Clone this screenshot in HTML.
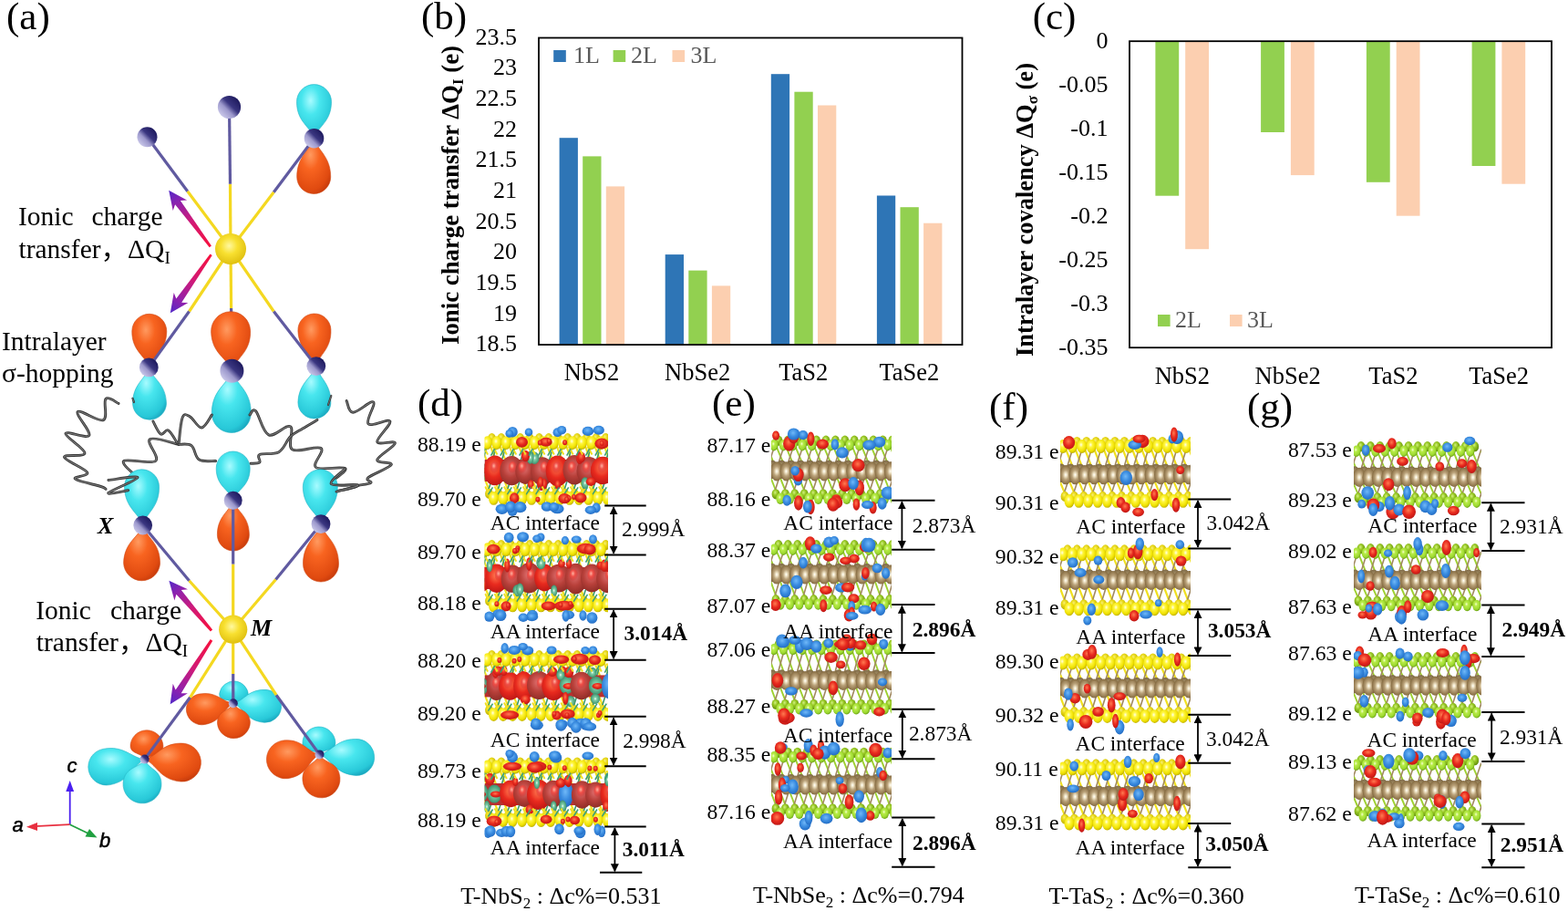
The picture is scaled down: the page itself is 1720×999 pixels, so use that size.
<!DOCTYPE html>
<html><head><meta charset="utf-8"><title>Figure</title>
<style>html,body{margin:0;padding:0;background:#fff;width:1720px;height:999px;overflow:hidden}svg{display:block}</style>
</head><body><svg width="1720" height="999" viewBox="0 0 1720 999">
<defs>
<radialGradient id="gY" cx="0.42" cy="0.38" r="0.62"><stop offset="0" stop-color="#ffffe8"/><stop offset="0.3" stop-color="#fff640"/><stop offset="0.75" stop-color="#f0e200"/><stop offset="1" stop-color="#c4b400"/></radialGradient>
<radialGradient id="gG" cx="0.42" cy="0.38" r="0.62"><stop offset="0" stop-color="#f4ffd0"/><stop offset="0.3" stop-color="#b8ec48"/><stop offset="0.75" stop-color="#9cd830"/><stop offset="1" stop-color="#6ea418"/></radialGradient>
<radialGradient id="gY2" cx="0.42" cy="0.35" r="0.65"><stop offset="0" stop-color="#f8f070"/><stop offset="0.4" stop-color="#e8d818"/><stop offset="1" stop-color="#bcae00"/></radialGradient>
<radialGradient id="gG2" cx="0.42" cy="0.35" r="0.65"><stop offset="0" stop-color="#d0f080"/><stop offset="0.4" stop-color="#98c824"/><stop offset="1" stop-color="#628c0c"/></radialGradient>
<radialGradient id="gT2" cx="0.5" cy="0.5" r="0.6"><stop offset="0" stop-color="#e8dcc0"/><stop offset="0.3" stop-color="#b09a70"/><stop offset="1" stop-color="#6e5a38"/></radialGradient>
<radialGradient id="gT" cx="0.5" cy="0.5" r="0.55"><stop offset="0" stop-color="#ffffff"/><stop offset="0.15" stop-color="#f2e8cc"/><stop offset="0.45" stop-color="#baa27a"/><stop offset="0.85" stop-color="#8c7248"/><stop offset="1" stop-color="#6a5430"/></radialGradient>
<radialGradient id="gR" cx="0.45" cy="0.4" r="0.65"><stop offset="0" stop-color="#ff7a50"/><stop offset="0.5" stop-color="#e82a1e"/><stop offset="1" stop-color="#b81414"/></radialGradient>
<radialGradient id="gR2" cx="0.4" cy="0.35" r="0.6"><stop offset="0" stop-color="#ffb0a0"/><stop offset="0.4" stop-color="#f05048"/><stop offset="1" stop-color="#d02020" stop-opacity="0"/></radialGradient>
<radialGradient id="gDR" cx="0.45" cy="0.4" r="0.65"><stop offset="0" stop-color="#e07070"/><stop offset="0.5" stop-color="#b8403a"/><stop offset="1" stop-color="#8a2a24"/></radialGradient>
<radialGradient id="gB" cx="0.45" cy="0.4" r="0.65"><stop offset="0" stop-color="#70b8f8"/><stop offset="0.5" stop-color="#3a8ce0"/><stop offset="1" stop-color="#2068c0"/></radialGradient>
<radialGradient id="gTeal" cx="0.5" cy="0.5" r="0.6"><stop offset="0" stop-color="#ffffff"/><stop offset="0.25" stop-color="#80d0a8"/><stop offset="1" stop-color="#2a8060"/></radialGradient>
<radialGradient id="gOr" cx="0.4" cy="0.3" r="0.75"><stop offset="0" stop-color="#ff9a60"/><stop offset="0.35" stop-color="#f86420"/><stop offset="0.85" stop-color="#e04a10"/><stop offset="1" stop-color="#c83c0c"/></radialGradient>
<radialGradient id="gCy" cx="0.4" cy="0.3" r="0.75"><stop offset="0" stop-color="#a8fbff"/><stop offset="0.35" stop-color="#48e6ee"/><stop offset="0.85" stop-color="#28c8d8"/><stop offset="1" stop-color="#1aa8c0"/></radialGradient>
<linearGradient id="gX" x1="0.15" y1="0.85" x2="0.85" y2="0.15"><stop offset="0" stop-color="#c8c6e8"/><stop offset="0.35" stop-color="#9c98cc"/><stop offset="0.6" stop-color="#3a3680"/><stop offset="1" stop-color="#1e1a5e"/></linearGradient>
<radialGradient id="gM" cx="0.45" cy="0.4" r="0.6"><stop offset="0" stop-color="#fff8a0"/><stop offset="0.45" stop-color="#f8e030"/><stop offset="1" stop-color="#e0c010"/></radialGradient>
<linearGradient id="gArrU" x1="0" y1="1" x2="0" y2="0"><stop offset="0" stop-color="#f01040"/><stop offset="1" stop-color="#5020d0"/></linearGradient>
<marker id="ah" viewBox="0 0 10 10" refX="9" refY="5" markerWidth="9" markerHeight="9" markerUnits="userSpaceOnUse" orient="auto-start-reverse"><path d="M0,0 L10,5 L0,10 z" fill="#000"/></marker>
</defs>

<text x="7" y="32" font-family="Liberation Serif, serif" font-size="43" font-weight="normal" text-anchor="start" >(a)</text>
<text x="462" y="32" font-family="Liberation Serif, serif" font-size="43" font-weight="normal" text-anchor="start" >(b)</text>
<text x="1132.7" y="32" font-family="Liberation Serif, serif" font-size="43" font-weight="normal" text-anchor="start" >(c)</text>
<text x="458" y="456" font-family="Liberation Serif, serif" font-size="43" font-weight="normal" text-anchor="start" >(d)</text>
<text x="781" y="456" font-family="Liberation Serif, serif" font-size="43" font-weight="normal" text-anchor="start" >(e)</text>
<text x="1085" y="460" font-family="Liberation Serif, serif" font-size="43" font-weight="normal" text-anchor="start" >(f)</text>
<text x="1368" y="460" font-family="Liberation Serif, serif" font-size="43" font-weight="normal" text-anchor="start" >(g)</text>
<rect x="613.6" y="151.2" width="20.3" height="226.8" fill="#2e75b6"/>
<rect x="639.2" y="171.4" width="20.3" height="206.6" fill="#92d050"/>
<rect x="664.8" y="204.4" width="20.3" height="173.6" fill="#fccfb0"/>
<rect x="729.7" y="279.1" width="20.3" height="98.9" fill="#2e75b6"/>
<rect x="755.3" y="296.6" width="20.3" height="81.4" fill="#92d050"/>
<rect x="780.9" y="313.4" width="20.3" height="64.6" fill="#fccfb0"/>
<rect x="845.8" y="81.2" width="20.3" height="296.8" fill="#2e75b6"/>
<rect x="871.4" y="100.7" width="20.3" height="277.3" fill="#92d050"/>
<rect x="897.0" y="115.5" width="20.3" height="262.5" fill="#fccfb0"/>
<rect x="961.9" y="214.5" width="20.3" height="163.5" fill="#2e75b6"/>
<rect x="987.5" y="227.2" width="20.3" height="150.8" fill="#92d050"/>
<rect x="1013.1" y="244.7" width="20.3" height="133.3" fill="#fccfb0"/>
<rect x="591" y="41.5" width="464.5" height="336.5" fill="none" stroke="#000" stroke-width="1.8"/>
<text x="567" y="385.2" font-family="Liberation Serif, serif" font-size="26" font-weight="normal" text-anchor="end" >18.5</text>
<text x="567" y="351.55" font-family="Liberation Serif, serif" font-size="26" font-weight="normal" text-anchor="end" >19</text>
<text x="567" y="317.9" font-family="Liberation Serif, serif" font-size="26" font-weight="normal" text-anchor="end" >19.5</text>
<text x="567" y="284.25" font-family="Liberation Serif, serif" font-size="26" font-weight="normal" text-anchor="end" >20</text>
<text x="567" y="250.6" font-family="Liberation Serif, serif" font-size="26" font-weight="normal" text-anchor="end" >20.5</text>
<text x="567" y="216.95" font-family="Liberation Serif, serif" font-size="26" font-weight="normal" text-anchor="end" >21</text>
<text x="567" y="183.29999999999998" font-family="Liberation Serif, serif" font-size="26" font-weight="normal" text-anchor="end" >21.5</text>
<text x="567" y="149.64999999999998" font-family="Liberation Serif, serif" font-size="26" font-weight="normal" text-anchor="end" >22</text>
<text x="567" y="116.00000000000001" font-family="Liberation Serif, serif" font-size="26" font-weight="normal" text-anchor="end" >22.5</text>
<text x="567" y="82.34999999999998" font-family="Liberation Serif, serif" font-size="26" font-weight="normal" text-anchor="end" >23</text>
<text x="567" y="48.7" font-family="Liberation Serif, serif" font-size="26" font-weight="normal" text-anchor="end" >23.5</text>
<text x="649.0625" y="417" font-family="Liberation Serif, serif" font-size="26.5" font-weight="normal" text-anchor="middle" >NbS2</text>
<text x="765.1875" y="417" font-family="Liberation Serif, serif" font-size="26.5" font-weight="normal" text-anchor="middle" >NbSe2</text>
<text x="881.3125" y="417" font-family="Liberation Serif, serif" font-size="26.5" font-weight="normal" text-anchor="middle" >TaS2</text>
<text x="997.4375" y="417" font-family="Liberation Serif, serif" font-size="26.5" font-weight="normal" text-anchor="middle" >TaSe2</text>
<rect x="607.2" y="55" width="13.6" height="13" fill="#2e75b6"/>
<text x="629" y="69" font-family="Liberation Serif, serif" font-size="26" font-weight="normal" text-anchor="start" fill="#595959">1L</text>
<rect x="672.6" y="55" width="13.6" height="13" fill="#92d050"/>
<text x="692" y="69" font-family="Liberation Serif, serif" font-size="26" font-weight="normal" text-anchor="start" fill="#595959">2L</text>
<rect x="737.5" y="55" width="13.6" height="13" fill="#fccfb0"/>
<text x="757.5" y="69" font-family="Liberation Serif, serif" font-size="26" font-weight="normal" text-anchor="start" fill="#595959">3L</text>
<text transform="translate(503,378) rotate(-90)" font-family="Liberation Serif, serif" font-size="26.8" font-weight="bold">Ionic charge transfer ΔQ<tspan font-size="17" dy="5">I</tspan><tspan dy="-5"> (e)</tspan></text>
<rect x="1267.4" y="45.2" width="25.8" height="169.5" fill="#92d050"/>
<rect x="1300.2" y="45.2" width="25.8" height="228.0" fill="#fccfb0"/>
<rect x="1383.1" y="45.2" width="25.8" height="99.8" fill="#92d050"/>
<rect x="1415.9" y="45.2" width="25.8" height="146.9" fill="#fccfb0"/>
<rect x="1498.9" y="45.2" width="25.8" height="154.6" fill="#92d050"/>
<rect x="1531.7" y="45.2" width="25.8" height="191.5" fill="#fccfb0"/>
<rect x="1614.6" y="45.2" width="25.8" height="136.8" fill="#92d050"/>
<rect x="1647.4" y="45.2" width="25.8" height="156.5" fill="#fccfb0"/>
<rect x="1239" y="45.2" width="463" height="336.0" fill="none" stroke="#000" stroke-width="1.8"/>
<text x="1215.5" y="53.2" font-family="Liberation Serif, serif" font-size="26" font-weight="normal" text-anchor="end" >0</text>
<text x="1215.5" y="101.20000000000002" font-family="Liberation Serif, serif" font-size="26" font-weight="normal" text-anchor="end" >-0.05</text>
<text x="1215.5" y="149.20000000000002" font-family="Liberation Serif, serif" font-size="26" font-weight="normal" text-anchor="end" >-0.1</text>
<text x="1215.5" y="197.20000000000005" font-family="Liberation Serif, serif" font-size="26" font-weight="normal" text-anchor="end" >-0.15</text>
<text x="1215.5" y="245.20000000000005" font-family="Liberation Serif, serif" font-size="26" font-weight="normal" text-anchor="end" >-0.2</text>
<text x="1215.5" y="293.20000000000005" font-family="Liberation Serif, serif" font-size="26" font-weight="normal" text-anchor="end" >-0.25</text>
<text x="1215.5" y="341.20000000000005" font-family="Liberation Serif, serif" font-size="26" font-weight="normal" text-anchor="end" >-0.3</text>
<text x="1215.5" y="389.20000000000005" font-family="Liberation Serif, serif" font-size="26" font-weight="normal" text-anchor="end" >-0.35</text>
<text x="1296.875" y="421" font-family="Liberation Serif, serif" font-size="26.5" font-weight="normal" text-anchor="middle" >NbS2</text>
<text x="1412.625" y="421" font-family="Liberation Serif, serif" font-size="26.5" font-weight="normal" text-anchor="middle" >NbSe2</text>
<text x="1528.375" y="421" font-family="Liberation Serif, serif" font-size="26.5" font-weight="normal" text-anchor="middle" >TaS2</text>
<text x="1644.125" y="421" font-family="Liberation Serif, serif" font-size="26.5" font-weight="normal" text-anchor="middle" >TaSe2</text>
<rect x="1270" y="345" width="13.6" height="13" fill="#92d050"/>
<text x="1289" y="359" font-family="Liberation Serif, serif" font-size="26" font-weight="normal" text-anchor="start" fill="#595959">2L</text>
<rect x="1349" y="345" width="13.6" height="13" fill="#fccfb0"/>
<text x="1368" y="359" font-family="Liberation Serif, serif" font-size="26" font-weight="normal" text-anchor="start" fill="#595959">3L</text>
<text transform="translate(1133,391) rotate(-90)" font-family="Liberation Serif, serif" font-size="26.5" font-weight="bold">Intralayer covalency ΔQ<tspan font-size="17" dy="5">σ</tspan><tspan dy="-5"> (e)</tspan></text>
<clipPath id="clipS1"><rect x="531.5" y="463.6" width="135.5" height="104.79999999999995"/></clipPath><g clip-path="url(#clipS1)">
<line x1="526.1" y1="485.6" x2="538.1" y2="516.0" stroke="#f0e020" stroke-width="2.2"/>
<line x1="528.1" y1="516.0" x2="540.1" y2="546.4" stroke="#f0e020" stroke-width="2.2"/>
<line x1="536.1" y1="483.6" x2="526.1" y2="516.0" stroke="#3a9a70" stroke-width="1.6"/>
<line x1="532.1" y1="516.0" x2="523.1" y2="544.4" stroke="#3a9a70" stroke-width="1.6"/>
<line x1="536.5" y1="485.6" x2="548.5" y2="516.0" stroke="#f0e020" stroke-width="2.2"/>
<line x1="538.5" y1="516.0" x2="550.5" y2="546.4" stroke="#f0e020" stroke-width="2.2"/>
<line x1="546.5" y1="483.6" x2="536.5" y2="516.0" stroke="#3a9a70" stroke-width="1.6"/>
<line x1="542.5" y1="516.0" x2="533.5" y2="544.4" stroke="#3a9a70" stroke-width="1.6"/>
<line x1="546.9" y1="485.6" x2="558.9" y2="516.0" stroke="#f0e020" stroke-width="2.2"/>
<line x1="548.9" y1="516.0" x2="560.9" y2="546.4" stroke="#f0e020" stroke-width="2.2"/>
<line x1="556.9" y1="483.6" x2="546.9" y2="516.0" stroke="#3a9a70" stroke-width="1.6"/>
<line x1="552.9" y1="516.0" x2="543.9" y2="544.4" stroke="#3a9a70" stroke-width="1.6"/>
<line x1="557.3" y1="485.6" x2="569.3" y2="516.0" stroke="#f0e020" stroke-width="2.2"/>
<line x1="559.3" y1="516.0" x2="571.3" y2="546.4" stroke="#f0e020" stroke-width="2.2"/>
<line x1="567.3" y1="483.6" x2="557.3" y2="516.0" stroke="#3a9a70" stroke-width="1.6"/>
<line x1="563.3" y1="516.0" x2="554.3" y2="544.4" stroke="#3a9a70" stroke-width="1.6"/>
<line x1="567.7" y1="485.6" x2="579.7" y2="516.0" stroke="#f0e020" stroke-width="2.2"/>
<line x1="569.7" y1="516.0" x2="581.7" y2="546.4" stroke="#f0e020" stroke-width="2.2"/>
<line x1="577.7" y1="483.6" x2="567.7" y2="516.0" stroke="#3a9a70" stroke-width="1.6"/>
<line x1="573.7" y1="516.0" x2="564.7" y2="544.4" stroke="#3a9a70" stroke-width="1.6"/>
<line x1="578.1" y1="485.6" x2="590.1" y2="516.0" stroke="#f0e020" stroke-width="2.2"/>
<line x1="580.1" y1="516.0" x2="592.1" y2="546.4" stroke="#f0e020" stroke-width="2.2"/>
<line x1="588.1" y1="483.6" x2="578.1" y2="516.0" stroke="#3a9a70" stroke-width="1.6"/>
<line x1="584.1" y1="516.0" x2="575.1" y2="544.4" stroke="#3a9a70" stroke-width="1.6"/>
<line x1="588.5" y1="485.6" x2="600.5" y2="516.0" stroke="#f0e020" stroke-width="2.2"/>
<line x1="590.5" y1="516.0" x2="602.5" y2="546.4" stroke="#f0e020" stroke-width="2.2"/>
<line x1="598.5" y1="483.6" x2="588.5" y2="516.0" stroke="#3a9a70" stroke-width="1.6"/>
<line x1="594.5" y1="516.0" x2="585.5" y2="544.4" stroke="#3a9a70" stroke-width="1.6"/>
<line x1="598.9" y1="485.6" x2="610.9" y2="516.0" stroke="#f0e020" stroke-width="2.2"/>
<line x1="600.9" y1="516.0" x2="612.9" y2="546.4" stroke="#f0e020" stroke-width="2.2"/>
<line x1="608.9" y1="483.6" x2="598.9" y2="516.0" stroke="#3a9a70" stroke-width="1.6"/>
<line x1="604.9" y1="516.0" x2="595.9" y2="544.4" stroke="#3a9a70" stroke-width="1.6"/>
<line x1="609.3" y1="485.6" x2="621.3" y2="516.0" stroke="#f0e020" stroke-width="2.2"/>
<line x1="611.3" y1="516.0" x2="623.3" y2="546.4" stroke="#f0e020" stroke-width="2.2"/>
<line x1="619.3" y1="483.6" x2="609.3" y2="516.0" stroke="#3a9a70" stroke-width="1.6"/>
<line x1="615.3" y1="516.0" x2="606.3" y2="544.4" stroke="#3a9a70" stroke-width="1.6"/>
<line x1="619.7" y1="485.6" x2="631.7" y2="516.0" stroke="#f0e020" stroke-width="2.2"/>
<line x1="621.7" y1="516.0" x2="633.7" y2="546.4" stroke="#f0e020" stroke-width="2.2"/>
<line x1="629.7" y1="483.6" x2="619.7" y2="516.0" stroke="#3a9a70" stroke-width="1.6"/>
<line x1="625.7" y1="516.0" x2="616.7" y2="544.4" stroke="#3a9a70" stroke-width="1.6"/>
<line x1="630.1" y1="485.6" x2="642.1" y2="516.0" stroke="#f0e020" stroke-width="2.2"/>
<line x1="632.1" y1="516.0" x2="644.1" y2="546.4" stroke="#f0e020" stroke-width="2.2"/>
<line x1="640.1" y1="483.6" x2="630.1" y2="516.0" stroke="#3a9a70" stroke-width="1.6"/>
<line x1="636.1" y1="516.0" x2="627.1" y2="544.4" stroke="#3a9a70" stroke-width="1.6"/>
<line x1="640.5" y1="485.6" x2="652.5" y2="516.0" stroke="#f0e020" stroke-width="2.2"/>
<line x1="642.5" y1="516.0" x2="654.5" y2="546.4" stroke="#f0e020" stroke-width="2.2"/>
<line x1="650.5" y1="483.6" x2="640.5" y2="516.0" stroke="#3a9a70" stroke-width="1.6"/>
<line x1="646.5" y1="516.0" x2="637.5" y2="544.4" stroke="#3a9a70" stroke-width="1.6"/>
<line x1="650.9" y1="485.6" x2="662.9" y2="516.0" stroke="#f0e020" stroke-width="2.2"/>
<line x1="652.9" y1="516.0" x2="664.9" y2="546.4" stroke="#f0e020" stroke-width="2.2"/>
<line x1="660.9" y1="483.6" x2="650.9" y2="516.0" stroke="#3a9a70" stroke-width="1.6"/>
<line x1="656.9" y1="516.0" x2="647.9" y2="544.4" stroke="#3a9a70" stroke-width="1.6"/>
<line x1="661.3" y1="485.6" x2="673.3" y2="516.0" stroke="#f0e020" stroke-width="2.2"/>
<line x1="663.3" y1="516.0" x2="675.3" y2="546.4" stroke="#f0e020" stroke-width="2.2"/>
<line x1="671.3" y1="483.6" x2="661.3" y2="516.0" stroke="#3a9a70" stroke-width="1.6"/>
<line x1="667.3" y1="516.0" x2="658.3" y2="544.4" stroke="#3a9a70" stroke-width="1.6"/>
<line x1="671.7" y1="485.6" x2="683.7" y2="516.0" stroke="#f0e020" stroke-width="2.2"/>
<line x1="673.7" y1="516.0" x2="685.7" y2="546.4" stroke="#f0e020" stroke-width="2.2"/>
<line x1="681.7" y1="483.6" x2="671.7" y2="516.0" stroke="#3a9a70" stroke-width="1.6"/>
<line x1="677.7" y1="516.0" x2="668.7" y2="544.4" stroke="#3a9a70" stroke-width="1.6"/>
<ellipse cx="539.5" cy="480.6" rx="4.4" ry="5.6" fill="url(#gY2)"/>
<ellipse cx="536.5" cy="541.4" rx="4.4" ry="5.6" fill="url(#gY2)"/>
<ellipse cx="549.9" cy="480.6" rx="4.4" ry="5.6" fill="url(#gY2)"/>
<ellipse cx="546.9" cy="541.4" rx="4.4" ry="5.6" fill="url(#gY2)"/>
<ellipse cx="560.3" cy="480.6" rx="4.4" ry="5.6" fill="url(#gY2)"/>
<ellipse cx="557.3" cy="541.4" rx="4.4" ry="5.6" fill="url(#gY2)"/>
<ellipse cx="570.7" cy="480.6" rx="4.4" ry="5.6" fill="url(#gY2)"/>
<ellipse cx="567.7" cy="541.4" rx="4.4" ry="5.6" fill="url(#gY2)"/>
<ellipse cx="581.1" cy="480.6" rx="4.4" ry="5.6" fill="url(#gY2)"/>
<ellipse cx="578.1" cy="541.4" rx="4.4" ry="5.6" fill="url(#gY2)"/>
<ellipse cx="591.5" cy="480.6" rx="4.4" ry="5.6" fill="url(#gY2)"/>
<ellipse cx="588.5" cy="541.4" rx="4.4" ry="5.6" fill="url(#gY2)"/>
<ellipse cx="601.9" cy="480.6" rx="4.4" ry="5.6" fill="url(#gY2)"/>
<ellipse cx="598.9" cy="541.4" rx="4.4" ry="5.6" fill="url(#gY2)"/>
<ellipse cx="612.3" cy="480.6" rx="4.4" ry="5.6" fill="url(#gY2)"/>
<ellipse cx="609.3" cy="541.4" rx="4.4" ry="5.6" fill="url(#gY2)"/>
<ellipse cx="622.7" cy="480.6" rx="4.4" ry="5.6" fill="url(#gY2)"/>
<ellipse cx="619.7" cy="541.4" rx="4.4" ry="5.6" fill="url(#gY2)"/>
<ellipse cx="633.1" cy="480.6" rx="4.4" ry="5.6" fill="url(#gY2)"/>
<ellipse cx="630.1" cy="541.4" rx="4.4" ry="5.6" fill="url(#gY2)"/>
<ellipse cx="643.5" cy="480.6" rx="4.4" ry="5.6" fill="url(#gY2)"/>
<ellipse cx="640.5" cy="541.4" rx="4.4" ry="5.6" fill="url(#gY2)"/>
<ellipse cx="653.9" cy="480.6" rx="4.4" ry="5.6" fill="url(#gY2)"/>
<ellipse cx="650.9" cy="541.4" rx="4.4" ry="5.6" fill="url(#gY2)"/>
<ellipse cx="664.3" cy="480.6" rx="4.4" ry="5.6" fill="url(#gY2)"/>
<ellipse cx="661.3" cy="541.4" rx="4.4" ry="5.6" fill="url(#gY2)"/>
<rect x="531.5" y="504" width="135.5" height="24" fill="#b83030"/>
<ellipse cx="527.5" cy="517.4" rx="8.0" ry="10.0" fill="url(#gTeal)"/>
<ellipse cx="528.6" cy="516.0" rx="6.0" ry="3.5" fill="url(#gR)"/>
<ellipse cx="542.8" cy="515.9" rx="12.6" ry="16.4" fill="url(#gR)"/>
<ellipse cx="542.7" cy="513.0" rx="5.0" ry="7.0" fill="url(#gR2)"/>
<ellipse cx="561.2" cy="516.2" rx="12.9" ry="16.1" fill="url(#gDR)"/>
<ellipse cx="562.6" cy="513.0" rx="5.0" ry="7.0" fill="url(#gR2)"/>
<ellipse cx="576.4" cy="516.8" rx="11.1" ry="14.1" fill="url(#gDR)"/>
<ellipse cx="573.4" cy="513.0" rx="5.0" ry="7.0" fill="url(#gR2)"/>
<ellipse cx="594.8" cy="516.9" rx="12.8" ry="15.6" fill="url(#gDR)"/>
<ellipse cx="597.4" cy="513.0" rx="5.0" ry="7.0" fill="url(#gR2)"/>
<ellipse cx="611.6" cy="516.4" rx="12.9" ry="16.9" fill="url(#gR)"/>
<ellipse cx="611.1" cy="513.0" rx="5.0" ry="7.0" fill="url(#gR2)"/>
<ellipse cx="630.1" cy="515.2" rx="12.6" ry="16.2" fill="url(#gDR)"/>
<ellipse cx="627.9" cy="513.0" rx="5.0" ry="7.0" fill="url(#gR2)"/>
<ellipse cx="645.8" cy="516.4" rx="13.3" ry="15.3" fill="url(#gDR)"/>
<ellipse cx="643.9" cy="513.0" rx="5.0" ry="7.0" fill="url(#gR2)"/>
<ellipse cx="661.2" cy="516.0" rx="13.4" ry="15.2" fill="url(#gR)"/>
<ellipse cx="661.1" cy="513.0" rx="5.0" ry="7.0" fill="url(#gR2)"/>
<ellipse cx="586.3" cy="502.2" rx="5.2" ry="6.8" fill="url(#gTeal)"/>
<ellipse cx="582.3" cy="531.3" rx="3.3" ry="5.0" fill="url(#gR)"/>
<ellipse cx="581.7" cy="501.7" rx="3.8" ry="7.0" fill="url(#gTeal)"/>
<ellipse cx="611.9" cy="531.2" rx="3.4" ry="5.2" fill="url(#gR)"/>
<ellipse cx="635.9" cy="502.0" rx="3.9" ry="7.0" fill="url(#gR)"/>
<ellipse cx="593.7" cy="531.3" rx="4.5" ry="6.7" fill="url(#gR)"/>
<ellipse cx="637.7" cy="501.4" rx="4.4" ry="5.8" fill="url(#gR)"/>
<ellipse cx="596.7" cy="530.8" rx="3.5" ry="6.0" fill="url(#gR)"/>
<ellipse cx="641.7" cy="529.7" rx="4.3" ry="6.4" fill="url(#gTeal)"/>
<ellipse cx="576.4" cy="500.0" rx="4.6" ry="6.2" fill="url(#gR)"/>
<ellipse cx="648.2" cy="528.2" rx="5.4" ry="4.7" fill="url(#gR)"/>
<ellipse cx="592.9" cy="529.2" rx="3.3" ry="6.4" fill="url(#gR)"/>
<line x1="530.1" y1="489.6" x2="535.1" y2="498.6" stroke="#f0e020" stroke-width="2"/>
<line x1="532.1" y1="533.4" x2="537.1" y2="542.4" stroke="#f0e020" stroke-width="2"/>
<line x1="533.1" y1="490.6" x2="528.1" y2="499.6" stroke="#3aa078" stroke-width="1.6"/>
<line x1="530.1" y1="534.4" x2="525.1" y2="542.4" stroke="#3aa078" stroke-width="1.6"/>
<line x1="540.5" y1="489.6" x2="545.5" y2="498.6" stroke="#f0e020" stroke-width="2"/>
<line x1="542.5" y1="533.4" x2="547.5" y2="542.4" stroke="#f0e020" stroke-width="2"/>
<line x1="543.5" y1="490.6" x2="538.5" y2="499.6" stroke="#3aa078" stroke-width="1.6"/>
<line x1="540.5" y1="534.4" x2="535.5" y2="542.4" stroke="#3aa078" stroke-width="1.6"/>
<line x1="550.9" y1="489.6" x2="555.9" y2="498.6" stroke="#f0e020" stroke-width="2"/>
<line x1="552.9" y1="533.4" x2="557.9" y2="542.4" stroke="#f0e020" stroke-width="2"/>
<line x1="553.9" y1="490.6" x2="548.9" y2="499.6" stroke="#3aa078" stroke-width="1.6"/>
<line x1="550.9" y1="534.4" x2="545.9" y2="542.4" stroke="#3aa078" stroke-width="1.6"/>
<line x1="561.3" y1="489.6" x2="566.3" y2="498.6" stroke="#f0e020" stroke-width="2"/>
<line x1="563.3" y1="533.4" x2="568.3" y2="542.4" stroke="#f0e020" stroke-width="2"/>
<line x1="564.3" y1="490.6" x2="559.3" y2="499.6" stroke="#3aa078" stroke-width="1.6"/>
<line x1="561.3" y1="534.4" x2="556.3" y2="542.4" stroke="#3aa078" stroke-width="1.6"/>
<line x1="571.7" y1="489.6" x2="576.7" y2="498.6" stroke="#f0e020" stroke-width="2"/>
<line x1="573.7" y1="533.4" x2="578.7" y2="542.4" stroke="#f0e020" stroke-width="2"/>
<line x1="574.7" y1="490.6" x2="569.7" y2="499.6" stroke="#3aa078" stroke-width="1.6"/>
<line x1="571.7" y1="534.4" x2="566.7" y2="542.4" stroke="#3aa078" stroke-width="1.6"/>
<line x1="582.1" y1="489.6" x2="587.1" y2="498.6" stroke="#f0e020" stroke-width="2"/>
<line x1="584.1" y1="533.4" x2="589.1" y2="542.4" stroke="#f0e020" stroke-width="2"/>
<line x1="585.1" y1="490.6" x2="580.1" y2="499.6" stroke="#3aa078" stroke-width="1.6"/>
<line x1="582.1" y1="534.4" x2="577.1" y2="542.4" stroke="#3aa078" stroke-width="1.6"/>
<line x1="592.5" y1="489.6" x2="597.5" y2="498.6" stroke="#f0e020" stroke-width="2"/>
<line x1="594.5" y1="533.4" x2="599.5" y2="542.4" stroke="#f0e020" stroke-width="2"/>
<line x1="595.5" y1="490.6" x2="590.5" y2="499.6" stroke="#3aa078" stroke-width="1.6"/>
<line x1="592.5" y1="534.4" x2="587.5" y2="542.4" stroke="#3aa078" stroke-width="1.6"/>
<line x1="602.9" y1="489.6" x2="607.9" y2="498.6" stroke="#f0e020" stroke-width="2"/>
<line x1="604.9" y1="533.4" x2="609.9" y2="542.4" stroke="#f0e020" stroke-width="2"/>
<line x1="605.9" y1="490.6" x2="600.9" y2="499.6" stroke="#3aa078" stroke-width="1.6"/>
<line x1="602.9" y1="534.4" x2="597.9" y2="542.4" stroke="#3aa078" stroke-width="1.6"/>
<line x1="613.3" y1="489.6" x2="618.3" y2="498.6" stroke="#f0e020" stroke-width="2"/>
<line x1="615.3" y1="533.4" x2="620.3" y2="542.4" stroke="#f0e020" stroke-width="2"/>
<line x1="616.3" y1="490.6" x2="611.3" y2="499.6" stroke="#3aa078" stroke-width="1.6"/>
<line x1="613.3" y1="534.4" x2="608.3" y2="542.4" stroke="#3aa078" stroke-width="1.6"/>
<line x1="623.7" y1="489.6" x2="628.7" y2="498.6" stroke="#f0e020" stroke-width="2"/>
<line x1="625.7" y1="533.4" x2="630.7" y2="542.4" stroke="#f0e020" stroke-width="2"/>
<line x1="626.7" y1="490.6" x2="621.7" y2="499.6" stroke="#3aa078" stroke-width="1.6"/>
<line x1="623.7" y1="534.4" x2="618.7" y2="542.4" stroke="#3aa078" stroke-width="1.6"/>
<line x1="634.1" y1="489.6" x2="639.1" y2="498.6" stroke="#f0e020" stroke-width="2"/>
<line x1="636.1" y1="533.4" x2="641.1" y2="542.4" stroke="#f0e020" stroke-width="2"/>
<line x1="637.1" y1="490.6" x2="632.1" y2="499.6" stroke="#3aa078" stroke-width="1.6"/>
<line x1="634.1" y1="534.4" x2="629.1" y2="542.4" stroke="#3aa078" stroke-width="1.6"/>
<line x1="644.5" y1="489.6" x2="649.5" y2="498.6" stroke="#f0e020" stroke-width="2"/>
<line x1="646.5" y1="533.4" x2="651.5" y2="542.4" stroke="#f0e020" stroke-width="2"/>
<line x1="647.5" y1="490.6" x2="642.5" y2="499.6" stroke="#3aa078" stroke-width="1.6"/>
<line x1="644.5" y1="534.4" x2="639.5" y2="542.4" stroke="#3aa078" stroke-width="1.6"/>
<line x1="654.9" y1="489.6" x2="659.9" y2="498.6" stroke="#f0e020" stroke-width="2"/>
<line x1="656.9" y1="533.4" x2="661.9" y2="542.4" stroke="#f0e020" stroke-width="2"/>
<line x1="657.9" y1="490.6" x2="652.9" y2="499.6" stroke="#3aa078" stroke-width="1.6"/>
<line x1="654.9" y1="534.4" x2="649.9" y2="542.4" stroke="#3aa078" stroke-width="1.6"/>
<line x1="665.3" y1="489.6" x2="670.3" y2="498.6" stroke="#f0e020" stroke-width="2"/>
<line x1="667.3" y1="533.4" x2="672.3" y2="542.4" stroke="#f0e020" stroke-width="2"/>
<line x1="668.3" y1="490.6" x2="663.3" y2="499.6" stroke="#3aa078" stroke-width="1.6"/>
<line x1="665.3" y1="534.4" x2="660.3" y2="542.4" stroke="#3aa078" stroke-width="1.6"/>
<line x1="675.7" y1="489.6" x2="680.7" y2="498.6" stroke="#f0e020" stroke-width="2"/>
<line x1="677.7" y1="533.4" x2="682.7" y2="542.4" stroke="#f0e020" stroke-width="2"/>
<line x1="678.7" y1="490.6" x2="673.7" y2="499.6" stroke="#3aa078" stroke-width="1.6"/>
<line x1="675.7" y1="534.4" x2="670.7" y2="542.4" stroke="#3aa078" stroke-width="1.6"/>
<ellipse cx="534.5" cy="485.6" rx="5.5" ry="7.4" fill="url(#gY)"/>
<ellipse cx="544.9" cy="485.6" rx="5.5" ry="7.4" fill="url(#gY)"/>
<ellipse cx="555.3" cy="485.6" rx="5.5" ry="7.4" fill="url(#gY)"/>
<ellipse cx="565.7" cy="485.6" rx="5.5" ry="7.4" fill="url(#gY)"/>
<ellipse cx="576.1" cy="485.6" rx="5.5" ry="7.4" fill="url(#gY)"/>
<ellipse cx="586.5" cy="485.6" rx="5.5" ry="7.4" fill="url(#gY)"/>
<ellipse cx="596.9" cy="485.6" rx="5.5" ry="7.4" fill="url(#gY)"/>
<ellipse cx="607.3" cy="485.6" rx="5.5" ry="7.4" fill="url(#gY)"/>
<ellipse cx="617.7" cy="485.6" rx="5.5" ry="7.4" fill="url(#gY)"/>
<ellipse cx="628.1" cy="485.6" rx="5.5" ry="7.4" fill="url(#gY)"/>
<ellipse cx="638.5" cy="485.6" rx="5.5" ry="7.4" fill="url(#gY)"/>
<ellipse cx="648.9" cy="485.6" rx="5.5" ry="7.4" fill="url(#gY)"/>
<ellipse cx="659.3" cy="485.6" rx="5.5" ry="7.4" fill="url(#gY)"/>
<ellipse cx="541.5" cy="546.4" rx="5.5" ry="7.4" fill="url(#gY)"/>
<ellipse cx="551.9" cy="546.4" rx="5.5" ry="7.4" fill="url(#gY)"/>
<ellipse cx="562.3" cy="546.4" rx="5.5" ry="7.4" fill="url(#gY)"/>
<ellipse cx="572.7" cy="546.4" rx="5.5" ry="7.4" fill="url(#gY)"/>
<ellipse cx="583.1" cy="546.4" rx="5.5" ry="7.4" fill="url(#gY)"/>
<ellipse cx="593.5" cy="546.4" rx="5.5" ry="7.4" fill="url(#gY)"/>
<ellipse cx="603.9" cy="546.4" rx="5.5" ry="7.4" fill="url(#gY)"/>
<ellipse cx="614.3" cy="546.4" rx="5.5" ry="7.4" fill="url(#gY)"/>
<ellipse cx="624.7" cy="546.4" rx="5.5" ry="7.4" fill="url(#gY)"/>
<ellipse cx="635.1" cy="546.4" rx="5.5" ry="7.4" fill="url(#gY)"/>
<ellipse cx="645.5" cy="546.4" rx="5.5" ry="7.4" fill="url(#gY)"/>
<ellipse cx="655.9" cy="546.4" rx="5.5" ry="7.4" fill="url(#gY)"/>
<ellipse cx="666.3" cy="546.4" rx="5.5" ry="7.4" fill="url(#gY)"/>
<ellipse cx="572.5" cy="484.9" rx="6.5" ry="5.9" fill="url(#gR)"/>
<ellipse cx="619.2" cy="546.7" rx="6.8" ry="5.6" fill="url(#gR)"/>
<ellipse cx="598.8" cy="484.8" rx="6.9" ry="5.0" fill="url(#gR)"/>
<ellipse cx="637.0" cy="545.9" rx="6.5" ry="5.6" fill="url(#gR)"/>
<ellipse cx="660.0" cy="486.5" rx="7.6" ry="6.0" fill="url(#gR)"/>
<ellipse cx="564.2" cy="546.2" rx="5.2" ry="5.9" fill="url(#gR)"/>
<ellipse cx="592.3" cy="485.6" rx="2.5" ry="3.0" fill="url(#gR)"/>
<ellipse cx="589.9" cy="547.7" rx="2.5" ry="3.0" fill="url(#gR)"/>
<ellipse cx="660.1" cy="486.1" rx="2.5" ry="3.0" fill="url(#gR)"/>
<ellipse cx="624.1" cy="546.2" rx="2.5" ry="3.0" fill="url(#gR)"/>
<ellipse cx="602.3" cy="483.7" rx="2.5" ry="3.0" fill="url(#gR)"/>
<ellipse cx="621.6" cy="547.6" rx="2.5" ry="3.0" fill="url(#gR)"/>
<ellipse cx="619.6" cy="485.3" rx="2.5" ry="3.0" fill="url(#gR)"/>
<ellipse cx="629.5" cy="544.9" rx="2.5" ry="3.0" fill="url(#gR)"/>
<ellipse cx="561.4" cy="555.6" rx="4.2" ry="4.7" fill="url(#gB)"/>
<ellipse cx="654.1" cy="556.9" rx="4.6" ry="5.6" fill="url(#gB)"/>
<ellipse cx="550.6" cy="558.2" rx="7.0" ry="5.7" fill="url(#gB)"/>
<ellipse cx="562.1" cy="559.9" rx="5.6" ry="6.2" fill="url(#gB)"/>
<ellipse cx="647.9" cy="559.3" rx="6.2" ry="4.6" fill="url(#gB)"/>
<ellipse cx="559.9" cy="555.9" rx="6.0" ry="6.3" fill="url(#gB)"/>
<ellipse cx="611.3" cy="557.9" rx="7.3" ry="5.3" fill="url(#gB)"/>
<ellipse cx="599.8" cy="555.5" rx="6.1" ry="5.3" fill="url(#gB)"/>
<ellipse cx="570.5" cy="556.2" rx="7.0" ry="6.1" fill="url(#gB)"/>
<ellipse cx="607.6" cy="556.1" rx="5.5" ry="5.0" fill="url(#gB)"/>
<ellipse cx="562.2" cy="473.7" rx="5.6" ry="5.8" fill="url(#gB)"/>
<ellipse cx="644.9" cy="472.9" rx="6.3" ry="5.1" fill="url(#gB)"/>
<ellipse cx="558.8" cy="475.4" rx="4.4" ry="4.3" fill="url(#gB)"/>
<ellipse cx="611.5" cy="474.3" rx="5.0" ry="5.0" fill="url(#gB)"/>
<ellipse cx="580.0" cy="473.9" rx="4.3" ry="4.5" fill="url(#gB)"/>
<ellipse cx="656.8" cy="471.7" rx="6.1" ry="5.0" fill="url(#gB)"/>
<ellipse cx="616.2" cy="471.7" rx="5.0" ry="4.8" fill="url(#gB)"/>
</g>
<clipPath id="clipS2"><rect x="531.5" y="580.7" width="135.5" height="105.19999999999993"/></clipPath><g clip-path="url(#clipS2)">
<line x1="526.1" y1="602.7" x2="538.1" y2="634.0" stroke="#f0e020" stroke-width="2.2"/>
<line x1="528.1" y1="634.0" x2="540.1" y2="663.9" stroke="#f0e020" stroke-width="2.2"/>
<line x1="536.1" y1="600.7" x2="526.1" y2="634.0" stroke="#3a9a70" stroke-width="1.6"/>
<line x1="532.1" y1="634.0" x2="523.1" y2="661.9" stroke="#3a9a70" stroke-width="1.6"/>
<line x1="536.5" y1="602.7" x2="548.5" y2="634.0" stroke="#f0e020" stroke-width="2.2"/>
<line x1="538.5" y1="634.0" x2="550.5" y2="663.9" stroke="#f0e020" stroke-width="2.2"/>
<line x1="546.5" y1="600.7" x2="536.5" y2="634.0" stroke="#3a9a70" stroke-width="1.6"/>
<line x1="542.5" y1="634.0" x2="533.5" y2="661.9" stroke="#3a9a70" stroke-width="1.6"/>
<line x1="546.9" y1="602.7" x2="558.9" y2="634.0" stroke="#f0e020" stroke-width="2.2"/>
<line x1="548.9" y1="634.0" x2="560.9" y2="663.9" stroke="#f0e020" stroke-width="2.2"/>
<line x1="556.9" y1="600.7" x2="546.9" y2="634.0" stroke="#3a9a70" stroke-width="1.6"/>
<line x1="552.9" y1="634.0" x2="543.9" y2="661.9" stroke="#3a9a70" stroke-width="1.6"/>
<line x1="557.3" y1="602.7" x2="569.3" y2="634.0" stroke="#f0e020" stroke-width="2.2"/>
<line x1="559.3" y1="634.0" x2="571.3" y2="663.9" stroke="#f0e020" stroke-width="2.2"/>
<line x1="567.3" y1="600.7" x2="557.3" y2="634.0" stroke="#3a9a70" stroke-width="1.6"/>
<line x1="563.3" y1="634.0" x2="554.3" y2="661.9" stroke="#3a9a70" stroke-width="1.6"/>
<line x1="567.7" y1="602.7" x2="579.7" y2="634.0" stroke="#f0e020" stroke-width="2.2"/>
<line x1="569.7" y1="634.0" x2="581.7" y2="663.9" stroke="#f0e020" stroke-width="2.2"/>
<line x1="577.7" y1="600.7" x2="567.7" y2="634.0" stroke="#3a9a70" stroke-width="1.6"/>
<line x1="573.7" y1="634.0" x2="564.7" y2="661.9" stroke="#3a9a70" stroke-width="1.6"/>
<line x1="578.1" y1="602.7" x2="590.1" y2="634.0" stroke="#f0e020" stroke-width="2.2"/>
<line x1="580.1" y1="634.0" x2="592.1" y2="663.9" stroke="#f0e020" stroke-width="2.2"/>
<line x1="588.1" y1="600.7" x2="578.1" y2="634.0" stroke="#3a9a70" stroke-width="1.6"/>
<line x1="584.1" y1="634.0" x2="575.1" y2="661.9" stroke="#3a9a70" stroke-width="1.6"/>
<line x1="588.5" y1="602.7" x2="600.5" y2="634.0" stroke="#f0e020" stroke-width="2.2"/>
<line x1="590.5" y1="634.0" x2="602.5" y2="663.9" stroke="#f0e020" stroke-width="2.2"/>
<line x1="598.5" y1="600.7" x2="588.5" y2="634.0" stroke="#3a9a70" stroke-width="1.6"/>
<line x1="594.5" y1="634.0" x2="585.5" y2="661.9" stroke="#3a9a70" stroke-width="1.6"/>
<line x1="598.9" y1="602.7" x2="610.9" y2="634.0" stroke="#f0e020" stroke-width="2.2"/>
<line x1="600.9" y1="634.0" x2="612.9" y2="663.9" stroke="#f0e020" stroke-width="2.2"/>
<line x1="608.9" y1="600.7" x2="598.9" y2="634.0" stroke="#3a9a70" stroke-width="1.6"/>
<line x1="604.9" y1="634.0" x2="595.9" y2="661.9" stroke="#3a9a70" stroke-width="1.6"/>
<line x1="609.3" y1="602.7" x2="621.3" y2="634.0" stroke="#f0e020" stroke-width="2.2"/>
<line x1="611.3" y1="634.0" x2="623.3" y2="663.9" stroke="#f0e020" stroke-width="2.2"/>
<line x1="619.3" y1="600.7" x2="609.3" y2="634.0" stroke="#3a9a70" stroke-width="1.6"/>
<line x1="615.3" y1="634.0" x2="606.3" y2="661.9" stroke="#3a9a70" stroke-width="1.6"/>
<line x1="619.7" y1="602.7" x2="631.7" y2="634.0" stroke="#f0e020" stroke-width="2.2"/>
<line x1="621.7" y1="634.0" x2="633.7" y2="663.9" stroke="#f0e020" stroke-width="2.2"/>
<line x1="629.7" y1="600.7" x2="619.7" y2="634.0" stroke="#3a9a70" stroke-width="1.6"/>
<line x1="625.7" y1="634.0" x2="616.7" y2="661.9" stroke="#3a9a70" stroke-width="1.6"/>
<line x1="630.1" y1="602.7" x2="642.1" y2="634.0" stroke="#f0e020" stroke-width="2.2"/>
<line x1="632.1" y1="634.0" x2="644.1" y2="663.9" stroke="#f0e020" stroke-width="2.2"/>
<line x1="640.1" y1="600.7" x2="630.1" y2="634.0" stroke="#3a9a70" stroke-width="1.6"/>
<line x1="636.1" y1="634.0" x2="627.1" y2="661.9" stroke="#3a9a70" stroke-width="1.6"/>
<line x1="640.5" y1="602.7" x2="652.5" y2="634.0" stroke="#f0e020" stroke-width="2.2"/>
<line x1="642.5" y1="634.0" x2="654.5" y2="663.9" stroke="#f0e020" stroke-width="2.2"/>
<line x1="650.5" y1="600.7" x2="640.5" y2="634.0" stroke="#3a9a70" stroke-width="1.6"/>
<line x1="646.5" y1="634.0" x2="637.5" y2="661.9" stroke="#3a9a70" stroke-width="1.6"/>
<line x1="650.9" y1="602.7" x2="662.9" y2="634.0" stroke="#f0e020" stroke-width="2.2"/>
<line x1="652.9" y1="634.0" x2="664.9" y2="663.9" stroke="#f0e020" stroke-width="2.2"/>
<line x1="660.9" y1="600.7" x2="650.9" y2="634.0" stroke="#3a9a70" stroke-width="1.6"/>
<line x1="656.9" y1="634.0" x2="647.9" y2="661.9" stroke="#3a9a70" stroke-width="1.6"/>
<line x1="661.3" y1="602.7" x2="673.3" y2="634.0" stroke="#f0e020" stroke-width="2.2"/>
<line x1="663.3" y1="634.0" x2="675.3" y2="663.9" stroke="#f0e020" stroke-width="2.2"/>
<line x1="671.3" y1="600.7" x2="661.3" y2="634.0" stroke="#3a9a70" stroke-width="1.6"/>
<line x1="667.3" y1="634.0" x2="658.3" y2="661.9" stroke="#3a9a70" stroke-width="1.6"/>
<line x1="671.7" y1="602.7" x2="683.7" y2="634.0" stroke="#f0e020" stroke-width="2.2"/>
<line x1="673.7" y1="634.0" x2="685.7" y2="663.9" stroke="#f0e020" stroke-width="2.2"/>
<line x1="681.7" y1="600.7" x2="671.7" y2="634.0" stroke="#3a9a70" stroke-width="1.6"/>
<line x1="677.7" y1="634.0" x2="668.7" y2="661.9" stroke="#3a9a70" stroke-width="1.6"/>
<ellipse cx="539.5" cy="597.7" rx="4.4" ry="5.6" fill="url(#gY2)"/>
<ellipse cx="536.5" cy="658.9" rx="4.4" ry="5.6" fill="url(#gY2)"/>
<ellipse cx="549.9" cy="597.7" rx="4.4" ry="5.6" fill="url(#gY2)"/>
<ellipse cx="546.9" cy="658.9" rx="4.4" ry="5.6" fill="url(#gY2)"/>
<ellipse cx="560.3" cy="597.7" rx="4.4" ry="5.6" fill="url(#gY2)"/>
<ellipse cx="557.3" cy="658.9" rx="4.4" ry="5.6" fill="url(#gY2)"/>
<ellipse cx="570.7" cy="597.7" rx="4.4" ry="5.6" fill="url(#gY2)"/>
<ellipse cx="567.7" cy="658.9" rx="4.4" ry="5.6" fill="url(#gY2)"/>
<ellipse cx="581.1" cy="597.7" rx="4.4" ry="5.6" fill="url(#gY2)"/>
<ellipse cx="578.1" cy="658.9" rx="4.4" ry="5.6" fill="url(#gY2)"/>
<ellipse cx="591.5" cy="597.7" rx="4.4" ry="5.6" fill="url(#gY2)"/>
<ellipse cx="588.5" cy="658.9" rx="4.4" ry="5.6" fill="url(#gY2)"/>
<ellipse cx="601.9" cy="597.7" rx="4.4" ry="5.6" fill="url(#gY2)"/>
<ellipse cx="598.9" cy="658.9" rx="4.4" ry="5.6" fill="url(#gY2)"/>
<ellipse cx="612.3" cy="597.7" rx="4.4" ry="5.6" fill="url(#gY2)"/>
<ellipse cx="609.3" cy="658.9" rx="4.4" ry="5.6" fill="url(#gY2)"/>
<ellipse cx="622.7" cy="597.7" rx="4.4" ry="5.6" fill="url(#gY2)"/>
<ellipse cx="619.7" cy="658.9" rx="4.4" ry="5.6" fill="url(#gY2)"/>
<ellipse cx="633.1" cy="597.7" rx="4.4" ry="5.6" fill="url(#gY2)"/>
<ellipse cx="630.1" cy="658.9" rx="4.4" ry="5.6" fill="url(#gY2)"/>
<ellipse cx="643.5" cy="597.7" rx="4.4" ry="5.6" fill="url(#gY2)"/>
<ellipse cx="640.5" cy="658.9" rx="4.4" ry="5.6" fill="url(#gY2)"/>
<ellipse cx="653.9" cy="597.7" rx="4.4" ry="5.6" fill="url(#gY2)"/>
<ellipse cx="650.9" cy="658.9" rx="4.4" ry="5.6" fill="url(#gY2)"/>
<ellipse cx="664.3" cy="597.7" rx="4.4" ry="5.6" fill="url(#gY2)"/>
<ellipse cx="661.3" cy="658.9" rx="4.4" ry="5.6" fill="url(#gY2)"/>
<rect x="531.5" y="622" width="135.5" height="24" fill="#b83030"/>
<ellipse cx="527.5" cy="634.9" rx="11.1" ry="14.3" fill="url(#gR)"/>
<ellipse cx="528.9" cy="631.0" rx="5.0" ry="7.0" fill="url(#gR2)"/>
<ellipse cx="544.8" cy="634.2" rx="12.5" ry="15.7" fill="url(#gR)"/>
<ellipse cx="547.8" cy="631.0" rx="5.0" ry="7.0" fill="url(#gR2)"/>
<ellipse cx="562.0" cy="634.7" rx="12.3" ry="15.1" fill="url(#gDR)"/>
<ellipse cx="562.1" cy="631.0" rx="5.0" ry="7.0" fill="url(#gR2)"/>
<ellipse cx="580.5" cy="633.7" rx="13.3" ry="16.7" fill="url(#gDR)"/>
<ellipse cx="582.9" cy="631.0" rx="5.0" ry="7.0" fill="url(#gR2)"/>
<ellipse cx="597.2" cy="633.5" rx="11.1" ry="15.0" fill="url(#gR)"/>
<ellipse cx="597.2" cy="631.0" rx="5.0" ry="7.0" fill="url(#gR2)"/>
<ellipse cx="613.0" cy="634.1" rx="13.5" ry="15.3" fill="url(#gDR)"/>
<ellipse cx="614.4" cy="631.0" rx="5.0" ry="7.0" fill="url(#gR2)"/>
<ellipse cx="631.5" cy="634.6" rx="11.9" ry="16.9" fill="url(#gDR)"/>
<ellipse cx="629.5" cy="631.0" rx="5.0" ry="7.0" fill="url(#gR2)"/>
<ellipse cx="649.3" cy="633.9" rx="12.3" ry="15.5" fill="url(#gDR)"/>
<ellipse cx="649.3" cy="631.0" rx="5.0" ry="7.0" fill="url(#gR2)"/>
<ellipse cx="667.4" cy="634.8" rx="13.2" ry="15.4" fill="url(#gDR)"/>
<ellipse cx="668.8" cy="631.0" rx="5.0" ry="7.0" fill="url(#gR2)"/>
<ellipse cx="593.4" cy="617.3" rx="5.0" ry="7.0" fill="url(#gTeal)"/>
<ellipse cx="567.8" cy="647.5" rx="5.4" ry="6.6" fill="url(#gTeal)"/>
<ellipse cx="607.7" cy="647.6" rx="3.5" ry="6.0" fill="url(#gTeal)"/>
<ellipse cx="616.0" cy="618.1" rx="3.9" ry="4.5" fill="url(#gR)"/>
<ellipse cx="666.6" cy="621.7" rx="4.6" ry="5.3" fill="url(#gR)"/>
<ellipse cx="624.0" cy="618.2" rx="3.3" ry="5.3" fill="url(#gR)"/>
<ellipse cx="659.4" cy="619.9" rx="4.8" ry="4.6" fill="url(#gR)"/>
<ellipse cx="580.3" cy="618.6" rx="3.2" ry="7.4" fill="url(#gR)"/>
<ellipse cx="537.0" cy="620.1" rx="3.3" ry="7.3" fill="url(#gTeal)"/>
<ellipse cx="556.4" cy="620.1" rx="3.1" ry="7.5" fill="url(#gR)"/>
<ellipse cx="663.0" cy="620.3" rx="4.5" ry="6.7" fill="url(#gR)"/>
<ellipse cx="570.3" cy="646.2" rx="4.1" ry="6.8" fill="url(#gTeal)"/>
<line x1="530.1" y1="606.7" x2="535.1" y2="615.7" stroke="#f0e020" stroke-width="2"/>
<line x1="532.1" y1="650.9" x2="537.1" y2="659.9" stroke="#f0e020" stroke-width="2"/>
<line x1="533.1" y1="607.7" x2="528.1" y2="616.7" stroke="#3aa078" stroke-width="1.6"/>
<line x1="530.1" y1="651.9" x2="525.1" y2="659.9" stroke="#3aa078" stroke-width="1.6"/>
<line x1="540.5" y1="606.7" x2="545.5" y2="615.7" stroke="#f0e020" stroke-width="2"/>
<line x1="542.5" y1="650.9" x2="547.5" y2="659.9" stroke="#f0e020" stroke-width="2"/>
<line x1="543.5" y1="607.7" x2="538.5" y2="616.7" stroke="#3aa078" stroke-width="1.6"/>
<line x1="540.5" y1="651.9" x2="535.5" y2="659.9" stroke="#3aa078" stroke-width="1.6"/>
<line x1="550.9" y1="606.7" x2="555.9" y2="615.7" stroke="#f0e020" stroke-width="2"/>
<line x1="552.9" y1="650.9" x2="557.9" y2="659.9" stroke="#f0e020" stroke-width="2"/>
<line x1="553.9" y1="607.7" x2="548.9" y2="616.7" stroke="#3aa078" stroke-width="1.6"/>
<line x1="550.9" y1="651.9" x2="545.9" y2="659.9" stroke="#3aa078" stroke-width="1.6"/>
<line x1="561.3" y1="606.7" x2="566.3" y2="615.7" stroke="#f0e020" stroke-width="2"/>
<line x1="563.3" y1="650.9" x2="568.3" y2="659.9" stroke="#f0e020" stroke-width="2"/>
<line x1="564.3" y1="607.7" x2="559.3" y2="616.7" stroke="#3aa078" stroke-width="1.6"/>
<line x1="561.3" y1="651.9" x2="556.3" y2="659.9" stroke="#3aa078" stroke-width="1.6"/>
<line x1="571.7" y1="606.7" x2="576.7" y2="615.7" stroke="#f0e020" stroke-width="2"/>
<line x1="573.7" y1="650.9" x2="578.7" y2="659.9" stroke="#f0e020" stroke-width="2"/>
<line x1="574.7" y1="607.7" x2="569.7" y2="616.7" stroke="#3aa078" stroke-width="1.6"/>
<line x1="571.7" y1="651.9" x2="566.7" y2="659.9" stroke="#3aa078" stroke-width="1.6"/>
<line x1="582.1" y1="606.7" x2="587.1" y2="615.7" stroke="#f0e020" stroke-width="2"/>
<line x1="584.1" y1="650.9" x2="589.1" y2="659.9" stroke="#f0e020" stroke-width="2"/>
<line x1="585.1" y1="607.7" x2="580.1" y2="616.7" stroke="#3aa078" stroke-width="1.6"/>
<line x1="582.1" y1="651.9" x2="577.1" y2="659.9" stroke="#3aa078" stroke-width="1.6"/>
<line x1="592.5" y1="606.7" x2="597.5" y2="615.7" stroke="#f0e020" stroke-width="2"/>
<line x1="594.5" y1="650.9" x2="599.5" y2="659.9" stroke="#f0e020" stroke-width="2"/>
<line x1="595.5" y1="607.7" x2="590.5" y2="616.7" stroke="#3aa078" stroke-width="1.6"/>
<line x1="592.5" y1="651.9" x2="587.5" y2="659.9" stroke="#3aa078" stroke-width="1.6"/>
<line x1="602.9" y1="606.7" x2="607.9" y2="615.7" stroke="#f0e020" stroke-width="2"/>
<line x1="604.9" y1="650.9" x2="609.9" y2="659.9" stroke="#f0e020" stroke-width="2"/>
<line x1="605.9" y1="607.7" x2="600.9" y2="616.7" stroke="#3aa078" stroke-width="1.6"/>
<line x1="602.9" y1="651.9" x2="597.9" y2="659.9" stroke="#3aa078" stroke-width="1.6"/>
<line x1="613.3" y1="606.7" x2="618.3" y2="615.7" stroke="#f0e020" stroke-width="2"/>
<line x1="615.3" y1="650.9" x2="620.3" y2="659.9" stroke="#f0e020" stroke-width="2"/>
<line x1="616.3" y1="607.7" x2="611.3" y2="616.7" stroke="#3aa078" stroke-width="1.6"/>
<line x1="613.3" y1="651.9" x2="608.3" y2="659.9" stroke="#3aa078" stroke-width="1.6"/>
<line x1="623.7" y1="606.7" x2="628.7" y2="615.7" stroke="#f0e020" stroke-width="2"/>
<line x1="625.7" y1="650.9" x2="630.7" y2="659.9" stroke="#f0e020" stroke-width="2"/>
<line x1="626.7" y1="607.7" x2="621.7" y2="616.7" stroke="#3aa078" stroke-width="1.6"/>
<line x1="623.7" y1="651.9" x2="618.7" y2="659.9" stroke="#3aa078" stroke-width="1.6"/>
<line x1="634.1" y1="606.7" x2="639.1" y2="615.7" stroke="#f0e020" stroke-width="2"/>
<line x1="636.1" y1="650.9" x2="641.1" y2="659.9" stroke="#f0e020" stroke-width="2"/>
<line x1="637.1" y1="607.7" x2="632.1" y2="616.7" stroke="#3aa078" stroke-width="1.6"/>
<line x1="634.1" y1="651.9" x2="629.1" y2="659.9" stroke="#3aa078" stroke-width="1.6"/>
<line x1="644.5" y1="606.7" x2="649.5" y2="615.7" stroke="#f0e020" stroke-width="2"/>
<line x1="646.5" y1="650.9" x2="651.5" y2="659.9" stroke="#f0e020" stroke-width="2"/>
<line x1="647.5" y1="607.7" x2="642.5" y2="616.7" stroke="#3aa078" stroke-width="1.6"/>
<line x1="644.5" y1="651.9" x2="639.5" y2="659.9" stroke="#3aa078" stroke-width="1.6"/>
<line x1="654.9" y1="606.7" x2="659.9" y2="615.7" stroke="#f0e020" stroke-width="2"/>
<line x1="656.9" y1="650.9" x2="661.9" y2="659.9" stroke="#f0e020" stroke-width="2"/>
<line x1="657.9" y1="607.7" x2="652.9" y2="616.7" stroke="#3aa078" stroke-width="1.6"/>
<line x1="654.9" y1="651.9" x2="649.9" y2="659.9" stroke="#3aa078" stroke-width="1.6"/>
<line x1="665.3" y1="606.7" x2="670.3" y2="615.7" stroke="#f0e020" stroke-width="2"/>
<line x1="667.3" y1="650.9" x2="672.3" y2="659.9" stroke="#f0e020" stroke-width="2"/>
<line x1="668.3" y1="607.7" x2="663.3" y2="616.7" stroke="#3aa078" stroke-width="1.6"/>
<line x1="665.3" y1="651.9" x2="660.3" y2="659.9" stroke="#3aa078" stroke-width="1.6"/>
<line x1="675.7" y1="606.7" x2="680.7" y2="615.7" stroke="#f0e020" stroke-width="2"/>
<line x1="677.7" y1="650.9" x2="682.7" y2="659.9" stroke="#f0e020" stroke-width="2"/>
<line x1="678.7" y1="607.7" x2="673.7" y2="616.7" stroke="#3aa078" stroke-width="1.6"/>
<line x1="675.7" y1="651.9" x2="670.7" y2="659.9" stroke="#3aa078" stroke-width="1.6"/>
<ellipse cx="534.5" cy="602.7" rx="5.5" ry="7.4" fill="url(#gY)"/>
<ellipse cx="544.9" cy="602.7" rx="5.5" ry="7.4" fill="url(#gY)"/>
<ellipse cx="555.3" cy="602.7" rx="5.5" ry="7.4" fill="url(#gY)"/>
<ellipse cx="565.7" cy="602.7" rx="5.5" ry="7.4" fill="url(#gY)"/>
<ellipse cx="576.1" cy="602.7" rx="5.5" ry="7.4" fill="url(#gY)"/>
<ellipse cx="586.5" cy="602.7" rx="5.5" ry="7.4" fill="url(#gY)"/>
<ellipse cx="596.9" cy="602.7" rx="5.5" ry="7.4" fill="url(#gY)"/>
<ellipse cx="607.3" cy="602.7" rx="5.5" ry="7.4" fill="url(#gY)"/>
<ellipse cx="617.7" cy="602.7" rx="5.5" ry="7.4" fill="url(#gY)"/>
<ellipse cx="628.1" cy="602.7" rx="5.5" ry="7.4" fill="url(#gY)"/>
<ellipse cx="638.5" cy="602.7" rx="5.5" ry="7.4" fill="url(#gY)"/>
<ellipse cx="648.9" cy="602.7" rx="5.5" ry="7.4" fill="url(#gY)"/>
<ellipse cx="659.3" cy="602.7" rx="5.5" ry="7.4" fill="url(#gY)"/>
<ellipse cx="541.5" cy="663.9" rx="5.5" ry="7.4" fill="url(#gY)"/>
<ellipse cx="551.9" cy="663.9" rx="5.5" ry="7.4" fill="url(#gY)"/>
<ellipse cx="562.3" cy="663.9" rx="5.5" ry="7.4" fill="url(#gY)"/>
<ellipse cx="572.7" cy="663.9" rx="5.5" ry="7.4" fill="url(#gY)"/>
<ellipse cx="583.1" cy="663.9" rx="5.5" ry="7.4" fill="url(#gY)"/>
<ellipse cx="593.5" cy="663.9" rx="5.5" ry="7.4" fill="url(#gY)"/>
<ellipse cx="603.9" cy="663.9" rx="5.5" ry="7.4" fill="url(#gY)"/>
<ellipse cx="614.3" cy="663.9" rx="5.5" ry="7.4" fill="url(#gY)"/>
<ellipse cx="624.7" cy="663.9" rx="5.5" ry="7.4" fill="url(#gY)"/>
<ellipse cx="635.1" cy="663.9" rx="5.5" ry="7.4" fill="url(#gY)"/>
<ellipse cx="645.5" cy="663.9" rx="5.5" ry="7.4" fill="url(#gY)"/>
<ellipse cx="655.9" cy="663.9" rx="5.5" ry="7.4" fill="url(#gY)"/>
<ellipse cx="666.3" cy="663.9" rx="5.5" ry="7.4" fill="url(#gY)"/>
<ellipse cx="541.3" cy="602.2" rx="7.4" ry="5.4" fill="url(#gR)"/>
<ellipse cx="555.1" cy="664.8" rx="5.6" ry="5.5" fill="url(#gR)"/>
<ellipse cx="642.4" cy="601.7" rx="9.7" ry="5.9" fill="url(#gR)"/>
<ellipse cx="601.6" cy="664.5" rx="7.9" ry="5.0" fill="url(#gR)"/>
<ellipse cx="647.0" cy="602.4" rx="6.6" ry="6.0" fill="url(#gR)"/>
<ellipse cx="618.8" cy="664.3" rx="10.8" ry="5.5" fill="url(#gR)"/>
<ellipse cx="567.8" cy="601.2" rx="2.5" ry="3.0" fill="url(#gR)"/>
<ellipse cx="557.3" cy="663.7" rx="2.5" ry="3.0" fill="url(#gR)"/>
<ellipse cx="565.0" cy="604.4" rx="2.5" ry="3.0" fill="url(#gR)"/>
<ellipse cx="625.8" cy="662.0" rx="2.5" ry="3.0" fill="url(#gR)"/>
<ellipse cx="567.0" cy="603.6" rx="2.5" ry="3.0" fill="url(#gR)"/>
<ellipse cx="544.9" cy="662.2" rx="2.5" ry="3.0" fill="url(#gR)"/>
<ellipse cx="564.6" cy="603.9" rx="2.5" ry="3.0" fill="url(#gR)"/>
<ellipse cx="615.0" cy="663.3" rx="2.5" ry="3.0" fill="url(#gR)"/>
<ellipse cx="623.5" cy="674.3" rx="6.6" ry="4.8" fill="url(#gB)"/>
<ellipse cx="584.1" cy="673.7" rx="5.8" ry="4.7" fill="url(#gB)"/>
<ellipse cx="546.9" cy="673.0" rx="6.6" ry="4.7" fill="url(#gB)"/>
<ellipse cx="536.7" cy="676.2" rx="5.6" ry="5.6" fill="url(#gB)"/>
<ellipse cx="583.5" cy="676.3" rx="6.7" ry="4.9" fill="url(#gB)"/>
<ellipse cx="639.5" cy="675.0" rx="4.1" ry="5.7" fill="url(#gB)"/>
<ellipse cx="649.4" cy="677.5" rx="6.0" ry="6.3" fill="url(#gB)"/>
<ellipse cx="620.7" cy="675.3" rx="4.1" ry="6.4" fill="url(#gB)"/>
<ellipse cx="549.1" cy="674.7" rx="6.4" ry="6.4" fill="url(#gB)"/>
<ellipse cx="574.0" cy="677.3" rx="5.4" ry="4.7" fill="url(#gB)"/>
<ellipse cx="573.6" cy="588.8" rx="6.5" ry="5.6" fill="url(#gB)"/>
<ellipse cx="558.2" cy="589.5" rx="5.4" ry="5.8" fill="url(#gB)"/>
<ellipse cx="619.9" cy="592.7" rx="4.1" ry="4.6" fill="url(#gB)"/>
<ellipse cx="632.2" cy="591.6" rx="5.5" ry="4.2" fill="url(#gB)"/>
<ellipse cx="593.1" cy="589.1" rx="4.4" ry="4.7" fill="url(#gB)"/>
<ellipse cx="650.5" cy="591.4" rx="4.4" ry="5.2" fill="url(#gB)"/>
<ellipse cx="588.8" cy="590.7" rx="4.6" ry="4.2" fill="url(#gB)"/>
</g>
<clipPath id="clipS3"><rect x="531.5" y="701.6" width="135.5" height="104.0"/></clipPath><g clip-path="url(#clipS3)">
<line x1="526.1" y1="723.6" x2="538.1" y2="752.4" stroke="#f0e020" stroke-width="2.2"/>
<line x1="528.1" y1="752.4" x2="540.1" y2="783.6" stroke="#f0e020" stroke-width="2.2"/>
<line x1="536.1" y1="721.6" x2="526.1" y2="752.4" stroke="#3a9a70" stroke-width="1.6"/>
<line x1="532.1" y1="752.4" x2="523.1" y2="781.6" stroke="#3a9a70" stroke-width="1.6"/>
<line x1="536.5" y1="723.6" x2="548.5" y2="752.4" stroke="#f0e020" stroke-width="2.2"/>
<line x1="538.5" y1="752.4" x2="550.5" y2="783.6" stroke="#f0e020" stroke-width="2.2"/>
<line x1="546.5" y1="721.6" x2="536.5" y2="752.4" stroke="#3a9a70" stroke-width="1.6"/>
<line x1="542.5" y1="752.4" x2="533.5" y2="781.6" stroke="#3a9a70" stroke-width="1.6"/>
<line x1="546.9" y1="723.6" x2="558.9" y2="752.4" stroke="#f0e020" stroke-width="2.2"/>
<line x1="548.9" y1="752.4" x2="560.9" y2="783.6" stroke="#f0e020" stroke-width="2.2"/>
<line x1="556.9" y1="721.6" x2="546.9" y2="752.4" stroke="#3a9a70" stroke-width="1.6"/>
<line x1="552.9" y1="752.4" x2="543.9" y2="781.6" stroke="#3a9a70" stroke-width="1.6"/>
<line x1="557.3" y1="723.6" x2="569.3" y2="752.4" stroke="#f0e020" stroke-width="2.2"/>
<line x1="559.3" y1="752.4" x2="571.3" y2="783.6" stroke="#f0e020" stroke-width="2.2"/>
<line x1="567.3" y1="721.6" x2="557.3" y2="752.4" stroke="#3a9a70" stroke-width="1.6"/>
<line x1="563.3" y1="752.4" x2="554.3" y2="781.6" stroke="#3a9a70" stroke-width="1.6"/>
<line x1="567.7" y1="723.6" x2="579.7" y2="752.4" stroke="#f0e020" stroke-width="2.2"/>
<line x1="569.7" y1="752.4" x2="581.7" y2="783.6" stroke="#f0e020" stroke-width="2.2"/>
<line x1="577.7" y1="721.6" x2="567.7" y2="752.4" stroke="#3a9a70" stroke-width="1.6"/>
<line x1="573.7" y1="752.4" x2="564.7" y2="781.6" stroke="#3a9a70" stroke-width="1.6"/>
<line x1="578.1" y1="723.6" x2="590.1" y2="752.4" stroke="#f0e020" stroke-width="2.2"/>
<line x1="580.1" y1="752.4" x2="592.1" y2="783.6" stroke="#f0e020" stroke-width="2.2"/>
<line x1="588.1" y1="721.6" x2="578.1" y2="752.4" stroke="#3a9a70" stroke-width="1.6"/>
<line x1="584.1" y1="752.4" x2="575.1" y2="781.6" stroke="#3a9a70" stroke-width="1.6"/>
<line x1="588.5" y1="723.6" x2="600.5" y2="752.4" stroke="#f0e020" stroke-width="2.2"/>
<line x1="590.5" y1="752.4" x2="602.5" y2="783.6" stroke="#f0e020" stroke-width="2.2"/>
<line x1="598.5" y1="721.6" x2="588.5" y2="752.4" stroke="#3a9a70" stroke-width="1.6"/>
<line x1="594.5" y1="752.4" x2="585.5" y2="781.6" stroke="#3a9a70" stroke-width="1.6"/>
<line x1="598.9" y1="723.6" x2="610.9" y2="752.4" stroke="#f0e020" stroke-width="2.2"/>
<line x1="600.9" y1="752.4" x2="612.9" y2="783.6" stroke="#f0e020" stroke-width="2.2"/>
<line x1="608.9" y1="721.6" x2="598.9" y2="752.4" stroke="#3a9a70" stroke-width="1.6"/>
<line x1="604.9" y1="752.4" x2="595.9" y2="781.6" stroke="#3a9a70" stroke-width="1.6"/>
<line x1="609.3" y1="723.6" x2="621.3" y2="752.4" stroke="#f0e020" stroke-width="2.2"/>
<line x1="611.3" y1="752.4" x2="623.3" y2="783.6" stroke="#f0e020" stroke-width="2.2"/>
<line x1="619.3" y1="721.6" x2="609.3" y2="752.4" stroke="#3a9a70" stroke-width="1.6"/>
<line x1="615.3" y1="752.4" x2="606.3" y2="781.6" stroke="#3a9a70" stroke-width="1.6"/>
<line x1="619.7" y1="723.6" x2="631.7" y2="752.4" stroke="#f0e020" stroke-width="2.2"/>
<line x1="621.7" y1="752.4" x2="633.7" y2="783.6" stroke="#f0e020" stroke-width="2.2"/>
<line x1="629.7" y1="721.6" x2="619.7" y2="752.4" stroke="#3a9a70" stroke-width="1.6"/>
<line x1="625.7" y1="752.4" x2="616.7" y2="781.6" stroke="#3a9a70" stroke-width="1.6"/>
<line x1="630.1" y1="723.6" x2="642.1" y2="752.4" stroke="#f0e020" stroke-width="2.2"/>
<line x1="632.1" y1="752.4" x2="644.1" y2="783.6" stroke="#f0e020" stroke-width="2.2"/>
<line x1="640.1" y1="721.6" x2="630.1" y2="752.4" stroke="#3a9a70" stroke-width="1.6"/>
<line x1="636.1" y1="752.4" x2="627.1" y2="781.6" stroke="#3a9a70" stroke-width="1.6"/>
<line x1="640.5" y1="723.6" x2="652.5" y2="752.4" stroke="#f0e020" stroke-width="2.2"/>
<line x1="642.5" y1="752.4" x2="654.5" y2="783.6" stroke="#f0e020" stroke-width="2.2"/>
<line x1="650.5" y1="721.6" x2="640.5" y2="752.4" stroke="#3a9a70" stroke-width="1.6"/>
<line x1="646.5" y1="752.4" x2="637.5" y2="781.6" stroke="#3a9a70" stroke-width="1.6"/>
<line x1="650.9" y1="723.6" x2="662.9" y2="752.4" stroke="#f0e020" stroke-width="2.2"/>
<line x1="652.9" y1="752.4" x2="664.9" y2="783.6" stroke="#f0e020" stroke-width="2.2"/>
<line x1="660.9" y1="721.6" x2="650.9" y2="752.4" stroke="#3a9a70" stroke-width="1.6"/>
<line x1="656.9" y1="752.4" x2="647.9" y2="781.6" stroke="#3a9a70" stroke-width="1.6"/>
<line x1="661.3" y1="723.6" x2="673.3" y2="752.4" stroke="#f0e020" stroke-width="2.2"/>
<line x1="663.3" y1="752.4" x2="675.3" y2="783.6" stroke="#f0e020" stroke-width="2.2"/>
<line x1="671.3" y1="721.6" x2="661.3" y2="752.4" stroke="#3a9a70" stroke-width="1.6"/>
<line x1="667.3" y1="752.4" x2="658.3" y2="781.6" stroke="#3a9a70" stroke-width="1.6"/>
<line x1="671.7" y1="723.6" x2="683.7" y2="752.4" stroke="#f0e020" stroke-width="2.2"/>
<line x1="673.7" y1="752.4" x2="685.7" y2="783.6" stroke="#f0e020" stroke-width="2.2"/>
<line x1="681.7" y1="721.6" x2="671.7" y2="752.4" stroke="#3a9a70" stroke-width="1.6"/>
<line x1="677.7" y1="752.4" x2="668.7" y2="781.6" stroke="#3a9a70" stroke-width="1.6"/>
<ellipse cx="539.5" cy="718.6" rx="4.4" ry="5.6" fill="url(#gY2)"/>
<ellipse cx="536.5" cy="778.6" rx="4.4" ry="5.6" fill="url(#gY2)"/>
<ellipse cx="549.9" cy="718.6" rx="4.4" ry="5.6" fill="url(#gY2)"/>
<ellipse cx="546.9" cy="778.6" rx="4.4" ry="5.6" fill="url(#gY2)"/>
<ellipse cx="560.3" cy="718.6" rx="4.4" ry="5.6" fill="url(#gY2)"/>
<ellipse cx="557.3" cy="778.6" rx="4.4" ry="5.6" fill="url(#gY2)"/>
<ellipse cx="570.7" cy="718.6" rx="4.4" ry="5.6" fill="url(#gY2)"/>
<ellipse cx="567.7" cy="778.6" rx="4.4" ry="5.6" fill="url(#gY2)"/>
<ellipse cx="581.1" cy="718.6" rx="4.4" ry="5.6" fill="url(#gY2)"/>
<ellipse cx="578.1" cy="778.6" rx="4.4" ry="5.6" fill="url(#gY2)"/>
<ellipse cx="591.5" cy="718.6" rx="4.4" ry="5.6" fill="url(#gY2)"/>
<ellipse cx="588.5" cy="778.6" rx="4.4" ry="5.6" fill="url(#gY2)"/>
<ellipse cx="601.9" cy="718.6" rx="4.4" ry="5.6" fill="url(#gY2)"/>
<ellipse cx="598.9" cy="778.6" rx="4.4" ry="5.6" fill="url(#gY2)"/>
<ellipse cx="612.3" cy="718.6" rx="4.4" ry="5.6" fill="url(#gY2)"/>
<ellipse cx="609.3" cy="778.6" rx="4.4" ry="5.6" fill="url(#gY2)"/>
<ellipse cx="622.7" cy="718.6" rx="4.4" ry="5.6" fill="url(#gY2)"/>
<ellipse cx="619.7" cy="778.6" rx="4.4" ry="5.6" fill="url(#gY2)"/>
<ellipse cx="633.1" cy="718.6" rx="4.4" ry="5.6" fill="url(#gY2)"/>
<ellipse cx="630.1" cy="778.6" rx="4.4" ry="5.6" fill="url(#gY2)"/>
<ellipse cx="643.5" cy="718.6" rx="4.4" ry="5.6" fill="url(#gY2)"/>
<ellipse cx="640.5" cy="778.6" rx="4.4" ry="5.6" fill="url(#gY2)"/>
<ellipse cx="653.9" cy="718.6" rx="4.4" ry="5.6" fill="url(#gY2)"/>
<ellipse cx="650.9" cy="778.6" rx="4.4" ry="5.6" fill="url(#gY2)"/>
<ellipse cx="664.3" cy="718.6" rx="4.4" ry="5.6" fill="url(#gY2)"/>
<ellipse cx="661.3" cy="778.6" rx="4.4" ry="5.6" fill="url(#gY2)"/>
<rect x="531.5" y="740.4" width="135.5" height="24" fill="#b83030"/>
<ellipse cx="527.5" cy="752.6" rx="8.0" ry="10.0" fill="url(#gTeal)"/>
<ellipse cx="527.0" cy="752.4" rx="6.0" ry="3.5" fill="url(#gR)"/>
<ellipse cx="544.5" cy="751.5" rx="11.0" ry="16.5" fill="url(#gDR)"/>
<ellipse cx="544.8" cy="749.4" rx="5.0" ry="7.0" fill="url(#gR2)"/>
<ellipse cx="559.5" cy="752.5" rx="12.4" ry="15.2" fill="url(#gR)"/>
<ellipse cx="557.9" cy="749.4" rx="5.0" ry="7.0" fill="url(#gR2)"/>
<ellipse cx="574.2" cy="752.2" rx="11.0" ry="16.3" fill="url(#gR)"/>
<ellipse cx="575.8" cy="749.4" rx="5.0" ry="7.0" fill="url(#gR2)"/>
<ellipse cx="591.2" cy="751.5" rx="13.2" ry="15.4" fill="url(#gDR)"/>
<ellipse cx="593.7" cy="749.4" rx="5.0" ry="7.0" fill="url(#gR2)"/>
<ellipse cx="607.1" cy="752.3" rx="12.8" ry="15.7" fill="url(#gR)"/>
<ellipse cx="609.4" cy="749.4" rx="5.0" ry="7.0" fill="url(#gR2)"/>
<ellipse cx="621.6" cy="751.3" rx="8.0" ry="10.0" fill="url(#gTeal)"/>
<ellipse cx="623.5" cy="752.4" rx="6.0" ry="3.5" fill="url(#gR)"/>
<ellipse cx="637.8" cy="752.0" rx="12.3" ry="15.2" fill="url(#gDR)"/>
<ellipse cx="638.0" cy="749.4" rx="5.0" ry="7.0" fill="url(#gR2)"/>
<ellipse cx="653.8" cy="751.7" rx="8.0" ry="10.0" fill="url(#gTeal)"/>
<ellipse cx="655.5" cy="752.4" rx="6.0" ry="3.5" fill="url(#gR)"/>
<ellipse cx="668.0" cy="752.4" rx="8.0" ry="14.0" fill="url(#gB)"/>
<ellipse cx="625.7" cy="769.2" rx="5.3" ry="6.2" fill="url(#gTeal)"/>
<ellipse cx="620.3" cy="765.8" rx="3.2" ry="7.1" fill="url(#gR)"/>
<ellipse cx="543.5" cy="738.3" rx="3.4" ry="5.4" fill="url(#gR)"/>
<ellipse cx="649.8" cy="737.4" rx="4.9" ry="5.6" fill="url(#gTeal)"/>
<ellipse cx="576.3" cy="766.9" rx="5.5" ry="5.4" fill="url(#gR)"/>
<ellipse cx="546.2" cy="735.7" rx="5.4" ry="5.4" fill="url(#gR)"/>
<ellipse cx="552.7" cy="735.5" rx="3.8" ry="5.6" fill="url(#gR)"/>
<ellipse cx="653.0" cy="766.3" rx="5.2" ry="5.7" fill="url(#gTeal)"/>
<ellipse cx="623.8" cy="737.3" rx="5.4" ry="6.0" fill="url(#gR)"/>
<ellipse cx="617.4" cy="735.7" rx="4.1" ry="5.3" fill="url(#gR)"/>
<ellipse cx="605.8" cy="736.5" rx="5.5" ry="5.4" fill="url(#gR)"/>
<ellipse cx="614.9" cy="740.1" rx="4.6" ry="5.9" fill="url(#gTeal)"/>
<line x1="530.1" y1="727.6" x2="535.1" y2="736.6" stroke="#f0e020" stroke-width="2"/>
<line x1="532.1" y1="770.6" x2="537.1" y2="779.6" stroke="#f0e020" stroke-width="2"/>
<line x1="533.1" y1="728.6" x2="528.1" y2="737.6" stroke="#3aa078" stroke-width="1.6"/>
<line x1="530.1" y1="771.6" x2="525.1" y2="779.6" stroke="#3aa078" stroke-width="1.6"/>
<line x1="540.5" y1="727.6" x2="545.5" y2="736.6" stroke="#f0e020" stroke-width="2"/>
<line x1="542.5" y1="770.6" x2="547.5" y2="779.6" stroke="#f0e020" stroke-width="2"/>
<line x1="543.5" y1="728.6" x2="538.5" y2="737.6" stroke="#3aa078" stroke-width="1.6"/>
<line x1="540.5" y1="771.6" x2="535.5" y2="779.6" stroke="#3aa078" stroke-width="1.6"/>
<line x1="550.9" y1="727.6" x2="555.9" y2="736.6" stroke="#f0e020" stroke-width="2"/>
<line x1="552.9" y1="770.6" x2="557.9" y2="779.6" stroke="#f0e020" stroke-width="2"/>
<line x1="553.9" y1="728.6" x2="548.9" y2="737.6" stroke="#3aa078" stroke-width="1.6"/>
<line x1="550.9" y1="771.6" x2="545.9" y2="779.6" stroke="#3aa078" stroke-width="1.6"/>
<line x1="561.3" y1="727.6" x2="566.3" y2="736.6" stroke="#f0e020" stroke-width="2"/>
<line x1="563.3" y1="770.6" x2="568.3" y2="779.6" stroke="#f0e020" stroke-width="2"/>
<line x1="564.3" y1="728.6" x2="559.3" y2="737.6" stroke="#3aa078" stroke-width="1.6"/>
<line x1="561.3" y1="771.6" x2="556.3" y2="779.6" stroke="#3aa078" stroke-width="1.6"/>
<line x1="571.7" y1="727.6" x2="576.7" y2="736.6" stroke="#f0e020" stroke-width="2"/>
<line x1="573.7" y1="770.6" x2="578.7" y2="779.6" stroke="#f0e020" stroke-width="2"/>
<line x1="574.7" y1="728.6" x2="569.7" y2="737.6" stroke="#3aa078" stroke-width="1.6"/>
<line x1="571.7" y1="771.6" x2="566.7" y2="779.6" stroke="#3aa078" stroke-width="1.6"/>
<line x1="582.1" y1="727.6" x2="587.1" y2="736.6" stroke="#f0e020" stroke-width="2"/>
<line x1="584.1" y1="770.6" x2="589.1" y2="779.6" stroke="#f0e020" stroke-width="2"/>
<line x1="585.1" y1="728.6" x2="580.1" y2="737.6" stroke="#3aa078" stroke-width="1.6"/>
<line x1="582.1" y1="771.6" x2="577.1" y2="779.6" stroke="#3aa078" stroke-width="1.6"/>
<line x1="592.5" y1="727.6" x2="597.5" y2="736.6" stroke="#f0e020" stroke-width="2"/>
<line x1="594.5" y1="770.6" x2="599.5" y2="779.6" stroke="#f0e020" stroke-width="2"/>
<line x1="595.5" y1="728.6" x2="590.5" y2="737.6" stroke="#3aa078" stroke-width="1.6"/>
<line x1="592.5" y1="771.6" x2="587.5" y2="779.6" stroke="#3aa078" stroke-width="1.6"/>
<line x1="602.9" y1="727.6" x2="607.9" y2="736.6" stroke="#f0e020" stroke-width="2"/>
<line x1="604.9" y1="770.6" x2="609.9" y2="779.6" stroke="#f0e020" stroke-width="2"/>
<line x1="605.9" y1="728.6" x2="600.9" y2="737.6" stroke="#3aa078" stroke-width="1.6"/>
<line x1="602.9" y1="771.6" x2="597.9" y2="779.6" stroke="#3aa078" stroke-width="1.6"/>
<line x1="613.3" y1="727.6" x2="618.3" y2="736.6" stroke="#f0e020" stroke-width="2"/>
<line x1="615.3" y1="770.6" x2="620.3" y2="779.6" stroke="#f0e020" stroke-width="2"/>
<line x1="616.3" y1="728.6" x2="611.3" y2="737.6" stroke="#3aa078" stroke-width="1.6"/>
<line x1="613.3" y1="771.6" x2="608.3" y2="779.6" stroke="#3aa078" stroke-width="1.6"/>
<line x1="623.7" y1="727.6" x2="628.7" y2="736.6" stroke="#f0e020" stroke-width="2"/>
<line x1="625.7" y1="770.6" x2="630.7" y2="779.6" stroke="#f0e020" stroke-width="2"/>
<line x1="626.7" y1="728.6" x2="621.7" y2="737.6" stroke="#3aa078" stroke-width="1.6"/>
<line x1="623.7" y1="771.6" x2="618.7" y2="779.6" stroke="#3aa078" stroke-width="1.6"/>
<line x1="634.1" y1="727.6" x2="639.1" y2="736.6" stroke="#f0e020" stroke-width="2"/>
<line x1="636.1" y1="770.6" x2="641.1" y2="779.6" stroke="#f0e020" stroke-width="2"/>
<line x1="637.1" y1="728.6" x2="632.1" y2="737.6" stroke="#3aa078" stroke-width="1.6"/>
<line x1="634.1" y1="771.6" x2="629.1" y2="779.6" stroke="#3aa078" stroke-width="1.6"/>
<line x1="644.5" y1="727.6" x2="649.5" y2="736.6" stroke="#f0e020" stroke-width="2"/>
<line x1="646.5" y1="770.6" x2="651.5" y2="779.6" stroke="#f0e020" stroke-width="2"/>
<line x1="647.5" y1="728.6" x2="642.5" y2="737.6" stroke="#3aa078" stroke-width="1.6"/>
<line x1="644.5" y1="771.6" x2="639.5" y2="779.6" stroke="#3aa078" stroke-width="1.6"/>
<line x1="654.9" y1="727.6" x2="659.9" y2="736.6" stroke="#f0e020" stroke-width="2"/>
<line x1="656.9" y1="770.6" x2="661.9" y2="779.6" stroke="#f0e020" stroke-width="2"/>
<line x1="657.9" y1="728.6" x2="652.9" y2="737.6" stroke="#3aa078" stroke-width="1.6"/>
<line x1="654.9" y1="771.6" x2="649.9" y2="779.6" stroke="#3aa078" stroke-width="1.6"/>
<line x1="665.3" y1="727.6" x2="670.3" y2="736.6" stroke="#f0e020" stroke-width="2"/>
<line x1="667.3" y1="770.6" x2="672.3" y2="779.6" stroke="#f0e020" stroke-width="2"/>
<line x1="668.3" y1="728.6" x2="663.3" y2="737.6" stroke="#3aa078" stroke-width="1.6"/>
<line x1="665.3" y1="771.6" x2="660.3" y2="779.6" stroke="#3aa078" stroke-width="1.6"/>
<line x1="675.7" y1="727.6" x2="680.7" y2="736.6" stroke="#f0e020" stroke-width="2"/>
<line x1="677.7" y1="770.6" x2="682.7" y2="779.6" stroke="#f0e020" stroke-width="2"/>
<line x1="678.7" y1="728.6" x2="673.7" y2="737.6" stroke="#3aa078" stroke-width="1.6"/>
<line x1="675.7" y1="771.6" x2="670.7" y2="779.6" stroke="#3aa078" stroke-width="1.6"/>
<ellipse cx="534.5" cy="723.6" rx="5.5" ry="7.4" fill="url(#gY)"/>
<ellipse cx="544.9" cy="723.6" rx="5.5" ry="7.4" fill="url(#gY)"/>
<ellipse cx="555.3" cy="723.6" rx="5.5" ry="7.4" fill="url(#gY)"/>
<ellipse cx="565.7" cy="723.6" rx="5.5" ry="7.4" fill="url(#gY)"/>
<ellipse cx="576.1" cy="723.6" rx="5.5" ry="7.4" fill="url(#gY)"/>
<ellipse cx="586.5" cy="723.6" rx="5.5" ry="7.4" fill="url(#gY)"/>
<ellipse cx="596.9" cy="723.6" rx="5.5" ry="7.4" fill="url(#gY)"/>
<ellipse cx="607.3" cy="723.6" rx="5.5" ry="7.4" fill="url(#gY)"/>
<ellipse cx="617.7" cy="723.6" rx="5.5" ry="7.4" fill="url(#gY)"/>
<ellipse cx="628.1" cy="723.6" rx="5.5" ry="7.4" fill="url(#gY)"/>
<ellipse cx="638.5" cy="723.6" rx="5.5" ry="7.4" fill="url(#gY)"/>
<ellipse cx="648.9" cy="723.6" rx="5.5" ry="7.4" fill="url(#gY)"/>
<ellipse cx="659.3" cy="723.6" rx="5.5" ry="7.4" fill="url(#gY)"/>
<ellipse cx="541.5" cy="783.6" rx="5.5" ry="7.4" fill="url(#gY)"/>
<ellipse cx="551.9" cy="783.6" rx="5.5" ry="7.4" fill="url(#gY)"/>
<ellipse cx="562.3" cy="783.6" rx="5.5" ry="7.4" fill="url(#gY)"/>
<ellipse cx="572.7" cy="783.6" rx="5.5" ry="7.4" fill="url(#gY)"/>
<ellipse cx="583.1" cy="783.6" rx="5.5" ry="7.4" fill="url(#gY)"/>
<ellipse cx="593.5" cy="783.6" rx="5.5" ry="7.4" fill="url(#gY)"/>
<ellipse cx="603.9" cy="783.6" rx="5.5" ry="7.4" fill="url(#gY)"/>
<ellipse cx="614.3" cy="783.6" rx="5.5" ry="7.4" fill="url(#gY)"/>
<ellipse cx="624.7" cy="783.6" rx="5.5" ry="7.4" fill="url(#gY)"/>
<ellipse cx="635.1" cy="783.6" rx="5.5" ry="7.4" fill="url(#gY)"/>
<ellipse cx="645.5" cy="783.6" rx="5.5" ry="7.4" fill="url(#gY)"/>
<ellipse cx="655.9" cy="783.6" rx="5.5" ry="7.4" fill="url(#gY)"/>
<ellipse cx="666.3" cy="783.6" rx="5.5" ry="7.4" fill="url(#gY)"/>
<ellipse cx="652.5" cy="723.8" rx="6.7" ry="5.2" fill="url(#gR)"/>
<ellipse cx="610.6" cy="784.5" rx="5.1" ry="5.1" fill="url(#gR)"/>
<ellipse cx="615.6" cy="723.2" rx="8.6" ry="4.8" fill="url(#gR)"/>
<ellipse cx="559.1" cy="784.1" rx="10.1" ry="4.9" fill="url(#gR)"/>
<ellipse cx="635.9" cy="722.8" rx="9.9" ry="6.0" fill="url(#gR)"/>
<ellipse cx="622.7" cy="782.9" rx="8.0" ry="5.5" fill="url(#gR)"/>
<ellipse cx="569.8" cy="722.9" rx="2.5" ry="3.0" fill="url(#gR)"/>
<ellipse cx="622.0" cy="784.2" rx="2.5" ry="3.0" fill="url(#gR)"/>
<ellipse cx="547.9" cy="724.0" rx="2.5" ry="3.0" fill="url(#gR)"/>
<ellipse cx="656.5" cy="784.3" rx="2.5" ry="3.0" fill="url(#gR)"/>
<ellipse cx="564.1" cy="724.8" rx="2.5" ry="3.0" fill="url(#gR)"/>
<ellipse cx="658.0" cy="781.9" rx="2.5" ry="3.0" fill="url(#gR)"/>
<ellipse cx="630.1" cy="722.5" rx="2.5" ry="3.0" fill="url(#gR)"/>
<ellipse cx="608.0" cy="782.7" rx="2.5" ry="3.0" fill="url(#gR)"/>
<ellipse cx="637.0" cy="792.8" rx="7.4" ry="5.1" fill="url(#gB)"/>
<ellipse cx="643.5" cy="795.5" rx="7.0" ry="5.2" fill="url(#gB)"/>
<ellipse cx="642.4" cy="793.0" rx="6.2" ry="5.7" fill="url(#gB)"/>
<ellipse cx="588.9" cy="795.2" rx="7.0" ry="5.4" fill="url(#gB)"/>
<ellipse cx="616.9" cy="794.1" rx="6.0" ry="4.6" fill="url(#gB)"/>
<ellipse cx="587.8" cy="793.6" rx="5.7" ry="6.2" fill="url(#gB)"/>
<ellipse cx="615.4" cy="795.2" rx="6.0" ry="6.5" fill="url(#gB)"/>
<ellipse cx="627.8" cy="792.8" rx="5.6" ry="6.0" fill="url(#gB)"/>
<ellipse cx="631.9" cy="797.4" rx="5.9" ry="6.3" fill="url(#gB)"/>
<ellipse cx="646.8" cy="796.9" rx="7.4" ry="4.7" fill="url(#gB)"/>
<ellipse cx="578.8" cy="713.4" rx="6.4" ry="5.0" fill="url(#gB)"/>
<ellipse cx="573.6" cy="709.2" rx="5.3" ry="4.1" fill="url(#gB)"/>
<ellipse cx="605.1" cy="713.0" rx="5.5" ry="4.5" fill="url(#gB)"/>
<ellipse cx="553.7" cy="710.9" rx="4.2" ry="5.8" fill="url(#gB)"/>
<ellipse cx="564.2" cy="713.0" rx="6.9" ry="5.1" fill="url(#gB)"/>
<ellipse cx="642.0" cy="713.3" rx="4.7" ry="4.2" fill="url(#gB)"/>
<ellipse cx="650.5" cy="713.0" rx="4.7" ry="4.5" fill="url(#gB)"/>
</g>
<clipPath id="clipS4"><rect x="531.5" y="819" width="135.5" height="102.5"/></clipPath><g clip-path="url(#clipS4)">
<line x1="526.1" y1="841.0" x2="538.1" y2="871.0" stroke="#f0e020" stroke-width="2.2"/>
<line x1="528.1" y1="871.0" x2="540.1" y2="899.5" stroke="#f0e020" stroke-width="2.2"/>
<line x1="536.1" y1="839.0" x2="526.1" y2="871.0" stroke="#3a9a70" stroke-width="1.6"/>
<line x1="532.1" y1="871.0" x2="523.1" y2="897.5" stroke="#3a9a70" stroke-width="1.6"/>
<line x1="536.5" y1="841.0" x2="548.5" y2="871.0" stroke="#f0e020" stroke-width="2.2"/>
<line x1="538.5" y1="871.0" x2="550.5" y2="899.5" stroke="#f0e020" stroke-width="2.2"/>
<line x1="546.5" y1="839.0" x2="536.5" y2="871.0" stroke="#3a9a70" stroke-width="1.6"/>
<line x1="542.5" y1="871.0" x2="533.5" y2="897.5" stroke="#3a9a70" stroke-width="1.6"/>
<line x1="546.9" y1="841.0" x2="558.9" y2="871.0" stroke="#f0e020" stroke-width="2.2"/>
<line x1="548.9" y1="871.0" x2="560.9" y2="899.5" stroke="#f0e020" stroke-width="2.2"/>
<line x1="556.9" y1="839.0" x2="546.9" y2="871.0" stroke="#3a9a70" stroke-width="1.6"/>
<line x1="552.9" y1="871.0" x2="543.9" y2="897.5" stroke="#3a9a70" stroke-width="1.6"/>
<line x1="557.3" y1="841.0" x2="569.3" y2="871.0" stroke="#f0e020" stroke-width="2.2"/>
<line x1="559.3" y1="871.0" x2="571.3" y2="899.5" stroke="#f0e020" stroke-width="2.2"/>
<line x1="567.3" y1="839.0" x2="557.3" y2="871.0" stroke="#3a9a70" stroke-width="1.6"/>
<line x1="563.3" y1="871.0" x2="554.3" y2="897.5" stroke="#3a9a70" stroke-width="1.6"/>
<line x1="567.7" y1="841.0" x2="579.7" y2="871.0" stroke="#f0e020" stroke-width="2.2"/>
<line x1="569.7" y1="871.0" x2="581.7" y2="899.5" stroke="#f0e020" stroke-width="2.2"/>
<line x1="577.7" y1="839.0" x2="567.7" y2="871.0" stroke="#3a9a70" stroke-width="1.6"/>
<line x1="573.7" y1="871.0" x2="564.7" y2="897.5" stroke="#3a9a70" stroke-width="1.6"/>
<line x1="578.1" y1="841.0" x2="590.1" y2="871.0" stroke="#f0e020" stroke-width="2.2"/>
<line x1="580.1" y1="871.0" x2="592.1" y2="899.5" stroke="#f0e020" stroke-width="2.2"/>
<line x1="588.1" y1="839.0" x2="578.1" y2="871.0" stroke="#3a9a70" stroke-width="1.6"/>
<line x1="584.1" y1="871.0" x2="575.1" y2="897.5" stroke="#3a9a70" stroke-width="1.6"/>
<line x1="588.5" y1="841.0" x2="600.5" y2="871.0" stroke="#f0e020" stroke-width="2.2"/>
<line x1="590.5" y1="871.0" x2="602.5" y2="899.5" stroke="#f0e020" stroke-width="2.2"/>
<line x1="598.5" y1="839.0" x2="588.5" y2="871.0" stroke="#3a9a70" stroke-width="1.6"/>
<line x1="594.5" y1="871.0" x2="585.5" y2="897.5" stroke="#3a9a70" stroke-width="1.6"/>
<line x1="598.9" y1="841.0" x2="610.9" y2="871.0" stroke="#f0e020" stroke-width="2.2"/>
<line x1="600.9" y1="871.0" x2="612.9" y2="899.5" stroke="#f0e020" stroke-width="2.2"/>
<line x1="608.9" y1="839.0" x2="598.9" y2="871.0" stroke="#3a9a70" stroke-width="1.6"/>
<line x1="604.9" y1="871.0" x2="595.9" y2="897.5" stroke="#3a9a70" stroke-width="1.6"/>
<line x1="609.3" y1="841.0" x2="621.3" y2="871.0" stroke="#f0e020" stroke-width="2.2"/>
<line x1="611.3" y1="871.0" x2="623.3" y2="899.5" stroke="#f0e020" stroke-width="2.2"/>
<line x1="619.3" y1="839.0" x2="609.3" y2="871.0" stroke="#3a9a70" stroke-width="1.6"/>
<line x1="615.3" y1="871.0" x2="606.3" y2="897.5" stroke="#3a9a70" stroke-width="1.6"/>
<line x1="619.7" y1="841.0" x2="631.7" y2="871.0" stroke="#f0e020" stroke-width="2.2"/>
<line x1="621.7" y1="871.0" x2="633.7" y2="899.5" stroke="#f0e020" stroke-width="2.2"/>
<line x1="629.7" y1="839.0" x2="619.7" y2="871.0" stroke="#3a9a70" stroke-width="1.6"/>
<line x1="625.7" y1="871.0" x2="616.7" y2="897.5" stroke="#3a9a70" stroke-width="1.6"/>
<line x1="630.1" y1="841.0" x2="642.1" y2="871.0" stroke="#f0e020" stroke-width="2.2"/>
<line x1="632.1" y1="871.0" x2="644.1" y2="899.5" stroke="#f0e020" stroke-width="2.2"/>
<line x1="640.1" y1="839.0" x2="630.1" y2="871.0" stroke="#3a9a70" stroke-width="1.6"/>
<line x1="636.1" y1="871.0" x2="627.1" y2="897.5" stroke="#3a9a70" stroke-width="1.6"/>
<line x1="640.5" y1="841.0" x2="652.5" y2="871.0" stroke="#f0e020" stroke-width="2.2"/>
<line x1="642.5" y1="871.0" x2="654.5" y2="899.5" stroke="#f0e020" stroke-width="2.2"/>
<line x1="650.5" y1="839.0" x2="640.5" y2="871.0" stroke="#3a9a70" stroke-width="1.6"/>
<line x1="646.5" y1="871.0" x2="637.5" y2="897.5" stroke="#3a9a70" stroke-width="1.6"/>
<line x1="650.9" y1="841.0" x2="662.9" y2="871.0" stroke="#f0e020" stroke-width="2.2"/>
<line x1="652.9" y1="871.0" x2="664.9" y2="899.5" stroke="#f0e020" stroke-width="2.2"/>
<line x1="660.9" y1="839.0" x2="650.9" y2="871.0" stroke="#3a9a70" stroke-width="1.6"/>
<line x1="656.9" y1="871.0" x2="647.9" y2="897.5" stroke="#3a9a70" stroke-width="1.6"/>
<line x1="661.3" y1="841.0" x2="673.3" y2="871.0" stroke="#f0e020" stroke-width="2.2"/>
<line x1="663.3" y1="871.0" x2="675.3" y2="899.5" stroke="#f0e020" stroke-width="2.2"/>
<line x1="671.3" y1="839.0" x2="661.3" y2="871.0" stroke="#3a9a70" stroke-width="1.6"/>
<line x1="667.3" y1="871.0" x2="658.3" y2="897.5" stroke="#3a9a70" stroke-width="1.6"/>
<line x1="671.7" y1="841.0" x2="683.7" y2="871.0" stroke="#f0e020" stroke-width="2.2"/>
<line x1="673.7" y1="871.0" x2="685.7" y2="899.5" stroke="#f0e020" stroke-width="2.2"/>
<line x1="681.7" y1="839.0" x2="671.7" y2="871.0" stroke="#3a9a70" stroke-width="1.6"/>
<line x1="677.7" y1="871.0" x2="668.7" y2="897.5" stroke="#3a9a70" stroke-width="1.6"/>
<ellipse cx="539.5" cy="836.0" rx="4.4" ry="5.6" fill="url(#gY2)"/>
<ellipse cx="536.5" cy="894.5" rx="4.4" ry="5.6" fill="url(#gY2)"/>
<ellipse cx="549.9" cy="836.0" rx="4.4" ry="5.6" fill="url(#gY2)"/>
<ellipse cx="546.9" cy="894.5" rx="4.4" ry="5.6" fill="url(#gY2)"/>
<ellipse cx="560.3" cy="836.0" rx="4.4" ry="5.6" fill="url(#gY2)"/>
<ellipse cx="557.3" cy="894.5" rx="4.4" ry="5.6" fill="url(#gY2)"/>
<ellipse cx="570.7" cy="836.0" rx="4.4" ry="5.6" fill="url(#gY2)"/>
<ellipse cx="567.7" cy="894.5" rx="4.4" ry="5.6" fill="url(#gY2)"/>
<ellipse cx="581.1" cy="836.0" rx="4.4" ry="5.6" fill="url(#gY2)"/>
<ellipse cx="578.1" cy="894.5" rx="4.4" ry="5.6" fill="url(#gY2)"/>
<ellipse cx="591.5" cy="836.0" rx="4.4" ry="5.6" fill="url(#gY2)"/>
<ellipse cx="588.5" cy="894.5" rx="4.4" ry="5.6" fill="url(#gY2)"/>
<ellipse cx="601.9" cy="836.0" rx="4.4" ry="5.6" fill="url(#gY2)"/>
<ellipse cx="598.9" cy="894.5" rx="4.4" ry="5.6" fill="url(#gY2)"/>
<ellipse cx="612.3" cy="836.0" rx="4.4" ry="5.6" fill="url(#gY2)"/>
<ellipse cx="609.3" cy="894.5" rx="4.4" ry="5.6" fill="url(#gY2)"/>
<ellipse cx="622.7" cy="836.0" rx="4.4" ry="5.6" fill="url(#gY2)"/>
<ellipse cx="619.7" cy="894.5" rx="4.4" ry="5.6" fill="url(#gY2)"/>
<ellipse cx="633.1" cy="836.0" rx="4.4" ry="5.6" fill="url(#gY2)"/>
<ellipse cx="630.1" cy="894.5" rx="4.4" ry="5.6" fill="url(#gY2)"/>
<ellipse cx="643.5" cy="836.0" rx="4.4" ry="5.6" fill="url(#gY2)"/>
<ellipse cx="640.5" cy="894.5" rx="4.4" ry="5.6" fill="url(#gY2)"/>
<ellipse cx="653.9" cy="836.0" rx="4.4" ry="5.6" fill="url(#gY2)"/>
<ellipse cx="650.9" cy="894.5" rx="4.4" ry="5.6" fill="url(#gY2)"/>
<ellipse cx="664.3" cy="836.0" rx="4.4" ry="5.6" fill="url(#gY2)"/>
<ellipse cx="661.3" cy="894.5" rx="4.4" ry="5.6" fill="url(#gY2)"/>
<rect x="531.5" y="859" width="135.5" height="24" fill="#b83030"/>
<ellipse cx="527.5" cy="869.4" rx="8.0" ry="10.0" fill="url(#gTeal)"/>
<ellipse cx="527.1" cy="871.0" rx="6.0" ry="3.5" fill="url(#gR)"/>
<ellipse cx="542.3" cy="870.6" rx="8.0" ry="10.0" fill="url(#gTeal)"/>
<ellipse cx="543.9" cy="871.0" rx="6.0" ry="3.5" fill="url(#gR)"/>
<ellipse cx="560.3" cy="870.4" rx="12.3" ry="14.8" fill="url(#gR)"/>
<ellipse cx="562.2" cy="868.0" rx="5.0" ry="7.0" fill="url(#gR2)"/>
<ellipse cx="575.6" cy="870.1" rx="12.6" ry="14.8" fill="url(#gDR)"/>
<ellipse cx="573.7" cy="868.0" rx="5.0" ry="7.0" fill="url(#gR2)"/>
<ellipse cx="591.1" cy="871.5" rx="13.1" ry="16.6" fill="url(#gR)"/>
<ellipse cx="593.2" cy="868.0" rx="5.0" ry="7.0" fill="url(#gR2)"/>
<ellipse cx="606.8" cy="870.5" rx="11.6" ry="14.8" fill="url(#gDR)"/>
<ellipse cx="608.9" cy="868.0" rx="5.0" ry="7.0" fill="url(#gR2)"/>
<ellipse cx="620.9" cy="871.0" rx="8.0" ry="14.0" fill="url(#gB)"/>
<ellipse cx="638.4" cy="871.5" rx="11.5" ry="15.3" fill="url(#gDR)"/>
<ellipse cx="638.0" cy="868.0" rx="5.0" ry="7.0" fill="url(#gR2)"/>
<ellipse cx="653.2" cy="871.6" rx="11.1" ry="14.1" fill="url(#gDR)"/>
<ellipse cx="656.2" cy="868.0" rx="5.0" ry="7.0" fill="url(#gR2)"/>
<ellipse cx="669.8" cy="871.4" rx="11.4" ry="16.0" fill="url(#gR)"/>
<ellipse cx="669.3" cy="868.0" rx="5.0" ry="7.0" fill="url(#gR2)"/>
<ellipse cx="617.2" cy="883.9" rx="4.1" ry="6.3" fill="url(#gTeal)"/>
<ellipse cx="607.2" cy="883.5" rx="3.2" ry="5.2" fill="url(#gTeal)"/>
<ellipse cx="614.9" cy="858.4" rx="5.3" ry="5.4" fill="url(#gR)"/>
<ellipse cx="537.3" cy="854.5" rx="5.4" ry="6.7" fill="url(#gR)"/>
<ellipse cx="534.0" cy="884.6" rx="3.4" ry="6.5" fill="url(#gTeal)"/>
<ellipse cx="623.6" cy="857.5" rx="3.5" ry="5.8" fill="url(#gR)"/>
<ellipse cx="565.4" cy="857.3" rx="3.0" ry="4.6" fill="url(#gR)"/>
<ellipse cx="581.0" cy="888.0" rx="4.4" ry="5.8" fill="url(#gR)"/>
<ellipse cx="588.9" cy="858.4" rx="3.2" ry="6.7" fill="url(#gTeal)"/>
<ellipse cx="623.2" cy="856.0" rx="4.4" ry="6.2" fill="url(#gR)"/>
<ellipse cx="666.7" cy="854.8" rx="3.7" ry="7.5" fill="url(#gTeal)"/>
<ellipse cx="665.3" cy="884.0" rx="4.1" ry="6.0" fill="url(#gR)"/>
<line x1="530.1" y1="845.0" x2="535.1" y2="854.0" stroke="#f0e020" stroke-width="2"/>
<line x1="532.1" y1="886.5" x2="537.1" y2="895.5" stroke="#f0e020" stroke-width="2"/>
<line x1="533.1" y1="846.0" x2="528.1" y2="855.0" stroke="#3aa078" stroke-width="1.6"/>
<line x1="530.1" y1="887.5" x2="525.1" y2="895.5" stroke="#3aa078" stroke-width="1.6"/>
<line x1="540.5" y1="845.0" x2="545.5" y2="854.0" stroke="#f0e020" stroke-width="2"/>
<line x1="542.5" y1="886.5" x2="547.5" y2="895.5" stroke="#f0e020" stroke-width="2"/>
<line x1="543.5" y1="846.0" x2="538.5" y2="855.0" stroke="#3aa078" stroke-width="1.6"/>
<line x1="540.5" y1="887.5" x2="535.5" y2="895.5" stroke="#3aa078" stroke-width="1.6"/>
<line x1="550.9" y1="845.0" x2="555.9" y2="854.0" stroke="#f0e020" stroke-width="2"/>
<line x1="552.9" y1="886.5" x2="557.9" y2="895.5" stroke="#f0e020" stroke-width="2"/>
<line x1="553.9" y1="846.0" x2="548.9" y2="855.0" stroke="#3aa078" stroke-width="1.6"/>
<line x1="550.9" y1="887.5" x2="545.9" y2="895.5" stroke="#3aa078" stroke-width="1.6"/>
<line x1="561.3" y1="845.0" x2="566.3" y2="854.0" stroke="#f0e020" stroke-width="2"/>
<line x1="563.3" y1="886.5" x2="568.3" y2="895.5" stroke="#f0e020" stroke-width="2"/>
<line x1="564.3" y1="846.0" x2="559.3" y2="855.0" stroke="#3aa078" stroke-width="1.6"/>
<line x1="561.3" y1="887.5" x2="556.3" y2="895.5" stroke="#3aa078" stroke-width="1.6"/>
<line x1="571.7" y1="845.0" x2="576.7" y2="854.0" stroke="#f0e020" stroke-width="2"/>
<line x1="573.7" y1="886.5" x2="578.7" y2="895.5" stroke="#f0e020" stroke-width="2"/>
<line x1="574.7" y1="846.0" x2="569.7" y2="855.0" stroke="#3aa078" stroke-width="1.6"/>
<line x1="571.7" y1="887.5" x2="566.7" y2="895.5" stroke="#3aa078" stroke-width="1.6"/>
<line x1="582.1" y1="845.0" x2="587.1" y2="854.0" stroke="#f0e020" stroke-width="2"/>
<line x1="584.1" y1="886.5" x2="589.1" y2="895.5" stroke="#f0e020" stroke-width="2"/>
<line x1="585.1" y1="846.0" x2="580.1" y2="855.0" stroke="#3aa078" stroke-width="1.6"/>
<line x1="582.1" y1="887.5" x2="577.1" y2="895.5" stroke="#3aa078" stroke-width="1.6"/>
<line x1="592.5" y1="845.0" x2="597.5" y2="854.0" stroke="#f0e020" stroke-width="2"/>
<line x1="594.5" y1="886.5" x2="599.5" y2="895.5" stroke="#f0e020" stroke-width="2"/>
<line x1="595.5" y1="846.0" x2="590.5" y2="855.0" stroke="#3aa078" stroke-width="1.6"/>
<line x1="592.5" y1="887.5" x2="587.5" y2="895.5" stroke="#3aa078" stroke-width="1.6"/>
<line x1="602.9" y1="845.0" x2="607.9" y2="854.0" stroke="#f0e020" stroke-width="2"/>
<line x1="604.9" y1="886.5" x2="609.9" y2="895.5" stroke="#f0e020" stroke-width="2"/>
<line x1="605.9" y1="846.0" x2="600.9" y2="855.0" stroke="#3aa078" stroke-width="1.6"/>
<line x1="602.9" y1="887.5" x2="597.9" y2="895.5" stroke="#3aa078" stroke-width="1.6"/>
<line x1="613.3" y1="845.0" x2="618.3" y2="854.0" stroke="#f0e020" stroke-width="2"/>
<line x1="615.3" y1="886.5" x2="620.3" y2="895.5" stroke="#f0e020" stroke-width="2"/>
<line x1="616.3" y1="846.0" x2="611.3" y2="855.0" stroke="#3aa078" stroke-width="1.6"/>
<line x1="613.3" y1="887.5" x2="608.3" y2="895.5" stroke="#3aa078" stroke-width="1.6"/>
<line x1="623.7" y1="845.0" x2="628.7" y2="854.0" stroke="#f0e020" stroke-width="2"/>
<line x1="625.7" y1="886.5" x2="630.7" y2="895.5" stroke="#f0e020" stroke-width="2"/>
<line x1="626.7" y1="846.0" x2="621.7" y2="855.0" stroke="#3aa078" stroke-width="1.6"/>
<line x1="623.7" y1="887.5" x2="618.7" y2="895.5" stroke="#3aa078" stroke-width="1.6"/>
<line x1="634.1" y1="845.0" x2="639.1" y2="854.0" stroke="#f0e020" stroke-width="2"/>
<line x1="636.1" y1="886.5" x2="641.1" y2="895.5" stroke="#f0e020" stroke-width="2"/>
<line x1="637.1" y1="846.0" x2="632.1" y2="855.0" stroke="#3aa078" stroke-width="1.6"/>
<line x1="634.1" y1="887.5" x2="629.1" y2="895.5" stroke="#3aa078" stroke-width="1.6"/>
<line x1="644.5" y1="845.0" x2="649.5" y2="854.0" stroke="#f0e020" stroke-width="2"/>
<line x1="646.5" y1="886.5" x2="651.5" y2="895.5" stroke="#f0e020" stroke-width="2"/>
<line x1="647.5" y1="846.0" x2="642.5" y2="855.0" stroke="#3aa078" stroke-width="1.6"/>
<line x1="644.5" y1="887.5" x2="639.5" y2="895.5" stroke="#3aa078" stroke-width="1.6"/>
<line x1="654.9" y1="845.0" x2="659.9" y2="854.0" stroke="#f0e020" stroke-width="2"/>
<line x1="656.9" y1="886.5" x2="661.9" y2="895.5" stroke="#f0e020" stroke-width="2"/>
<line x1="657.9" y1="846.0" x2="652.9" y2="855.0" stroke="#3aa078" stroke-width="1.6"/>
<line x1="654.9" y1="887.5" x2="649.9" y2="895.5" stroke="#3aa078" stroke-width="1.6"/>
<line x1="665.3" y1="845.0" x2="670.3" y2="854.0" stroke="#f0e020" stroke-width="2"/>
<line x1="667.3" y1="886.5" x2="672.3" y2="895.5" stroke="#f0e020" stroke-width="2"/>
<line x1="668.3" y1="846.0" x2="663.3" y2="855.0" stroke="#3aa078" stroke-width="1.6"/>
<line x1="665.3" y1="887.5" x2="660.3" y2="895.5" stroke="#3aa078" stroke-width="1.6"/>
<line x1="675.7" y1="845.0" x2="680.7" y2="854.0" stroke="#f0e020" stroke-width="2"/>
<line x1="677.7" y1="886.5" x2="682.7" y2="895.5" stroke="#f0e020" stroke-width="2"/>
<line x1="678.7" y1="846.0" x2="673.7" y2="855.0" stroke="#3aa078" stroke-width="1.6"/>
<line x1="675.7" y1="887.5" x2="670.7" y2="895.5" stroke="#3aa078" stroke-width="1.6"/>
<ellipse cx="534.5" cy="841.0" rx="5.5" ry="7.4" fill="url(#gY)"/>
<ellipse cx="544.9" cy="841.0" rx="5.5" ry="7.4" fill="url(#gY)"/>
<ellipse cx="555.3" cy="841.0" rx="5.5" ry="7.4" fill="url(#gY)"/>
<ellipse cx="565.7" cy="841.0" rx="5.5" ry="7.4" fill="url(#gY)"/>
<ellipse cx="576.1" cy="841.0" rx="5.5" ry="7.4" fill="url(#gY)"/>
<ellipse cx="586.5" cy="841.0" rx="5.5" ry="7.4" fill="url(#gY)"/>
<ellipse cx="596.9" cy="841.0" rx="5.5" ry="7.4" fill="url(#gY)"/>
<ellipse cx="607.3" cy="841.0" rx="5.5" ry="7.4" fill="url(#gY)"/>
<ellipse cx="617.7" cy="841.0" rx="5.5" ry="7.4" fill="url(#gY)"/>
<ellipse cx="628.1" cy="841.0" rx="5.5" ry="7.4" fill="url(#gY)"/>
<ellipse cx="638.5" cy="841.0" rx="5.5" ry="7.4" fill="url(#gY)"/>
<ellipse cx="648.9" cy="841.0" rx="5.5" ry="7.4" fill="url(#gY)"/>
<ellipse cx="659.3" cy="841.0" rx="5.5" ry="7.4" fill="url(#gY)"/>
<ellipse cx="541.5" cy="899.5" rx="5.5" ry="7.4" fill="url(#gY)"/>
<ellipse cx="551.9" cy="899.5" rx="5.5" ry="7.4" fill="url(#gY)"/>
<ellipse cx="562.3" cy="899.5" rx="5.5" ry="7.4" fill="url(#gY)"/>
<ellipse cx="572.7" cy="899.5" rx="5.5" ry="7.4" fill="url(#gY)"/>
<ellipse cx="583.1" cy="899.5" rx="5.5" ry="7.4" fill="url(#gY)"/>
<ellipse cx="593.5" cy="899.5" rx="5.5" ry="7.4" fill="url(#gY)"/>
<ellipse cx="603.9" cy="899.5" rx="5.5" ry="7.4" fill="url(#gY)"/>
<ellipse cx="614.3" cy="899.5" rx="5.5" ry="7.4" fill="url(#gY)"/>
<ellipse cx="624.7" cy="899.5" rx="5.5" ry="7.4" fill="url(#gY)"/>
<ellipse cx="635.1" cy="899.5" rx="5.5" ry="7.4" fill="url(#gY)"/>
<ellipse cx="645.5" cy="899.5" rx="5.5" ry="7.4" fill="url(#gY)"/>
<ellipse cx="655.9" cy="899.5" rx="5.5" ry="7.4" fill="url(#gY)"/>
<ellipse cx="666.3" cy="899.5" rx="5.5" ry="7.4" fill="url(#gY)"/>
<ellipse cx="589.2" cy="840.5" rx="10.3" ry="5.7" fill="url(#gR)"/>
<ellipse cx="599.1" cy="898.6" rx="6.5" ry="4.9" fill="url(#gR)"/>
<ellipse cx="562.0" cy="840.5" rx="10.2" ry="4.7" fill="url(#gR)"/>
<ellipse cx="542.0" cy="900.4" rx="8.4" ry="6.0" fill="url(#gR)"/>
<ellipse cx="586.9" cy="841.8" rx="8.9" ry="5.7" fill="url(#gR)"/>
<ellipse cx="630.5" cy="899.5" rx="5.6" ry="4.8" fill="url(#gR)"/>
<ellipse cx="646.9" cy="842.6" rx="2.5" ry="3.0" fill="url(#gR)"/>
<ellipse cx="653.4" cy="898.8" rx="2.5" ry="3.0" fill="url(#gR)"/>
<ellipse cx="619.3" cy="842.2" rx="2.5" ry="3.0" fill="url(#gR)"/>
<ellipse cx="617.4" cy="900.8" rx="2.5" ry="3.0" fill="url(#gR)"/>
<ellipse cx="602.8" cy="841.6" rx="2.5" ry="3.0" fill="url(#gR)"/>
<ellipse cx="623.0" cy="898.6" rx="2.5" ry="3.0" fill="url(#gR)"/>
<ellipse cx="653.2" cy="842.8" rx="2.5" ry="3.0" fill="url(#gR)"/>
<ellipse cx="545.0" cy="901.4" rx="2.5" ry="3.0" fill="url(#gR)"/>
<ellipse cx="660.0" cy="911.8" rx="4.2" ry="6.3" fill="url(#gB)"/>
<ellipse cx="550.3" cy="913.3" rx="6.3" ry="4.6" fill="url(#gB)"/>
<ellipse cx="555.5" cy="911.7" rx="6.0" ry="6.0" fill="url(#gB)"/>
<ellipse cx="655.5" cy="909.6" rx="4.0" ry="6.3" fill="url(#gB)"/>
<ellipse cx="535.2" cy="912.9" rx="4.4" ry="6.1" fill="url(#gB)"/>
<ellipse cx="636.5" cy="912.9" rx="5.9" ry="6.3" fill="url(#gB)"/>
<ellipse cx="560.0" cy="911.9" rx="5.2" ry="6.3" fill="url(#gB)"/>
<ellipse cx="635.2" cy="910.9" rx="5.8" ry="4.6" fill="url(#gB)"/>
<ellipse cx="538.0" cy="911.5" rx="5.7" ry="6.2" fill="url(#gB)"/>
<ellipse cx="613.5" cy="909.2" rx="5.3" ry="6.0" fill="url(#gB)"/>
<ellipse cx="609.8" cy="830.9" rx="6.5" ry="5.7" fill="url(#gB)"/>
<ellipse cx="561.0" cy="828.3" rx="5.1" ry="5.6" fill="url(#gB)"/>
<ellipse cx="586.2" cy="829.8" rx="5.5" ry="5.9" fill="url(#gB)"/>
<ellipse cx="562.1" cy="830.4" rx="5.9" ry="5.8" fill="url(#gB)"/>
<ellipse cx="608.6" cy="828.8" rx="6.6" ry="5.6" fill="url(#gB)"/>
<ellipse cx="559.0" cy="826.6" rx="4.6" ry="4.6" fill="url(#gB)"/>
<ellipse cx="644.8" cy="828.9" rx="6.4" ry="4.3" fill="url(#gB)"/>
</g>
<text x="458" y="495.2" font-family="Liberation Serif, serif" font-size="23.7" font-weight="normal" text-anchor="start" >88.19 e</text>
<text x="458" y="554.6" font-family="Liberation Serif, serif" font-size="23.7" font-weight="normal" text-anchor="start" >89.70 e</text>
<text x="458" y="613.1" font-family="Liberation Serif, serif" font-size="23.7" font-weight="normal" text-anchor="start" >89.70 e</text>
<text x="458" y="669.1" font-family="Liberation Serif, serif" font-size="23.7" font-weight="normal" text-anchor="start" >88.18 e</text>
<text x="458" y="731.7" font-family="Liberation Serif, serif" font-size="23.7" font-weight="normal" text-anchor="start" >88.20 e</text>
<text x="458" y="790.3" font-family="Liberation Serif, serif" font-size="23.7" font-weight="normal" text-anchor="start" >89.20 e</text>
<text x="458" y="852.7" font-family="Liberation Serif, serif" font-size="23.7" font-weight="normal" text-anchor="start" >89.73 e</text>
<text x="458" y="907.4" font-family="Liberation Serif, serif" font-size="23.7" font-weight="normal" text-anchor="start" >88.19 e</text>
<line x1="663.2" y1="554.6" x2="708.7" y2="554.6" stroke="#000" stroke-width="2"/>
<line x1="663.2" y1="608.4" x2="708.7" y2="608.4" stroke="#000" stroke-width="2"/>
<line x1="663.2" y1="667.8" x2="708.7" y2="667.8" stroke="#000" stroke-width="2"/>
<line x1="663.2" y1="723.7" x2="708.7" y2="723.7" stroke="#000" stroke-width="2"/>
<line x1="663.2" y1="785.8" x2="708.7" y2="785.8" stroke="#000" stroke-width="2"/>
<line x1="663.2" y1="840.2" x2="708.7" y2="840.2" stroke="#000" stroke-width="2"/>
<line x1="663.2" y1="906.6" x2="708.7" y2="906.6" stroke="#000" stroke-width="2"/>
<line x1="658" y1="956.8" x2="704.3" y2="956.8" stroke="#000" stroke-width="2"/>
<line x1="673.1" y1="556.1" x2="673.1" y2="606.9" stroke="#000" stroke-width="1.8" marker-start="url(#ah)" marker-end="url(#ah)"/>
<text x="681.9000000000001" y="588.4" font-family="Liberation Serif, serif" font-size="23.4" font-weight="normal" text-anchor="start" >2.999Å</text>
<text x="537.8" y="581.1" font-family="Liberation Serif, serif" font-size="23.4" font-weight="normal" text-anchor="start" >AC interface</text>
<line x1="673.1" y1="669.3" x2="673.1" y2="722.2" stroke="#000" stroke-width="1.8" marker-start="url(#ah)" marker-end="url(#ah)"/>
<text x="684.5" y="701.6" font-family="Liberation Serif, serif" font-size="23.4" font-weight="bold" text-anchor="start" >3.014Å</text>
<text x="537.8" y="700.3" font-family="Liberation Serif, serif" font-size="23.4" font-weight="normal" text-anchor="start" >AA interface</text>
<line x1="673.1" y1="787.3" x2="673.1" y2="838.7" stroke="#000" stroke-width="1.8" marker-start="url(#ah)" marker-end="url(#ah)"/>
<text x="683.2" y="820.2" font-family="Liberation Serif, serif" font-size="23.4" font-weight="normal" text-anchor="start" >2.998Å</text>
<text x="537.8" y="818.9" font-family="Liberation Serif, serif" font-size="23.4" font-weight="normal" text-anchor="start" >AC interface</text>
<line x1="674.4" y1="908.1" x2="674.4" y2="955.3" stroke="#000" stroke-width="1.8" marker-start="url(#ah)" marker-end="url(#ah)"/>
<text x="682.7" y="938.6" font-family="Liberation Serif, serif" font-size="23.4" font-weight="bold" text-anchor="start" >3.011Å</text>
<text x="537.8" y="936.5" font-family="Liberation Serif, serif" font-size="23.4" font-weight="normal" text-anchor="start" >AA interface</text>
<text x="505.3" y="990.5" font-family="Liberation Serif, serif" font-size="26">T-NbS<tspan font-size="17" dy="5">2</tspan><tspan dy="-5"> : Δc%=0.531</tspan></text>
<clipPath id="clipS5"><rect x="846" y="466.2" width="132" height="102.59999999999997"/></clipPath><g clip-path="url(#clipS5)">
<line x1="840.6" y1="488.2" x2="852.6" y2="516.8" stroke="#9ed030" stroke-width="1.9"/>
<line x1="842.6" y1="516.8" x2="854.6" y2="546.8" stroke="#9ed030" stroke-width="1.9"/>
<line x1="850.6" y1="486.2" x2="840.6" y2="516.8" stroke="#a08860" stroke-width="1.6"/>
<line x1="846.6" y1="516.8" x2="837.6" y2="544.8" stroke="#a08860" stroke-width="1.6"/>
<line x1="851.0" y1="488.2" x2="863.0" y2="516.8" stroke="#9ed030" stroke-width="1.9"/>
<line x1="853.0" y1="516.8" x2="865.0" y2="546.8" stroke="#9ed030" stroke-width="1.9"/>
<line x1="861.0" y1="486.2" x2="851.0" y2="516.8" stroke="#a08860" stroke-width="1.6"/>
<line x1="857.0" y1="516.8" x2="848.0" y2="544.8" stroke="#a08860" stroke-width="1.6"/>
<line x1="861.4" y1="488.2" x2="873.4" y2="516.8" stroke="#9ed030" stroke-width="1.9"/>
<line x1="863.4" y1="516.8" x2="875.4" y2="546.8" stroke="#9ed030" stroke-width="1.9"/>
<line x1="871.4" y1="486.2" x2="861.4" y2="516.8" stroke="#a08860" stroke-width="1.6"/>
<line x1="867.4" y1="516.8" x2="858.4" y2="544.8" stroke="#a08860" stroke-width="1.6"/>
<line x1="871.8" y1="488.2" x2="883.8" y2="516.8" stroke="#9ed030" stroke-width="1.9"/>
<line x1="873.8" y1="516.8" x2="885.8" y2="546.8" stroke="#9ed030" stroke-width="1.9"/>
<line x1="881.8" y1="486.2" x2="871.8" y2="516.8" stroke="#a08860" stroke-width="1.6"/>
<line x1="877.8" y1="516.8" x2="868.8" y2="544.8" stroke="#a08860" stroke-width="1.6"/>
<line x1="882.2" y1="488.2" x2="894.2" y2="516.8" stroke="#9ed030" stroke-width="1.9"/>
<line x1="884.2" y1="516.8" x2="896.2" y2="546.8" stroke="#9ed030" stroke-width="1.9"/>
<line x1="892.2" y1="486.2" x2="882.2" y2="516.8" stroke="#a08860" stroke-width="1.6"/>
<line x1="888.2" y1="516.8" x2="879.2" y2="544.8" stroke="#a08860" stroke-width="1.6"/>
<line x1="892.6" y1="488.2" x2="904.6" y2="516.8" stroke="#9ed030" stroke-width="1.9"/>
<line x1="894.6" y1="516.8" x2="906.6" y2="546.8" stroke="#9ed030" stroke-width="1.9"/>
<line x1="902.6" y1="486.2" x2="892.6" y2="516.8" stroke="#a08860" stroke-width="1.6"/>
<line x1="898.6" y1="516.8" x2="889.6" y2="544.8" stroke="#a08860" stroke-width="1.6"/>
<line x1="903.0" y1="488.2" x2="915.0" y2="516.8" stroke="#9ed030" stroke-width="1.9"/>
<line x1="905.0" y1="516.8" x2="917.0" y2="546.8" stroke="#9ed030" stroke-width="1.9"/>
<line x1="913.0" y1="486.2" x2="903.0" y2="516.8" stroke="#a08860" stroke-width="1.6"/>
<line x1="909.0" y1="516.8" x2="900.0" y2="544.8" stroke="#a08860" stroke-width="1.6"/>
<line x1="913.4" y1="488.2" x2="925.4" y2="516.8" stroke="#9ed030" stroke-width="1.9"/>
<line x1="915.4" y1="516.8" x2="927.4" y2="546.8" stroke="#9ed030" stroke-width="1.9"/>
<line x1="923.4" y1="486.2" x2="913.4" y2="516.8" stroke="#a08860" stroke-width="1.6"/>
<line x1="919.4" y1="516.8" x2="910.4" y2="544.8" stroke="#a08860" stroke-width="1.6"/>
<line x1="923.8" y1="488.2" x2="935.8" y2="516.8" stroke="#9ed030" stroke-width="1.9"/>
<line x1="925.8" y1="516.8" x2="937.8" y2="546.8" stroke="#9ed030" stroke-width="1.9"/>
<line x1="933.8" y1="486.2" x2="923.8" y2="516.8" stroke="#a08860" stroke-width="1.6"/>
<line x1="929.8" y1="516.8" x2="920.8" y2="544.8" stroke="#a08860" stroke-width="1.6"/>
<line x1="934.2" y1="488.2" x2="946.2" y2="516.8" stroke="#9ed030" stroke-width="1.9"/>
<line x1="936.2" y1="516.8" x2="948.2" y2="546.8" stroke="#9ed030" stroke-width="1.9"/>
<line x1="944.2" y1="486.2" x2="934.2" y2="516.8" stroke="#a08860" stroke-width="1.6"/>
<line x1="940.2" y1="516.8" x2="931.2" y2="544.8" stroke="#a08860" stroke-width="1.6"/>
<line x1="944.6" y1="488.2" x2="956.6" y2="516.8" stroke="#9ed030" stroke-width="1.9"/>
<line x1="946.6" y1="516.8" x2="958.6" y2="546.8" stroke="#9ed030" stroke-width="1.9"/>
<line x1="954.6" y1="486.2" x2="944.6" y2="516.8" stroke="#a08860" stroke-width="1.6"/>
<line x1="950.6" y1="516.8" x2="941.6" y2="544.8" stroke="#a08860" stroke-width="1.6"/>
<line x1="955.0" y1="488.2" x2="967.0" y2="516.8" stroke="#9ed030" stroke-width="1.9"/>
<line x1="957.0" y1="516.8" x2="969.0" y2="546.8" stroke="#9ed030" stroke-width="1.9"/>
<line x1="965.0" y1="486.2" x2="955.0" y2="516.8" stroke="#a08860" stroke-width="1.6"/>
<line x1="961.0" y1="516.8" x2="952.0" y2="544.8" stroke="#a08860" stroke-width="1.6"/>
<line x1="965.4" y1="488.2" x2="977.4" y2="516.8" stroke="#9ed030" stroke-width="1.9"/>
<line x1="967.4" y1="516.8" x2="979.4" y2="546.8" stroke="#9ed030" stroke-width="1.9"/>
<line x1="975.4" y1="486.2" x2="965.4" y2="516.8" stroke="#a08860" stroke-width="1.6"/>
<line x1="971.4" y1="516.8" x2="962.4" y2="544.8" stroke="#a08860" stroke-width="1.6"/>
<line x1="975.8" y1="488.2" x2="987.8" y2="516.8" stroke="#9ed030" stroke-width="1.9"/>
<line x1="977.8" y1="516.8" x2="989.8" y2="546.8" stroke="#9ed030" stroke-width="1.9"/>
<line x1="985.8" y1="486.2" x2="975.8" y2="516.8" stroke="#a08860" stroke-width="1.6"/>
<line x1="981.8" y1="516.8" x2="972.8" y2="544.8" stroke="#a08860" stroke-width="1.6"/>
<line x1="986.2" y1="488.2" x2="998.2" y2="516.8" stroke="#9ed030" stroke-width="1.9"/>
<line x1="988.2" y1="516.8" x2="1000.2" y2="546.8" stroke="#9ed030" stroke-width="1.9"/>
<line x1="996.2" y1="486.2" x2="986.2" y2="516.8" stroke="#a08860" stroke-width="1.6"/>
<line x1="992.2" y1="516.8" x2="983.2" y2="544.8" stroke="#a08860" stroke-width="1.6"/>
<ellipse cx="854.0" cy="483.2" rx="4.4" ry="5.6" fill="url(#gG2)"/>
<ellipse cx="851.0" cy="541.8" rx="4.4" ry="5.6" fill="url(#gG2)"/>
<ellipse cx="864.4" cy="483.2" rx="4.4" ry="5.6" fill="url(#gG2)"/>
<ellipse cx="861.4" cy="541.8" rx="4.4" ry="5.6" fill="url(#gG2)"/>
<ellipse cx="874.8" cy="483.2" rx="4.4" ry="5.6" fill="url(#gG2)"/>
<ellipse cx="871.8" cy="541.8" rx="4.4" ry="5.6" fill="url(#gG2)"/>
<ellipse cx="885.2" cy="483.2" rx="4.4" ry="5.6" fill="url(#gG2)"/>
<ellipse cx="882.2" cy="541.8" rx="4.4" ry="5.6" fill="url(#gG2)"/>
<ellipse cx="895.6" cy="483.2" rx="4.4" ry="5.6" fill="url(#gG2)"/>
<ellipse cx="892.6" cy="541.8" rx="4.4" ry="5.6" fill="url(#gG2)"/>
<ellipse cx="906.0" cy="483.2" rx="4.4" ry="5.6" fill="url(#gG2)"/>
<ellipse cx="903.0" cy="541.8" rx="4.4" ry="5.6" fill="url(#gG2)"/>
<ellipse cx="916.4" cy="483.2" rx="4.4" ry="5.6" fill="url(#gG2)"/>
<ellipse cx="913.4" cy="541.8" rx="4.4" ry="5.6" fill="url(#gG2)"/>
<ellipse cx="926.8" cy="483.2" rx="4.4" ry="5.6" fill="url(#gG2)"/>
<ellipse cx="923.8" cy="541.8" rx="4.4" ry="5.6" fill="url(#gG2)"/>
<ellipse cx="937.2" cy="483.2" rx="4.4" ry="5.6" fill="url(#gG2)"/>
<ellipse cx="934.2" cy="541.8" rx="4.4" ry="5.6" fill="url(#gG2)"/>
<ellipse cx="947.6" cy="483.2" rx="4.4" ry="5.6" fill="url(#gG2)"/>
<ellipse cx="944.6" cy="541.8" rx="4.4" ry="5.6" fill="url(#gG2)"/>
<ellipse cx="958.0" cy="483.2" rx="4.4" ry="5.6" fill="url(#gG2)"/>
<ellipse cx="955.0" cy="541.8" rx="4.4" ry="5.6" fill="url(#gG2)"/>
<ellipse cx="968.4" cy="483.2" rx="4.4" ry="5.6" fill="url(#gG2)"/>
<ellipse cx="965.4" cy="541.8" rx="4.4" ry="5.6" fill="url(#gG2)"/>
<ellipse cx="978.8" cy="483.2" rx="4.4" ry="5.6" fill="url(#gG2)"/>
<ellipse cx="975.8" cy="541.8" rx="4.4" ry="5.6" fill="url(#gG2)"/>
<ellipse cx="847.0" cy="514.8" rx="6.6" ry="10.2" fill="url(#gT2)"/>
<ellipse cx="857.4" cy="514.8" rx="6.6" ry="10.2" fill="url(#gT2)"/>
<ellipse cx="867.8" cy="514.8" rx="6.6" ry="10.2" fill="url(#gT2)"/>
<ellipse cx="878.2" cy="514.8" rx="6.6" ry="10.2" fill="url(#gT2)"/>
<ellipse cx="888.6" cy="514.8" rx="6.6" ry="10.2" fill="url(#gT2)"/>
<ellipse cx="899.0" cy="514.8" rx="6.6" ry="10.2" fill="url(#gT2)"/>
<ellipse cx="909.4" cy="514.8" rx="6.6" ry="10.2" fill="url(#gT2)"/>
<ellipse cx="919.8" cy="514.8" rx="6.6" ry="10.2" fill="url(#gT2)"/>
<ellipse cx="930.2" cy="514.8" rx="6.6" ry="10.2" fill="url(#gT2)"/>
<ellipse cx="940.6" cy="514.8" rx="6.6" ry="10.2" fill="url(#gT2)"/>
<ellipse cx="951.0" cy="514.8" rx="6.6" ry="10.2" fill="url(#gT2)"/>
<ellipse cx="961.4" cy="514.8" rx="6.6" ry="10.2" fill="url(#gT2)"/>
<ellipse cx="971.8" cy="514.8" rx="6.6" ry="10.2" fill="url(#gT2)"/>
<ellipse cx="982.2" cy="514.8" rx="6.6" ry="10.2" fill="url(#gT2)"/>
<ellipse cx="852.0" cy="516.8" rx="6.9" ry="10.6" fill="url(#gT)"/>
<ellipse cx="862.4" cy="516.8" rx="6.9" ry="10.6" fill="url(#gT)"/>
<ellipse cx="872.8" cy="516.8" rx="6.9" ry="10.6" fill="url(#gT)"/>
<ellipse cx="883.2" cy="516.8" rx="6.9" ry="10.6" fill="url(#gT)"/>
<ellipse cx="893.6" cy="516.8" rx="6.9" ry="10.6" fill="url(#gT)"/>
<ellipse cx="904.0" cy="516.8" rx="6.9" ry="10.6" fill="url(#gT)"/>
<ellipse cx="914.4" cy="516.8" rx="6.9" ry="10.6" fill="url(#gT)"/>
<ellipse cx="924.8" cy="516.8" rx="6.9" ry="10.6" fill="url(#gT)"/>
<ellipse cx="935.2" cy="516.8" rx="6.9" ry="10.6" fill="url(#gT)"/>
<ellipse cx="945.6" cy="516.8" rx="6.9" ry="10.6" fill="url(#gT)"/>
<ellipse cx="956.0" cy="516.8" rx="6.9" ry="10.6" fill="url(#gT)"/>
<ellipse cx="966.4" cy="516.8" rx="6.9" ry="10.6" fill="url(#gT)"/>
<ellipse cx="976.8" cy="516.8" rx="6.9" ry="10.6" fill="url(#gT)"/>
<ellipse cx="987.2" cy="516.8" rx="6.9" ry="10.6" fill="url(#gT)"/>
<ellipse cx="849.0" cy="488.2" rx="4.6" ry="6.2" fill="url(#gG)"/>
<ellipse cx="859.4" cy="488.2" rx="4.6" ry="6.2" fill="url(#gG)"/>
<ellipse cx="869.8" cy="488.2" rx="4.6" ry="6.2" fill="url(#gG)"/>
<ellipse cx="880.2" cy="488.2" rx="4.6" ry="6.2" fill="url(#gG)"/>
<ellipse cx="890.6" cy="488.2" rx="4.6" ry="6.2" fill="url(#gG)"/>
<ellipse cx="901.0" cy="488.2" rx="4.6" ry="6.2" fill="url(#gG)"/>
<ellipse cx="911.4" cy="488.2" rx="4.6" ry="6.2" fill="url(#gG)"/>
<ellipse cx="921.8" cy="488.2" rx="4.6" ry="6.2" fill="url(#gG)"/>
<ellipse cx="932.2" cy="488.2" rx="4.6" ry="6.2" fill="url(#gG)"/>
<ellipse cx="942.6" cy="488.2" rx="4.6" ry="6.2" fill="url(#gG)"/>
<ellipse cx="953.0" cy="488.2" rx="4.6" ry="6.2" fill="url(#gG)"/>
<ellipse cx="963.4" cy="488.2" rx="4.6" ry="6.2" fill="url(#gG)"/>
<ellipse cx="973.8" cy="488.2" rx="4.6" ry="6.2" fill="url(#gG)"/>
<ellipse cx="856.0" cy="546.8" rx="4.6" ry="6.2" fill="url(#gG)"/>
<ellipse cx="866.4" cy="546.8" rx="4.6" ry="6.2" fill="url(#gG)"/>
<ellipse cx="876.8" cy="546.8" rx="4.6" ry="6.2" fill="url(#gG)"/>
<ellipse cx="887.2" cy="546.8" rx="4.6" ry="6.2" fill="url(#gG)"/>
<ellipse cx="897.6" cy="546.8" rx="4.6" ry="6.2" fill="url(#gG)"/>
<ellipse cx="908.0" cy="546.8" rx="4.6" ry="6.2" fill="url(#gG)"/>
<ellipse cx="918.4" cy="546.8" rx="4.6" ry="6.2" fill="url(#gG)"/>
<ellipse cx="928.8" cy="546.8" rx="4.6" ry="6.2" fill="url(#gG)"/>
<ellipse cx="939.2" cy="546.8" rx="4.6" ry="6.2" fill="url(#gG)"/>
<ellipse cx="949.6" cy="546.8" rx="4.6" ry="6.2" fill="url(#gG)"/>
<ellipse cx="960.0" cy="546.8" rx="4.6" ry="6.2" fill="url(#gG)"/>
<ellipse cx="970.4" cy="546.8" rx="4.6" ry="6.2" fill="url(#gG)"/>
<ellipse cx="980.8" cy="546.8" rx="4.6" ry="6.2" fill="url(#gG)"/>
<ellipse cx="927.2" cy="531.8" rx="6.9" ry="7.5" fill="url(#gR)"/>
<ellipse cx="880.9" cy="477.2" rx="5.4" ry="5.1" fill="url(#gB)"/>
<ellipse cx="917.4" cy="547.0" rx="5.1" ry="4.8" fill="url(#gR)"/>
<ellipse cx="957.6" cy="556.7" rx="4.1" ry="6.8" fill="url(#gR)"/>
<ellipse cx="865.7" cy="486.5" rx="6.6" ry="8.3" fill="url(#gR)"/>
<ellipse cx="870.6" cy="479.3" rx="5.7" ry="7.1" fill="url(#gR)"/>
<ellipse cx="875.4" cy="526.8" rx="4.7" ry="5.6" fill="url(#gB)"/>
<ellipse cx="870.6" cy="476.0" rx="6.8" ry="6.6" fill="url(#gB)"/>
<ellipse cx="923.9" cy="496.4" rx="6.8" ry="6.2" fill="url(#gB)"/>
<ellipse cx="889.2" cy="556.0" rx="4.5" ry="8.2" fill="url(#gR)"/>
<ellipse cx="967.7" cy="552.1" rx="5.0" ry="6.6" fill="url(#gB)"/>
<ellipse cx="851.1" cy="477.6" rx="4.0" ry="5.1" fill="url(#gR)"/>
<ellipse cx="951.6" cy="553.5" rx="6.6" ry="4.5" fill="url(#gB)"/>
<ellipse cx="942.8" cy="535.0" rx="5.2" ry="8.4" fill="url(#gR)"/>
<ellipse cx="875.9" cy="551.5" rx="4.9" ry="8.2" fill="url(#gR)"/>
<ellipse cx="917.6" cy="550.9" rx="6.7" ry="6.8" fill="url(#gR)"/>
<ellipse cx="939.4" cy="553.1" rx="3.8" ry="6.7" fill="url(#gR)"/>
<ellipse cx="964.5" cy="484.8" rx="6.8" ry="6.1" fill="url(#gB)"/>
<ellipse cx="902.3" cy="487.1" rx="6.7" ry="5.5" fill="url(#gR)"/>
<ellipse cx="875.7" cy="520.6" rx="6.0" ry="7.5" fill="url(#gR)"/>
<ellipse cx="863.2" cy="548.7" rx="4.7" ry="6.0" fill="url(#gB)"/>
<ellipse cx="973.9" cy="540.6" rx="7.3" ry="7.1" fill="url(#gB)"/>
<ellipse cx="889.4" cy="481.3" rx="4.0" ry="7.7" fill="url(#gR)"/>
<ellipse cx="915.9" cy="487.4" rx="4.2" ry="6.2" fill="url(#gB)"/>
<ellipse cx="913.9" cy="553.3" rx="6.6" ry="7.5" fill="url(#gR)"/>
<ellipse cx="936.1" cy="530.1" rx="5.7" ry="7.0" fill="url(#gB)"/>
<ellipse cx="953.6" cy="488.0" rx="7.3" ry="5.5" fill="url(#gB)"/>
<ellipse cx="872.2" cy="516.3" rx="4.8" ry="5.2" fill="url(#gB)"/>
<ellipse cx="885.8" cy="555.6" rx="4.9" ry="6.9" fill="url(#gB)"/>
<ellipse cx="941.5" cy="510.2" rx="7.0" ry="7.1" fill="url(#gR)"/>
</g>
<clipPath id="clipS6"><rect x="846" y="580.7" width="132" height="103.89999999999998"/></clipPath><g clip-path="url(#clipS6)">
<line x1="840.6" y1="602.7" x2="852.6" y2="630.0" stroke="#9ed030" stroke-width="1.9"/>
<line x1="842.6" y1="630.0" x2="854.6" y2="662.6" stroke="#9ed030" stroke-width="1.9"/>
<line x1="850.6" y1="600.7" x2="840.6" y2="630.0" stroke="#a08860" stroke-width="1.6"/>
<line x1="846.6" y1="630.0" x2="837.6" y2="660.6" stroke="#a08860" stroke-width="1.6"/>
<line x1="851.0" y1="602.7" x2="863.0" y2="630.0" stroke="#9ed030" stroke-width="1.9"/>
<line x1="853.0" y1="630.0" x2="865.0" y2="662.6" stroke="#9ed030" stroke-width="1.9"/>
<line x1="861.0" y1="600.7" x2="851.0" y2="630.0" stroke="#a08860" stroke-width="1.6"/>
<line x1="857.0" y1="630.0" x2="848.0" y2="660.6" stroke="#a08860" stroke-width="1.6"/>
<line x1="861.4" y1="602.7" x2="873.4" y2="630.0" stroke="#9ed030" stroke-width="1.9"/>
<line x1="863.4" y1="630.0" x2="875.4" y2="662.6" stroke="#9ed030" stroke-width="1.9"/>
<line x1="871.4" y1="600.7" x2="861.4" y2="630.0" stroke="#a08860" stroke-width="1.6"/>
<line x1="867.4" y1="630.0" x2="858.4" y2="660.6" stroke="#a08860" stroke-width="1.6"/>
<line x1="871.8" y1="602.7" x2="883.8" y2="630.0" stroke="#9ed030" stroke-width="1.9"/>
<line x1="873.8" y1="630.0" x2="885.8" y2="662.6" stroke="#9ed030" stroke-width="1.9"/>
<line x1="881.8" y1="600.7" x2="871.8" y2="630.0" stroke="#a08860" stroke-width="1.6"/>
<line x1="877.8" y1="630.0" x2="868.8" y2="660.6" stroke="#a08860" stroke-width="1.6"/>
<line x1="882.2" y1="602.7" x2="894.2" y2="630.0" stroke="#9ed030" stroke-width="1.9"/>
<line x1="884.2" y1="630.0" x2="896.2" y2="662.6" stroke="#9ed030" stroke-width="1.9"/>
<line x1="892.2" y1="600.7" x2="882.2" y2="630.0" stroke="#a08860" stroke-width="1.6"/>
<line x1="888.2" y1="630.0" x2="879.2" y2="660.6" stroke="#a08860" stroke-width="1.6"/>
<line x1="892.6" y1="602.7" x2="904.6" y2="630.0" stroke="#9ed030" stroke-width="1.9"/>
<line x1="894.6" y1="630.0" x2="906.6" y2="662.6" stroke="#9ed030" stroke-width="1.9"/>
<line x1="902.6" y1="600.7" x2="892.6" y2="630.0" stroke="#a08860" stroke-width="1.6"/>
<line x1="898.6" y1="630.0" x2="889.6" y2="660.6" stroke="#a08860" stroke-width="1.6"/>
<line x1="903.0" y1="602.7" x2="915.0" y2="630.0" stroke="#9ed030" stroke-width="1.9"/>
<line x1="905.0" y1="630.0" x2="917.0" y2="662.6" stroke="#9ed030" stroke-width="1.9"/>
<line x1="913.0" y1="600.7" x2="903.0" y2="630.0" stroke="#a08860" stroke-width="1.6"/>
<line x1="909.0" y1="630.0" x2="900.0" y2="660.6" stroke="#a08860" stroke-width="1.6"/>
<line x1="913.4" y1="602.7" x2="925.4" y2="630.0" stroke="#9ed030" stroke-width="1.9"/>
<line x1="915.4" y1="630.0" x2="927.4" y2="662.6" stroke="#9ed030" stroke-width="1.9"/>
<line x1="923.4" y1="600.7" x2="913.4" y2="630.0" stroke="#a08860" stroke-width="1.6"/>
<line x1="919.4" y1="630.0" x2="910.4" y2="660.6" stroke="#a08860" stroke-width="1.6"/>
<line x1="923.8" y1="602.7" x2="935.8" y2="630.0" stroke="#9ed030" stroke-width="1.9"/>
<line x1="925.8" y1="630.0" x2="937.8" y2="662.6" stroke="#9ed030" stroke-width="1.9"/>
<line x1="933.8" y1="600.7" x2="923.8" y2="630.0" stroke="#a08860" stroke-width="1.6"/>
<line x1="929.8" y1="630.0" x2="920.8" y2="660.6" stroke="#a08860" stroke-width="1.6"/>
<line x1="934.2" y1="602.7" x2="946.2" y2="630.0" stroke="#9ed030" stroke-width="1.9"/>
<line x1="936.2" y1="630.0" x2="948.2" y2="662.6" stroke="#9ed030" stroke-width="1.9"/>
<line x1="944.2" y1="600.7" x2="934.2" y2="630.0" stroke="#a08860" stroke-width="1.6"/>
<line x1="940.2" y1="630.0" x2="931.2" y2="660.6" stroke="#a08860" stroke-width="1.6"/>
<line x1="944.6" y1="602.7" x2="956.6" y2="630.0" stroke="#9ed030" stroke-width="1.9"/>
<line x1="946.6" y1="630.0" x2="958.6" y2="662.6" stroke="#9ed030" stroke-width="1.9"/>
<line x1="954.6" y1="600.7" x2="944.6" y2="630.0" stroke="#a08860" stroke-width="1.6"/>
<line x1="950.6" y1="630.0" x2="941.6" y2="660.6" stroke="#a08860" stroke-width="1.6"/>
<line x1="955.0" y1="602.7" x2="967.0" y2="630.0" stroke="#9ed030" stroke-width="1.9"/>
<line x1="957.0" y1="630.0" x2="969.0" y2="662.6" stroke="#9ed030" stroke-width="1.9"/>
<line x1="965.0" y1="600.7" x2="955.0" y2="630.0" stroke="#a08860" stroke-width="1.6"/>
<line x1="961.0" y1="630.0" x2="952.0" y2="660.6" stroke="#a08860" stroke-width="1.6"/>
<line x1="965.4" y1="602.7" x2="977.4" y2="630.0" stroke="#9ed030" stroke-width="1.9"/>
<line x1="967.4" y1="630.0" x2="979.4" y2="662.6" stroke="#9ed030" stroke-width="1.9"/>
<line x1="975.4" y1="600.7" x2="965.4" y2="630.0" stroke="#a08860" stroke-width="1.6"/>
<line x1="971.4" y1="630.0" x2="962.4" y2="660.6" stroke="#a08860" stroke-width="1.6"/>
<line x1="975.8" y1="602.7" x2="987.8" y2="630.0" stroke="#9ed030" stroke-width="1.9"/>
<line x1="977.8" y1="630.0" x2="989.8" y2="662.6" stroke="#9ed030" stroke-width="1.9"/>
<line x1="985.8" y1="600.7" x2="975.8" y2="630.0" stroke="#a08860" stroke-width="1.6"/>
<line x1="981.8" y1="630.0" x2="972.8" y2="660.6" stroke="#a08860" stroke-width="1.6"/>
<line x1="986.2" y1="602.7" x2="998.2" y2="630.0" stroke="#9ed030" stroke-width="1.9"/>
<line x1="988.2" y1="630.0" x2="1000.2" y2="662.6" stroke="#9ed030" stroke-width="1.9"/>
<line x1="996.2" y1="600.7" x2="986.2" y2="630.0" stroke="#a08860" stroke-width="1.6"/>
<line x1="992.2" y1="630.0" x2="983.2" y2="660.6" stroke="#a08860" stroke-width="1.6"/>
<ellipse cx="854.0" cy="597.7" rx="4.4" ry="5.6" fill="url(#gG2)"/>
<ellipse cx="851.0" cy="657.6" rx="4.4" ry="5.6" fill="url(#gG2)"/>
<ellipse cx="864.4" cy="597.7" rx="4.4" ry="5.6" fill="url(#gG2)"/>
<ellipse cx="861.4" cy="657.6" rx="4.4" ry="5.6" fill="url(#gG2)"/>
<ellipse cx="874.8" cy="597.7" rx="4.4" ry="5.6" fill="url(#gG2)"/>
<ellipse cx="871.8" cy="657.6" rx="4.4" ry="5.6" fill="url(#gG2)"/>
<ellipse cx="885.2" cy="597.7" rx="4.4" ry="5.6" fill="url(#gG2)"/>
<ellipse cx="882.2" cy="657.6" rx="4.4" ry="5.6" fill="url(#gG2)"/>
<ellipse cx="895.6" cy="597.7" rx="4.4" ry="5.6" fill="url(#gG2)"/>
<ellipse cx="892.6" cy="657.6" rx="4.4" ry="5.6" fill="url(#gG2)"/>
<ellipse cx="906.0" cy="597.7" rx="4.4" ry="5.6" fill="url(#gG2)"/>
<ellipse cx="903.0" cy="657.6" rx="4.4" ry="5.6" fill="url(#gG2)"/>
<ellipse cx="916.4" cy="597.7" rx="4.4" ry="5.6" fill="url(#gG2)"/>
<ellipse cx="913.4" cy="657.6" rx="4.4" ry="5.6" fill="url(#gG2)"/>
<ellipse cx="926.8" cy="597.7" rx="4.4" ry="5.6" fill="url(#gG2)"/>
<ellipse cx="923.8" cy="657.6" rx="4.4" ry="5.6" fill="url(#gG2)"/>
<ellipse cx="937.2" cy="597.7" rx="4.4" ry="5.6" fill="url(#gG2)"/>
<ellipse cx="934.2" cy="657.6" rx="4.4" ry="5.6" fill="url(#gG2)"/>
<ellipse cx="947.6" cy="597.7" rx="4.4" ry="5.6" fill="url(#gG2)"/>
<ellipse cx="944.6" cy="657.6" rx="4.4" ry="5.6" fill="url(#gG2)"/>
<ellipse cx="958.0" cy="597.7" rx="4.4" ry="5.6" fill="url(#gG2)"/>
<ellipse cx="955.0" cy="657.6" rx="4.4" ry="5.6" fill="url(#gG2)"/>
<ellipse cx="968.4" cy="597.7" rx="4.4" ry="5.6" fill="url(#gG2)"/>
<ellipse cx="965.4" cy="657.6" rx="4.4" ry="5.6" fill="url(#gG2)"/>
<ellipse cx="978.8" cy="597.7" rx="4.4" ry="5.6" fill="url(#gG2)"/>
<ellipse cx="975.8" cy="657.6" rx="4.4" ry="5.6" fill="url(#gG2)"/>
<ellipse cx="847.0" cy="628.0" rx="6.6" ry="10.2" fill="url(#gT2)"/>
<ellipse cx="857.4" cy="628.0" rx="6.6" ry="10.2" fill="url(#gT2)"/>
<ellipse cx="867.8" cy="628.0" rx="6.6" ry="10.2" fill="url(#gT2)"/>
<ellipse cx="878.2" cy="628.0" rx="6.6" ry="10.2" fill="url(#gT2)"/>
<ellipse cx="888.6" cy="628.0" rx="6.6" ry="10.2" fill="url(#gT2)"/>
<ellipse cx="899.0" cy="628.0" rx="6.6" ry="10.2" fill="url(#gT2)"/>
<ellipse cx="909.4" cy="628.0" rx="6.6" ry="10.2" fill="url(#gT2)"/>
<ellipse cx="919.8" cy="628.0" rx="6.6" ry="10.2" fill="url(#gT2)"/>
<ellipse cx="930.2" cy="628.0" rx="6.6" ry="10.2" fill="url(#gT2)"/>
<ellipse cx="940.6" cy="628.0" rx="6.6" ry="10.2" fill="url(#gT2)"/>
<ellipse cx="951.0" cy="628.0" rx="6.6" ry="10.2" fill="url(#gT2)"/>
<ellipse cx="961.4" cy="628.0" rx="6.6" ry="10.2" fill="url(#gT2)"/>
<ellipse cx="971.8" cy="628.0" rx="6.6" ry="10.2" fill="url(#gT2)"/>
<ellipse cx="982.2" cy="628.0" rx="6.6" ry="10.2" fill="url(#gT2)"/>
<ellipse cx="852.0" cy="630.0" rx="6.9" ry="10.6" fill="url(#gT)"/>
<ellipse cx="862.4" cy="630.0" rx="6.9" ry="10.6" fill="url(#gT)"/>
<ellipse cx="872.8" cy="630.0" rx="6.9" ry="10.6" fill="url(#gT)"/>
<ellipse cx="883.2" cy="630.0" rx="6.9" ry="10.6" fill="url(#gT)"/>
<ellipse cx="893.6" cy="630.0" rx="6.9" ry="10.6" fill="url(#gT)"/>
<ellipse cx="904.0" cy="630.0" rx="6.9" ry="10.6" fill="url(#gT)"/>
<ellipse cx="914.4" cy="630.0" rx="6.9" ry="10.6" fill="url(#gT)"/>
<ellipse cx="924.8" cy="630.0" rx="6.9" ry="10.6" fill="url(#gT)"/>
<ellipse cx="935.2" cy="630.0" rx="6.9" ry="10.6" fill="url(#gT)"/>
<ellipse cx="945.6" cy="630.0" rx="6.9" ry="10.6" fill="url(#gT)"/>
<ellipse cx="956.0" cy="630.0" rx="6.9" ry="10.6" fill="url(#gT)"/>
<ellipse cx="966.4" cy="630.0" rx="6.9" ry="10.6" fill="url(#gT)"/>
<ellipse cx="976.8" cy="630.0" rx="6.9" ry="10.6" fill="url(#gT)"/>
<ellipse cx="987.2" cy="630.0" rx="6.9" ry="10.6" fill="url(#gT)"/>
<ellipse cx="849.0" cy="602.7" rx="4.6" ry="6.2" fill="url(#gG)"/>
<ellipse cx="859.4" cy="602.7" rx="4.6" ry="6.2" fill="url(#gG)"/>
<ellipse cx="869.8" cy="602.7" rx="4.6" ry="6.2" fill="url(#gG)"/>
<ellipse cx="880.2" cy="602.7" rx="4.6" ry="6.2" fill="url(#gG)"/>
<ellipse cx="890.6" cy="602.7" rx="4.6" ry="6.2" fill="url(#gG)"/>
<ellipse cx="901.0" cy="602.7" rx="4.6" ry="6.2" fill="url(#gG)"/>
<ellipse cx="911.4" cy="602.7" rx="4.6" ry="6.2" fill="url(#gG)"/>
<ellipse cx="921.8" cy="602.7" rx="4.6" ry="6.2" fill="url(#gG)"/>
<ellipse cx="932.2" cy="602.7" rx="4.6" ry="6.2" fill="url(#gG)"/>
<ellipse cx="942.6" cy="602.7" rx="4.6" ry="6.2" fill="url(#gG)"/>
<ellipse cx="953.0" cy="602.7" rx="4.6" ry="6.2" fill="url(#gG)"/>
<ellipse cx="963.4" cy="602.7" rx="4.6" ry="6.2" fill="url(#gG)"/>
<ellipse cx="973.8" cy="602.7" rx="4.6" ry="6.2" fill="url(#gG)"/>
<ellipse cx="856.0" cy="662.6" rx="4.6" ry="6.2" fill="url(#gG)"/>
<ellipse cx="866.4" cy="662.6" rx="4.6" ry="6.2" fill="url(#gG)"/>
<ellipse cx="876.8" cy="662.6" rx="4.6" ry="6.2" fill="url(#gG)"/>
<ellipse cx="887.2" cy="662.6" rx="4.6" ry="6.2" fill="url(#gG)"/>
<ellipse cx="897.6" cy="662.6" rx="4.6" ry="6.2" fill="url(#gG)"/>
<ellipse cx="908.0" cy="662.6" rx="4.6" ry="6.2" fill="url(#gG)"/>
<ellipse cx="918.4" cy="662.6" rx="4.6" ry="6.2" fill="url(#gG)"/>
<ellipse cx="928.8" cy="662.6" rx="4.6" ry="6.2" fill="url(#gG)"/>
<ellipse cx="939.2" cy="662.6" rx="4.6" ry="6.2" fill="url(#gG)"/>
<ellipse cx="949.6" cy="662.6" rx="4.6" ry="6.2" fill="url(#gG)"/>
<ellipse cx="960.0" cy="662.6" rx="4.6" ry="6.2" fill="url(#gG)"/>
<ellipse cx="970.4" cy="662.6" rx="4.6" ry="6.2" fill="url(#gG)"/>
<ellipse cx="980.8" cy="662.6" rx="4.6" ry="6.2" fill="url(#gG)"/>
<ellipse cx="948.4" cy="631.9" rx="3.6" ry="4.7" fill="url(#gB)"/>
<ellipse cx="922.7" cy="644.4" rx="6.6" ry="5.2" fill="url(#gB)"/>
<ellipse cx="949.4" cy="628.4" rx="4.3" ry="6.5" fill="url(#gR)"/>
<ellipse cx="949.8" cy="600.1" rx="6.9" ry="5.5" fill="url(#gR)"/>
<ellipse cx="861.5" cy="647.9" rx="6.3" ry="7.4" fill="url(#gB)"/>
<ellipse cx="936.9" cy="612.6" rx="5.9" ry="4.9" fill="url(#gR)"/>
<ellipse cx="931.3" cy="674.7" rx="5.6" ry="6.9" fill="url(#gR)"/>
<ellipse cx="936.5" cy="656.4" rx="6.0" ry="5.1" fill="url(#gR)"/>
<ellipse cx="903.3" cy="664.2" rx="4.0" ry="7.0" fill="url(#gR)"/>
<ellipse cx="888.7" cy="596.0" rx="5.9" ry="7.8" fill="url(#gR)"/>
<ellipse cx="958.6" cy="665.1" rx="3.6" ry="5.5" fill="url(#gR)"/>
<ellipse cx="962.2" cy="623.0" rx="5.6" ry="5.3" fill="url(#gB)"/>
<ellipse cx="934.2" cy="665.0" rx="3.9" ry="6.0" fill="url(#gB)"/>
<ellipse cx="949.9" cy="597.5" rx="5.3" ry="7.7" fill="url(#gB)"/>
<ellipse cx="948.7" cy="668.7" rx="7.3" ry="4.9" fill="url(#gB)"/>
<ellipse cx="934.3" cy="672.0" rx="3.6" ry="6.4" fill="url(#gR)"/>
<ellipse cx="881.1" cy="617.1" rx="4.8" ry="6.3" fill="url(#gB)"/>
<ellipse cx="971.7" cy="628.7" rx="4.6" ry="6.1" fill="url(#gB)"/>
<ellipse cx="909.3" cy="594.6" rx="6.0" ry="6.1" fill="url(#gB)"/>
<ellipse cx="895.4" cy="601.6" rx="6.3" ry="5.2" fill="url(#gB)"/>
<ellipse cx="930.1" cy="644.1" rx="7.2" ry="5.3" fill="url(#gR)"/>
<ellipse cx="850.8" cy="663.3" rx="5.9" ry="6.6" fill="url(#gR)"/>
<ellipse cx="934.6" cy="675.4" rx="6.9" ry="4.3" fill="url(#gB)"/>
<ellipse cx="873.9" cy="638.3" rx="6.7" ry="7.6" fill="url(#gB)"/>
<ellipse cx="915.1" cy="592.7" rx="4.9" ry="4.7" fill="url(#gB)"/>
<ellipse cx="927.6" cy="614.9" rx="6.4" ry="4.2" fill="url(#gR)"/>
<ellipse cx="909.3" cy="611.1" rx="6.3" ry="4.6" fill="url(#gR)"/>
<ellipse cx="953.3" cy="597.7" rx="7.1" ry="8.0" fill="url(#gB)"/>
<ellipse cx="906.0" cy="647.2" rx="6.8" ry="4.8" fill="url(#gR)"/>
<ellipse cx="965.8" cy="668.3" rx="5.4" ry="6.6" fill="url(#gB)"/>
</g>
<clipPath id="clipS7"><rect x="846" y="690" width="132" height="109.29999999999995"/></clipPath><g clip-path="url(#clipS7)">
<line x1="840.6" y1="712.0" x2="852.6" y2="746.5" stroke="#9ed030" stroke-width="1.9"/>
<line x1="842.6" y1="746.5" x2="854.6" y2="777.3" stroke="#9ed030" stroke-width="1.9"/>
<line x1="850.6" y1="710.0" x2="840.6" y2="746.5" stroke="#a08860" stroke-width="1.6"/>
<line x1="846.6" y1="746.5" x2="837.6" y2="775.3" stroke="#a08860" stroke-width="1.6"/>
<line x1="851.0" y1="712.0" x2="863.0" y2="746.5" stroke="#9ed030" stroke-width="1.9"/>
<line x1="853.0" y1="746.5" x2="865.0" y2="777.3" stroke="#9ed030" stroke-width="1.9"/>
<line x1="861.0" y1="710.0" x2="851.0" y2="746.5" stroke="#a08860" stroke-width="1.6"/>
<line x1="857.0" y1="746.5" x2="848.0" y2="775.3" stroke="#a08860" stroke-width="1.6"/>
<line x1="861.4" y1="712.0" x2="873.4" y2="746.5" stroke="#9ed030" stroke-width="1.9"/>
<line x1="863.4" y1="746.5" x2="875.4" y2="777.3" stroke="#9ed030" stroke-width="1.9"/>
<line x1="871.4" y1="710.0" x2="861.4" y2="746.5" stroke="#a08860" stroke-width="1.6"/>
<line x1="867.4" y1="746.5" x2="858.4" y2="775.3" stroke="#a08860" stroke-width="1.6"/>
<line x1="871.8" y1="712.0" x2="883.8" y2="746.5" stroke="#9ed030" stroke-width="1.9"/>
<line x1="873.8" y1="746.5" x2="885.8" y2="777.3" stroke="#9ed030" stroke-width="1.9"/>
<line x1="881.8" y1="710.0" x2="871.8" y2="746.5" stroke="#a08860" stroke-width="1.6"/>
<line x1="877.8" y1="746.5" x2="868.8" y2="775.3" stroke="#a08860" stroke-width="1.6"/>
<line x1="882.2" y1="712.0" x2="894.2" y2="746.5" stroke="#9ed030" stroke-width="1.9"/>
<line x1="884.2" y1="746.5" x2="896.2" y2="777.3" stroke="#9ed030" stroke-width="1.9"/>
<line x1="892.2" y1="710.0" x2="882.2" y2="746.5" stroke="#a08860" stroke-width="1.6"/>
<line x1="888.2" y1="746.5" x2="879.2" y2="775.3" stroke="#a08860" stroke-width="1.6"/>
<line x1="892.6" y1="712.0" x2="904.6" y2="746.5" stroke="#9ed030" stroke-width="1.9"/>
<line x1="894.6" y1="746.5" x2="906.6" y2="777.3" stroke="#9ed030" stroke-width="1.9"/>
<line x1="902.6" y1="710.0" x2="892.6" y2="746.5" stroke="#a08860" stroke-width="1.6"/>
<line x1="898.6" y1="746.5" x2="889.6" y2="775.3" stroke="#a08860" stroke-width="1.6"/>
<line x1="903.0" y1="712.0" x2="915.0" y2="746.5" stroke="#9ed030" stroke-width="1.9"/>
<line x1="905.0" y1="746.5" x2="917.0" y2="777.3" stroke="#9ed030" stroke-width="1.9"/>
<line x1="913.0" y1="710.0" x2="903.0" y2="746.5" stroke="#a08860" stroke-width="1.6"/>
<line x1="909.0" y1="746.5" x2="900.0" y2="775.3" stroke="#a08860" stroke-width="1.6"/>
<line x1="913.4" y1="712.0" x2="925.4" y2="746.5" stroke="#9ed030" stroke-width="1.9"/>
<line x1="915.4" y1="746.5" x2="927.4" y2="777.3" stroke="#9ed030" stroke-width="1.9"/>
<line x1="923.4" y1="710.0" x2="913.4" y2="746.5" stroke="#a08860" stroke-width="1.6"/>
<line x1="919.4" y1="746.5" x2="910.4" y2="775.3" stroke="#a08860" stroke-width="1.6"/>
<line x1="923.8" y1="712.0" x2="935.8" y2="746.5" stroke="#9ed030" stroke-width="1.9"/>
<line x1="925.8" y1="746.5" x2="937.8" y2="777.3" stroke="#9ed030" stroke-width="1.9"/>
<line x1="933.8" y1="710.0" x2="923.8" y2="746.5" stroke="#a08860" stroke-width="1.6"/>
<line x1="929.8" y1="746.5" x2="920.8" y2="775.3" stroke="#a08860" stroke-width="1.6"/>
<line x1="934.2" y1="712.0" x2="946.2" y2="746.5" stroke="#9ed030" stroke-width="1.9"/>
<line x1="936.2" y1="746.5" x2="948.2" y2="777.3" stroke="#9ed030" stroke-width="1.9"/>
<line x1="944.2" y1="710.0" x2="934.2" y2="746.5" stroke="#a08860" stroke-width="1.6"/>
<line x1="940.2" y1="746.5" x2="931.2" y2="775.3" stroke="#a08860" stroke-width="1.6"/>
<line x1="944.6" y1="712.0" x2="956.6" y2="746.5" stroke="#9ed030" stroke-width="1.9"/>
<line x1="946.6" y1="746.5" x2="958.6" y2="777.3" stroke="#9ed030" stroke-width="1.9"/>
<line x1="954.6" y1="710.0" x2="944.6" y2="746.5" stroke="#a08860" stroke-width="1.6"/>
<line x1="950.6" y1="746.5" x2="941.6" y2="775.3" stroke="#a08860" stroke-width="1.6"/>
<line x1="955.0" y1="712.0" x2="967.0" y2="746.5" stroke="#9ed030" stroke-width="1.9"/>
<line x1="957.0" y1="746.5" x2="969.0" y2="777.3" stroke="#9ed030" stroke-width="1.9"/>
<line x1="965.0" y1="710.0" x2="955.0" y2="746.5" stroke="#a08860" stroke-width="1.6"/>
<line x1="961.0" y1="746.5" x2="952.0" y2="775.3" stroke="#a08860" stroke-width="1.6"/>
<line x1="965.4" y1="712.0" x2="977.4" y2="746.5" stroke="#9ed030" stroke-width="1.9"/>
<line x1="967.4" y1="746.5" x2="979.4" y2="777.3" stroke="#9ed030" stroke-width="1.9"/>
<line x1="975.4" y1="710.0" x2="965.4" y2="746.5" stroke="#a08860" stroke-width="1.6"/>
<line x1="971.4" y1="746.5" x2="962.4" y2="775.3" stroke="#a08860" stroke-width="1.6"/>
<line x1="975.8" y1="712.0" x2="987.8" y2="746.5" stroke="#9ed030" stroke-width="1.9"/>
<line x1="977.8" y1="746.5" x2="989.8" y2="777.3" stroke="#9ed030" stroke-width="1.9"/>
<line x1="985.8" y1="710.0" x2="975.8" y2="746.5" stroke="#a08860" stroke-width="1.6"/>
<line x1="981.8" y1="746.5" x2="972.8" y2="775.3" stroke="#a08860" stroke-width="1.6"/>
<line x1="986.2" y1="712.0" x2="998.2" y2="746.5" stroke="#9ed030" stroke-width="1.9"/>
<line x1="988.2" y1="746.5" x2="1000.2" y2="777.3" stroke="#9ed030" stroke-width="1.9"/>
<line x1="996.2" y1="710.0" x2="986.2" y2="746.5" stroke="#a08860" stroke-width="1.6"/>
<line x1="992.2" y1="746.5" x2="983.2" y2="775.3" stroke="#a08860" stroke-width="1.6"/>
<ellipse cx="854.0" cy="707.0" rx="4.4" ry="5.6" fill="url(#gG2)"/>
<ellipse cx="851.0" cy="772.3" rx="4.4" ry="5.6" fill="url(#gG2)"/>
<ellipse cx="864.4" cy="707.0" rx="4.4" ry="5.6" fill="url(#gG2)"/>
<ellipse cx="861.4" cy="772.3" rx="4.4" ry="5.6" fill="url(#gG2)"/>
<ellipse cx="874.8" cy="707.0" rx="4.4" ry="5.6" fill="url(#gG2)"/>
<ellipse cx="871.8" cy="772.3" rx="4.4" ry="5.6" fill="url(#gG2)"/>
<ellipse cx="885.2" cy="707.0" rx="4.4" ry="5.6" fill="url(#gG2)"/>
<ellipse cx="882.2" cy="772.3" rx="4.4" ry="5.6" fill="url(#gG2)"/>
<ellipse cx="895.6" cy="707.0" rx="4.4" ry="5.6" fill="url(#gG2)"/>
<ellipse cx="892.6" cy="772.3" rx="4.4" ry="5.6" fill="url(#gG2)"/>
<ellipse cx="906.0" cy="707.0" rx="4.4" ry="5.6" fill="url(#gG2)"/>
<ellipse cx="903.0" cy="772.3" rx="4.4" ry="5.6" fill="url(#gG2)"/>
<ellipse cx="916.4" cy="707.0" rx="4.4" ry="5.6" fill="url(#gG2)"/>
<ellipse cx="913.4" cy="772.3" rx="4.4" ry="5.6" fill="url(#gG2)"/>
<ellipse cx="926.8" cy="707.0" rx="4.4" ry="5.6" fill="url(#gG2)"/>
<ellipse cx="923.8" cy="772.3" rx="4.4" ry="5.6" fill="url(#gG2)"/>
<ellipse cx="937.2" cy="707.0" rx="4.4" ry="5.6" fill="url(#gG2)"/>
<ellipse cx="934.2" cy="772.3" rx="4.4" ry="5.6" fill="url(#gG2)"/>
<ellipse cx="947.6" cy="707.0" rx="4.4" ry="5.6" fill="url(#gG2)"/>
<ellipse cx="944.6" cy="772.3" rx="4.4" ry="5.6" fill="url(#gG2)"/>
<ellipse cx="958.0" cy="707.0" rx="4.4" ry="5.6" fill="url(#gG2)"/>
<ellipse cx="955.0" cy="772.3" rx="4.4" ry="5.6" fill="url(#gG2)"/>
<ellipse cx="968.4" cy="707.0" rx="4.4" ry="5.6" fill="url(#gG2)"/>
<ellipse cx="965.4" cy="772.3" rx="4.4" ry="5.6" fill="url(#gG2)"/>
<ellipse cx="978.8" cy="707.0" rx="4.4" ry="5.6" fill="url(#gG2)"/>
<ellipse cx="975.8" cy="772.3" rx="4.4" ry="5.6" fill="url(#gG2)"/>
<ellipse cx="847.0" cy="744.5" rx="6.6" ry="10.2" fill="url(#gT2)"/>
<ellipse cx="857.4" cy="744.5" rx="6.6" ry="10.2" fill="url(#gT2)"/>
<ellipse cx="867.8" cy="744.5" rx="6.6" ry="10.2" fill="url(#gT2)"/>
<ellipse cx="878.2" cy="744.5" rx="6.6" ry="10.2" fill="url(#gT2)"/>
<ellipse cx="888.6" cy="744.5" rx="6.6" ry="10.2" fill="url(#gT2)"/>
<ellipse cx="899.0" cy="744.5" rx="6.6" ry="10.2" fill="url(#gT2)"/>
<ellipse cx="909.4" cy="744.5" rx="6.6" ry="10.2" fill="url(#gT2)"/>
<ellipse cx="919.8" cy="744.5" rx="6.6" ry="10.2" fill="url(#gT2)"/>
<ellipse cx="930.2" cy="744.5" rx="6.6" ry="10.2" fill="url(#gT2)"/>
<ellipse cx="940.6" cy="744.5" rx="6.6" ry="10.2" fill="url(#gT2)"/>
<ellipse cx="951.0" cy="744.5" rx="6.6" ry="10.2" fill="url(#gT2)"/>
<ellipse cx="961.4" cy="744.5" rx="6.6" ry="10.2" fill="url(#gT2)"/>
<ellipse cx="971.8" cy="744.5" rx="6.6" ry="10.2" fill="url(#gT2)"/>
<ellipse cx="982.2" cy="744.5" rx="6.6" ry="10.2" fill="url(#gT2)"/>
<ellipse cx="852.0" cy="746.5" rx="6.9" ry="10.6" fill="url(#gT)"/>
<ellipse cx="862.4" cy="746.5" rx="6.9" ry="10.6" fill="url(#gT)"/>
<ellipse cx="872.8" cy="746.5" rx="6.9" ry="10.6" fill="url(#gT)"/>
<ellipse cx="883.2" cy="746.5" rx="6.9" ry="10.6" fill="url(#gT)"/>
<ellipse cx="893.6" cy="746.5" rx="6.9" ry="10.6" fill="url(#gT)"/>
<ellipse cx="904.0" cy="746.5" rx="6.9" ry="10.6" fill="url(#gT)"/>
<ellipse cx="914.4" cy="746.5" rx="6.9" ry="10.6" fill="url(#gT)"/>
<ellipse cx="924.8" cy="746.5" rx="6.9" ry="10.6" fill="url(#gT)"/>
<ellipse cx="935.2" cy="746.5" rx="6.9" ry="10.6" fill="url(#gT)"/>
<ellipse cx="945.6" cy="746.5" rx="6.9" ry="10.6" fill="url(#gT)"/>
<ellipse cx="956.0" cy="746.5" rx="6.9" ry="10.6" fill="url(#gT)"/>
<ellipse cx="966.4" cy="746.5" rx="6.9" ry="10.6" fill="url(#gT)"/>
<ellipse cx="976.8" cy="746.5" rx="6.9" ry="10.6" fill="url(#gT)"/>
<ellipse cx="987.2" cy="746.5" rx="6.9" ry="10.6" fill="url(#gT)"/>
<ellipse cx="849.0" cy="712.0" rx="4.6" ry="6.2" fill="url(#gG)"/>
<ellipse cx="859.4" cy="712.0" rx="4.6" ry="6.2" fill="url(#gG)"/>
<ellipse cx="869.8" cy="712.0" rx="4.6" ry="6.2" fill="url(#gG)"/>
<ellipse cx="880.2" cy="712.0" rx="4.6" ry="6.2" fill="url(#gG)"/>
<ellipse cx="890.6" cy="712.0" rx="4.6" ry="6.2" fill="url(#gG)"/>
<ellipse cx="901.0" cy="712.0" rx="4.6" ry="6.2" fill="url(#gG)"/>
<ellipse cx="911.4" cy="712.0" rx="4.6" ry="6.2" fill="url(#gG)"/>
<ellipse cx="921.8" cy="712.0" rx="4.6" ry="6.2" fill="url(#gG)"/>
<ellipse cx="932.2" cy="712.0" rx="4.6" ry="6.2" fill="url(#gG)"/>
<ellipse cx="942.6" cy="712.0" rx="4.6" ry="6.2" fill="url(#gG)"/>
<ellipse cx="953.0" cy="712.0" rx="4.6" ry="6.2" fill="url(#gG)"/>
<ellipse cx="963.4" cy="712.0" rx="4.6" ry="6.2" fill="url(#gG)"/>
<ellipse cx="973.8" cy="712.0" rx="4.6" ry="6.2" fill="url(#gG)"/>
<ellipse cx="856.0" cy="777.3" rx="4.6" ry="6.2" fill="url(#gG)"/>
<ellipse cx="866.4" cy="777.3" rx="4.6" ry="6.2" fill="url(#gG)"/>
<ellipse cx="876.8" cy="777.3" rx="4.6" ry="6.2" fill="url(#gG)"/>
<ellipse cx="887.2" cy="777.3" rx="4.6" ry="6.2" fill="url(#gG)"/>
<ellipse cx="897.6" cy="777.3" rx="4.6" ry="6.2" fill="url(#gG)"/>
<ellipse cx="908.0" cy="777.3" rx="4.6" ry="6.2" fill="url(#gG)"/>
<ellipse cx="918.4" cy="777.3" rx="4.6" ry="6.2" fill="url(#gG)"/>
<ellipse cx="928.8" cy="777.3" rx="4.6" ry="6.2" fill="url(#gG)"/>
<ellipse cx="939.2" cy="777.3" rx="4.6" ry="6.2" fill="url(#gG)"/>
<ellipse cx="949.6" cy="777.3" rx="4.6" ry="6.2" fill="url(#gG)"/>
<ellipse cx="960.0" cy="777.3" rx="4.6" ry="6.2" fill="url(#gG)"/>
<ellipse cx="970.4" cy="777.3" rx="4.6" ry="6.2" fill="url(#gG)"/>
<ellipse cx="980.8" cy="777.3" rx="4.6" ry="6.2" fill="url(#gG)"/>
<ellipse cx="890.2" cy="707.5" rx="6.8" ry="4.4" fill="url(#gR)"/>
<ellipse cx="922.3" cy="728.9" rx="5.2" ry="4.3" fill="url(#gR)"/>
<ellipse cx="861.2" cy="788.0" rx="7.3" ry="6.8" fill="url(#gR)"/>
<ellipse cx="922.3" cy="706.6" rx="7.4" ry="4.2" fill="url(#gR)"/>
<ellipse cx="956.5" cy="700.9" rx="5.8" ry="6.5" fill="url(#gR)"/>
<ellipse cx="934.6" cy="706.4" rx="5.0" ry="6.5" fill="url(#gR)"/>
<ellipse cx="857.8" cy="701.7" rx="6.6" ry="6.1" fill="url(#gB)"/>
<ellipse cx="964.5" cy="780.5" rx="6.3" ry="5.1" fill="url(#gR)"/>
<ellipse cx="921.2" cy="788.7" rx="4.7" ry="8.4" fill="url(#gB)"/>
<ellipse cx="864.6" cy="787.1" rx="7.2" ry="5.9" fill="url(#gR)"/>
<ellipse cx="969.3" cy="706.3" rx="4.9" ry="5.6" fill="url(#gB)"/>
<ellipse cx="911.6" cy="720.8" rx="7.3" ry="6.1" fill="url(#gR)"/>
<ellipse cx="932.4" cy="708.1" rx="4.6" ry="5.7" fill="url(#gB)"/>
<ellipse cx="932.9" cy="705.0" rx="5.9" ry="6.2" fill="url(#gR)"/>
<ellipse cx="877.1" cy="708.6" rx="5.1" ry="7.9" fill="url(#gB)"/>
<ellipse cx="860.0" cy="784.4" rx="6.8" ry="7.9" fill="url(#gR)"/>
<ellipse cx="884.5" cy="782.0" rx="7.3" ry="4.7" fill="url(#gB)"/>
<ellipse cx="871.9" cy="702.0" rx="6.8" ry="4.8" fill="url(#gB)"/>
<ellipse cx="885.0" cy="705.9" rx="7.3" ry="7.1" fill="url(#gB)"/>
<ellipse cx="913.9" cy="754.4" rx="5.3" ry="7.9" fill="url(#gR)"/>
<ellipse cx="968.0" cy="747.9" rx="5.1" ry="4.5" fill="url(#gB)"/>
<ellipse cx="928.7" cy="699.9" rx="5.3" ry="4.5" fill="url(#gR)"/>
<ellipse cx="924.5" cy="706.4" rx="7.3" ry="6.8" fill="url(#gR)"/>
<ellipse cx="858.7" cy="703.9" rx="7.3" ry="6.7" fill="url(#gB)"/>
<ellipse cx="908.8" cy="705.3" rx="5.4" ry="5.4" fill="url(#gB)"/>
<ellipse cx="867.9" cy="757.9" rx="6.8" ry="4.7" fill="url(#gB)"/>
<ellipse cx="852.9" cy="746.2" rx="6.3" ry="8.1" fill="url(#gR)"/>
<ellipse cx="944.0" cy="707.4" rx="6.3" ry="5.2" fill="url(#gR)"/>
<ellipse cx="895.5" cy="709.0" rx="6.0" ry="6.8" fill="url(#gB)"/>
<ellipse cx="947.8" cy="727.8" rx="6.8" ry="7.3" fill="url(#gR)"/>
</g>
<clipPath id="clipS8"><rect x="846" y="808.3" width="132" height="105.5"/></clipPath><g clip-path="url(#clipS8)">
<line x1="840.6" y1="830.3" x2="852.6" y2="861.0" stroke="#9ed030" stroke-width="1.9"/>
<line x1="842.6" y1="861.0" x2="854.6" y2="891.8" stroke="#9ed030" stroke-width="1.9"/>
<line x1="850.6" y1="828.3" x2="840.6" y2="861.0" stroke="#a08860" stroke-width="1.6"/>
<line x1="846.6" y1="861.0" x2="837.6" y2="889.8" stroke="#a08860" stroke-width="1.6"/>
<line x1="851.0" y1="830.3" x2="863.0" y2="861.0" stroke="#9ed030" stroke-width="1.9"/>
<line x1="853.0" y1="861.0" x2="865.0" y2="891.8" stroke="#9ed030" stroke-width="1.9"/>
<line x1="861.0" y1="828.3" x2="851.0" y2="861.0" stroke="#a08860" stroke-width="1.6"/>
<line x1="857.0" y1="861.0" x2="848.0" y2="889.8" stroke="#a08860" stroke-width="1.6"/>
<line x1="861.4" y1="830.3" x2="873.4" y2="861.0" stroke="#9ed030" stroke-width="1.9"/>
<line x1="863.4" y1="861.0" x2="875.4" y2="891.8" stroke="#9ed030" stroke-width="1.9"/>
<line x1="871.4" y1="828.3" x2="861.4" y2="861.0" stroke="#a08860" stroke-width="1.6"/>
<line x1="867.4" y1="861.0" x2="858.4" y2="889.8" stroke="#a08860" stroke-width="1.6"/>
<line x1="871.8" y1="830.3" x2="883.8" y2="861.0" stroke="#9ed030" stroke-width="1.9"/>
<line x1="873.8" y1="861.0" x2="885.8" y2="891.8" stroke="#9ed030" stroke-width="1.9"/>
<line x1="881.8" y1="828.3" x2="871.8" y2="861.0" stroke="#a08860" stroke-width="1.6"/>
<line x1="877.8" y1="861.0" x2="868.8" y2="889.8" stroke="#a08860" stroke-width="1.6"/>
<line x1="882.2" y1="830.3" x2="894.2" y2="861.0" stroke="#9ed030" stroke-width="1.9"/>
<line x1="884.2" y1="861.0" x2="896.2" y2="891.8" stroke="#9ed030" stroke-width="1.9"/>
<line x1="892.2" y1="828.3" x2="882.2" y2="861.0" stroke="#a08860" stroke-width="1.6"/>
<line x1="888.2" y1="861.0" x2="879.2" y2="889.8" stroke="#a08860" stroke-width="1.6"/>
<line x1="892.6" y1="830.3" x2="904.6" y2="861.0" stroke="#9ed030" stroke-width="1.9"/>
<line x1="894.6" y1="861.0" x2="906.6" y2="891.8" stroke="#9ed030" stroke-width="1.9"/>
<line x1="902.6" y1="828.3" x2="892.6" y2="861.0" stroke="#a08860" stroke-width="1.6"/>
<line x1="898.6" y1="861.0" x2="889.6" y2="889.8" stroke="#a08860" stroke-width="1.6"/>
<line x1="903.0" y1="830.3" x2="915.0" y2="861.0" stroke="#9ed030" stroke-width="1.9"/>
<line x1="905.0" y1="861.0" x2="917.0" y2="891.8" stroke="#9ed030" stroke-width="1.9"/>
<line x1="913.0" y1="828.3" x2="903.0" y2="861.0" stroke="#a08860" stroke-width="1.6"/>
<line x1="909.0" y1="861.0" x2="900.0" y2="889.8" stroke="#a08860" stroke-width="1.6"/>
<line x1="913.4" y1="830.3" x2="925.4" y2="861.0" stroke="#9ed030" stroke-width="1.9"/>
<line x1="915.4" y1="861.0" x2="927.4" y2="891.8" stroke="#9ed030" stroke-width="1.9"/>
<line x1="923.4" y1="828.3" x2="913.4" y2="861.0" stroke="#a08860" stroke-width="1.6"/>
<line x1="919.4" y1="861.0" x2="910.4" y2="889.8" stroke="#a08860" stroke-width="1.6"/>
<line x1="923.8" y1="830.3" x2="935.8" y2="861.0" stroke="#9ed030" stroke-width="1.9"/>
<line x1="925.8" y1="861.0" x2="937.8" y2="891.8" stroke="#9ed030" stroke-width="1.9"/>
<line x1="933.8" y1="828.3" x2="923.8" y2="861.0" stroke="#a08860" stroke-width="1.6"/>
<line x1="929.8" y1="861.0" x2="920.8" y2="889.8" stroke="#a08860" stroke-width="1.6"/>
<line x1="934.2" y1="830.3" x2="946.2" y2="861.0" stroke="#9ed030" stroke-width="1.9"/>
<line x1="936.2" y1="861.0" x2="948.2" y2="891.8" stroke="#9ed030" stroke-width="1.9"/>
<line x1="944.2" y1="828.3" x2="934.2" y2="861.0" stroke="#a08860" stroke-width="1.6"/>
<line x1="940.2" y1="861.0" x2="931.2" y2="889.8" stroke="#a08860" stroke-width="1.6"/>
<line x1="944.6" y1="830.3" x2="956.6" y2="861.0" stroke="#9ed030" stroke-width="1.9"/>
<line x1="946.6" y1="861.0" x2="958.6" y2="891.8" stroke="#9ed030" stroke-width="1.9"/>
<line x1="954.6" y1="828.3" x2="944.6" y2="861.0" stroke="#a08860" stroke-width="1.6"/>
<line x1="950.6" y1="861.0" x2="941.6" y2="889.8" stroke="#a08860" stroke-width="1.6"/>
<line x1="955.0" y1="830.3" x2="967.0" y2="861.0" stroke="#9ed030" stroke-width="1.9"/>
<line x1="957.0" y1="861.0" x2="969.0" y2="891.8" stroke="#9ed030" stroke-width="1.9"/>
<line x1="965.0" y1="828.3" x2="955.0" y2="861.0" stroke="#a08860" stroke-width="1.6"/>
<line x1="961.0" y1="861.0" x2="952.0" y2="889.8" stroke="#a08860" stroke-width="1.6"/>
<line x1="965.4" y1="830.3" x2="977.4" y2="861.0" stroke="#9ed030" stroke-width="1.9"/>
<line x1="967.4" y1="861.0" x2="979.4" y2="891.8" stroke="#9ed030" stroke-width="1.9"/>
<line x1="975.4" y1="828.3" x2="965.4" y2="861.0" stroke="#a08860" stroke-width="1.6"/>
<line x1="971.4" y1="861.0" x2="962.4" y2="889.8" stroke="#a08860" stroke-width="1.6"/>
<line x1="975.8" y1="830.3" x2="987.8" y2="861.0" stroke="#9ed030" stroke-width="1.9"/>
<line x1="977.8" y1="861.0" x2="989.8" y2="891.8" stroke="#9ed030" stroke-width="1.9"/>
<line x1="985.8" y1="828.3" x2="975.8" y2="861.0" stroke="#a08860" stroke-width="1.6"/>
<line x1="981.8" y1="861.0" x2="972.8" y2="889.8" stroke="#a08860" stroke-width="1.6"/>
<line x1="986.2" y1="830.3" x2="998.2" y2="861.0" stroke="#9ed030" stroke-width="1.9"/>
<line x1="988.2" y1="861.0" x2="1000.2" y2="891.8" stroke="#9ed030" stroke-width="1.9"/>
<line x1="996.2" y1="828.3" x2="986.2" y2="861.0" stroke="#a08860" stroke-width="1.6"/>
<line x1="992.2" y1="861.0" x2="983.2" y2="889.8" stroke="#a08860" stroke-width="1.6"/>
<ellipse cx="854.0" cy="825.3" rx="4.4" ry="5.6" fill="url(#gG2)"/>
<ellipse cx="851.0" cy="886.8" rx="4.4" ry="5.6" fill="url(#gG2)"/>
<ellipse cx="864.4" cy="825.3" rx="4.4" ry="5.6" fill="url(#gG2)"/>
<ellipse cx="861.4" cy="886.8" rx="4.4" ry="5.6" fill="url(#gG2)"/>
<ellipse cx="874.8" cy="825.3" rx="4.4" ry="5.6" fill="url(#gG2)"/>
<ellipse cx="871.8" cy="886.8" rx="4.4" ry="5.6" fill="url(#gG2)"/>
<ellipse cx="885.2" cy="825.3" rx="4.4" ry="5.6" fill="url(#gG2)"/>
<ellipse cx="882.2" cy="886.8" rx="4.4" ry="5.6" fill="url(#gG2)"/>
<ellipse cx="895.6" cy="825.3" rx="4.4" ry="5.6" fill="url(#gG2)"/>
<ellipse cx="892.6" cy="886.8" rx="4.4" ry="5.6" fill="url(#gG2)"/>
<ellipse cx="906.0" cy="825.3" rx="4.4" ry="5.6" fill="url(#gG2)"/>
<ellipse cx="903.0" cy="886.8" rx="4.4" ry="5.6" fill="url(#gG2)"/>
<ellipse cx="916.4" cy="825.3" rx="4.4" ry="5.6" fill="url(#gG2)"/>
<ellipse cx="913.4" cy="886.8" rx="4.4" ry="5.6" fill="url(#gG2)"/>
<ellipse cx="926.8" cy="825.3" rx="4.4" ry="5.6" fill="url(#gG2)"/>
<ellipse cx="923.8" cy="886.8" rx="4.4" ry="5.6" fill="url(#gG2)"/>
<ellipse cx="937.2" cy="825.3" rx="4.4" ry="5.6" fill="url(#gG2)"/>
<ellipse cx="934.2" cy="886.8" rx="4.4" ry="5.6" fill="url(#gG2)"/>
<ellipse cx="947.6" cy="825.3" rx="4.4" ry="5.6" fill="url(#gG2)"/>
<ellipse cx="944.6" cy="886.8" rx="4.4" ry="5.6" fill="url(#gG2)"/>
<ellipse cx="958.0" cy="825.3" rx="4.4" ry="5.6" fill="url(#gG2)"/>
<ellipse cx="955.0" cy="886.8" rx="4.4" ry="5.6" fill="url(#gG2)"/>
<ellipse cx="968.4" cy="825.3" rx="4.4" ry="5.6" fill="url(#gG2)"/>
<ellipse cx="965.4" cy="886.8" rx="4.4" ry="5.6" fill="url(#gG2)"/>
<ellipse cx="978.8" cy="825.3" rx="4.4" ry="5.6" fill="url(#gG2)"/>
<ellipse cx="975.8" cy="886.8" rx="4.4" ry="5.6" fill="url(#gG2)"/>
<ellipse cx="847.0" cy="859.0" rx="6.6" ry="10.2" fill="url(#gT2)"/>
<ellipse cx="857.4" cy="859.0" rx="6.6" ry="10.2" fill="url(#gT2)"/>
<ellipse cx="867.8" cy="859.0" rx="6.6" ry="10.2" fill="url(#gT2)"/>
<ellipse cx="878.2" cy="859.0" rx="6.6" ry="10.2" fill="url(#gT2)"/>
<ellipse cx="888.6" cy="859.0" rx="6.6" ry="10.2" fill="url(#gT2)"/>
<ellipse cx="899.0" cy="859.0" rx="6.6" ry="10.2" fill="url(#gT2)"/>
<ellipse cx="909.4" cy="859.0" rx="6.6" ry="10.2" fill="url(#gT2)"/>
<ellipse cx="919.8" cy="859.0" rx="6.6" ry="10.2" fill="url(#gT2)"/>
<ellipse cx="930.2" cy="859.0" rx="6.6" ry="10.2" fill="url(#gT2)"/>
<ellipse cx="940.6" cy="859.0" rx="6.6" ry="10.2" fill="url(#gT2)"/>
<ellipse cx="951.0" cy="859.0" rx="6.6" ry="10.2" fill="url(#gT2)"/>
<ellipse cx="961.4" cy="859.0" rx="6.6" ry="10.2" fill="url(#gT2)"/>
<ellipse cx="971.8" cy="859.0" rx="6.6" ry="10.2" fill="url(#gT2)"/>
<ellipse cx="982.2" cy="859.0" rx="6.6" ry="10.2" fill="url(#gT2)"/>
<ellipse cx="852.0" cy="861.0" rx="6.9" ry="10.6" fill="url(#gT)"/>
<ellipse cx="862.4" cy="861.0" rx="6.9" ry="10.6" fill="url(#gT)"/>
<ellipse cx="872.8" cy="861.0" rx="6.9" ry="10.6" fill="url(#gT)"/>
<ellipse cx="883.2" cy="861.0" rx="6.9" ry="10.6" fill="url(#gT)"/>
<ellipse cx="893.6" cy="861.0" rx="6.9" ry="10.6" fill="url(#gT)"/>
<ellipse cx="904.0" cy="861.0" rx="6.9" ry="10.6" fill="url(#gT)"/>
<ellipse cx="914.4" cy="861.0" rx="6.9" ry="10.6" fill="url(#gT)"/>
<ellipse cx="924.8" cy="861.0" rx="6.9" ry="10.6" fill="url(#gT)"/>
<ellipse cx="935.2" cy="861.0" rx="6.9" ry="10.6" fill="url(#gT)"/>
<ellipse cx="945.6" cy="861.0" rx="6.9" ry="10.6" fill="url(#gT)"/>
<ellipse cx="956.0" cy="861.0" rx="6.9" ry="10.6" fill="url(#gT)"/>
<ellipse cx="966.4" cy="861.0" rx="6.9" ry="10.6" fill="url(#gT)"/>
<ellipse cx="976.8" cy="861.0" rx="6.9" ry="10.6" fill="url(#gT)"/>
<ellipse cx="987.2" cy="861.0" rx="6.9" ry="10.6" fill="url(#gT)"/>
<ellipse cx="849.0" cy="830.3" rx="4.6" ry="6.2" fill="url(#gG)"/>
<ellipse cx="859.4" cy="830.3" rx="4.6" ry="6.2" fill="url(#gG)"/>
<ellipse cx="869.8" cy="830.3" rx="4.6" ry="6.2" fill="url(#gG)"/>
<ellipse cx="880.2" cy="830.3" rx="4.6" ry="6.2" fill="url(#gG)"/>
<ellipse cx="890.6" cy="830.3" rx="4.6" ry="6.2" fill="url(#gG)"/>
<ellipse cx="901.0" cy="830.3" rx="4.6" ry="6.2" fill="url(#gG)"/>
<ellipse cx="911.4" cy="830.3" rx="4.6" ry="6.2" fill="url(#gG)"/>
<ellipse cx="921.8" cy="830.3" rx="4.6" ry="6.2" fill="url(#gG)"/>
<ellipse cx="932.2" cy="830.3" rx="4.6" ry="6.2" fill="url(#gG)"/>
<ellipse cx="942.6" cy="830.3" rx="4.6" ry="6.2" fill="url(#gG)"/>
<ellipse cx="953.0" cy="830.3" rx="4.6" ry="6.2" fill="url(#gG)"/>
<ellipse cx="963.4" cy="830.3" rx="4.6" ry="6.2" fill="url(#gG)"/>
<ellipse cx="973.8" cy="830.3" rx="4.6" ry="6.2" fill="url(#gG)"/>
<ellipse cx="856.0" cy="891.8" rx="4.6" ry="6.2" fill="url(#gG)"/>
<ellipse cx="866.4" cy="891.8" rx="4.6" ry="6.2" fill="url(#gG)"/>
<ellipse cx="876.8" cy="891.8" rx="4.6" ry="6.2" fill="url(#gG)"/>
<ellipse cx="887.2" cy="891.8" rx="4.6" ry="6.2" fill="url(#gG)"/>
<ellipse cx="897.6" cy="891.8" rx="4.6" ry="6.2" fill="url(#gG)"/>
<ellipse cx="908.0" cy="891.8" rx="4.6" ry="6.2" fill="url(#gG)"/>
<ellipse cx="918.4" cy="891.8" rx="4.6" ry="6.2" fill="url(#gG)"/>
<ellipse cx="928.8" cy="891.8" rx="4.6" ry="6.2" fill="url(#gG)"/>
<ellipse cx="939.2" cy="891.8" rx="4.6" ry="6.2" fill="url(#gG)"/>
<ellipse cx="949.6" cy="891.8" rx="4.6" ry="6.2" fill="url(#gG)"/>
<ellipse cx="960.0" cy="891.8" rx="4.6" ry="6.2" fill="url(#gG)"/>
<ellipse cx="970.4" cy="891.8" rx="4.6" ry="6.2" fill="url(#gG)"/>
<ellipse cx="980.8" cy="891.8" rx="4.6" ry="6.2" fill="url(#gG)"/>
<ellipse cx="878.1" cy="841.8" rx="3.8" ry="5.1" fill="url(#gR)"/>
<ellipse cx="973.9" cy="825.6" rx="5.4" ry="5.8" fill="url(#gB)"/>
<ellipse cx="921.1" cy="856.0" rx="4.4" ry="4.1" fill="url(#gB)"/>
<ellipse cx="883.1" cy="903.5" rx="6.4" ry="7.0" fill="url(#gB)"/>
<ellipse cx="862.0" cy="855.2" rx="3.9" ry="4.3" fill="url(#gB)"/>
<ellipse cx="879.1" cy="829.0" rx="5.8" ry="4.6" fill="url(#gR)"/>
<ellipse cx="858.0" cy="860.5" rx="4.1" ry="7.9" fill="url(#gR)"/>
<ellipse cx="906.6" cy="897.6" rx="6.9" ry="5.9" fill="url(#gB)"/>
<ellipse cx="869.6" cy="862.7" rx="6.3" ry="8.3" fill="url(#gB)"/>
<ellipse cx="954.6" cy="894.4" rx="4.9" ry="5.3" fill="url(#gR)"/>
<ellipse cx="931.5" cy="879.4" rx="4.9" ry="8.1" fill="url(#gR)"/>
<ellipse cx="886.7" cy="817.7" rx="5.0" ry="7.8" fill="url(#gB)"/>
<ellipse cx="960.5" cy="822.5" rx="7.2" ry="7.8" fill="url(#gR)"/>
<ellipse cx="853.2" cy="843.6" rx="3.6" ry="7.4" fill="url(#gR)"/>
<ellipse cx="892.4" cy="823.0" rx="4.1" ry="6.5" fill="url(#gR)"/>
<ellipse cx="900.5" cy="818.2" rx="3.6" ry="7.0" fill="url(#gR)"/>
<ellipse cx="944.8" cy="893.8" rx="6.3" ry="8.4" fill="url(#gB)"/>
<ellipse cx="857.8" cy="819.1" rx="6.1" ry="4.5" fill="url(#gB)"/>
<ellipse cx="887.1" cy="896.6" rx="4.3" ry="7.9" fill="url(#gB)"/>
<ellipse cx="854.1" cy="874.4" rx="4.2" ry="8.4" fill="url(#gR)"/>
<ellipse cx="904.7" cy="825.2" rx="6.7" ry="7.6" fill="url(#gB)"/>
<ellipse cx="897.3" cy="826.7" rx="6.4" ry="6.3" fill="url(#gR)"/>
<ellipse cx="861.2" cy="864.3" rx="5.3" ry="4.2" fill="url(#gB)"/>
<ellipse cx="856.1" cy="820.0" rx="6.3" ry="6.8" fill="url(#gR)"/>
<ellipse cx="852.8" cy="897.4" rx="7.4" ry="7.4" fill="url(#gR)"/>
<ellipse cx="924.4" cy="864.6" rx="4.8" ry="5.7" fill="url(#gR)"/>
<ellipse cx="914.5" cy="821.1" rx="7.1" ry="7.3" fill="url(#gB)"/>
<ellipse cx="965.0" cy="846.8" rx="3.8" ry="5.9" fill="url(#gB)"/>
<ellipse cx="942.3" cy="873.4" rx="5.6" ry="6.8" fill="url(#gB)"/>
<ellipse cx="968.7" cy="850.5" rx="4.3" ry="5.7" fill="url(#gR)"/>
</g>
<text x="775.5" y="496" font-family="Liberation Serif, serif" font-size="23.7" font-weight="normal" text-anchor="start" >87.17 e</text>
<text x="775.5" y="554.6" font-family="Liberation Serif, serif" font-size="23.7" font-weight="normal" text-anchor="start" >88.16 e</text>
<text x="775.5" y="610.5" font-family="Liberation Serif, serif" font-size="23.7" font-weight="normal" text-anchor="start" >88.37 e</text>
<text x="775.5" y="671.7" font-family="Liberation Serif, serif" font-size="23.7" font-weight="normal" text-anchor="start" >87.07 e</text>
<text x="775.5" y="720.3" font-family="Liberation Serif, serif" font-size="23.7" font-weight="normal" text-anchor="start" >87.06 e</text>
<text x="775.5" y="782" font-family="Liberation Serif, serif" font-size="23.7" font-weight="normal" text-anchor="start" >88.27 e</text>
<text x="775.5" y="835.1" font-family="Liberation Serif, serif" font-size="23.7" font-weight="normal" text-anchor="start" >88.35 e</text>
<text x="775.5" y="897.9" font-family="Liberation Serif, serif" font-size="23.7" font-weight="normal" text-anchor="start" >87.16 e</text>
<line x1="978.2" y1="548.8" x2="1025.5" y2="548.8" stroke="#000" stroke-width="2"/>
<line x1="978.2" y1="602.7" x2="1025.5" y2="602.7" stroke="#000" stroke-width="2"/>
<line x1="978.2" y1="663.1" x2="1025.5" y2="663.1" stroke="#000" stroke-width="2"/>
<line x1="978.2" y1="715.9" x2="1025.5" y2="715.9" stroke="#000" stroke-width="2"/>
<line x1="978.2" y1="777.8" x2="1025.5" y2="777.8" stroke="#000" stroke-width="2"/>
<line x1="978.2" y1="832.3" x2="1025.5" y2="832.3" stroke="#000" stroke-width="2"/>
<line x1="978.2" y1="896.5" x2="1025.5" y2="896.5" stroke="#000" stroke-width="2"/>
<line x1="978.2" y1="950.7" x2="1025.5" y2="950.7" stroke="#000" stroke-width="2"/>
<line x1="989.4" y1="550.3" x2="989.4" y2="601.2" stroke="#000" stroke-width="1.8" marker-start="url(#ah)" marker-end="url(#ah)"/>
<text x="1000.8000000000001" y="583.7" font-family="Liberation Serif, serif" font-size="23.4" font-weight="normal" text-anchor="start" >2.873Å</text>
<text x="859.3" y="580.6" font-family="Liberation Serif, serif" font-size="23.4" font-weight="normal" text-anchor="start" >AC interface</text>
<line x1="989.4" y1="664.6" x2="989.4" y2="714.4" stroke="#000" stroke-width="1.8" marker-start="url(#ah)" marker-end="url(#ah)"/>
<text x="1000.8000000000001" y="697.7" font-family="Liberation Serif, serif" font-size="23.4" font-weight="bold" text-anchor="start" >2.896Å</text>
<text x="859.3" y="699.5" font-family="Liberation Serif, serif" font-size="23.4" font-weight="normal" text-anchor="start" >AA interface</text>
<line x1="989.8" y1="779.3" x2="989.8" y2="830.8" stroke="#000" stroke-width="1.8" marker-start="url(#ah)" marker-end="url(#ah)"/>
<text x="996.9000000000001" y="812.2" font-family="Liberation Serif, serif" font-size="23.4" font-weight="normal" text-anchor="start" >2.873Å</text>
<text x="858.9" y="813.6" font-family="Liberation Serif, serif" font-size="23.4" font-weight="normal" text-anchor="start" >AC interface</text>
<line x1="989.8" y1="898.0" x2="989.8" y2="949.2" stroke="#000" stroke-width="1.8" marker-start="url(#ah)" marker-end="url(#ah)"/>
<text x="1001.0" y="931.5" font-family="Liberation Serif, serif" font-size="23.4" font-weight="bold" text-anchor="start" >2.896Å</text>
<text x="858.9" y="930" font-family="Liberation Serif, serif" font-size="23.4" font-weight="normal" text-anchor="start" >AA interface</text>
<text x="825.9" y="990.4" font-family="Liberation Serif, serif" font-size="26">T-NbSe<tspan font-size="17" dy="5">2</tspan><tspan dy="-5"> : Δc%=0.794</tspan></text>
<clipPath id="clipS9"><rect x="1163" y="467.5" width="143" height="103.89999999999998"/></clipPath><g clip-path="url(#clipS9)">
<line x1="1157.6" y1="489.5" x2="1169.6" y2="520.7" stroke="#f0e020" stroke-width="2.2"/>
<line x1="1159.6" y1="520.7" x2="1171.6" y2="549.4" stroke="#f0e020" stroke-width="2.2"/>
<line x1="1167.6" y1="487.5" x2="1157.6" y2="520.7" stroke="#a08860" stroke-width="1.6"/>
<line x1="1163.6" y1="520.7" x2="1154.6" y2="547.4" stroke="#a08860" stroke-width="1.6"/>
<line x1="1168.0" y1="489.5" x2="1180.0" y2="520.7" stroke="#f0e020" stroke-width="2.2"/>
<line x1="1170.0" y1="520.7" x2="1182.0" y2="549.4" stroke="#f0e020" stroke-width="2.2"/>
<line x1="1178.0" y1="487.5" x2="1168.0" y2="520.7" stroke="#a08860" stroke-width="1.6"/>
<line x1="1174.0" y1="520.7" x2="1165.0" y2="547.4" stroke="#a08860" stroke-width="1.6"/>
<line x1="1178.4" y1="489.5" x2="1190.4" y2="520.7" stroke="#f0e020" stroke-width="2.2"/>
<line x1="1180.4" y1="520.7" x2="1192.4" y2="549.4" stroke="#f0e020" stroke-width="2.2"/>
<line x1="1188.4" y1="487.5" x2="1178.4" y2="520.7" stroke="#a08860" stroke-width="1.6"/>
<line x1="1184.4" y1="520.7" x2="1175.4" y2="547.4" stroke="#a08860" stroke-width="1.6"/>
<line x1="1188.8" y1="489.5" x2="1200.8" y2="520.7" stroke="#f0e020" stroke-width="2.2"/>
<line x1="1190.8" y1="520.7" x2="1202.8" y2="549.4" stroke="#f0e020" stroke-width="2.2"/>
<line x1="1198.8" y1="487.5" x2="1188.8" y2="520.7" stroke="#a08860" stroke-width="1.6"/>
<line x1="1194.8" y1="520.7" x2="1185.8" y2="547.4" stroke="#a08860" stroke-width="1.6"/>
<line x1="1199.2" y1="489.5" x2="1211.2" y2="520.7" stroke="#f0e020" stroke-width="2.2"/>
<line x1="1201.2" y1="520.7" x2="1213.2" y2="549.4" stroke="#f0e020" stroke-width="2.2"/>
<line x1="1209.2" y1="487.5" x2="1199.2" y2="520.7" stroke="#a08860" stroke-width="1.6"/>
<line x1="1205.2" y1="520.7" x2="1196.2" y2="547.4" stroke="#a08860" stroke-width="1.6"/>
<line x1="1209.6" y1="489.5" x2="1221.6" y2="520.7" stroke="#f0e020" stroke-width="2.2"/>
<line x1="1211.6" y1="520.7" x2="1223.6" y2="549.4" stroke="#f0e020" stroke-width="2.2"/>
<line x1="1219.6" y1="487.5" x2="1209.6" y2="520.7" stroke="#a08860" stroke-width="1.6"/>
<line x1="1215.6" y1="520.7" x2="1206.6" y2="547.4" stroke="#a08860" stroke-width="1.6"/>
<line x1="1220.0" y1="489.5" x2="1232.0" y2="520.7" stroke="#f0e020" stroke-width="2.2"/>
<line x1="1222.0" y1="520.7" x2="1234.0" y2="549.4" stroke="#f0e020" stroke-width="2.2"/>
<line x1="1230.0" y1="487.5" x2="1220.0" y2="520.7" stroke="#a08860" stroke-width="1.6"/>
<line x1="1226.0" y1="520.7" x2="1217.0" y2="547.4" stroke="#a08860" stroke-width="1.6"/>
<line x1="1230.4" y1="489.5" x2="1242.4" y2="520.7" stroke="#f0e020" stroke-width="2.2"/>
<line x1="1232.4" y1="520.7" x2="1244.4" y2="549.4" stroke="#f0e020" stroke-width="2.2"/>
<line x1="1240.4" y1="487.5" x2="1230.4" y2="520.7" stroke="#a08860" stroke-width="1.6"/>
<line x1="1236.4" y1="520.7" x2="1227.4" y2="547.4" stroke="#a08860" stroke-width="1.6"/>
<line x1="1240.8" y1="489.5" x2="1252.8" y2="520.7" stroke="#f0e020" stroke-width="2.2"/>
<line x1="1242.8" y1="520.7" x2="1254.8" y2="549.4" stroke="#f0e020" stroke-width="2.2"/>
<line x1="1250.8" y1="487.5" x2="1240.8" y2="520.7" stroke="#a08860" stroke-width="1.6"/>
<line x1="1246.8" y1="520.7" x2="1237.8" y2="547.4" stroke="#a08860" stroke-width="1.6"/>
<line x1="1251.2" y1="489.5" x2="1263.2" y2="520.7" stroke="#f0e020" stroke-width="2.2"/>
<line x1="1253.2" y1="520.7" x2="1265.2" y2="549.4" stroke="#f0e020" stroke-width="2.2"/>
<line x1="1261.2" y1="487.5" x2="1251.2" y2="520.7" stroke="#a08860" stroke-width="1.6"/>
<line x1="1257.2" y1="520.7" x2="1248.2" y2="547.4" stroke="#a08860" stroke-width="1.6"/>
<line x1="1261.6" y1="489.5" x2="1273.6" y2="520.7" stroke="#f0e020" stroke-width="2.2"/>
<line x1="1263.6" y1="520.7" x2="1275.6" y2="549.4" stroke="#f0e020" stroke-width="2.2"/>
<line x1="1271.6" y1="487.5" x2="1261.6" y2="520.7" stroke="#a08860" stroke-width="1.6"/>
<line x1="1267.6" y1="520.7" x2="1258.6" y2="547.4" stroke="#a08860" stroke-width="1.6"/>
<line x1="1272.0" y1="489.5" x2="1284.0" y2="520.7" stroke="#f0e020" stroke-width="2.2"/>
<line x1="1274.0" y1="520.7" x2="1286.0" y2="549.4" stroke="#f0e020" stroke-width="2.2"/>
<line x1="1282.0" y1="487.5" x2="1272.0" y2="520.7" stroke="#a08860" stroke-width="1.6"/>
<line x1="1278.0" y1="520.7" x2="1269.0" y2="547.4" stroke="#a08860" stroke-width="1.6"/>
<line x1="1282.4" y1="489.5" x2="1294.4" y2="520.7" stroke="#f0e020" stroke-width="2.2"/>
<line x1="1284.4" y1="520.7" x2="1296.4" y2="549.4" stroke="#f0e020" stroke-width="2.2"/>
<line x1="1292.4" y1="487.5" x2="1282.4" y2="520.7" stroke="#a08860" stroke-width="1.6"/>
<line x1="1288.4" y1="520.7" x2="1279.4" y2="547.4" stroke="#a08860" stroke-width="1.6"/>
<line x1="1292.8" y1="489.5" x2="1304.8" y2="520.7" stroke="#f0e020" stroke-width="2.2"/>
<line x1="1294.8" y1="520.7" x2="1306.8" y2="549.4" stroke="#f0e020" stroke-width="2.2"/>
<line x1="1302.8" y1="487.5" x2="1292.8" y2="520.7" stroke="#a08860" stroke-width="1.6"/>
<line x1="1298.8" y1="520.7" x2="1289.8" y2="547.4" stroke="#a08860" stroke-width="1.6"/>
<line x1="1303.2" y1="489.5" x2="1315.2" y2="520.7" stroke="#f0e020" stroke-width="2.2"/>
<line x1="1305.2" y1="520.7" x2="1317.2" y2="549.4" stroke="#f0e020" stroke-width="2.2"/>
<line x1="1313.2" y1="487.5" x2="1303.2" y2="520.7" stroke="#a08860" stroke-width="1.6"/>
<line x1="1309.2" y1="520.7" x2="1300.2" y2="547.4" stroke="#a08860" stroke-width="1.6"/>
<line x1="1313.6" y1="489.5" x2="1325.6" y2="520.7" stroke="#f0e020" stroke-width="2.2"/>
<line x1="1315.6" y1="520.7" x2="1327.6" y2="549.4" stroke="#f0e020" stroke-width="2.2"/>
<line x1="1323.6" y1="487.5" x2="1313.6" y2="520.7" stroke="#a08860" stroke-width="1.6"/>
<line x1="1319.6" y1="520.7" x2="1310.6" y2="547.4" stroke="#a08860" stroke-width="1.6"/>
<ellipse cx="1171.0" cy="484.5" rx="4.4" ry="5.6" fill="url(#gY2)"/>
<ellipse cx="1168.0" cy="544.4" rx="4.4" ry="5.6" fill="url(#gY2)"/>
<ellipse cx="1181.4" cy="484.5" rx="4.4" ry="5.6" fill="url(#gY2)"/>
<ellipse cx="1178.4" cy="544.4" rx="4.4" ry="5.6" fill="url(#gY2)"/>
<ellipse cx="1191.8" cy="484.5" rx="4.4" ry="5.6" fill="url(#gY2)"/>
<ellipse cx="1188.8" cy="544.4" rx="4.4" ry="5.6" fill="url(#gY2)"/>
<ellipse cx="1202.2" cy="484.5" rx="4.4" ry="5.6" fill="url(#gY2)"/>
<ellipse cx="1199.2" cy="544.4" rx="4.4" ry="5.6" fill="url(#gY2)"/>
<ellipse cx="1212.6" cy="484.5" rx="4.4" ry="5.6" fill="url(#gY2)"/>
<ellipse cx="1209.6" cy="544.4" rx="4.4" ry="5.6" fill="url(#gY2)"/>
<ellipse cx="1223.0" cy="484.5" rx="4.4" ry="5.6" fill="url(#gY2)"/>
<ellipse cx="1220.0" cy="544.4" rx="4.4" ry="5.6" fill="url(#gY2)"/>
<ellipse cx="1233.4" cy="484.5" rx="4.4" ry="5.6" fill="url(#gY2)"/>
<ellipse cx="1230.4" cy="544.4" rx="4.4" ry="5.6" fill="url(#gY2)"/>
<ellipse cx="1243.8" cy="484.5" rx="4.4" ry="5.6" fill="url(#gY2)"/>
<ellipse cx="1240.8" cy="544.4" rx="4.4" ry="5.6" fill="url(#gY2)"/>
<ellipse cx="1254.2" cy="484.5" rx="4.4" ry="5.6" fill="url(#gY2)"/>
<ellipse cx="1251.2" cy="544.4" rx="4.4" ry="5.6" fill="url(#gY2)"/>
<ellipse cx="1264.6" cy="484.5" rx="4.4" ry="5.6" fill="url(#gY2)"/>
<ellipse cx="1261.6" cy="544.4" rx="4.4" ry="5.6" fill="url(#gY2)"/>
<ellipse cx="1275.0" cy="484.5" rx="4.4" ry="5.6" fill="url(#gY2)"/>
<ellipse cx="1272.0" cy="544.4" rx="4.4" ry="5.6" fill="url(#gY2)"/>
<ellipse cx="1285.4" cy="484.5" rx="4.4" ry="5.6" fill="url(#gY2)"/>
<ellipse cx="1282.4" cy="544.4" rx="4.4" ry="5.6" fill="url(#gY2)"/>
<ellipse cx="1295.8" cy="484.5" rx="4.4" ry="5.6" fill="url(#gY2)"/>
<ellipse cx="1292.8" cy="544.4" rx="4.4" ry="5.6" fill="url(#gY2)"/>
<ellipse cx="1306.2" cy="484.5" rx="4.4" ry="5.6" fill="url(#gY2)"/>
<ellipse cx="1303.2" cy="544.4" rx="4.4" ry="5.6" fill="url(#gY2)"/>
<ellipse cx="1164.0" cy="518.7" rx="6.6" ry="10.2" fill="url(#gT2)"/>
<ellipse cx="1174.4" cy="518.7" rx="6.6" ry="10.2" fill="url(#gT2)"/>
<ellipse cx="1184.8" cy="518.7" rx="6.6" ry="10.2" fill="url(#gT2)"/>
<ellipse cx="1195.2" cy="518.7" rx="6.6" ry="10.2" fill="url(#gT2)"/>
<ellipse cx="1205.6" cy="518.7" rx="6.6" ry="10.2" fill="url(#gT2)"/>
<ellipse cx="1216.0" cy="518.7" rx="6.6" ry="10.2" fill="url(#gT2)"/>
<ellipse cx="1226.4" cy="518.7" rx="6.6" ry="10.2" fill="url(#gT2)"/>
<ellipse cx="1236.8" cy="518.7" rx="6.6" ry="10.2" fill="url(#gT2)"/>
<ellipse cx="1247.2" cy="518.7" rx="6.6" ry="10.2" fill="url(#gT2)"/>
<ellipse cx="1257.6" cy="518.7" rx="6.6" ry="10.2" fill="url(#gT2)"/>
<ellipse cx="1268.0" cy="518.7" rx="6.6" ry="10.2" fill="url(#gT2)"/>
<ellipse cx="1278.4" cy="518.7" rx="6.6" ry="10.2" fill="url(#gT2)"/>
<ellipse cx="1288.8" cy="518.7" rx="6.6" ry="10.2" fill="url(#gT2)"/>
<ellipse cx="1299.2" cy="518.7" rx="6.6" ry="10.2" fill="url(#gT2)"/>
<ellipse cx="1309.6" cy="518.7" rx="6.6" ry="10.2" fill="url(#gT2)"/>
<ellipse cx="1169.0" cy="520.7" rx="6.9" ry="10.6" fill="url(#gT)"/>
<ellipse cx="1179.4" cy="520.7" rx="6.9" ry="10.6" fill="url(#gT)"/>
<ellipse cx="1189.8" cy="520.7" rx="6.9" ry="10.6" fill="url(#gT)"/>
<ellipse cx="1200.2" cy="520.7" rx="6.9" ry="10.6" fill="url(#gT)"/>
<ellipse cx="1210.6" cy="520.7" rx="6.9" ry="10.6" fill="url(#gT)"/>
<ellipse cx="1221.0" cy="520.7" rx="6.9" ry="10.6" fill="url(#gT)"/>
<ellipse cx="1231.4" cy="520.7" rx="6.9" ry="10.6" fill="url(#gT)"/>
<ellipse cx="1241.8" cy="520.7" rx="6.9" ry="10.6" fill="url(#gT)"/>
<ellipse cx="1252.2" cy="520.7" rx="6.9" ry="10.6" fill="url(#gT)"/>
<ellipse cx="1262.6" cy="520.7" rx="6.9" ry="10.6" fill="url(#gT)"/>
<ellipse cx="1273.0" cy="520.7" rx="6.9" ry="10.6" fill="url(#gT)"/>
<ellipse cx="1283.4" cy="520.7" rx="6.9" ry="10.6" fill="url(#gT)"/>
<ellipse cx="1293.8" cy="520.7" rx="6.9" ry="10.6" fill="url(#gT)"/>
<ellipse cx="1304.2" cy="520.7" rx="6.9" ry="10.6" fill="url(#gT)"/>
<ellipse cx="1314.6" cy="520.7" rx="6.9" ry="10.6" fill="url(#gT)"/>
<ellipse cx="1166.0" cy="489.5" rx="5.5" ry="7.4" fill="url(#gY)"/>
<ellipse cx="1176.4" cy="489.5" rx="5.5" ry="7.4" fill="url(#gY)"/>
<ellipse cx="1186.8" cy="489.5" rx="5.5" ry="7.4" fill="url(#gY)"/>
<ellipse cx="1197.2" cy="489.5" rx="5.5" ry="7.4" fill="url(#gY)"/>
<ellipse cx="1207.6" cy="489.5" rx="5.5" ry="7.4" fill="url(#gY)"/>
<ellipse cx="1218.0" cy="489.5" rx="5.5" ry="7.4" fill="url(#gY)"/>
<ellipse cx="1228.4" cy="489.5" rx="5.5" ry="7.4" fill="url(#gY)"/>
<ellipse cx="1238.8" cy="489.5" rx="5.5" ry="7.4" fill="url(#gY)"/>
<ellipse cx="1249.2" cy="489.5" rx="5.5" ry="7.4" fill="url(#gY)"/>
<ellipse cx="1259.6" cy="489.5" rx="5.5" ry="7.4" fill="url(#gY)"/>
<ellipse cx="1270.0" cy="489.5" rx="5.5" ry="7.4" fill="url(#gY)"/>
<ellipse cx="1280.4" cy="489.5" rx="5.5" ry="7.4" fill="url(#gY)"/>
<ellipse cx="1290.8" cy="489.5" rx="5.5" ry="7.4" fill="url(#gY)"/>
<ellipse cx="1301.2" cy="489.5" rx="5.5" ry="7.4" fill="url(#gY)"/>
<ellipse cx="1173.0" cy="549.4" rx="5.5" ry="7.4" fill="url(#gY)"/>
<ellipse cx="1183.4" cy="549.4" rx="5.5" ry="7.4" fill="url(#gY)"/>
<ellipse cx="1193.8" cy="549.4" rx="5.5" ry="7.4" fill="url(#gY)"/>
<ellipse cx="1204.2" cy="549.4" rx="5.5" ry="7.4" fill="url(#gY)"/>
<ellipse cx="1214.6" cy="549.4" rx="5.5" ry="7.4" fill="url(#gY)"/>
<ellipse cx="1225.0" cy="549.4" rx="5.5" ry="7.4" fill="url(#gY)"/>
<ellipse cx="1235.4" cy="549.4" rx="5.5" ry="7.4" fill="url(#gY)"/>
<ellipse cx="1245.8" cy="549.4" rx="5.5" ry="7.4" fill="url(#gY)"/>
<ellipse cx="1256.2" cy="549.4" rx="5.5" ry="7.4" fill="url(#gY)"/>
<ellipse cx="1266.6" cy="549.4" rx="5.5" ry="7.4" fill="url(#gY)"/>
<ellipse cx="1277.0" cy="549.4" rx="5.5" ry="7.4" fill="url(#gY)"/>
<ellipse cx="1287.4" cy="549.4" rx="5.5" ry="7.4" fill="url(#gY)"/>
<ellipse cx="1297.8" cy="549.4" rx="5.5" ry="7.4" fill="url(#gY)"/>
<ellipse cx="1308.2" cy="549.4" rx="5.5" ry="7.4" fill="url(#gY)"/>
<ellipse cx="1229.5" cy="551.2" rx="4.9" ry="6.1" fill="url(#gR)"/>
<ellipse cx="1248.6" cy="561.6" rx="6.4" ry="4.8" fill="url(#gR)"/>
<ellipse cx="1294.7" cy="515.6" rx="4.5" ry="4.5" fill="url(#gR)"/>
<ellipse cx="1235.3" cy="524.0" rx="6.7" ry="8.0" fill="url(#gB)"/>
<ellipse cx="1291.1" cy="479.4" rx="7.1" ry="7.5" fill="url(#gB)"/>
<ellipse cx="1290.0" cy="553.8" rx="4.3" ry="8.0" fill="url(#gR)"/>
<ellipse cx="1285.7" cy="481.4" rx="4.1" ry="5.1" fill="url(#gB)"/>
<ellipse cx="1266.4" cy="542.6" rx="4.0" ry="6.6" fill="url(#gR)"/>
<ellipse cx="1287.9" cy="476.6" rx="4.0" ry="8.1" fill="url(#gR)"/>
<ellipse cx="1234.6" cy="556.4" rx="5.2" ry="5.8" fill="url(#gR)"/>
<ellipse cx="1253.2" cy="484.0" rx="7.3" ry="7.2" fill="url(#gR)"/>
<ellipse cx="1172.6" cy="485.4" rx="6.5" ry="7.3" fill="url(#gR)"/>
<ellipse cx="1244.7" cy="487.8" rx="7.3" ry="5.1" fill="url(#gB)"/>
<ellipse cx="1249.5" cy="481.3" rx="7.0" ry="4.5" fill="url(#gR)"/>
</g>
<clipPath id="clipS10"><rect x="1163" y="585.9" width="143" height="103.89999999999998"/></clipPath><g clip-path="url(#clipS10)">
<line x1="1157.6" y1="607.9" x2="1169.6" y2="636.5" stroke="#f0e020" stroke-width="2.2"/>
<line x1="1159.6" y1="636.5" x2="1171.6" y2="667.8" stroke="#f0e020" stroke-width="2.2"/>
<line x1="1167.6" y1="605.9" x2="1157.6" y2="636.5" stroke="#a08860" stroke-width="1.6"/>
<line x1="1163.6" y1="636.5" x2="1154.6" y2="665.8" stroke="#a08860" stroke-width="1.6"/>
<line x1="1168.0" y1="607.9" x2="1180.0" y2="636.5" stroke="#f0e020" stroke-width="2.2"/>
<line x1="1170.0" y1="636.5" x2="1182.0" y2="667.8" stroke="#f0e020" stroke-width="2.2"/>
<line x1="1178.0" y1="605.9" x2="1168.0" y2="636.5" stroke="#a08860" stroke-width="1.6"/>
<line x1="1174.0" y1="636.5" x2="1165.0" y2="665.8" stroke="#a08860" stroke-width="1.6"/>
<line x1="1178.4" y1="607.9" x2="1190.4" y2="636.5" stroke="#f0e020" stroke-width="2.2"/>
<line x1="1180.4" y1="636.5" x2="1192.4" y2="667.8" stroke="#f0e020" stroke-width="2.2"/>
<line x1="1188.4" y1="605.9" x2="1178.4" y2="636.5" stroke="#a08860" stroke-width="1.6"/>
<line x1="1184.4" y1="636.5" x2="1175.4" y2="665.8" stroke="#a08860" stroke-width="1.6"/>
<line x1="1188.8" y1="607.9" x2="1200.8" y2="636.5" stroke="#f0e020" stroke-width="2.2"/>
<line x1="1190.8" y1="636.5" x2="1202.8" y2="667.8" stroke="#f0e020" stroke-width="2.2"/>
<line x1="1198.8" y1="605.9" x2="1188.8" y2="636.5" stroke="#a08860" stroke-width="1.6"/>
<line x1="1194.8" y1="636.5" x2="1185.8" y2="665.8" stroke="#a08860" stroke-width="1.6"/>
<line x1="1199.2" y1="607.9" x2="1211.2" y2="636.5" stroke="#f0e020" stroke-width="2.2"/>
<line x1="1201.2" y1="636.5" x2="1213.2" y2="667.8" stroke="#f0e020" stroke-width="2.2"/>
<line x1="1209.2" y1="605.9" x2="1199.2" y2="636.5" stroke="#a08860" stroke-width="1.6"/>
<line x1="1205.2" y1="636.5" x2="1196.2" y2="665.8" stroke="#a08860" stroke-width="1.6"/>
<line x1="1209.6" y1="607.9" x2="1221.6" y2="636.5" stroke="#f0e020" stroke-width="2.2"/>
<line x1="1211.6" y1="636.5" x2="1223.6" y2="667.8" stroke="#f0e020" stroke-width="2.2"/>
<line x1="1219.6" y1="605.9" x2="1209.6" y2="636.5" stroke="#a08860" stroke-width="1.6"/>
<line x1="1215.6" y1="636.5" x2="1206.6" y2="665.8" stroke="#a08860" stroke-width="1.6"/>
<line x1="1220.0" y1="607.9" x2="1232.0" y2="636.5" stroke="#f0e020" stroke-width="2.2"/>
<line x1="1222.0" y1="636.5" x2="1234.0" y2="667.8" stroke="#f0e020" stroke-width="2.2"/>
<line x1="1230.0" y1="605.9" x2="1220.0" y2="636.5" stroke="#a08860" stroke-width="1.6"/>
<line x1="1226.0" y1="636.5" x2="1217.0" y2="665.8" stroke="#a08860" stroke-width="1.6"/>
<line x1="1230.4" y1="607.9" x2="1242.4" y2="636.5" stroke="#f0e020" stroke-width="2.2"/>
<line x1="1232.4" y1="636.5" x2="1244.4" y2="667.8" stroke="#f0e020" stroke-width="2.2"/>
<line x1="1240.4" y1="605.9" x2="1230.4" y2="636.5" stroke="#a08860" stroke-width="1.6"/>
<line x1="1236.4" y1="636.5" x2="1227.4" y2="665.8" stroke="#a08860" stroke-width="1.6"/>
<line x1="1240.8" y1="607.9" x2="1252.8" y2="636.5" stroke="#f0e020" stroke-width="2.2"/>
<line x1="1242.8" y1="636.5" x2="1254.8" y2="667.8" stroke="#f0e020" stroke-width="2.2"/>
<line x1="1250.8" y1="605.9" x2="1240.8" y2="636.5" stroke="#a08860" stroke-width="1.6"/>
<line x1="1246.8" y1="636.5" x2="1237.8" y2="665.8" stroke="#a08860" stroke-width="1.6"/>
<line x1="1251.2" y1="607.9" x2="1263.2" y2="636.5" stroke="#f0e020" stroke-width="2.2"/>
<line x1="1253.2" y1="636.5" x2="1265.2" y2="667.8" stroke="#f0e020" stroke-width="2.2"/>
<line x1="1261.2" y1="605.9" x2="1251.2" y2="636.5" stroke="#a08860" stroke-width="1.6"/>
<line x1="1257.2" y1="636.5" x2="1248.2" y2="665.8" stroke="#a08860" stroke-width="1.6"/>
<line x1="1261.6" y1="607.9" x2="1273.6" y2="636.5" stroke="#f0e020" stroke-width="2.2"/>
<line x1="1263.6" y1="636.5" x2="1275.6" y2="667.8" stroke="#f0e020" stroke-width="2.2"/>
<line x1="1271.6" y1="605.9" x2="1261.6" y2="636.5" stroke="#a08860" stroke-width="1.6"/>
<line x1="1267.6" y1="636.5" x2="1258.6" y2="665.8" stroke="#a08860" stroke-width="1.6"/>
<line x1="1272.0" y1="607.9" x2="1284.0" y2="636.5" stroke="#f0e020" stroke-width="2.2"/>
<line x1="1274.0" y1="636.5" x2="1286.0" y2="667.8" stroke="#f0e020" stroke-width="2.2"/>
<line x1="1282.0" y1="605.9" x2="1272.0" y2="636.5" stroke="#a08860" stroke-width="1.6"/>
<line x1="1278.0" y1="636.5" x2="1269.0" y2="665.8" stroke="#a08860" stroke-width="1.6"/>
<line x1="1282.4" y1="607.9" x2="1294.4" y2="636.5" stroke="#f0e020" stroke-width="2.2"/>
<line x1="1284.4" y1="636.5" x2="1296.4" y2="667.8" stroke="#f0e020" stroke-width="2.2"/>
<line x1="1292.4" y1="605.9" x2="1282.4" y2="636.5" stroke="#a08860" stroke-width="1.6"/>
<line x1="1288.4" y1="636.5" x2="1279.4" y2="665.8" stroke="#a08860" stroke-width="1.6"/>
<line x1="1292.8" y1="607.9" x2="1304.8" y2="636.5" stroke="#f0e020" stroke-width="2.2"/>
<line x1="1294.8" y1="636.5" x2="1306.8" y2="667.8" stroke="#f0e020" stroke-width="2.2"/>
<line x1="1302.8" y1="605.9" x2="1292.8" y2="636.5" stroke="#a08860" stroke-width="1.6"/>
<line x1="1298.8" y1="636.5" x2="1289.8" y2="665.8" stroke="#a08860" stroke-width="1.6"/>
<line x1="1303.2" y1="607.9" x2="1315.2" y2="636.5" stroke="#f0e020" stroke-width="2.2"/>
<line x1="1305.2" y1="636.5" x2="1317.2" y2="667.8" stroke="#f0e020" stroke-width="2.2"/>
<line x1="1313.2" y1="605.9" x2="1303.2" y2="636.5" stroke="#a08860" stroke-width="1.6"/>
<line x1="1309.2" y1="636.5" x2="1300.2" y2="665.8" stroke="#a08860" stroke-width="1.6"/>
<line x1="1313.6" y1="607.9" x2="1325.6" y2="636.5" stroke="#f0e020" stroke-width="2.2"/>
<line x1="1315.6" y1="636.5" x2="1327.6" y2="667.8" stroke="#f0e020" stroke-width="2.2"/>
<line x1="1323.6" y1="605.9" x2="1313.6" y2="636.5" stroke="#a08860" stroke-width="1.6"/>
<line x1="1319.6" y1="636.5" x2="1310.6" y2="665.8" stroke="#a08860" stroke-width="1.6"/>
<ellipse cx="1171.0" cy="602.9" rx="4.4" ry="5.6" fill="url(#gY2)"/>
<ellipse cx="1168.0" cy="662.8" rx="4.4" ry="5.6" fill="url(#gY2)"/>
<ellipse cx="1181.4" cy="602.9" rx="4.4" ry="5.6" fill="url(#gY2)"/>
<ellipse cx="1178.4" cy="662.8" rx="4.4" ry="5.6" fill="url(#gY2)"/>
<ellipse cx="1191.8" cy="602.9" rx="4.4" ry="5.6" fill="url(#gY2)"/>
<ellipse cx="1188.8" cy="662.8" rx="4.4" ry="5.6" fill="url(#gY2)"/>
<ellipse cx="1202.2" cy="602.9" rx="4.4" ry="5.6" fill="url(#gY2)"/>
<ellipse cx="1199.2" cy="662.8" rx="4.4" ry="5.6" fill="url(#gY2)"/>
<ellipse cx="1212.6" cy="602.9" rx="4.4" ry="5.6" fill="url(#gY2)"/>
<ellipse cx="1209.6" cy="662.8" rx="4.4" ry="5.6" fill="url(#gY2)"/>
<ellipse cx="1223.0" cy="602.9" rx="4.4" ry="5.6" fill="url(#gY2)"/>
<ellipse cx="1220.0" cy="662.8" rx="4.4" ry="5.6" fill="url(#gY2)"/>
<ellipse cx="1233.4" cy="602.9" rx="4.4" ry="5.6" fill="url(#gY2)"/>
<ellipse cx="1230.4" cy="662.8" rx="4.4" ry="5.6" fill="url(#gY2)"/>
<ellipse cx="1243.8" cy="602.9" rx="4.4" ry="5.6" fill="url(#gY2)"/>
<ellipse cx="1240.8" cy="662.8" rx="4.4" ry="5.6" fill="url(#gY2)"/>
<ellipse cx="1254.2" cy="602.9" rx="4.4" ry="5.6" fill="url(#gY2)"/>
<ellipse cx="1251.2" cy="662.8" rx="4.4" ry="5.6" fill="url(#gY2)"/>
<ellipse cx="1264.6" cy="602.9" rx="4.4" ry="5.6" fill="url(#gY2)"/>
<ellipse cx="1261.6" cy="662.8" rx="4.4" ry="5.6" fill="url(#gY2)"/>
<ellipse cx="1275.0" cy="602.9" rx="4.4" ry="5.6" fill="url(#gY2)"/>
<ellipse cx="1272.0" cy="662.8" rx="4.4" ry="5.6" fill="url(#gY2)"/>
<ellipse cx="1285.4" cy="602.9" rx="4.4" ry="5.6" fill="url(#gY2)"/>
<ellipse cx="1282.4" cy="662.8" rx="4.4" ry="5.6" fill="url(#gY2)"/>
<ellipse cx="1295.8" cy="602.9" rx="4.4" ry="5.6" fill="url(#gY2)"/>
<ellipse cx="1292.8" cy="662.8" rx="4.4" ry="5.6" fill="url(#gY2)"/>
<ellipse cx="1306.2" cy="602.9" rx="4.4" ry="5.6" fill="url(#gY2)"/>
<ellipse cx="1303.2" cy="662.8" rx="4.4" ry="5.6" fill="url(#gY2)"/>
<ellipse cx="1164.0" cy="634.5" rx="6.6" ry="10.2" fill="url(#gT2)"/>
<ellipse cx="1174.4" cy="634.5" rx="6.6" ry="10.2" fill="url(#gT2)"/>
<ellipse cx="1184.8" cy="634.5" rx="6.6" ry="10.2" fill="url(#gT2)"/>
<ellipse cx="1195.2" cy="634.5" rx="6.6" ry="10.2" fill="url(#gT2)"/>
<ellipse cx="1205.6" cy="634.5" rx="6.6" ry="10.2" fill="url(#gT2)"/>
<ellipse cx="1216.0" cy="634.5" rx="6.6" ry="10.2" fill="url(#gT2)"/>
<ellipse cx="1226.4" cy="634.5" rx="6.6" ry="10.2" fill="url(#gT2)"/>
<ellipse cx="1236.8" cy="634.5" rx="6.6" ry="10.2" fill="url(#gT2)"/>
<ellipse cx="1247.2" cy="634.5" rx="6.6" ry="10.2" fill="url(#gT2)"/>
<ellipse cx="1257.6" cy="634.5" rx="6.6" ry="10.2" fill="url(#gT2)"/>
<ellipse cx="1268.0" cy="634.5" rx="6.6" ry="10.2" fill="url(#gT2)"/>
<ellipse cx="1278.4" cy="634.5" rx="6.6" ry="10.2" fill="url(#gT2)"/>
<ellipse cx="1288.8" cy="634.5" rx="6.6" ry="10.2" fill="url(#gT2)"/>
<ellipse cx="1299.2" cy="634.5" rx="6.6" ry="10.2" fill="url(#gT2)"/>
<ellipse cx="1309.6" cy="634.5" rx="6.6" ry="10.2" fill="url(#gT2)"/>
<ellipse cx="1169.0" cy="636.5" rx="6.9" ry="10.6" fill="url(#gT)"/>
<ellipse cx="1179.4" cy="636.5" rx="6.9" ry="10.6" fill="url(#gT)"/>
<ellipse cx="1189.8" cy="636.5" rx="6.9" ry="10.6" fill="url(#gT)"/>
<ellipse cx="1200.2" cy="636.5" rx="6.9" ry="10.6" fill="url(#gT)"/>
<ellipse cx="1210.6" cy="636.5" rx="6.9" ry="10.6" fill="url(#gT)"/>
<ellipse cx="1221.0" cy="636.5" rx="6.9" ry="10.6" fill="url(#gT)"/>
<ellipse cx="1231.4" cy="636.5" rx="6.9" ry="10.6" fill="url(#gT)"/>
<ellipse cx="1241.8" cy="636.5" rx="6.9" ry="10.6" fill="url(#gT)"/>
<ellipse cx="1252.2" cy="636.5" rx="6.9" ry="10.6" fill="url(#gT)"/>
<ellipse cx="1262.6" cy="636.5" rx="6.9" ry="10.6" fill="url(#gT)"/>
<ellipse cx="1273.0" cy="636.5" rx="6.9" ry="10.6" fill="url(#gT)"/>
<ellipse cx="1283.4" cy="636.5" rx="6.9" ry="10.6" fill="url(#gT)"/>
<ellipse cx="1293.8" cy="636.5" rx="6.9" ry="10.6" fill="url(#gT)"/>
<ellipse cx="1304.2" cy="636.5" rx="6.9" ry="10.6" fill="url(#gT)"/>
<ellipse cx="1314.6" cy="636.5" rx="6.9" ry="10.6" fill="url(#gT)"/>
<ellipse cx="1166.0" cy="607.9" rx="5.5" ry="7.4" fill="url(#gY)"/>
<ellipse cx="1176.4" cy="607.9" rx="5.5" ry="7.4" fill="url(#gY)"/>
<ellipse cx="1186.8" cy="607.9" rx="5.5" ry="7.4" fill="url(#gY)"/>
<ellipse cx="1197.2" cy="607.9" rx="5.5" ry="7.4" fill="url(#gY)"/>
<ellipse cx="1207.6" cy="607.9" rx="5.5" ry="7.4" fill="url(#gY)"/>
<ellipse cx="1218.0" cy="607.9" rx="5.5" ry="7.4" fill="url(#gY)"/>
<ellipse cx="1228.4" cy="607.9" rx="5.5" ry="7.4" fill="url(#gY)"/>
<ellipse cx="1238.8" cy="607.9" rx="5.5" ry="7.4" fill="url(#gY)"/>
<ellipse cx="1249.2" cy="607.9" rx="5.5" ry="7.4" fill="url(#gY)"/>
<ellipse cx="1259.6" cy="607.9" rx="5.5" ry="7.4" fill="url(#gY)"/>
<ellipse cx="1270.0" cy="607.9" rx="5.5" ry="7.4" fill="url(#gY)"/>
<ellipse cx="1280.4" cy="607.9" rx="5.5" ry="7.4" fill="url(#gY)"/>
<ellipse cx="1290.8" cy="607.9" rx="5.5" ry="7.4" fill="url(#gY)"/>
<ellipse cx="1301.2" cy="607.9" rx="5.5" ry="7.4" fill="url(#gY)"/>
<ellipse cx="1173.0" cy="667.8" rx="5.5" ry="7.4" fill="url(#gY)"/>
<ellipse cx="1183.4" cy="667.8" rx="5.5" ry="7.4" fill="url(#gY)"/>
<ellipse cx="1193.8" cy="667.8" rx="5.5" ry="7.4" fill="url(#gY)"/>
<ellipse cx="1204.2" cy="667.8" rx="5.5" ry="7.4" fill="url(#gY)"/>
<ellipse cx="1214.6" cy="667.8" rx="5.5" ry="7.4" fill="url(#gY)"/>
<ellipse cx="1225.0" cy="667.8" rx="5.5" ry="7.4" fill="url(#gY)"/>
<ellipse cx="1235.4" cy="667.8" rx="5.5" ry="7.4" fill="url(#gY)"/>
<ellipse cx="1245.8" cy="667.8" rx="5.5" ry="7.4" fill="url(#gY)"/>
<ellipse cx="1256.2" cy="667.8" rx="5.5" ry="7.4" fill="url(#gY)"/>
<ellipse cx="1266.6" cy="667.8" rx="5.5" ry="7.4" fill="url(#gY)"/>
<ellipse cx="1277.0" cy="667.8" rx="5.5" ry="7.4" fill="url(#gY)"/>
<ellipse cx="1287.4" cy="667.8" rx="5.5" ry="7.4" fill="url(#gY)"/>
<ellipse cx="1297.8" cy="667.8" rx="5.5" ry="7.4" fill="url(#gY)"/>
<ellipse cx="1308.2" cy="667.8" rx="5.5" ry="7.4" fill="url(#gY)"/>
<ellipse cx="1244.1" cy="675.3" rx="5.4" ry="6.2" fill="url(#gR)"/>
<ellipse cx="1204.5" cy="614.6" rx="4.8" ry="5.1" fill="url(#gB)"/>
<ellipse cx="1295.6" cy="615.1" rx="5.9" ry="5.7" fill="url(#gR)"/>
<ellipse cx="1205.3" cy="635.7" rx="6.1" ry="4.6" fill="url(#gB)"/>
<ellipse cx="1270.7" cy="661.3" rx="3.7" ry="4.0" fill="url(#gB)"/>
<ellipse cx="1185.1" cy="628.0" rx="6.6" ry="5.1" fill="url(#gB)"/>
<ellipse cx="1257.0" cy="673.9" rx="6.9" ry="4.7" fill="url(#gB)"/>
<ellipse cx="1197.3" cy="668.3" rx="4.7" ry="6.7" fill="url(#gB)"/>
<ellipse cx="1176.7" cy="616.9" rx="5.8" ry="5.7" fill="url(#gB)"/>
<ellipse cx="1248.2" cy="605.0" rx="5.3" ry="8.4" fill="url(#gR)"/>
<ellipse cx="1192.8" cy="680.4" rx="4.5" ry="5.2" fill="url(#gB)"/>
<ellipse cx="1250.3" cy="596.5" rx="4.7" ry="7.0" fill="url(#gB)"/>
<ellipse cx="1294.3" cy="597.2" rx="4.8" ry="5.0" fill="url(#gB)"/>
<ellipse cx="1240.6" cy="606.6" rx="3.8" ry="6.0" fill="url(#gR)"/>
</g>
<clipPath id="clipS11"><rect x="1163" y="705" width="143" height="102.60000000000002"/></clipPath><g clip-path="url(#clipS11)">
<line x1="1157.6" y1="727.0" x2="1169.6" y2="755.0" stroke="#f0e020" stroke-width="2.2"/>
<line x1="1159.6" y1="755.0" x2="1171.6" y2="785.6" stroke="#f0e020" stroke-width="2.2"/>
<line x1="1167.6" y1="725.0" x2="1157.6" y2="755.0" stroke="#a08860" stroke-width="1.6"/>
<line x1="1163.6" y1="755.0" x2="1154.6" y2="783.6" stroke="#a08860" stroke-width="1.6"/>
<line x1="1168.0" y1="727.0" x2="1180.0" y2="755.0" stroke="#f0e020" stroke-width="2.2"/>
<line x1="1170.0" y1="755.0" x2="1182.0" y2="785.6" stroke="#f0e020" stroke-width="2.2"/>
<line x1="1178.0" y1="725.0" x2="1168.0" y2="755.0" stroke="#a08860" stroke-width="1.6"/>
<line x1="1174.0" y1="755.0" x2="1165.0" y2="783.6" stroke="#a08860" stroke-width="1.6"/>
<line x1="1178.4" y1="727.0" x2="1190.4" y2="755.0" stroke="#f0e020" stroke-width="2.2"/>
<line x1="1180.4" y1="755.0" x2="1192.4" y2="785.6" stroke="#f0e020" stroke-width="2.2"/>
<line x1="1188.4" y1="725.0" x2="1178.4" y2="755.0" stroke="#a08860" stroke-width="1.6"/>
<line x1="1184.4" y1="755.0" x2="1175.4" y2="783.6" stroke="#a08860" stroke-width="1.6"/>
<line x1="1188.8" y1="727.0" x2="1200.8" y2="755.0" stroke="#f0e020" stroke-width="2.2"/>
<line x1="1190.8" y1="755.0" x2="1202.8" y2="785.6" stroke="#f0e020" stroke-width="2.2"/>
<line x1="1198.8" y1="725.0" x2="1188.8" y2="755.0" stroke="#a08860" stroke-width="1.6"/>
<line x1="1194.8" y1="755.0" x2="1185.8" y2="783.6" stroke="#a08860" stroke-width="1.6"/>
<line x1="1199.2" y1="727.0" x2="1211.2" y2="755.0" stroke="#f0e020" stroke-width="2.2"/>
<line x1="1201.2" y1="755.0" x2="1213.2" y2="785.6" stroke="#f0e020" stroke-width="2.2"/>
<line x1="1209.2" y1="725.0" x2="1199.2" y2="755.0" stroke="#a08860" stroke-width="1.6"/>
<line x1="1205.2" y1="755.0" x2="1196.2" y2="783.6" stroke="#a08860" stroke-width="1.6"/>
<line x1="1209.6" y1="727.0" x2="1221.6" y2="755.0" stroke="#f0e020" stroke-width="2.2"/>
<line x1="1211.6" y1="755.0" x2="1223.6" y2="785.6" stroke="#f0e020" stroke-width="2.2"/>
<line x1="1219.6" y1="725.0" x2="1209.6" y2="755.0" stroke="#a08860" stroke-width="1.6"/>
<line x1="1215.6" y1="755.0" x2="1206.6" y2="783.6" stroke="#a08860" stroke-width="1.6"/>
<line x1="1220.0" y1="727.0" x2="1232.0" y2="755.0" stroke="#f0e020" stroke-width="2.2"/>
<line x1="1222.0" y1="755.0" x2="1234.0" y2="785.6" stroke="#f0e020" stroke-width="2.2"/>
<line x1="1230.0" y1="725.0" x2="1220.0" y2="755.0" stroke="#a08860" stroke-width="1.6"/>
<line x1="1226.0" y1="755.0" x2="1217.0" y2="783.6" stroke="#a08860" stroke-width="1.6"/>
<line x1="1230.4" y1="727.0" x2="1242.4" y2="755.0" stroke="#f0e020" stroke-width="2.2"/>
<line x1="1232.4" y1="755.0" x2="1244.4" y2="785.6" stroke="#f0e020" stroke-width="2.2"/>
<line x1="1240.4" y1="725.0" x2="1230.4" y2="755.0" stroke="#a08860" stroke-width="1.6"/>
<line x1="1236.4" y1="755.0" x2="1227.4" y2="783.6" stroke="#a08860" stroke-width="1.6"/>
<line x1="1240.8" y1="727.0" x2="1252.8" y2="755.0" stroke="#f0e020" stroke-width="2.2"/>
<line x1="1242.8" y1="755.0" x2="1254.8" y2="785.6" stroke="#f0e020" stroke-width="2.2"/>
<line x1="1250.8" y1="725.0" x2="1240.8" y2="755.0" stroke="#a08860" stroke-width="1.6"/>
<line x1="1246.8" y1="755.0" x2="1237.8" y2="783.6" stroke="#a08860" stroke-width="1.6"/>
<line x1="1251.2" y1="727.0" x2="1263.2" y2="755.0" stroke="#f0e020" stroke-width="2.2"/>
<line x1="1253.2" y1="755.0" x2="1265.2" y2="785.6" stroke="#f0e020" stroke-width="2.2"/>
<line x1="1261.2" y1="725.0" x2="1251.2" y2="755.0" stroke="#a08860" stroke-width="1.6"/>
<line x1="1257.2" y1="755.0" x2="1248.2" y2="783.6" stroke="#a08860" stroke-width="1.6"/>
<line x1="1261.6" y1="727.0" x2="1273.6" y2="755.0" stroke="#f0e020" stroke-width="2.2"/>
<line x1="1263.6" y1="755.0" x2="1275.6" y2="785.6" stroke="#f0e020" stroke-width="2.2"/>
<line x1="1271.6" y1="725.0" x2="1261.6" y2="755.0" stroke="#a08860" stroke-width="1.6"/>
<line x1="1267.6" y1="755.0" x2="1258.6" y2="783.6" stroke="#a08860" stroke-width="1.6"/>
<line x1="1272.0" y1="727.0" x2="1284.0" y2="755.0" stroke="#f0e020" stroke-width="2.2"/>
<line x1="1274.0" y1="755.0" x2="1286.0" y2="785.6" stroke="#f0e020" stroke-width="2.2"/>
<line x1="1282.0" y1="725.0" x2="1272.0" y2="755.0" stroke="#a08860" stroke-width="1.6"/>
<line x1="1278.0" y1="755.0" x2="1269.0" y2="783.6" stroke="#a08860" stroke-width="1.6"/>
<line x1="1282.4" y1="727.0" x2="1294.4" y2="755.0" stroke="#f0e020" stroke-width="2.2"/>
<line x1="1284.4" y1="755.0" x2="1296.4" y2="785.6" stroke="#f0e020" stroke-width="2.2"/>
<line x1="1292.4" y1="725.0" x2="1282.4" y2="755.0" stroke="#a08860" stroke-width="1.6"/>
<line x1="1288.4" y1="755.0" x2="1279.4" y2="783.6" stroke="#a08860" stroke-width="1.6"/>
<line x1="1292.8" y1="727.0" x2="1304.8" y2="755.0" stroke="#f0e020" stroke-width="2.2"/>
<line x1="1294.8" y1="755.0" x2="1306.8" y2="785.6" stroke="#f0e020" stroke-width="2.2"/>
<line x1="1302.8" y1="725.0" x2="1292.8" y2="755.0" stroke="#a08860" stroke-width="1.6"/>
<line x1="1298.8" y1="755.0" x2="1289.8" y2="783.6" stroke="#a08860" stroke-width="1.6"/>
<line x1="1303.2" y1="727.0" x2="1315.2" y2="755.0" stroke="#f0e020" stroke-width="2.2"/>
<line x1="1305.2" y1="755.0" x2="1317.2" y2="785.6" stroke="#f0e020" stroke-width="2.2"/>
<line x1="1313.2" y1="725.0" x2="1303.2" y2="755.0" stroke="#a08860" stroke-width="1.6"/>
<line x1="1309.2" y1="755.0" x2="1300.2" y2="783.6" stroke="#a08860" stroke-width="1.6"/>
<line x1="1313.6" y1="727.0" x2="1325.6" y2="755.0" stroke="#f0e020" stroke-width="2.2"/>
<line x1="1315.6" y1="755.0" x2="1327.6" y2="785.6" stroke="#f0e020" stroke-width="2.2"/>
<line x1="1323.6" y1="725.0" x2="1313.6" y2="755.0" stroke="#a08860" stroke-width="1.6"/>
<line x1="1319.6" y1="755.0" x2="1310.6" y2="783.6" stroke="#a08860" stroke-width="1.6"/>
<ellipse cx="1171.0" cy="722.0" rx="4.4" ry="5.6" fill="url(#gY2)"/>
<ellipse cx="1168.0" cy="780.6" rx="4.4" ry="5.6" fill="url(#gY2)"/>
<ellipse cx="1181.4" cy="722.0" rx="4.4" ry="5.6" fill="url(#gY2)"/>
<ellipse cx="1178.4" cy="780.6" rx="4.4" ry="5.6" fill="url(#gY2)"/>
<ellipse cx="1191.8" cy="722.0" rx="4.4" ry="5.6" fill="url(#gY2)"/>
<ellipse cx="1188.8" cy="780.6" rx="4.4" ry="5.6" fill="url(#gY2)"/>
<ellipse cx="1202.2" cy="722.0" rx="4.4" ry="5.6" fill="url(#gY2)"/>
<ellipse cx="1199.2" cy="780.6" rx="4.4" ry="5.6" fill="url(#gY2)"/>
<ellipse cx="1212.6" cy="722.0" rx="4.4" ry="5.6" fill="url(#gY2)"/>
<ellipse cx="1209.6" cy="780.6" rx="4.4" ry="5.6" fill="url(#gY2)"/>
<ellipse cx="1223.0" cy="722.0" rx="4.4" ry="5.6" fill="url(#gY2)"/>
<ellipse cx="1220.0" cy="780.6" rx="4.4" ry="5.6" fill="url(#gY2)"/>
<ellipse cx="1233.4" cy="722.0" rx="4.4" ry="5.6" fill="url(#gY2)"/>
<ellipse cx="1230.4" cy="780.6" rx="4.4" ry="5.6" fill="url(#gY2)"/>
<ellipse cx="1243.8" cy="722.0" rx="4.4" ry="5.6" fill="url(#gY2)"/>
<ellipse cx="1240.8" cy="780.6" rx="4.4" ry="5.6" fill="url(#gY2)"/>
<ellipse cx="1254.2" cy="722.0" rx="4.4" ry="5.6" fill="url(#gY2)"/>
<ellipse cx="1251.2" cy="780.6" rx="4.4" ry="5.6" fill="url(#gY2)"/>
<ellipse cx="1264.6" cy="722.0" rx="4.4" ry="5.6" fill="url(#gY2)"/>
<ellipse cx="1261.6" cy="780.6" rx="4.4" ry="5.6" fill="url(#gY2)"/>
<ellipse cx="1275.0" cy="722.0" rx="4.4" ry="5.6" fill="url(#gY2)"/>
<ellipse cx="1272.0" cy="780.6" rx="4.4" ry="5.6" fill="url(#gY2)"/>
<ellipse cx="1285.4" cy="722.0" rx="4.4" ry="5.6" fill="url(#gY2)"/>
<ellipse cx="1282.4" cy="780.6" rx="4.4" ry="5.6" fill="url(#gY2)"/>
<ellipse cx="1295.8" cy="722.0" rx="4.4" ry="5.6" fill="url(#gY2)"/>
<ellipse cx="1292.8" cy="780.6" rx="4.4" ry="5.6" fill="url(#gY2)"/>
<ellipse cx="1306.2" cy="722.0" rx="4.4" ry="5.6" fill="url(#gY2)"/>
<ellipse cx="1303.2" cy="780.6" rx="4.4" ry="5.6" fill="url(#gY2)"/>
<ellipse cx="1164.0" cy="753.0" rx="6.6" ry="10.2" fill="url(#gT2)"/>
<ellipse cx="1174.4" cy="753.0" rx="6.6" ry="10.2" fill="url(#gT2)"/>
<ellipse cx="1184.8" cy="753.0" rx="6.6" ry="10.2" fill="url(#gT2)"/>
<ellipse cx="1195.2" cy="753.0" rx="6.6" ry="10.2" fill="url(#gT2)"/>
<ellipse cx="1205.6" cy="753.0" rx="6.6" ry="10.2" fill="url(#gT2)"/>
<ellipse cx="1216.0" cy="753.0" rx="6.6" ry="10.2" fill="url(#gT2)"/>
<ellipse cx="1226.4" cy="753.0" rx="6.6" ry="10.2" fill="url(#gT2)"/>
<ellipse cx="1236.8" cy="753.0" rx="6.6" ry="10.2" fill="url(#gT2)"/>
<ellipse cx="1247.2" cy="753.0" rx="6.6" ry="10.2" fill="url(#gT2)"/>
<ellipse cx="1257.6" cy="753.0" rx="6.6" ry="10.2" fill="url(#gT2)"/>
<ellipse cx="1268.0" cy="753.0" rx="6.6" ry="10.2" fill="url(#gT2)"/>
<ellipse cx="1278.4" cy="753.0" rx="6.6" ry="10.2" fill="url(#gT2)"/>
<ellipse cx="1288.8" cy="753.0" rx="6.6" ry="10.2" fill="url(#gT2)"/>
<ellipse cx="1299.2" cy="753.0" rx="6.6" ry="10.2" fill="url(#gT2)"/>
<ellipse cx="1309.6" cy="753.0" rx="6.6" ry="10.2" fill="url(#gT2)"/>
<ellipse cx="1169.0" cy="755.0" rx="6.9" ry="10.6" fill="url(#gT)"/>
<ellipse cx="1179.4" cy="755.0" rx="6.9" ry="10.6" fill="url(#gT)"/>
<ellipse cx="1189.8" cy="755.0" rx="6.9" ry="10.6" fill="url(#gT)"/>
<ellipse cx="1200.2" cy="755.0" rx="6.9" ry="10.6" fill="url(#gT)"/>
<ellipse cx="1210.6" cy="755.0" rx="6.9" ry="10.6" fill="url(#gT)"/>
<ellipse cx="1221.0" cy="755.0" rx="6.9" ry="10.6" fill="url(#gT)"/>
<ellipse cx="1231.4" cy="755.0" rx="6.9" ry="10.6" fill="url(#gT)"/>
<ellipse cx="1241.8" cy="755.0" rx="6.9" ry="10.6" fill="url(#gT)"/>
<ellipse cx="1252.2" cy="755.0" rx="6.9" ry="10.6" fill="url(#gT)"/>
<ellipse cx="1262.6" cy="755.0" rx="6.9" ry="10.6" fill="url(#gT)"/>
<ellipse cx="1273.0" cy="755.0" rx="6.9" ry="10.6" fill="url(#gT)"/>
<ellipse cx="1283.4" cy="755.0" rx="6.9" ry="10.6" fill="url(#gT)"/>
<ellipse cx="1293.8" cy="755.0" rx="6.9" ry="10.6" fill="url(#gT)"/>
<ellipse cx="1304.2" cy="755.0" rx="6.9" ry="10.6" fill="url(#gT)"/>
<ellipse cx="1314.6" cy="755.0" rx="6.9" ry="10.6" fill="url(#gT)"/>
<ellipse cx="1166.0" cy="727.0" rx="5.5" ry="7.4" fill="url(#gY)"/>
<ellipse cx="1176.4" cy="727.0" rx="5.5" ry="7.4" fill="url(#gY)"/>
<ellipse cx="1186.8" cy="727.0" rx="5.5" ry="7.4" fill="url(#gY)"/>
<ellipse cx="1197.2" cy="727.0" rx="5.5" ry="7.4" fill="url(#gY)"/>
<ellipse cx="1207.6" cy="727.0" rx="5.5" ry="7.4" fill="url(#gY)"/>
<ellipse cx="1218.0" cy="727.0" rx="5.5" ry="7.4" fill="url(#gY)"/>
<ellipse cx="1228.4" cy="727.0" rx="5.5" ry="7.4" fill="url(#gY)"/>
<ellipse cx="1238.8" cy="727.0" rx="5.5" ry="7.4" fill="url(#gY)"/>
<ellipse cx="1249.2" cy="727.0" rx="5.5" ry="7.4" fill="url(#gY)"/>
<ellipse cx="1259.6" cy="727.0" rx="5.5" ry="7.4" fill="url(#gY)"/>
<ellipse cx="1270.0" cy="727.0" rx="5.5" ry="7.4" fill="url(#gY)"/>
<ellipse cx="1280.4" cy="727.0" rx="5.5" ry="7.4" fill="url(#gY)"/>
<ellipse cx="1290.8" cy="727.0" rx="5.5" ry="7.4" fill="url(#gY)"/>
<ellipse cx="1301.2" cy="727.0" rx="5.5" ry="7.4" fill="url(#gY)"/>
<ellipse cx="1173.0" cy="785.6" rx="5.5" ry="7.4" fill="url(#gY)"/>
<ellipse cx="1183.4" cy="785.6" rx="5.5" ry="7.4" fill="url(#gY)"/>
<ellipse cx="1193.8" cy="785.6" rx="5.5" ry="7.4" fill="url(#gY)"/>
<ellipse cx="1204.2" cy="785.6" rx="5.5" ry="7.4" fill="url(#gY)"/>
<ellipse cx="1214.6" cy="785.6" rx="5.5" ry="7.4" fill="url(#gY)"/>
<ellipse cx="1225.0" cy="785.6" rx="5.5" ry="7.4" fill="url(#gY)"/>
<ellipse cx="1235.4" cy="785.6" rx="5.5" ry="7.4" fill="url(#gY)"/>
<ellipse cx="1245.8" cy="785.6" rx="5.5" ry="7.4" fill="url(#gY)"/>
<ellipse cx="1256.2" cy="785.6" rx="5.5" ry="7.4" fill="url(#gY)"/>
<ellipse cx="1266.6" cy="785.6" rx="5.5" ry="7.4" fill="url(#gY)"/>
<ellipse cx="1277.0" cy="785.6" rx="5.5" ry="7.4" fill="url(#gY)"/>
<ellipse cx="1287.4" cy="785.6" rx="5.5" ry="7.4" fill="url(#gY)"/>
<ellipse cx="1297.8" cy="785.6" rx="5.5" ry="7.4" fill="url(#gY)"/>
<ellipse cx="1308.2" cy="785.6" rx="5.5" ry="7.4" fill="url(#gY)"/>
<ellipse cx="1228.1" cy="797.6" rx="5.3" ry="7.8" fill="url(#gB)"/>
<ellipse cx="1192.6" cy="755.1" rx="3.9" ry="5.4" fill="url(#gR)"/>
<ellipse cx="1179.2" cy="765.7" rx="5.9" ry="5.8" fill="url(#gR)"/>
<ellipse cx="1228.2" cy="763.6" rx="6.8" ry="4.3" fill="url(#gR)"/>
<ellipse cx="1171.8" cy="761.1" rx="4.8" ry="6.7" fill="url(#gB)"/>
<ellipse cx="1193.4" cy="717.8" rx="6.1" ry="6.1" fill="url(#gR)"/>
<ellipse cx="1204.6" cy="780.4" rx="6.3" ry="5.4" fill="url(#gR)"/>
<ellipse cx="1198.0" cy="714.9" rx="5.1" ry="7.8" fill="url(#gR)"/>
<ellipse cx="1219.2" cy="773.2" rx="4.4" ry="8.2" fill="url(#gR)"/>
<ellipse cx="1174.1" cy="794.8" rx="3.8" ry="6.8" fill="url(#gB)"/>
<ellipse cx="1272.1" cy="715.1" rx="3.6" ry="5.8" fill="url(#gB)"/>
<ellipse cx="1291.6" cy="723.2" rx="3.7" ry="7.6" fill="url(#gR)"/>
<ellipse cx="1191.0" cy="791.4" rx="7.4" ry="7.5" fill="url(#gR)"/>
<ellipse cx="1223.6" cy="790.7" rx="3.5" ry="7.9" fill="url(#gR)"/>
</g>
<clipPath id="clipS12"><rect x="1163" y="820.9" width="143" height="104.10000000000002"/></clipPath><g clip-path="url(#clipS12)">
<line x1="1157.6" y1="842.9" x2="1169.6" y2="873.6" stroke="#f0e020" stroke-width="2.2"/>
<line x1="1159.6" y1="873.6" x2="1171.6" y2="903.0" stroke="#f0e020" stroke-width="2.2"/>
<line x1="1167.6" y1="840.9" x2="1157.6" y2="873.6" stroke="#a08860" stroke-width="1.6"/>
<line x1="1163.6" y1="873.6" x2="1154.6" y2="901.0" stroke="#a08860" stroke-width="1.6"/>
<line x1="1168.0" y1="842.9" x2="1180.0" y2="873.6" stroke="#f0e020" stroke-width="2.2"/>
<line x1="1170.0" y1="873.6" x2="1182.0" y2="903.0" stroke="#f0e020" stroke-width="2.2"/>
<line x1="1178.0" y1="840.9" x2="1168.0" y2="873.6" stroke="#a08860" stroke-width="1.6"/>
<line x1="1174.0" y1="873.6" x2="1165.0" y2="901.0" stroke="#a08860" stroke-width="1.6"/>
<line x1="1178.4" y1="842.9" x2="1190.4" y2="873.6" stroke="#f0e020" stroke-width="2.2"/>
<line x1="1180.4" y1="873.6" x2="1192.4" y2="903.0" stroke="#f0e020" stroke-width="2.2"/>
<line x1="1188.4" y1="840.9" x2="1178.4" y2="873.6" stroke="#a08860" stroke-width="1.6"/>
<line x1="1184.4" y1="873.6" x2="1175.4" y2="901.0" stroke="#a08860" stroke-width="1.6"/>
<line x1="1188.8" y1="842.9" x2="1200.8" y2="873.6" stroke="#f0e020" stroke-width="2.2"/>
<line x1="1190.8" y1="873.6" x2="1202.8" y2="903.0" stroke="#f0e020" stroke-width="2.2"/>
<line x1="1198.8" y1="840.9" x2="1188.8" y2="873.6" stroke="#a08860" stroke-width="1.6"/>
<line x1="1194.8" y1="873.6" x2="1185.8" y2="901.0" stroke="#a08860" stroke-width="1.6"/>
<line x1="1199.2" y1="842.9" x2="1211.2" y2="873.6" stroke="#f0e020" stroke-width="2.2"/>
<line x1="1201.2" y1="873.6" x2="1213.2" y2="903.0" stroke="#f0e020" stroke-width="2.2"/>
<line x1="1209.2" y1="840.9" x2="1199.2" y2="873.6" stroke="#a08860" stroke-width="1.6"/>
<line x1="1205.2" y1="873.6" x2="1196.2" y2="901.0" stroke="#a08860" stroke-width="1.6"/>
<line x1="1209.6" y1="842.9" x2="1221.6" y2="873.6" stroke="#f0e020" stroke-width="2.2"/>
<line x1="1211.6" y1="873.6" x2="1223.6" y2="903.0" stroke="#f0e020" stroke-width="2.2"/>
<line x1="1219.6" y1="840.9" x2="1209.6" y2="873.6" stroke="#a08860" stroke-width="1.6"/>
<line x1="1215.6" y1="873.6" x2="1206.6" y2="901.0" stroke="#a08860" stroke-width="1.6"/>
<line x1="1220.0" y1="842.9" x2="1232.0" y2="873.6" stroke="#f0e020" stroke-width="2.2"/>
<line x1="1222.0" y1="873.6" x2="1234.0" y2="903.0" stroke="#f0e020" stroke-width="2.2"/>
<line x1="1230.0" y1="840.9" x2="1220.0" y2="873.6" stroke="#a08860" stroke-width="1.6"/>
<line x1="1226.0" y1="873.6" x2="1217.0" y2="901.0" stroke="#a08860" stroke-width="1.6"/>
<line x1="1230.4" y1="842.9" x2="1242.4" y2="873.6" stroke="#f0e020" stroke-width="2.2"/>
<line x1="1232.4" y1="873.6" x2="1244.4" y2="903.0" stroke="#f0e020" stroke-width="2.2"/>
<line x1="1240.4" y1="840.9" x2="1230.4" y2="873.6" stroke="#a08860" stroke-width="1.6"/>
<line x1="1236.4" y1="873.6" x2="1227.4" y2="901.0" stroke="#a08860" stroke-width="1.6"/>
<line x1="1240.8" y1="842.9" x2="1252.8" y2="873.6" stroke="#f0e020" stroke-width="2.2"/>
<line x1="1242.8" y1="873.6" x2="1254.8" y2="903.0" stroke="#f0e020" stroke-width="2.2"/>
<line x1="1250.8" y1="840.9" x2="1240.8" y2="873.6" stroke="#a08860" stroke-width="1.6"/>
<line x1="1246.8" y1="873.6" x2="1237.8" y2="901.0" stroke="#a08860" stroke-width="1.6"/>
<line x1="1251.2" y1="842.9" x2="1263.2" y2="873.6" stroke="#f0e020" stroke-width="2.2"/>
<line x1="1253.2" y1="873.6" x2="1265.2" y2="903.0" stroke="#f0e020" stroke-width="2.2"/>
<line x1="1261.2" y1="840.9" x2="1251.2" y2="873.6" stroke="#a08860" stroke-width="1.6"/>
<line x1="1257.2" y1="873.6" x2="1248.2" y2="901.0" stroke="#a08860" stroke-width="1.6"/>
<line x1="1261.6" y1="842.9" x2="1273.6" y2="873.6" stroke="#f0e020" stroke-width="2.2"/>
<line x1="1263.6" y1="873.6" x2="1275.6" y2="903.0" stroke="#f0e020" stroke-width="2.2"/>
<line x1="1271.6" y1="840.9" x2="1261.6" y2="873.6" stroke="#a08860" stroke-width="1.6"/>
<line x1="1267.6" y1="873.6" x2="1258.6" y2="901.0" stroke="#a08860" stroke-width="1.6"/>
<line x1="1272.0" y1="842.9" x2="1284.0" y2="873.6" stroke="#f0e020" stroke-width="2.2"/>
<line x1="1274.0" y1="873.6" x2="1286.0" y2="903.0" stroke="#f0e020" stroke-width="2.2"/>
<line x1="1282.0" y1="840.9" x2="1272.0" y2="873.6" stroke="#a08860" stroke-width="1.6"/>
<line x1="1278.0" y1="873.6" x2="1269.0" y2="901.0" stroke="#a08860" stroke-width="1.6"/>
<line x1="1282.4" y1="842.9" x2="1294.4" y2="873.6" stroke="#f0e020" stroke-width="2.2"/>
<line x1="1284.4" y1="873.6" x2="1296.4" y2="903.0" stroke="#f0e020" stroke-width="2.2"/>
<line x1="1292.4" y1="840.9" x2="1282.4" y2="873.6" stroke="#a08860" stroke-width="1.6"/>
<line x1="1288.4" y1="873.6" x2="1279.4" y2="901.0" stroke="#a08860" stroke-width="1.6"/>
<line x1="1292.8" y1="842.9" x2="1304.8" y2="873.6" stroke="#f0e020" stroke-width="2.2"/>
<line x1="1294.8" y1="873.6" x2="1306.8" y2="903.0" stroke="#f0e020" stroke-width="2.2"/>
<line x1="1302.8" y1="840.9" x2="1292.8" y2="873.6" stroke="#a08860" stroke-width="1.6"/>
<line x1="1298.8" y1="873.6" x2="1289.8" y2="901.0" stroke="#a08860" stroke-width="1.6"/>
<line x1="1303.2" y1="842.9" x2="1315.2" y2="873.6" stroke="#f0e020" stroke-width="2.2"/>
<line x1="1305.2" y1="873.6" x2="1317.2" y2="903.0" stroke="#f0e020" stroke-width="2.2"/>
<line x1="1313.2" y1="840.9" x2="1303.2" y2="873.6" stroke="#a08860" stroke-width="1.6"/>
<line x1="1309.2" y1="873.6" x2="1300.2" y2="901.0" stroke="#a08860" stroke-width="1.6"/>
<line x1="1313.6" y1="842.9" x2="1325.6" y2="873.6" stroke="#f0e020" stroke-width="2.2"/>
<line x1="1315.6" y1="873.6" x2="1327.6" y2="903.0" stroke="#f0e020" stroke-width="2.2"/>
<line x1="1323.6" y1="840.9" x2="1313.6" y2="873.6" stroke="#a08860" stroke-width="1.6"/>
<line x1="1319.6" y1="873.6" x2="1310.6" y2="901.0" stroke="#a08860" stroke-width="1.6"/>
<ellipse cx="1171.0" cy="837.9" rx="4.4" ry="5.6" fill="url(#gY2)"/>
<ellipse cx="1168.0" cy="898.0" rx="4.4" ry="5.6" fill="url(#gY2)"/>
<ellipse cx="1181.4" cy="837.9" rx="4.4" ry="5.6" fill="url(#gY2)"/>
<ellipse cx="1178.4" cy="898.0" rx="4.4" ry="5.6" fill="url(#gY2)"/>
<ellipse cx="1191.8" cy="837.9" rx="4.4" ry="5.6" fill="url(#gY2)"/>
<ellipse cx="1188.8" cy="898.0" rx="4.4" ry="5.6" fill="url(#gY2)"/>
<ellipse cx="1202.2" cy="837.9" rx="4.4" ry="5.6" fill="url(#gY2)"/>
<ellipse cx="1199.2" cy="898.0" rx="4.4" ry="5.6" fill="url(#gY2)"/>
<ellipse cx="1212.6" cy="837.9" rx="4.4" ry="5.6" fill="url(#gY2)"/>
<ellipse cx="1209.6" cy="898.0" rx="4.4" ry="5.6" fill="url(#gY2)"/>
<ellipse cx="1223.0" cy="837.9" rx="4.4" ry="5.6" fill="url(#gY2)"/>
<ellipse cx="1220.0" cy="898.0" rx="4.4" ry="5.6" fill="url(#gY2)"/>
<ellipse cx="1233.4" cy="837.9" rx="4.4" ry="5.6" fill="url(#gY2)"/>
<ellipse cx="1230.4" cy="898.0" rx="4.4" ry="5.6" fill="url(#gY2)"/>
<ellipse cx="1243.8" cy="837.9" rx="4.4" ry="5.6" fill="url(#gY2)"/>
<ellipse cx="1240.8" cy="898.0" rx="4.4" ry="5.6" fill="url(#gY2)"/>
<ellipse cx="1254.2" cy="837.9" rx="4.4" ry="5.6" fill="url(#gY2)"/>
<ellipse cx="1251.2" cy="898.0" rx="4.4" ry="5.6" fill="url(#gY2)"/>
<ellipse cx="1264.6" cy="837.9" rx="4.4" ry="5.6" fill="url(#gY2)"/>
<ellipse cx="1261.6" cy="898.0" rx="4.4" ry="5.6" fill="url(#gY2)"/>
<ellipse cx="1275.0" cy="837.9" rx="4.4" ry="5.6" fill="url(#gY2)"/>
<ellipse cx="1272.0" cy="898.0" rx="4.4" ry="5.6" fill="url(#gY2)"/>
<ellipse cx="1285.4" cy="837.9" rx="4.4" ry="5.6" fill="url(#gY2)"/>
<ellipse cx="1282.4" cy="898.0" rx="4.4" ry="5.6" fill="url(#gY2)"/>
<ellipse cx="1295.8" cy="837.9" rx="4.4" ry="5.6" fill="url(#gY2)"/>
<ellipse cx="1292.8" cy="898.0" rx="4.4" ry="5.6" fill="url(#gY2)"/>
<ellipse cx="1306.2" cy="837.9" rx="4.4" ry="5.6" fill="url(#gY2)"/>
<ellipse cx="1303.2" cy="898.0" rx="4.4" ry="5.6" fill="url(#gY2)"/>
<ellipse cx="1164.0" cy="871.6" rx="6.6" ry="10.2" fill="url(#gT2)"/>
<ellipse cx="1174.4" cy="871.6" rx="6.6" ry="10.2" fill="url(#gT2)"/>
<ellipse cx="1184.8" cy="871.6" rx="6.6" ry="10.2" fill="url(#gT2)"/>
<ellipse cx="1195.2" cy="871.6" rx="6.6" ry="10.2" fill="url(#gT2)"/>
<ellipse cx="1205.6" cy="871.6" rx="6.6" ry="10.2" fill="url(#gT2)"/>
<ellipse cx="1216.0" cy="871.6" rx="6.6" ry="10.2" fill="url(#gT2)"/>
<ellipse cx="1226.4" cy="871.6" rx="6.6" ry="10.2" fill="url(#gT2)"/>
<ellipse cx="1236.8" cy="871.6" rx="6.6" ry="10.2" fill="url(#gT2)"/>
<ellipse cx="1247.2" cy="871.6" rx="6.6" ry="10.2" fill="url(#gT2)"/>
<ellipse cx="1257.6" cy="871.6" rx="6.6" ry="10.2" fill="url(#gT2)"/>
<ellipse cx="1268.0" cy="871.6" rx="6.6" ry="10.2" fill="url(#gT2)"/>
<ellipse cx="1278.4" cy="871.6" rx="6.6" ry="10.2" fill="url(#gT2)"/>
<ellipse cx="1288.8" cy="871.6" rx="6.6" ry="10.2" fill="url(#gT2)"/>
<ellipse cx="1299.2" cy="871.6" rx="6.6" ry="10.2" fill="url(#gT2)"/>
<ellipse cx="1309.6" cy="871.6" rx="6.6" ry="10.2" fill="url(#gT2)"/>
<ellipse cx="1169.0" cy="873.6" rx="6.9" ry="10.6" fill="url(#gT)"/>
<ellipse cx="1179.4" cy="873.6" rx="6.9" ry="10.6" fill="url(#gT)"/>
<ellipse cx="1189.8" cy="873.6" rx="6.9" ry="10.6" fill="url(#gT)"/>
<ellipse cx="1200.2" cy="873.6" rx="6.9" ry="10.6" fill="url(#gT)"/>
<ellipse cx="1210.6" cy="873.6" rx="6.9" ry="10.6" fill="url(#gT)"/>
<ellipse cx="1221.0" cy="873.6" rx="6.9" ry="10.6" fill="url(#gT)"/>
<ellipse cx="1231.4" cy="873.6" rx="6.9" ry="10.6" fill="url(#gT)"/>
<ellipse cx="1241.8" cy="873.6" rx="6.9" ry="10.6" fill="url(#gT)"/>
<ellipse cx="1252.2" cy="873.6" rx="6.9" ry="10.6" fill="url(#gT)"/>
<ellipse cx="1262.6" cy="873.6" rx="6.9" ry="10.6" fill="url(#gT)"/>
<ellipse cx="1273.0" cy="873.6" rx="6.9" ry="10.6" fill="url(#gT)"/>
<ellipse cx="1283.4" cy="873.6" rx="6.9" ry="10.6" fill="url(#gT)"/>
<ellipse cx="1293.8" cy="873.6" rx="6.9" ry="10.6" fill="url(#gT)"/>
<ellipse cx="1304.2" cy="873.6" rx="6.9" ry="10.6" fill="url(#gT)"/>
<ellipse cx="1314.6" cy="873.6" rx="6.9" ry="10.6" fill="url(#gT)"/>
<ellipse cx="1166.0" cy="842.9" rx="5.5" ry="7.4" fill="url(#gY)"/>
<ellipse cx="1176.4" cy="842.9" rx="5.5" ry="7.4" fill="url(#gY)"/>
<ellipse cx="1186.8" cy="842.9" rx="5.5" ry="7.4" fill="url(#gY)"/>
<ellipse cx="1197.2" cy="842.9" rx="5.5" ry="7.4" fill="url(#gY)"/>
<ellipse cx="1207.6" cy="842.9" rx="5.5" ry="7.4" fill="url(#gY)"/>
<ellipse cx="1218.0" cy="842.9" rx="5.5" ry="7.4" fill="url(#gY)"/>
<ellipse cx="1228.4" cy="842.9" rx="5.5" ry="7.4" fill="url(#gY)"/>
<ellipse cx="1238.8" cy="842.9" rx="5.5" ry="7.4" fill="url(#gY)"/>
<ellipse cx="1249.2" cy="842.9" rx="5.5" ry="7.4" fill="url(#gY)"/>
<ellipse cx="1259.6" cy="842.9" rx="5.5" ry="7.4" fill="url(#gY)"/>
<ellipse cx="1270.0" cy="842.9" rx="5.5" ry="7.4" fill="url(#gY)"/>
<ellipse cx="1280.4" cy="842.9" rx="5.5" ry="7.4" fill="url(#gY)"/>
<ellipse cx="1290.8" cy="842.9" rx="5.5" ry="7.4" fill="url(#gY)"/>
<ellipse cx="1301.2" cy="842.9" rx="5.5" ry="7.4" fill="url(#gY)"/>
<ellipse cx="1173.0" cy="903.0" rx="5.5" ry="7.4" fill="url(#gY)"/>
<ellipse cx="1183.4" cy="903.0" rx="5.5" ry="7.4" fill="url(#gY)"/>
<ellipse cx="1193.8" cy="903.0" rx="5.5" ry="7.4" fill="url(#gY)"/>
<ellipse cx="1204.2" cy="903.0" rx="5.5" ry="7.4" fill="url(#gY)"/>
<ellipse cx="1214.6" cy="903.0" rx="5.5" ry="7.4" fill="url(#gY)"/>
<ellipse cx="1225.0" cy="903.0" rx="5.5" ry="7.4" fill="url(#gY)"/>
<ellipse cx="1235.4" cy="903.0" rx="5.5" ry="7.4" fill="url(#gY)"/>
<ellipse cx="1245.8" cy="903.0" rx="5.5" ry="7.4" fill="url(#gY)"/>
<ellipse cx="1256.2" cy="903.0" rx="5.5" ry="7.4" fill="url(#gY)"/>
<ellipse cx="1266.6" cy="903.0" rx="5.5" ry="7.4" fill="url(#gY)"/>
<ellipse cx="1277.0" cy="903.0" rx="5.5" ry="7.4" fill="url(#gY)"/>
<ellipse cx="1287.4" cy="903.0" rx="5.5" ry="7.4" fill="url(#gY)"/>
<ellipse cx="1297.8" cy="903.0" rx="5.5" ry="7.4" fill="url(#gY)"/>
<ellipse cx="1308.2" cy="903.0" rx="5.5" ry="7.4" fill="url(#gY)"/>
<ellipse cx="1231.1" cy="881.3" rx="5.0" ry="8.5" fill="url(#gR)"/>
<ellipse cx="1232.1" cy="871.0" rx="5.7" ry="7.0" fill="url(#gR)"/>
<ellipse cx="1186.6" cy="905.1" rx="3.7" ry="7.7" fill="url(#gR)"/>
<ellipse cx="1177.1" cy="864.8" rx="6.7" ry="4.4" fill="url(#gB)"/>
<ellipse cx="1291.1" cy="881.1" rx="3.9" ry="8.4" fill="url(#gR)"/>
<ellipse cx="1294.8" cy="835.4" rx="5.7" ry="8.0" fill="url(#gR)"/>
<ellipse cx="1242.4" cy="892.3" rx="5.5" ry="4.4" fill="url(#gR)"/>
<ellipse cx="1249.0" cy="871.4" rx="5.7" ry="6.9" fill="url(#gB)"/>
<ellipse cx="1178.2" cy="840.1" rx="4.9" ry="5.6" fill="url(#gB)"/>
<ellipse cx="1260.2" cy="853.6" rx="4.8" ry="5.7" fill="url(#gR)"/>
<ellipse cx="1244.4" cy="856.9" rx="6.8" ry="5.9" fill="url(#gB)"/>
<ellipse cx="1237.1" cy="835.5" rx="4.3" ry="6.7" fill="url(#gB)"/>
<ellipse cx="1268.7" cy="830.9" rx="3.6" ry="5.2" fill="url(#gB)"/>
<ellipse cx="1213.5" cy="850.5" rx="5.0" ry="5.5" fill="url(#gB)"/>
</g>
<text x="1091.8" y="503.3" font-family="Liberation Serif, serif" font-size="23.7" font-weight="normal" text-anchor="start" >89.31 e</text>
<text x="1091.8" y="559" font-family="Liberation Serif, serif" font-size="23.7" font-weight="normal" text-anchor="start" >90.31 e</text>
<text x="1091.8" y="618.3" font-family="Liberation Serif, serif" font-size="23.7" font-weight="normal" text-anchor="start" >90.32 e</text>
<text x="1091.8" y="674.3" font-family="Liberation Serif, serif" font-size="23.7" font-weight="normal" text-anchor="start" >89.31 e</text>
<text x="1091.8" y="732.6" font-family="Liberation Serif, serif" font-size="23.7" font-weight="normal" text-anchor="start" >89.30 e</text>
<text x="1091.8" y="792.1" font-family="Liberation Serif, serif" font-size="23.7" font-weight="normal" text-anchor="start" >90.32 e</text>
<text x="1091.8" y="851.3" font-family="Liberation Serif, serif" font-size="23.7" font-weight="normal" text-anchor="start" >90.11 e</text>
<text x="1091.8" y="910" font-family="Liberation Serif, serif" font-size="23.7" font-weight="normal" text-anchor="start" >89.31 e</text>
<line x1="1303.3" y1="547.5" x2="1350.2" y2="547.5" stroke="#000" stroke-width="2"/>
<line x1="1303.3" y1="601.4" x2="1350.2" y2="601.4" stroke="#000" stroke-width="2"/>
<line x1="1303.3" y1="668.3" x2="1350.2" y2="668.3" stroke="#000" stroke-width="2"/>
<line x1="1303.3" y1="719" x2="1350.2" y2="719" stroke="#000" stroke-width="2"/>
<line x1="1303.3" y1="783.7" x2="1350.2" y2="783.7" stroke="#000" stroke-width="2"/>
<line x1="1303.3" y1="836.8" x2="1350.2" y2="836.8" stroke="#000" stroke-width="2"/>
<line x1="1303.3" y1="903" x2="1350.2" y2="903" stroke="#000" stroke-width="2"/>
<line x1="1303.3" y1="951.3" x2="1350.2" y2="951.3" stroke="#000" stroke-width="2"/>
<line x1="1314" y1="549.0" x2="1314" y2="599.9" stroke="#000" stroke-width="1.8" marker-start="url(#ah)" marker-end="url(#ah)"/>
<text x="1323.6000000000001" y="581.4" font-family="Liberation Serif, serif" font-size="23.4" font-weight="normal" text-anchor="start" >3.042Å</text>
<text x="1180.3" y="584.5" font-family="Liberation Serif, serif" font-size="23.4" font-weight="normal" text-anchor="start" >AC interface</text>
<line x1="1314" y1="669.8" x2="1314" y2="717.5" stroke="#000" stroke-width="1.8" marker-start="url(#ah)" marker-end="url(#ah)"/>
<text x="1324.9" y="698.5" font-family="Liberation Serif, serif" font-size="23.4" font-weight="bold" text-anchor="start" >3.053Å</text>
<text x="1180.3" y="705.5" font-family="Liberation Serif, serif" font-size="23.4" font-weight="normal" text-anchor="start" >AA interface</text>
<line x1="1314" y1="785.2" x2="1314" y2="835.3" stroke="#000" stroke-width="1.8" marker-start="url(#ah)" marker-end="url(#ah)"/>
<text x="1323.0" y="817.8" font-family="Liberation Serif, serif" font-size="23.4" font-weight="normal" text-anchor="start" >3.042Å</text>
<text x="1179.5" y="823.4" font-family="Liberation Serif, serif" font-size="23.4" font-weight="normal" text-anchor="start" >AC interface</text>
<line x1="1314" y1="904.5" x2="1314" y2="949.8" stroke="#000" stroke-width="1.8" marker-start="url(#ah)" marker-end="url(#ah)"/>
<text x="1322.2" y="932.8" font-family="Liberation Serif, serif" font-size="23.4" font-weight="bold" text-anchor="start" >3.050Å</text>
<text x="1179.5" y="937.3" font-family="Liberation Serif, serif" font-size="23.4" font-weight="normal" text-anchor="start" >AA interface</text>
<text x="1150.6" y="991" font-family="Liberation Serif, serif" font-size="26">T-TaS<tspan font-size="17" dy="5">2</tspan><tspan dy="-5"> : Δc%=0.360</tspan></text>
<clipPath id="clipS13"><rect x="1485" y="472.7" width="140" height="100.00000000000006"/></clipPath><g clip-path="url(#clipS13)">
<line x1="1479.6" y1="494.7" x2="1491.6" y2="523.4" stroke="#9ed030" stroke-width="1.9"/>
<line x1="1481.6" y1="523.4" x2="1493.6" y2="550.7" stroke="#9ed030" stroke-width="1.9"/>
<line x1="1489.6" y1="492.7" x2="1479.6" y2="523.4" stroke="#a08860" stroke-width="1.6"/>
<line x1="1485.6" y1="523.4" x2="1476.6" y2="548.7" stroke="#a08860" stroke-width="1.6"/>
<line x1="1490.0" y1="494.7" x2="1502.0" y2="523.4" stroke="#9ed030" stroke-width="1.9"/>
<line x1="1492.0" y1="523.4" x2="1504.0" y2="550.7" stroke="#9ed030" stroke-width="1.9"/>
<line x1="1500.0" y1="492.7" x2="1490.0" y2="523.4" stroke="#a08860" stroke-width="1.6"/>
<line x1="1496.0" y1="523.4" x2="1487.0" y2="548.7" stroke="#a08860" stroke-width="1.6"/>
<line x1="1500.4" y1="494.7" x2="1512.4" y2="523.4" stroke="#9ed030" stroke-width="1.9"/>
<line x1="1502.4" y1="523.4" x2="1514.4" y2="550.7" stroke="#9ed030" stroke-width="1.9"/>
<line x1="1510.4" y1="492.7" x2="1500.4" y2="523.4" stroke="#a08860" stroke-width="1.6"/>
<line x1="1506.4" y1="523.4" x2="1497.4" y2="548.7" stroke="#a08860" stroke-width="1.6"/>
<line x1="1510.8" y1="494.7" x2="1522.8" y2="523.4" stroke="#9ed030" stroke-width="1.9"/>
<line x1="1512.8" y1="523.4" x2="1524.8" y2="550.7" stroke="#9ed030" stroke-width="1.9"/>
<line x1="1520.8" y1="492.7" x2="1510.8" y2="523.4" stroke="#a08860" stroke-width="1.6"/>
<line x1="1516.8" y1="523.4" x2="1507.8" y2="548.7" stroke="#a08860" stroke-width="1.6"/>
<line x1="1521.2" y1="494.7" x2="1533.2" y2="523.4" stroke="#9ed030" stroke-width="1.9"/>
<line x1="1523.2" y1="523.4" x2="1535.2" y2="550.7" stroke="#9ed030" stroke-width="1.9"/>
<line x1="1531.2" y1="492.7" x2="1521.2" y2="523.4" stroke="#a08860" stroke-width="1.6"/>
<line x1="1527.2" y1="523.4" x2="1518.2" y2="548.7" stroke="#a08860" stroke-width="1.6"/>
<line x1="1531.6" y1="494.7" x2="1543.6" y2="523.4" stroke="#9ed030" stroke-width="1.9"/>
<line x1="1533.6" y1="523.4" x2="1545.6" y2="550.7" stroke="#9ed030" stroke-width="1.9"/>
<line x1="1541.6" y1="492.7" x2="1531.6" y2="523.4" stroke="#a08860" stroke-width="1.6"/>
<line x1="1537.6" y1="523.4" x2="1528.6" y2="548.7" stroke="#a08860" stroke-width="1.6"/>
<line x1="1542.0" y1="494.7" x2="1554.0" y2="523.4" stroke="#9ed030" stroke-width="1.9"/>
<line x1="1544.0" y1="523.4" x2="1556.0" y2="550.7" stroke="#9ed030" stroke-width="1.9"/>
<line x1="1552.0" y1="492.7" x2="1542.0" y2="523.4" stroke="#a08860" stroke-width="1.6"/>
<line x1="1548.0" y1="523.4" x2="1539.0" y2="548.7" stroke="#a08860" stroke-width="1.6"/>
<line x1="1552.4" y1="494.7" x2="1564.4" y2="523.4" stroke="#9ed030" stroke-width="1.9"/>
<line x1="1554.4" y1="523.4" x2="1566.4" y2="550.7" stroke="#9ed030" stroke-width="1.9"/>
<line x1="1562.4" y1="492.7" x2="1552.4" y2="523.4" stroke="#a08860" stroke-width="1.6"/>
<line x1="1558.4" y1="523.4" x2="1549.4" y2="548.7" stroke="#a08860" stroke-width="1.6"/>
<line x1="1562.8" y1="494.7" x2="1574.8" y2="523.4" stroke="#9ed030" stroke-width="1.9"/>
<line x1="1564.8" y1="523.4" x2="1576.8" y2="550.7" stroke="#9ed030" stroke-width="1.9"/>
<line x1="1572.8" y1="492.7" x2="1562.8" y2="523.4" stroke="#a08860" stroke-width="1.6"/>
<line x1="1568.8" y1="523.4" x2="1559.8" y2="548.7" stroke="#a08860" stroke-width="1.6"/>
<line x1="1573.2" y1="494.7" x2="1585.2" y2="523.4" stroke="#9ed030" stroke-width="1.9"/>
<line x1="1575.2" y1="523.4" x2="1587.2" y2="550.7" stroke="#9ed030" stroke-width="1.9"/>
<line x1="1583.2" y1="492.7" x2="1573.2" y2="523.4" stroke="#a08860" stroke-width="1.6"/>
<line x1="1579.2" y1="523.4" x2="1570.2" y2="548.7" stroke="#a08860" stroke-width="1.6"/>
<line x1="1583.6" y1="494.7" x2="1595.6" y2="523.4" stroke="#9ed030" stroke-width="1.9"/>
<line x1="1585.6" y1="523.4" x2="1597.6" y2="550.7" stroke="#9ed030" stroke-width="1.9"/>
<line x1="1593.6" y1="492.7" x2="1583.6" y2="523.4" stroke="#a08860" stroke-width="1.6"/>
<line x1="1589.6" y1="523.4" x2="1580.6" y2="548.7" stroke="#a08860" stroke-width="1.6"/>
<line x1="1594.0" y1="494.7" x2="1606.0" y2="523.4" stroke="#9ed030" stroke-width="1.9"/>
<line x1="1596.0" y1="523.4" x2="1608.0" y2="550.7" stroke="#9ed030" stroke-width="1.9"/>
<line x1="1604.0" y1="492.7" x2="1594.0" y2="523.4" stroke="#a08860" stroke-width="1.6"/>
<line x1="1600.0" y1="523.4" x2="1591.0" y2="548.7" stroke="#a08860" stroke-width="1.6"/>
<line x1="1604.4" y1="494.7" x2="1616.4" y2="523.4" stroke="#9ed030" stroke-width="1.9"/>
<line x1="1606.4" y1="523.4" x2="1618.4" y2="550.7" stroke="#9ed030" stroke-width="1.9"/>
<line x1="1614.4" y1="492.7" x2="1604.4" y2="523.4" stroke="#a08860" stroke-width="1.6"/>
<line x1="1610.4" y1="523.4" x2="1601.4" y2="548.7" stroke="#a08860" stroke-width="1.6"/>
<line x1="1614.8" y1="494.7" x2="1626.8" y2="523.4" stroke="#9ed030" stroke-width="1.9"/>
<line x1="1616.8" y1="523.4" x2="1628.8" y2="550.7" stroke="#9ed030" stroke-width="1.9"/>
<line x1="1624.8" y1="492.7" x2="1614.8" y2="523.4" stroke="#a08860" stroke-width="1.6"/>
<line x1="1620.8" y1="523.4" x2="1611.8" y2="548.7" stroke="#a08860" stroke-width="1.6"/>
<line x1="1625.2" y1="494.7" x2="1637.2" y2="523.4" stroke="#9ed030" stroke-width="1.9"/>
<line x1="1627.2" y1="523.4" x2="1639.2" y2="550.7" stroke="#9ed030" stroke-width="1.9"/>
<line x1="1635.2" y1="492.7" x2="1625.2" y2="523.4" stroke="#a08860" stroke-width="1.6"/>
<line x1="1631.2" y1="523.4" x2="1622.2" y2="548.7" stroke="#a08860" stroke-width="1.6"/>
<ellipse cx="1493.0" cy="489.7" rx="4.4" ry="5.6" fill="url(#gG2)"/>
<ellipse cx="1490.0" cy="545.7" rx="4.4" ry="5.6" fill="url(#gG2)"/>
<ellipse cx="1503.4" cy="489.7" rx="4.4" ry="5.6" fill="url(#gG2)"/>
<ellipse cx="1500.4" cy="545.7" rx="4.4" ry="5.6" fill="url(#gG2)"/>
<ellipse cx="1513.8" cy="489.7" rx="4.4" ry="5.6" fill="url(#gG2)"/>
<ellipse cx="1510.8" cy="545.7" rx="4.4" ry="5.6" fill="url(#gG2)"/>
<ellipse cx="1524.2" cy="489.7" rx="4.4" ry="5.6" fill="url(#gG2)"/>
<ellipse cx="1521.2" cy="545.7" rx="4.4" ry="5.6" fill="url(#gG2)"/>
<ellipse cx="1534.6" cy="489.7" rx="4.4" ry="5.6" fill="url(#gG2)"/>
<ellipse cx="1531.6" cy="545.7" rx="4.4" ry="5.6" fill="url(#gG2)"/>
<ellipse cx="1545.0" cy="489.7" rx="4.4" ry="5.6" fill="url(#gG2)"/>
<ellipse cx="1542.0" cy="545.7" rx="4.4" ry="5.6" fill="url(#gG2)"/>
<ellipse cx="1555.4" cy="489.7" rx="4.4" ry="5.6" fill="url(#gG2)"/>
<ellipse cx="1552.4" cy="545.7" rx="4.4" ry="5.6" fill="url(#gG2)"/>
<ellipse cx="1565.8" cy="489.7" rx="4.4" ry="5.6" fill="url(#gG2)"/>
<ellipse cx="1562.8" cy="545.7" rx="4.4" ry="5.6" fill="url(#gG2)"/>
<ellipse cx="1576.2" cy="489.7" rx="4.4" ry="5.6" fill="url(#gG2)"/>
<ellipse cx="1573.2" cy="545.7" rx="4.4" ry="5.6" fill="url(#gG2)"/>
<ellipse cx="1586.6" cy="489.7" rx="4.4" ry="5.6" fill="url(#gG2)"/>
<ellipse cx="1583.6" cy="545.7" rx="4.4" ry="5.6" fill="url(#gG2)"/>
<ellipse cx="1597.0" cy="489.7" rx="4.4" ry="5.6" fill="url(#gG2)"/>
<ellipse cx="1594.0" cy="545.7" rx="4.4" ry="5.6" fill="url(#gG2)"/>
<ellipse cx="1607.4" cy="489.7" rx="4.4" ry="5.6" fill="url(#gG2)"/>
<ellipse cx="1604.4" cy="545.7" rx="4.4" ry="5.6" fill="url(#gG2)"/>
<ellipse cx="1617.8" cy="489.7" rx="4.4" ry="5.6" fill="url(#gG2)"/>
<ellipse cx="1614.8" cy="545.7" rx="4.4" ry="5.6" fill="url(#gG2)"/>
<ellipse cx="1486.0" cy="521.4" rx="6.6" ry="10.2" fill="url(#gT2)"/>
<ellipse cx="1496.4" cy="521.4" rx="6.6" ry="10.2" fill="url(#gT2)"/>
<ellipse cx="1506.8" cy="521.4" rx="6.6" ry="10.2" fill="url(#gT2)"/>
<ellipse cx="1517.2" cy="521.4" rx="6.6" ry="10.2" fill="url(#gT2)"/>
<ellipse cx="1527.6" cy="521.4" rx="6.6" ry="10.2" fill="url(#gT2)"/>
<ellipse cx="1538.0" cy="521.4" rx="6.6" ry="10.2" fill="url(#gT2)"/>
<ellipse cx="1548.4" cy="521.4" rx="6.6" ry="10.2" fill="url(#gT2)"/>
<ellipse cx="1558.8" cy="521.4" rx="6.6" ry="10.2" fill="url(#gT2)"/>
<ellipse cx="1569.2" cy="521.4" rx="6.6" ry="10.2" fill="url(#gT2)"/>
<ellipse cx="1579.6" cy="521.4" rx="6.6" ry="10.2" fill="url(#gT2)"/>
<ellipse cx="1590.0" cy="521.4" rx="6.6" ry="10.2" fill="url(#gT2)"/>
<ellipse cx="1600.4" cy="521.4" rx="6.6" ry="10.2" fill="url(#gT2)"/>
<ellipse cx="1610.8" cy="521.4" rx="6.6" ry="10.2" fill="url(#gT2)"/>
<ellipse cx="1621.2" cy="521.4" rx="6.6" ry="10.2" fill="url(#gT2)"/>
<ellipse cx="1491.0" cy="523.4" rx="6.9" ry="10.6" fill="url(#gT)"/>
<ellipse cx="1501.4" cy="523.4" rx="6.9" ry="10.6" fill="url(#gT)"/>
<ellipse cx="1511.8" cy="523.4" rx="6.9" ry="10.6" fill="url(#gT)"/>
<ellipse cx="1522.2" cy="523.4" rx="6.9" ry="10.6" fill="url(#gT)"/>
<ellipse cx="1532.6" cy="523.4" rx="6.9" ry="10.6" fill="url(#gT)"/>
<ellipse cx="1543.0" cy="523.4" rx="6.9" ry="10.6" fill="url(#gT)"/>
<ellipse cx="1553.4" cy="523.4" rx="6.9" ry="10.6" fill="url(#gT)"/>
<ellipse cx="1563.8" cy="523.4" rx="6.9" ry="10.6" fill="url(#gT)"/>
<ellipse cx="1574.2" cy="523.4" rx="6.9" ry="10.6" fill="url(#gT)"/>
<ellipse cx="1584.6" cy="523.4" rx="6.9" ry="10.6" fill="url(#gT)"/>
<ellipse cx="1595.0" cy="523.4" rx="6.9" ry="10.6" fill="url(#gT)"/>
<ellipse cx="1605.4" cy="523.4" rx="6.9" ry="10.6" fill="url(#gT)"/>
<ellipse cx="1615.8" cy="523.4" rx="6.9" ry="10.6" fill="url(#gT)"/>
<ellipse cx="1626.2" cy="523.4" rx="6.9" ry="10.6" fill="url(#gT)"/>
<ellipse cx="1488.0" cy="494.7" rx="4.6" ry="6.2" fill="url(#gG)"/>
<ellipse cx="1498.4" cy="494.7" rx="4.6" ry="6.2" fill="url(#gG)"/>
<ellipse cx="1508.8" cy="494.7" rx="4.6" ry="6.2" fill="url(#gG)"/>
<ellipse cx="1519.2" cy="494.7" rx="4.6" ry="6.2" fill="url(#gG)"/>
<ellipse cx="1529.6" cy="494.7" rx="4.6" ry="6.2" fill="url(#gG)"/>
<ellipse cx="1540.0" cy="494.7" rx="4.6" ry="6.2" fill="url(#gG)"/>
<ellipse cx="1550.4" cy="494.7" rx="4.6" ry="6.2" fill="url(#gG)"/>
<ellipse cx="1560.8" cy="494.7" rx="4.6" ry="6.2" fill="url(#gG)"/>
<ellipse cx="1571.2" cy="494.7" rx="4.6" ry="6.2" fill="url(#gG)"/>
<ellipse cx="1581.6" cy="494.7" rx="4.6" ry="6.2" fill="url(#gG)"/>
<ellipse cx="1592.0" cy="494.7" rx="4.6" ry="6.2" fill="url(#gG)"/>
<ellipse cx="1602.4" cy="494.7" rx="4.6" ry="6.2" fill="url(#gG)"/>
<ellipse cx="1612.8" cy="494.7" rx="4.6" ry="6.2" fill="url(#gG)"/>
<ellipse cx="1495.0" cy="550.7" rx="4.6" ry="6.2" fill="url(#gG)"/>
<ellipse cx="1505.4" cy="550.7" rx="4.6" ry="6.2" fill="url(#gG)"/>
<ellipse cx="1515.8" cy="550.7" rx="4.6" ry="6.2" fill="url(#gG)"/>
<ellipse cx="1526.2" cy="550.7" rx="4.6" ry="6.2" fill="url(#gG)"/>
<ellipse cx="1536.6" cy="550.7" rx="4.6" ry="6.2" fill="url(#gG)"/>
<ellipse cx="1547.0" cy="550.7" rx="4.6" ry="6.2" fill="url(#gG)"/>
<ellipse cx="1557.4" cy="550.7" rx="4.6" ry="6.2" fill="url(#gG)"/>
<ellipse cx="1567.8" cy="550.7" rx="4.6" ry="6.2" fill="url(#gG)"/>
<ellipse cx="1578.2" cy="550.7" rx="4.6" ry="6.2" fill="url(#gG)"/>
<ellipse cx="1588.6" cy="550.7" rx="4.6" ry="6.2" fill="url(#gG)"/>
<ellipse cx="1599.0" cy="550.7" rx="4.6" ry="6.2" fill="url(#gG)"/>
<ellipse cx="1609.4" cy="550.7" rx="4.6" ry="6.2" fill="url(#gG)"/>
<ellipse cx="1619.8" cy="550.7" rx="4.6" ry="6.2" fill="url(#gG)"/>
<ellipse cx="1523.2" cy="531.2" rx="6.1" ry="7.0" fill="url(#gR)"/>
<ellipse cx="1603.7" cy="508.3" rx="5.6" ry="5.0" fill="url(#gR)"/>
<ellipse cx="1527.9" cy="561.6" rx="7.5" ry="7.8" fill="url(#gR)"/>
<ellipse cx="1500.2" cy="540.6" rx="6.8" ry="7.4" fill="url(#gB)"/>
<ellipse cx="1614.3" cy="511.5" rx="5.4" ry="7.4" fill="url(#gR)"/>
<ellipse cx="1563.5" cy="555.4" rx="6.1" ry="6.9" fill="url(#gB)"/>
<ellipse cx="1534.7" cy="558.9" rx="6.3" ry="6.5" fill="url(#gB)"/>
<ellipse cx="1587.8" cy="490.5" rx="5.6" ry="5.3" fill="url(#gB)"/>
<ellipse cx="1512.7" cy="555.5" rx="5.9" ry="5.8" fill="url(#gB)"/>
<ellipse cx="1506.3" cy="553.8" rx="7.0" ry="7.2" fill="url(#gR)"/>
<ellipse cx="1506.3" cy="558.9" rx="5.1" ry="7.2" fill="url(#gB)"/>
<ellipse cx="1612.2" cy="483.5" rx="6.1" ry="4.7" fill="url(#gB)"/>
<ellipse cx="1543.6" cy="540.5" rx="4.3" ry="7.8" fill="url(#gB)"/>
<ellipse cx="1538.5" cy="506.0" rx="6.4" ry="5.0" fill="url(#gR)"/>
<ellipse cx="1570.5" cy="558.4" rx="5.8" ry="6.6" fill="url(#gB)"/>
<ellipse cx="1513.0" cy="491.9" rx="7.1" ry="4.8" fill="url(#gR)"/>
<ellipse cx="1545.6" cy="561.2" rx="7.4" ry="7.7" fill="url(#gR)"/>
<ellipse cx="1574.2" cy="552.3" rx="4.0" ry="5.4" fill="url(#gB)"/>
<ellipse cx="1524.5" cy="551.7" rx="5.6" ry="7.8" fill="url(#gB)"/>
<ellipse cx="1493.7" cy="552.7" rx="4.4" ry="4.9" fill="url(#gB)"/>
<ellipse cx="1594.4" cy="560.0" rx="6.5" ry="5.2" fill="url(#gR)"/>
<ellipse cx="1579.3" cy="511.6" rx="4.9" ry="5.1" fill="url(#gR)"/>
<ellipse cx="1526.9" cy="486.3" rx="4.8" ry="6.1" fill="url(#gR)"/>
<ellipse cx="1498.1" cy="493.7" rx="4.3" ry="6.2" fill="url(#gB)"/>
</g>
<clipPath id="clipS14"><rect x="1485" y="584.7" width="140" height="101.29999999999995"/></clipPath><g clip-path="url(#clipS14)">
<line x1="1479.6" y1="606.7" x2="1491.6" y2="636.6" stroke="#9ed030" stroke-width="1.9"/>
<line x1="1481.6" y1="636.6" x2="1493.6" y2="664.0" stroke="#9ed030" stroke-width="1.9"/>
<line x1="1489.6" y1="604.7" x2="1479.6" y2="636.6" stroke="#a08860" stroke-width="1.6"/>
<line x1="1485.6" y1="636.6" x2="1476.6" y2="662.0" stroke="#a08860" stroke-width="1.6"/>
<line x1="1490.0" y1="606.7" x2="1502.0" y2="636.6" stroke="#9ed030" stroke-width="1.9"/>
<line x1="1492.0" y1="636.6" x2="1504.0" y2="664.0" stroke="#9ed030" stroke-width="1.9"/>
<line x1="1500.0" y1="604.7" x2="1490.0" y2="636.6" stroke="#a08860" stroke-width="1.6"/>
<line x1="1496.0" y1="636.6" x2="1487.0" y2="662.0" stroke="#a08860" stroke-width="1.6"/>
<line x1="1500.4" y1="606.7" x2="1512.4" y2="636.6" stroke="#9ed030" stroke-width="1.9"/>
<line x1="1502.4" y1="636.6" x2="1514.4" y2="664.0" stroke="#9ed030" stroke-width="1.9"/>
<line x1="1510.4" y1="604.7" x2="1500.4" y2="636.6" stroke="#a08860" stroke-width="1.6"/>
<line x1="1506.4" y1="636.6" x2="1497.4" y2="662.0" stroke="#a08860" stroke-width="1.6"/>
<line x1="1510.8" y1="606.7" x2="1522.8" y2="636.6" stroke="#9ed030" stroke-width="1.9"/>
<line x1="1512.8" y1="636.6" x2="1524.8" y2="664.0" stroke="#9ed030" stroke-width="1.9"/>
<line x1="1520.8" y1="604.7" x2="1510.8" y2="636.6" stroke="#a08860" stroke-width="1.6"/>
<line x1="1516.8" y1="636.6" x2="1507.8" y2="662.0" stroke="#a08860" stroke-width="1.6"/>
<line x1="1521.2" y1="606.7" x2="1533.2" y2="636.6" stroke="#9ed030" stroke-width="1.9"/>
<line x1="1523.2" y1="636.6" x2="1535.2" y2="664.0" stroke="#9ed030" stroke-width="1.9"/>
<line x1="1531.2" y1="604.7" x2="1521.2" y2="636.6" stroke="#a08860" stroke-width="1.6"/>
<line x1="1527.2" y1="636.6" x2="1518.2" y2="662.0" stroke="#a08860" stroke-width="1.6"/>
<line x1="1531.6" y1="606.7" x2="1543.6" y2="636.6" stroke="#9ed030" stroke-width="1.9"/>
<line x1="1533.6" y1="636.6" x2="1545.6" y2="664.0" stroke="#9ed030" stroke-width="1.9"/>
<line x1="1541.6" y1="604.7" x2="1531.6" y2="636.6" stroke="#a08860" stroke-width="1.6"/>
<line x1="1537.6" y1="636.6" x2="1528.6" y2="662.0" stroke="#a08860" stroke-width="1.6"/>
<line x1="1542.0" y1="606.7" x2="1554.0" y2="636.6" stroke="#9ed030" stroke-width="1.9"/>
<line x1="1544.0" y1="636.6" x2="1556.0" y2="664.0" stroke="#9ed030" stroke-width="1.9"/>
<line x1="1552.0" y1="604.7" x2="1542.0" y2="636.6" stroke="#a08860" stroke-width="1.6"/>
<line x1="1548.0" y1="636.6" x2="1539.0" y2="662.0" stroke="#a08860" stroke-width="1.6"/>
<line x1="1552.4" y1="606.7" x2="1564.4" y2="636.6" stroke="#9ed030" stroke-width="1.9"/>
<line x1="1554.4" y1="636.6" x2="1566.4" y2="664.0" stroke="#9ed030" stroke-width="1.9"/>
<line x1="1562.4" y1="604.7" x2="1552.4" y2="636.6" stroke="#a08860" stroke-width="1.6"/>
<line x1="1558.4" y1="636.6" x2="1549.4" y2="662.0" stroke="#a08860" stroke-width="1.6"/>
<line x1="1562.8" y1="606.7" x2="1574.8" y2="636.6" stroke="#9ed030" stroke-width="1.9"/>
<line x1="1564.8" y1="636.6" x2="1576.8" y2="664.0" stroke="#9ed030" stroke-width="1.9"/>
<line x1="1572.8" y1="604.7" x2="1562.8" y2="636.6" stroke="#a08860" stroke-width="1.6"/>
<line x1="1568.8" y1="636.6" x2="1559.8" y2="662.0" stroke="#a08860" stroke-width="1.6"/>
<line x1="1573.2" y1="606.7" x2="1585.2" y2="636.6" stroke="#9ed030" stroke-width="1.9"/>
<line x1="1575.2" y1="636.6" x2="1587.2" y2="664.0" stroke="#9ed030" stroke-width="1.9"/>
<line x1="1583.2" y1="604.7" x2="1573.2" y2="636.6" stroke="#a08860" stroke-width="1.6"/>
<line x1="1579.2" y1="636.6" x2="1570.2" y2="662.0" stroke="#a08860" stroke-width="1.6"/>
<line x1="1583.6" y1="606.7" x2="1595.6" y2="636.6" stroke="#9ed030" stroke-width="1.9"/>
<line x1="1585.6" y1="636.6" x2="1597.6" y2="664.0" stroke="#9ed030" stroke-width="1.9"/>
<line x1="1593.6" y1="604.7" x2="1583.6" y2="636.6" stroke="#a08860" stroke-width="1.6"/>
<line x1="1589.6" y1="636.6" x2="1580.6" y2="662.0" stroke="#a08860" stroke-width="1.6"/>
<line x1="1594.0" y1="606.7" x2="1606.0" y2="636.6" stroke="#9ed030" stroke-width="1.9"/>
<line x1="1596.0" y1="636.6" x2="1608.0" y2="664.0" stroke="#9ed030" stroke-width="1.9"/>
<line x1="1604.0" y1="604.7" x2="1594.0" y2="636.6" stroke="#a08860" stroke-width="1.6"/>
<line x1="1600.0" y1="636.6" x2="1591.0" y2="662.0" stroke="#a08860" stroke-width="1.6"/>
<line x1="1604.4" y1="606.7" x2="1616.4" y2="636.6" stroke="#9ed030" stroke-width="1.9"/>
<line x1="1606.4" y1="636.6" x2="1618.4" y2="664.0" stroke="#9ed030" stroke-width="1.9"/>
<line x1="1614.4" y1="604.7" x2="1604.4" y2="636.6" stroke="#a08860" stroke-width="1.6"/>
<line x1="1610.4" y1="636.6" x2="1601.4" y2="662.0" stroke="#a08860" stroke-width="1.6"/>
<line x1="1614.8" y1="606.7" x2="1626.8" y2="636.6" stroke="#9ed030" stroke-width="1.9"/>
<line x1="1616.8" y1="636.6" x2="1628.8" y2="664.0" stroke="#9ed030" stroke-width="1.9"/>
<line x1="1624.8" y1="604.7" x2="1614.8" y2="636.6" stroke="#a08860" stroke-width="1.6"/>
<line x1="1620.8" y1="636.6" x2="1611.8" y2="662.0" stroke="#a08860" stroke-width="1.6"/>
<line x1="1625.2" y1="606.7" x2="1637.2" y2="636.6" stroke="#9ed030" stroke-width="1.9"/>
<line x1="1627.2" y1="636.6" x2="1639.2" y2="664.0" stroke="#9ed030" stroke-width="1.9"/>
<line x1="1635.2" y1="604.7" x2="1625.2" y2="636.6" stroke="#a08860" stroke-width="1.6"/>
<line x1="1631.2" y1="636.6" x2="1622.2" y2="662.0" stroke="#a08860" stroke-width="1.6"/>
<ellipse cx="1493.0" cy="601.7" rx="4.4" ry="5.6" fill="url(#gG2)"/>
<ellipse cx="1490.0" cy="659.0" rx="4.4" ry="5.6" fill="url(#gG2)"/>
<ellipse cx="1503.4" cy="601.7" rx="4.4" ry="5.6" fill="url(#gG2)"/>
<ellipse cx="1500.4" cy="659.0" rx="4.4" ry="5.6" fill="url(#gG2)"/>
<ellipse cx="1513.8" cy="601.7" rx="4.4" ry="5.6" fill="url(#gG2)"/>
<ellipse cx="1510.8" cy="659.0" rx="4.4" ry="5.6" fill="url(#gG2)"/>
<ellipse cx="1524.2" cy="601.7" rx="4.4" ry="5.6" fill="url(#gG2)"/>
<ellipse cx="1521.2" cy="659.0" rx="4.4" ry="5.6" fill="url(#gG2)"/>
<ellipse cx="1534.6" cy="601.7" rx="4.4" ry="5.6" fill="url(#gG2)"/>
<ellipse cx="1531.6" cy="659.0" rx="4.4" ry="5.6" fill="url(#gG2)"/>
<ellipse cx="1545.0" cy="601.7" rx="4.4" ry="5.6" fill="url(#gG2)"/>
<ellipse cx="1542.0" cy="659.0" rx="4.4" ry="5.6" fill="url(#gG2)"/>
<ellipse cx="1555.4" cy="601.7" rx="4.4" ry="5.6" fill="url(#gG2)"/>
<ellipse cx="1552.4" cy="659.0" rx="4.4" ry="5.6" fill="url(#gG2)"/>
<ellipse cx="1565.8" cy="601.7" rx="4.4" ry="5.6" fill="url(#gG2)"/>
<ellipse cx="1562.8" cy="659.0" rx="4.4" ry="5.6" fill="url(#gG2)"/>
<ellipse cx="1576.2" cy="601.7" rx="4.4" ry="5.6" fill="url(#gG2)"/>
<ellipse cx="1573.2" cy="659.0" rx="4.4" ry="5.6" fill="url(#gG2)"/>
<ellipse cx="1586.6" cy="601.7" rx="4.4" ry="5.6" fill="url(#gG2)"/>
<ellipse cx="1583.6" cy="659.0" rx="4.4" ry="5.6" fill="url(#gG2)"/>
<ellipse cx="1597.0" cy="601.7" rx="4.4" ry="5.6" fill="url(#gG2)"/>
<ellipse cx="1594.0" cy="659.0" rx="4.4" ry="5.6" fill="url(#gG2)"/>
<ellipse cx="1607.4" cy="601.7" rx="4.4" ry="5.6" fill="url(#gG2)"/>
<ellipse cx="1604.4" cy="659.0" rx="4.4" ry="5.6" fill="url(#gG2)"/>
<ellipse cx="1617.8" cy="601.7" rx="4.4" ry="5.6" fill="url(#gG2)"/>
<ellipse cx="1614.8" cy="659.0" rx="4.4" ry="5.6" fill="url(#gG2)"/>
<ellipse cx="1486.0" cy="634.6" rx="6.6" ry="10.2" fill="url(#gT2)"/>
<ellipse cx="1496.4" cy="634.6" rx="6.6" ry="10.2" fill="url(#gT2)"/>
<ellipse cx="1506.8" cy="634.6" rx="6.6" ry="10.2" fill="url(#gT2)"/>
<ellipse cx="1517.2" cy="634.6" rx="6.6" ry="10.2" fill="url(#gT2)"/>
<ellipse cx="1527.6" cy="634.6" rx="6.6" ry="10.2" fill="url(#gT2)"/>
<ellipse cx="1538.0" cy="634.6" rx="6.6" ry="10.2" fill="url(#gT2)"/>
<ellipse cx="1548.4" cy="634.6" rx="6.6" ry="10.2" fill="url(#gT2)"/>
<ellipse cx="1558.8" cy="634.6" rx="6.6" ry="10.2" fill="url(#gT2)"/>
<ellipse cx="1569.2" cy="634.6" rx="6.6" ry="10.2" fill="url(#gT2)"/>
<ellipse cx="1579.6" cy="634.6" rx="6.6" ry="10.2" fill="url(#gT2)"/>
<ellipse cx="1590.0" cy="634.6" rx="6.6" ry="10.2" fill="url(#gT2)"/>
<ellipse cx="1600.4" cy="634.6" rx="6.6" ry="10.2" fill="url(#gT2)"/>
<ellipse cx="1610.8" cy="634.6" rx="6.6" ry="10.2" fill="url(#gT2)"/>
<ellipse cx="1621.2" cy="634.6" rx="6.6" ry="10.2" fill="url(#gT2)"/>
<ellipse cx="1491.0" cy="636.6" rx="6.9" ry="10.6" fill="url(#gT)"/>
<ellipse cx="1501.4" cy="636.6" rx="6.9" ry="10.6" fill="url(#gT)"/>
<ellipse cx="1511.8" cy="636.6" rx="6.9" ry="10.6" fill="url(#gT)"/>
<ellipse cx="1522.2" cy="636.6" rx="6.9" ry="10.6" fill="url(#gT)"/>
<ellipse cx="1532.6" cy="636.6" rx="6.9" ry="10.6" fill="url(#gT)"/>
<ellipse cx="1543.0" cy="636.6" rx="6.9" ry="10.6" fill="url(#gT)"/>
<ellipse cx="1553.4" cy="636.6" rx="6.9" ry="10.6" fill="url(#gT)"/>
<ellipse cx="1563.8" cy="636.6" rx="6.9" ry="10.6" fill="url(#gT)"/>
<ellipse cx="1574.2" cy="636.6" rx="6.9" ry="10.6" fill="url(#gT)"/>
<ellipse cx="1584.6" cy="636.6" rx="6.9" ry="10.6" fill="url(#gT)"/>
<ellipse cx="1595.0" cy="636.6" rx="6.9" ry="10.6" fill="url(#gT)"/>
<ellipse cx="1605.4" cy="636.6" rx="6.9" ry="10.6" fill="url(#gT)"/>
<ellipse cx="1615.8" cy="636.6" rx="6.9" ry="10.6" fill="url(#gT)"/>
<ellipse cx="1626.2" cy="636.6" rx="6.9" ry="10.6" fill="url(#gT)"/>
<ellipse cx="1488.0" cy="606.7" rx="4.6" ry="6.2" fill="url(#gG)"/>
<ellipse cx="1498.4" cy="606.7" rx="4.6" ry="6.2" fill="url(#gG)"/>
<ellipse cx="1508.8" cy="606.7" rx="4.6" ry="6.2" fill="url(#gG)"/>
<ellipse cx="1519.2" cy="606.7" rx="4.6" ry="6.2" fill="url(#gG)"/>
<ellipse cx="1529.6" cy="606.7" rx="4.6" ry="6.2" fill="url(#gG)"/>
<ellipse cx="1540.0" cy="606.7" rx="4.6" ry="6.2" fill="url(#gG)"/>
<ellipse cx="1550.4" cy="606.7" rx="4.6" ry="6.2" fill="url(#gG)"/>
<ellipse cx="1560.8" cy="606.7" rx="4.6" ry="6.2" fill="url(#gG)"/>
<ellipse cx="1571.2" cy="606.7" rx="4.6" ry="6.2" fill="url(#gG)"/>
<ellipse cx="1581.6" cy="606.7" rx="4.6" ry="6.2" fill="url(#gG)"/>
<ellipse cx="1592.0" cy="606.7" rx="4.6" ry="6.2" fill="url(#gG)"/>
<ellipse cx="1602.4" cy="606.7" rx="4.6" ry="6.2" fill="url(#gG)"/>
<ellipse cx="1612.8" cy="606.7" rx="4.6" ry="6.2" fill="url(#gG)"/>
<ellipse cx="1495.0" cy="664.0" rx="4.6" ry="6.2" fill="url(#gG)"/>
<ellipse cx="1505.4" cy="664.0" rx="4.6" ry="6.2" fill="url(#gG)"/>
<ellipse cx="1515.8" cy="664.0" rx="4.6" ry="6.2" fill="url(#gG)"/>
<ellipse cx="1526.2" cy="664.0" rx="4.6" ry="6.2" fill="url(#gG)"/>
<ellipse cx="1536.6" cy="664.0" rx="4.6" ry="6.2" fill="url(#gG)"/>
<ellipse cx="1547.0" cy="664.0" rx="4.6" ry="6.2" fill="url(#gG)"/>
<ellipse cx="1557.4" cy="664.0" rx="4.6" ry="6.2" fill="url(#gG)"/>
<ellipse cx="1567.8" cy="664.0" rx="4.6" ry="6.2" fill="url(#gG)"/>
<ellipse cx="1578.2" cy="664.0" rx="4.6" ry="6.2" fill="url(#gG)"/>
<ellipse cx="1588.6" cy="664.0" rx="4.6" ry="6.2" fill="url(#gG)"/>
<ellipse cx="1599.0" cy="664.0" rx="4.6" ry="6.2" fill="url(#gG)"/>
<ellipse cx="1609.4" cy="664.0" rx="4.6" ry="6.2" fill="url(#gG)"/>
<ellipse cx="1619.8" cy="664.0" rx="4.6" ry="6.2" fill="url(#gG)"/>
<ellipse cx="1503.1" cy="642.5" rx="4.6" ry="5.2" fill="url(#gR)"/>
<ellipse cx="1585.9" cy="626.0" rx="5.1" ry="8.1" fill="url(#gB)"/>
<ellipse cx="1523.8" cy="626.6" rx="4.9" ry="6.8" fill="url(#gB)"/>
<ellipse cx="1557.1" cy="602.4" rx="4.2" ry="6.9" fill="url(#gB)"/>
<ellipse cx="1505.2" cy="665.1" rx="6.9" ry="5.7" fill="url(#gR)"/>
<ellipse cx="1566.0" cy="654.1" rx="7.0" ry="7.1" fill="url(#gR)"/>
<ellipse cx="1503.7" cy="672.2" rx="7.0" ry="7.4" fill="url(#gR)"/>
<ellipse cx="1553.2" cy="624.5" rx="5.4" ry="5.3" fill="url(#gR)"/>
<ellipse cx="1522.6" cy="606.7" rx="4.6" ry="4.1" fill="url(#gB)"/>
<ellipse cx="1586.7" cy="600.5" rx="5.2" ry="8.4" fill="url(#gR)"/>
<ellipse cx="1511.2" cy="668.0" rx="5.2" ry="6.7" fill="url(#gB)"/>
<ellipse cx="1501.5" cy="667.1" rx="3.8" ry="4.6" fill="url(#gB)"/>
<ellipse cx="1581.9" cy="664.2" rx="7.3" ry="5.9" fill="url(#gB)"/>
<ellipse cx="1534.9" cy="676.2" rx="4.9" ry="6.4" fill="url(#gB)"/>
<ellipse cx="1494.6" cy="674.4" rx="5.1" ry="4.2" fill="url(#gR)"/>
<ellipse cx="1530.2" cy="639.4" rx="5.6" ry="7.6" fill="url(#gB)"/>
<ellipse cx="1619.7" cy="606.1" rx="3.5" ry="5.1" fill="url(#gR)"/>
<ellipse cx="1555.1" cy="596.4" rx="4.7" ry="7.4" fill="url(#gB)"/>
<ellipse cx="1537.7" cy="671.7" rx="5.5" ry="7.8" fill="url(#gR)"/>
<ellipse cx="1537.4" cy="676.5" rx="5.5" ry="8.3" fill="url(#gB)"/>
<ellipse cx="1493.2" cy="632.0" rx="3.9" ry="7.6" fill="url(#gB)"/>
<ellipse cx="1506.1" cy="605.8" rx="4.5" ry="6.0" fill="url(#gR)"/>
<ellipse cx="1560.9" cy="674.2" rx="6.3" ry="6.4" fill="url(#gB)"/>
<ellipse cx="1544.3" cy="665.2" rx="4.1" ry="7.0" fill="url(#gR)"/>
</g>
<clipPath id="clipS15"><rect x="1485" y="703.6" width="140" height="99.79999999999995"/></clipPath><g clip-path="url(#clipS15)">
<line x1="1479.6" y1="725.6" x2="1491.6" y2="752.1" stroke="#9ed030" stroke-width="1.9"/>
<line x1="1481.6" y1="752.1" x2="1493.6" y2="781.4" stroke="#9ed030" stroke-width="1.9"/>
<line x1="1489.6" y1="723.6" x2="1479.6" y2="752.1" stroke="#a08860" stroke-width="1.6"/>
<line x1="1485.6" y1="752.1" x2="1476.6" y2="779.4" stroke="#a08860" stroke-width="1.6"/>
<line x1="1490.0" y1="725.6" x2="1502.0" y2="752.1" stroke="#9ed030" stroke-width="1.9"/>
<line x1="1492.0" y1="752.1" x2="1504.0" y2="781.4" stroke="#9ed030" stroke-width="1.9"/>
<line x1="1500.0" y1="723.6" x2="1490.0" y2="752.1" stroke="#a08860" stroke-width="1.6"/>
<line x1="1496.0" y1="752.1" x2="1487.0" y2="779.4" stroke="#a08860" stroke-width="1.6"/>
<line x1="1500.4" y1="725.6" x2="1512.4" y2="752.1" stroke="#9ed030" stroke-width="1.9"/>
<line x1="1502.4" y1="752.1" x2="1514.4" y2="781.4" stroke="#9ed030" stroke-width="1.9"/>
<line x1="1510.4" y1="723.6" x2="1500.4" y2="752.1" stroke="#a08860" stroke-width="1.6"/>
<line x1="1506.4" y1="752.1" x2="1497.4" y2="779.4" stroke="#a08860" stroke-width="1.6"/>
<line x1="1510.8" y1="725.6" x2="1522.8" y2="752.1" stroke="#9ed030" stroke-width="1.9"/>
<line x1="1512.8" y1="752.1" x2="1524.8" y2="781.4" stroke="#9ed030" stroke-width="1.9"/>
<line x1="1520.8" y1="723.6" x2="1510.8" y2="752.1" stroke="#a08860" stroke-width="1.6"/>
<line x1="1516.8" y1="752.1" x2="1507.8" y2="779.4" stroke="#a08860" stroke-width="1.6"/>
<line x1="1521.2" y1="725.6" x2="1533.2" y2="752.1" stroke="#9ed030" stroke-width="1.9"/>
<line x1="1523.2" y1="752.1" x2="1535.2" y2="781.4" stroke="#9ed030" stroke-width="1.9"/>
<line x1="1531.2" y1="723.6" x2="1521.2" y2="752.1" stroke="#a08860" stroke-width="1.6"/>
<line x1="1527.2" y1="752.1" x2="1518.2" y2="779.4" stroke="#a08860" stroke-width="1.6"/>
<line x1="1531.6" y1="725.6" x2="1543.6" y2="752.1" stroke="#9ed030" stroke-width="1.9"/>
<line x1="1533.6" y1="752.1" x2="1545.6" y2="781.4" stroke="#9ed030" stroke-width="1.9"/>
<line x1="1541.6" y1="723.6" x2="1531.6" y2="752.1" stroke="#a08860" stroke-width="1.6"/>
<line x1="1537.6" y1="752.1" x2="1528.6" y2="779.4" stroke="#a08860" stroke-width="1.6"/>
<line x1="1542.0" y1="725.6" x2="1554.0" y2="752.1" stroke="#9ed030" stroke-width="1.9"/>
<line x1="1544.0" y1="752.1" x2="1556.0" y2="781.4" stroke="#9ed030" stroke-width="1.9"/>
<line x1="1552.0" y1="723.6" x2="1542.0" y2="752.1" stroke="#a08860" stroke-width="1.6"/>
<line x1="1548.0" y1="752.1" x2="1539.0" y2="779.4" stroke="#a08860" stroke-width="1.6"/>
<line x1="1552.4" y1="725.6" x2="1564.4" y2="752.1" stroke="#9ed030" stroke-width="1.9"/>
<line x1="1554.4" y1="752.1" x2="1566.4" y2="781.4" stroke="#9ed030" stroke-width="1.9"/>
<line x1="1562.4" y1="723.6" x2="1552.4" y2="752.1" stroke="#a08860" stroke-width="1.6"/>
<line x1="1558.4" y1="752.1" x2="1549.4" y2="779.4" stroke="#a08860" stroke-width="1.6"/>
<line x1="1562.8" y1="725.6" x2="1574.8" y2="752.1" stroke="#9ed030" stroke-width="1.9"/>
<line x1="1564.8" y1="752.1" x2="1576.8" y2="781.4" stroke="#9ed030" stroke-width="1.9"/>
<line x1="1572.8" y1="723.6" x2="1562.8" y2="752.1" stroke="#a08860" stroke-width="1.6"/>
<line x1="1568.8" y1="752.1" x2="1559.8" y2="779.4" stroke="#a08860" stroke-width="1.6"/>
<line x1="1573.2" y1="725.6" x2="1585.2" y2="752.1" stroke="#9ed030" stroke-width="1.9"/>
<line x1="1575.2" y1="752.1" x2="1587.2" y2="781.4" stroke="#9ed030" stroke-width="1.9"/>
<line x1="1583.2" y1="723.6" x2="1573.2" y2="752.1" stroke="#a08860" stroke-width="1.6"/>
<line x1="1579.2" y1="752.1" x2="1570.2" y2="779.4" stroke="#a08860" stroke-width="1.6"/>
<line x1="1583.6" y1="725.6" x2="1595.6" y2="752.1" stroke="#9ed030" stroke-width="1.9"/>
<line x1="1585.6" y1="752.1" x2="1597.6" y2="781.4" stroke="#9ed030" stroke-width="1.9"/>
<line x1="1593.6" y1="723.6" x2="1583.6" y2="752.1" stroke="#a08860" stroke-width="1.6"/>
<line x1="1589.6" y1="752.1" x2="1580.6" y2="779.4" stroke="#a08860" stroke-width="1.6"/>
<line x1="1594.0" y1="725.6" x2="1606.0" y2="752.1" stroke="#9ed030" stroke-width="1.9"/>
<line x1="1596.0" y1="752.1" x2="1608.0" y2="781.4" stroke="#9ed030" stroke-width="1.9"/>
<line x1="1604.0" y1="723.6" x2="1594.0" y2="752.1" stroke="#a08860" stroke-width="1.6"/>
<line x1="1600.0" y1="752.1" x2="1591.0" y2="779.4" stroke="#a08860" stroke-width="1.6"/>
<line x1="1604.4" y1="725.6" x2="1616.4" y2="752.1" stroke="#9ed030" stroke-width="1.9"/>
<line x1="1606.4" y1="752.1" x2="1618.4" y2="781.4" stroke="#9ed030" stroke-width="1.9"/>
<line x1="1614.4" y1="723.6" x2="1604.4" y2="752.1" stroke="#a08860" stroke-width="1.6"/>
<line x1="1610.4" y1="752.1" x2="1601.4" y2="779.4" stroke="#a08860" stroke-width="1.6"/>
<line x1="1614.8" y1="725.6" x2="1626.8" y2="752.1" stroke="#9ed030" stroke-width="1.9"/>
<line x1="1616.8" y1="752.1" x2="1628.8" y2="781.4" stroke="#9ed030" stroke-width="1.9"/>
<line x1="1624.8" y1="723.6" x2="1614.8" y2="752.1" stroke="#a08860" stroke-width="1.6"/>
<line x1="1620.8" y1="752.1" x2="1611.8" y2="779.4" stroke="#a08860" stroke-width="1.6"/>
<line x1="1625.2" y1="725.6" x2="1637.2" y2="752.1" stroke="#9ed030" stroke-width="1.9"/>
<line x1="1627.2" y1="752.1" x2="1639.2" y2="781.4" stroke="#9ed030" stroke-width="1.9"/>
<line x1="1635.2" y1="723.6" x2="1625.2" y2="752.1" stroke="#a08860" stroke-width="1.6"/>
<line x1="1631.2" y1="752.1" x2="1622.2" y2="779.4" stroke="#a08860" stroke-width="1.6"/>
<ellipse cx="1493.0" cy="720.6" rx="4.4" ry="5.6" fill="url(#gG2)"/>
<ellipse cx="1490.0" cy="776.4" rx="4.4" ry="5.6" fill="url(#gG2)"/>
<ellipse cx="1503.4" cy="720.6" rx="4.4" ry="5.6" fill="url(#gG2)"/>
<ellipse cx="1500.4" cy="776.4" rx="4.4" ry="5.6" fill="url(#gG2)"/>
<ellipse cx="1513.8" cy="720.6" rx="4.4" ry="5.6" fill="url(#gG2)"/>
<ellipse cx="1510.8" cy="776.4" rx="4.4" ry="5.6" fill="url(#gG2)"/>
<ellipse cx="1524.2" cy="720.6" rx="4.4" ry="5.6" fill="url(#gG2)"/>
<ellipse cx="1521.2" cy="776.4" rx="4.4" ry="5.6" fill="url(#gG2)"/>
<ellipse cx="1534.6" cy="720.6" rx="4.4" ry="5.6" fill="url(#gG2)"/>
<ellipse cx="1531.6" cy="776.4" rx="4.4" ry="5.6" fill="url(#gG2)"/>
<ellipse cx="1545.0" cy="720.6" rx="4.4" ry="5.6" fill="url(#gG2)"/>
<ellipse cx="1542.0" cy="776.4" rx="4.4" ry="5.6" fill="url(#gG2)"/>
<ellipse cx="1555.4" cy="720.6" rx="4.4" ry="5.6" fill="url(#gG2)"/>
<ellipse cx="1552.4" cy="776.4" rx="4.4" ry="5.6" fill="url(#gG2)"/>
<ellipse cx="1565.8" cy="720.6" rx="4.4" ry="5.6" fill="url(#gG2)"/>
<ellipse cx="1562.8" cy="776.4" rx="4.4" ry="5.6" fill="url(#gG2)"/>
<ellipse cx="1576.2" cy="720.6" rx="4.4" ry="5.6" fill="url(#gG2)"/>
<ellipse cx="1573.2" cy="776.4" rx="4.4" ry="5.6" fill="url(#gG2)"/>
<ellipse cx="1586.6" cy="720.6" rx="4.4" ry="5.6" fill="url(#gG2)"/>
<ellipse cx="1583.6" cy="776.4" rx="4.4" ry="5.6" fill="url(#gG2)"/>
<ellipse cx="1597.0" cy="720.6" rx="4.4" ry="5.6" fill="url(#gG2)"/>
<ellipse cx="1594.0" cy="776.4" rx="4.4" ry="5.6" fill="url(#gG2)"/>
<ellipse cx="1607.4" cy="720.6" rx="4.4" ry="5.6" fill="url(#gG2)"/>
<ellipse cx="1604.4" cy="776.4" rx="4.4" ry="5.6" fill="url(#gG2)"/>
<ellipse cx="1617.8" cy="720.6" rx="4.4" ry="5.6" fill="url(#gG2)"/>
<ellipse cx="1614.8" cy="776.4" rx="4.4" ry="5.6" fill="url(#gG2)"/>
<ellipse cx="1486.0" cy="750.1" rx="6.6" ry="10.2" fill="url(#gT2)"/>
<ellipse cx="1496.4" cy="750.1" rx="6.6" ry="10.2" fill="url(#gT2)"/>
<ellipse cx="1506.8" cy="750.1" rx="6.6" ry="10.2" fill="url(#gT2)"/>
<ellipse cx="1517.2" cy="750.1" rx="6.6" ry="10.2" fill="url(#gT2)"/>
<ellipse cx="1527.6" cy="750.1" rx="6.6" ry="10.2" fill="url(#gT2)"/>
<ellipse cx="1538.0" cy="750.1" rx="6.6" ry="10.2" fill="url(#gT2)"/>
<ellipse cx="1548.4" cy="750.1" rx="6.6" ry="10.2" fill="url(#gT2)"/>
<ellipse cx="1558.8" cy="750.1" rx="6.6" ry="10.2" fill="url(#gT2)"/>
<ellipse cx="1569.2" cy="750.1" rx="6.6" ry="10.2" fill="url(#gT2)"/>
<ellipse cx="1579.6" cy="750.1" rx="6.6" ry="10.2" fill="url(#gT2)"/>
<ellipse cx="1590.0" cy="750.1" rx="6.6" ry="10.2" fill="url(#gT2)"/>
<ellipse cx="1600.4" cy="750.1" rx="6.6" ry="10.2" fill="url(#gT2)"/>
<ellipse cx="1610.8" cy="750.1" rx="6.6" ry="10.2" fill="url(#gT2)"/>
<ellipse cx="1621.2" cy="750.1" rx="6.6" ry="10.2" fill="url(#gT2)"/>
<ellipse cx="1491.0" cy="752.1" rx="6.9" ry="10.6" fill="url(#gT)"/>
<ellipse cx="1501.4" cy="752.1" rx="6.9" ry="10.6" fill="url(#gT)"/>
<ellipse cx="1511.8" cy="752.1" rx="6.9" ry="10.6" fill="url(#gT)"/>
<ellipse cx="1522.2" cy="752.1" rx="6.9" ry="10.6" fill="url(#gT)"/>
<ellipse cx="1532.6" cy="752.1" rx="6.9" ry="10.6" fill="url(#gT)"/>
<ellipse cx="1543.0" cy="752.1" rx="6.9" ry="10.6" fill="url(#gT)"/>
<ellipse cx="1553.4" cy="752.1" rx="6.9" ry="10.6" fill="url(#gT)"/>
<ellipse cx="1563.8" cy="752.1" rx="6.9" ry="10.6" fill="url(#gT)"/>
<ellipse cx="1574.2" cy="752.1" rx="6.9" ry="10.6" fill="url(#gT)"/>
<ellipse cx="1584.6" cy="752.1" rx="6.9" ry="10.6" fill="url(#gT)"/>
<ellipse cx="1595.0" cy="752.1" rx="6.9" ry="10.6" fill="url(#gT)"/>
<ellipse cx="1605.4" cy="752.1" rx="6.9" ry="10.6" fill="url(#gT)"/>
<ellipse cx="1615.8" cy="752.1" rx="6.9" ry="10.6" fill="url(#gT)"/>
<ellipse cx="1626.2" cy="752.1" rx="6.9" ry="10.6" fill="url(#gT)"/>
<ellipse cx="1488.0" cy="725.6" rx="4.6" ry="6.2" fill="url(#gG)"/>
<ellipse cx="1498.4" cy="725.6" rx="4.6" ry="6.2" fill="url(#gG)"/>
<ellipse cx="1508.8" cy="725.6" rx="4.6" ry="6.2" fill="url(#gG)"/>
<ellipse cx="1519.2" cy="725.6" rx="4.6" ry="6.2" fill="url(#gG)"/>
<ellipse cx="1529.6" cy="725.6" rx="4.6" ry="6.2" fill="url(#gG)"/>
<ellipse cx="1540.0" cy="725.6" rx="4.6" ry="6.2" fill="url(#gG)"/>
<ellipse cx="1550.4" cy="725.6" rx="4.6" ry="6.2" fill="url(#gG)"/>
<ellipse cx="1560.8" cy="725.6" rx="4.6" ry="6.2" fill="url(#gG)"/>
<ellipse cx="1571.2" cy="725.6" rx="4.6" ry="6.2" fill="url(#gG)"/>
<ellipse cx="1581.6" cy="725.6" rx="4.6" ry="6.2" fill="url(#gG)"/>
<ellipse cx="1592.0" cy="725.6" rx="4.6" ry="6.2" fill="url(#gG)"/>
<ellipse cx="1602.4" cy="725.6" rx="4.6" ry="6.2" fill="url(#gG)"/>
<ellipse cx="1612.8" cy="725.6" rx="4.6" ry="6.2" fill="url(#gG)"/>
<ellipse cx="1495.0" cy="781.4" rx="4.6" ry="6.2" fill="url(#gG)"/>
<ellipse cx="1505.4" cy="781.4" rx="4.6" ry="6.2" fill="url(#gG)"/>
<ellipse cx="1515.8" cy="781.4" rx="4.6" ry="6.2" fill="url(#gG)"/>
<ellipse cx="1526.2" cy="781.4" rx="4.6" ry="6.2" fill="url(#gG)"/>
<ellipse cx="1536.6" cy="781.4" rx="4.6" ry="6.2" fill="url(#gG)"/>
<ellipse cx="1547.0" cy="781.4" rx="4.6" ry="6.2" fill="url(#gG)"/>
<ellipse cx="1557.4" cy="781.4" rx="4.6" ry="6.2" fill="url(#gG)"/>
<ellipse cx="1567.8" cy="781.4" rx="4.6" ry="6.2" fill="url(#gG)"/>
<ellipse cx="1578.2" cy="781.4" rx="4.6" ry="6.2" fill="url(#gG)"/>
<ellipse cx="1588.6" cy="781.4" rx="4.6" ry="6.2" fill="url(#gG)"/>
<ellipse cx="1599.0" cy="781.4" rx="4.6" ry="6.2" fill="url(#gG)"/>
<ellipse cx="1609.4" cy="781.4" rx="4.6" ry="6.2" fill="url(#gG)"/>
<ellipse cx="1619.8" cy="781.4" rx="4.6" ry="6.2" fill="url(#gG)"/>
<ellipse cx="1616.4" cy="722.2" rx="7.2" ry="5.1" fill="url(#gR)"/>
<ellipse cx="1496.3" cy="737.3" rx="4.5" ry="5.5" fill="url(#gB)"/>
<ellipse cx="1582.5" cy="716.0" rx="7.2" ry="4.9" fill="url(#gR)"/>
<ellipse cx="1535.9" cy="785.4" rx="4.4" ry="6.0" fill="url(#gB)"/>
<ellipse cx="1544.4" cy="719.9" rx="5.3" ry="5.4" fill="url(#gB)"/>
<ellipse cx="1580.6" cy="791.5" rx="5.5" ry="8.3" fill="url(#gR)"/>
<ellipse cx="1491.5" cy="714.8" rx="4.6" ry="6.2" fill="url(#gR)"/>
<ellipse cx="1606.1" cy="714.1" rx="3.8" ry="7.3" fill="url(#gR)"/>
<ellipse cx="1610.6" cy="724.6" rx="4.2" ry="8.3" fill="url(#gR)"/>
<ellipse cx="1535.7" cy="716.6" rx="5.0" ry="6.1" fill="url(#gB)"/>
<ellipse cx="1603.9" cy="765.3" rx="5.4" ry="4.5" fill="url(#gB)"/>
<ellipse cx="1554.0" cy="792.3" rx="4.6" ry="4.2" fill="url(#gR)"/>
<ellipse cx="1607.0" cy="737.9" rx="5.8" ry="7.9" fill="url(#gB)"/>
<ellipse cx="1554.8" cy="787.6" rx="5.8" ry="6.1" fill="url(#gR)"/>
<ellipse cx="1591.7" cy="790.4" rx="6.2" ry="6.7" fill="url(#gB)"/>
<ellipse cx="1496.4" cy="768.9" rx="4.9" ry="6.8" fill="url(#gB)"/>
<ellipse cx="1582.1" cy="785.5" rx="6.7" ry="8.0" fill="url(#gR)"/>
<ellipse cx="1606.8" cy="721.3" rx="6.0" ry="8.1" fill="url(#gB)"/>
<ellipse cx="1489.4" cy="719.1" rx="4.8" ry="5.1" fill="url(#gB)"/>
<ellipse cx="1566.5" cy="781.4" rx="6.3" ry="5.5" fill="url(#gB)"/>
<ellipse cx="1496.8" cy="723.8" rx="7.4" ry="7.3" fill="url(#gR)"/>
<ellipse cx="1541.7" cy="769.9" rx="3.9" ry="5.5" fill="url(#gB)"/>
<ellipse cx="1586.4" cy="787.7" rx="5.1" ry="7.5" fill="url(#gR)"/>
<ellipse cx="1489.6" cy="737.7" rx="6.9" ry="7.0" fill="url(#gB)"/>
</g>
<clipPath id="clipS16"><rect x="1485" y="816.7" width="140" height="99.79999999999995"/></clipPath><g clip-path="url(#clipS16)">
<line x1="1479.6" y1="838.7" x2="1491.6" y2="866.6" stroke="#9ed030" stroke-width="1.9"/>
<line x1="1481.6" y1="866.6" x2="1493.6" y2="894.5" stroke="#9ed030" stroke-width="1.9"/>
<line x1="1489.6" y1="836.7" x2="1479.6" y2="866.6" stroke="#a08860" stroke-width="1.6"/>
<line x1="1485.6" y1="866.6" x2="1476.6" y2="892.5" stroke="#a08860" stroke-width="1.6"/>
<line x1="1490.0" y1="838.7" x2="1502.0" y2="866.6" stroke="#9ed030" stroke-width="1.9"/>
<line x1="1492.0" y1="866.6" x2="1504.0" y2="894.5" stroke="#9ed030" stroke-width="1.9"/>
<line x1="1500.0" y1="836.7" x2="1490.0" y2="866.6" stroke="#a08860" stroke-width="1.6"/>
<line x1="1496.0" y1="866.6" x2="1487.0" y2="892.5" stroke="#a08860" stroke-width="1.6"/>
<line x1="1500.4" y1="838.7" x2="1512.4" y2="866.6" stroke="#9ed030" stroke-width="1.9"/>
<line x1="1502.4" y1="866.6" x2="1514.4" y2="894.5" stroke="#9ed030" stroke-width="1.9"/>
<line x1="1510.4" y1="836.7" x2="1500.4" y2="866.6" stroke="#a08860" stroke-width="1.6"/>
<line x1="1506.4" y1="866.6" x2="1497.4" y2="892.5" stroke="#a08860" stroke-width="1.6"/>
<line x1="1510.8" y1="838.7" x2="1522.8" y2="866.6" stroke="#9ed030" stroke-width="1.9"/>
<line x1="1512.8" y1="866.6" x2="1524.8" y2="894.5" stroke="#9ed030" stroke-width="1.9"/>
<line x1="1520.8" y1="836.7" x2="1510.8" y2="866.6" stroke="#a08860" stroke-width="1.6"/>
<line x1="1516.8" y1="866.6" x2="1507.8" y2="892.5" stroke="#a08860" stroke-width="1.6"/>
<line x1="1521.2" y1="838.7" x2="1533.2" y2="866.6" stroke="#9ed030" stroke-width="1.9"/>
<line x1="1523.2" y1="866.6" x2="1535.2" y2="894.5" stroke="#9ed030" stroke-width="1.9"/>
<line x1="1531.2" y1="836.7" x2="1521.2" y2="866.6" stroke="#a08860" stroke-width="1.6"/>
<line x1="1527.2" y1="866.6" x2="1518.2" y2="892.5" stroke="#a08860" stroke-width="1.6"/>
<line x1="1531.6" y1="838.7" x2="1543.6" y2="866.6" stroke="#9ed030" stroke-width="1.9"/>
<line x1="1533.6" y1="866.6" x2="1545.6" y2="894.5" stroke="#9ed030" stroke-width="1.9"/>
<line x1="1541.6" y1="836.7" x2="1531.6" y2="866.6" stroke="#a08860" stroke-width="1.6"/>
<line x1="1537.6" y1="866.6" x2="1528.6" y2="892.5" stroke="#a08860" stroke-width="1.6"/>
<line x1="1542.0" y1="838.7" x2="1554.0" y2="866.6" stroke="#9ed030" stroke-width="1.9"/>
<line x1="1544.0" y1="866.6" x2="1556.0" y2="894.5" stroke="#9ed030" stroke-width="1.9"/>
<line x1="1552.0" y1="836.7" x2="1542.0" y2="866.6" stroke="#a08860" stroke-width="1.6"/>
<line x1="1548.0" y1="866.6" x2="1539.0" y2="892.5" stroke="#a08860" stroke-width="1.6"/>
<line x1="1552.4" y1="838.7" x2="1564.4" y2="866.6" stroke="#9ed030" stroke-width="1.9"/>
<line x1="1554.4" y1="866.6" x2="1566.4" y2="894.5" stroke="#9ed030" stroke-width="1.9"/>
<line x1="1562.4" y1="836.7" x2="1552.4" y2="866.6" stroke="#a08860" stroke-width="1.6"/>
<line x1="1558.4" y1="866.6" x2="1549.4" y2="892.5" stroke="#a08860" stroke-width="1.6"/>
<line x1="1562.8" y1="838.7" x2="1574.8" y2="866.6" stroke="#9ed030" stroke-width="1.9"/>
<line x1="1564.8" y1="866.6" x2="1576.8" y2="894.5" stroke="#9ed030" stroke-width="1.9"/>
<line x1="1572.8" y1="836.7" x2="1562.8" y2="866.6" stroke="#a08860" stroke-width="1.6"/>
<line x1="1568.8" y1="866.6" x2="1559.8" y2="892.5" stroke="#a08860" stroke-width="1.6"/>
<line x1="1573.2" y1="838.7" x2="1585.2" y2="866.6" stroke="#9ed030" stroke-width="1.9"/>
<line x1="1575.2" y1="866.6" x2="1587.2" y2="894.5" stroke="#9ed030" stroke-width="1.9"/>
<line x1="1583.2" y1="836.7" x2="1573.2" y2="866.6" stroke="#a08860" stroke-width="1.6"/>
<line x1="1579.2" y1="866.6" x2="1570.2" y2="892.5" stroke="#a08860" stroke-width="1.6"/>
<line x1="1583.6" y1="838.7" x2="1595.6" y2="866.6" stroke="#9ed030" stroke-width="1.9"/>
<line x1="1585.6" y1="866.6" x2="1597.6" y2="894.5" stroke="#9ed030" stroke-width="1.9"/>
<line x1="1593.6" y1="836.7" x2="1583.6" y2="866.6" stroke="#a08860" stroke-width="1.6"/>
<line x1="1589.6" y1="866.6" x2="1580.6" y2="892.5" stroke="#a08860" stroke-width="1.6"/>
<line x1="1594.0" y1="838.7" x2="1606.0" y2="866.6" stroke="#9ed030" stroke-width="1.9"/>
<line x1="1596.0" y1="866.6" x2="1608.0" y2="894.5" stroke="#9ed030" stroke-width="1.9"/>
<line x1="1604.0" y1="836.7" x2="1594.0" y2="866.6" stroke="#a08860" stroke-width="1.6"/>
<line x1="1600.0" y1="866.6" x2="1591.0" y2="892.5" stroke="#a08860" stroke-width="1.6"/>
<line x1="1604.4" y1="838.7" x2="1616.4" y2="866.6" stroke="#9ed030" stroke-width="1.9"/>
<line x1="1606.4" y1="866.6" x2="1618.4" y2="894.5" stroke="#9ed030" stroke-width="1.9"/>
<line x1="1614.4" y1="836.7" x2="1604.4" y2="866.6" stroke="#a08860" stroke-width="1.6"/>
<line x1="1610.4" y1="866.6" x2="1601.4" y2="892.5" stroke="#a08860" stroke-width="1.6"/>
<line x1="1614.8" y1="838.7" x2="1626.8" y2="866.6" stroke="#9ed030" stroke-width="1.9"/>
<line x1="1616.8" y1="866.6" x2="1628.8" y2="894.5" stroke="#9ed030" stroke-width="1.9"/>
<line x1="1624.8" y1="836.7" x2="1614.8" y2="866.6" stroke="#a08860" stroke-width="1.6"/>
<line x1="1620.8" y1="866.6" x2="1611.8" y2="892.5" stroke="#a08860" stroke-width="1.6"/>
<line x1="1625.2" y1="838.7" x2="1637.2" y2="866.6" stroke="#9ed030" stroke-width="1.9"/>
<line x1="1627.2" y1="866.6" x2="1639.2" y2="894.5" stroke="#9ed030" stroke-width="1.9"/>
<line x1="1635.2" y1="836.7" x2="1625.2" y2="866.6" stroke="#a08860" stroke-width="1.6"/>
<line x1="1631.2" y1="866.6" x2="1622.2" y2="892.5" stroke="#a08860" stroke-width="1.6"/>
<ellipse cx="1493.0" cy="833.7" rx="4.4" ry="5.6" fill="url(#gG2)"/>
<ellipse cx="1490.0" cy="889.5" rx="4.4" ry="5.6" fill="url(#gG2)"/>
<ellipse cx="1503.4" cy="833.7" rx="4.4" ry="5.6" fill="url(#gG2)"/>
<ellipse cx="1500.4" cy="889.5" rx="4.4" ry="5.6" fill="url(#gG2)"/>
<ellipse cx="1513.8" cy="833.7" rx="4.4" ry="5.6" fill="url(#gG2)"/>
<ellipse cx="1510.8" cy="889.5" rx="4.4" ry="5.6" fill="url(#gG2)"/>
<ellipse cx="1524.2" cy="833.7" rx="4.4" ry="5.6" fill="url(#gG2)"/>
<ellipse cx="1521.2" cy="889.5" rx="4.4" ry="5.6" fill="url(#gG2)"/>
<ellipse cx="1534.6" cy="833.7" rx="4.4" ry="5.6" fill="url(#gG2)"/>
<ellipse cx="1531.6" cy="889.5" rx="4.4" ry="5.6" fill="url(#gG2)"/>
<ellipse cx="1545.0" cy="833.7" rx="4.4" ry="5.6" fill="url(#gG2)"/>
<ellipse cx="1542.0" cy="889.5" rx="4.4" ry="5.6" fill="url(#gG2)"/>
<ellipse cx="1555.4" cy="833.7" rx="4.4" ry="5.6" fill="url(#gG2)"/>
<ellipse cx="1552.4" cy="889.5" rx="4.4" ry="5.6" fill="url(#gG2)"/>
<ellipse cx="1565.8" cy="833.7" rx="4.4" ry="5.6" fill="url(#gG2)"/>
<ellipse cx="1562.8" cy="889.5" rx="4.4" ry="5.6" fill="url(#gG2)"/>
<ellipse cx="1576.2" cy="833.7" rx="4.4" ry="5.6" fill="url(#gG2)"/>
<ellipse cx="1573.2" cy="889.5" rx="4.4" ry="5.6" fill="url(#gG2)"/>
<ellipse cx="1586.6" cy="833.7" rx="4.4" ry="5.6" fill="url(#gG2)"/>
<ellipse cx="1583.6" cy="889.5" rx="4.4" ry="5.6" fill="url(#gG2)"/>
<ellipse cx="1597.0" cy="833.7" rx="4.4" ry="5.6" fill="url(#gG2)"/>
<ellipse cx="1594.0" cy="889.5" rx="4.4" ry="5.6" fill="url(#gG2)"/>
<ellipse cx="1607.4" cy="833.7" rx="4.4" ry="5.6" fill="url(#gG2)"/>
<ellipse cx="1604.4" cy="889.5" rx="4.4" ry="5.6" fill="url(#gG2)"/>
<ellipse cx="1617.8" cy="833.7" rx="4.4" ry="5.6" fill="url(#gG2)"/>
<ellipse cx="1614.8" cy="889.5" rx="4.4" ry="5.6" fill="url(#gG2)"/>
<ellipse cx="1486.0" cy="864.6" rx="6.6" ry="10.2" fill="url(#gT2)"/>
<ellipse cx="1496.4" cy="864.6" rx="6.6" ry="10.2" fill="url(#gT2)"/>
<ellipse cx="1506.8" cy="864.6" rx="6.6" ry="10.2" fill="url(#gT2)"/>
<ellipse cx="1517.2" cy="864.6" rx="6.6" ry="10.2" fill="url(#gT2)"/>
<ellipse cx="1527.6" cy="864.6" rx="6.6" ry="10.2" fill="url(#gT2)"/>
<ellipse cx="1538.0" cy="864.6" rx="6.6" ry="10.2" fill="url(#gT2)"/>
<ellipse cx="1548.4" cy="864.6" rx="6.6" ry="10.2" fill="url(#gT2)"/>
<ellipse cx="1558.8" cy="864.6" rx="6.6" ry="10.2" fill="url(#gT2)"/>
<ellipse cx="1569.2" cy="864.6" rx="6.6" ry="10.2" fill="url(#gT2)"/>
<ellipse cx="1579.6" cy="864.6" rx="6.6" ry="10.2" fill="url(#gT2)"/>
<ellipse cx="1590.0" cy="864.6" rx="6.6" ry="10.2" fill="url(#gT2)"/>
<ellipse cx="1600.4" cy="864.6" rx="6.6" ry="10.2" fill="url(#gT2)"/>
<ellipse cx="1610.8" cy="864.6" rx="6.6" ry="10.2" fill="url(#gT2)"/>
<ellipse cx="1621.2" cy="864.6" rx="6.6" ry="10.2" fill="url(#gT2)"/>
<ellipse cx="1491.0" cy="866.6" rx="6.9" ry="10.6" fill="url(#gT)"/>
<ellipse cx="1501.4" cy="866.6" rx="6.9" ry="10.6" fill="url(#gT)"/>
<ellipse cx="1511.8" cy="866.6" rx="6.9" ry="10.6" fill="url(#gT)"/>
<ellipse cx="1522.2" cy="866.6" rx="6.9" ry="10.6" fill="url(#gT)"/>
<ellipse cx="1532.6" cy="866.6" rx="6.9" ry="10.6" fill="url(#gT)"/>
<ellipse cx="1543.0" cy="866.6" rx="6.9" ry="10.6" fill="url(#gT)"/>
<ellipse cx="1553.4" cy="866.6" rx="6.9" ry="10.6" fill="url(#gT)"/>
<ellipse cx="1563.8" cy="866.6" rx="6.9" ry="10.6" fill="url(#gT)"/>
<ellipse cx="1574.2" cy="866.6" rx="6.9" ry="10.6" fill="url(#gT)"/>
<ellipse cx="1584.6" cy="866.6" rx="6.9" ry="10.6" fill="url(#gT)"/>
<ellipse cx="1595.0" cy="866.6" rx="6.9" ry="10.6" fill="url(#gT)"/>
<ellipse cx="1605.4" cy="866.6" rx="6.9" ry="10.6" fill="url(#gT)"/>
<ellipse cx="1615.8" cy="866.6" rx="6.9" ry="10.6" fill="url(#gT)"/>
<ellipse cx="1626.2" cy="866.6" rx="6.9" ry="10.6" fill="url(#gT)"/>
<ellipse cx="1488.0" cy="838.7" rx="4.6" ry="6.2" fill="url(#gG)"/>
<ellipse cx="1498.4" cy="838.7" rx="4.6" ry="6.2" fill="url(#gG)"/>
<ellipse cx="1508.8" cy="838.7" rx="4.6" ry="6.2" fill="url(#gG)"/>
<ellipse cx="1519.2" cy="838.7" rx="4.6" ry="6.2" fill="url(#gG)"/>
<ellipse cx="1529.6" cy="838.7" rx="4.6" ry="6.2" fill="url(#gG)"/>
<ellipse cx="1540.0" cy="838.7" rx="4.6" ry="6.2" fill="url(#gG)"/>
<ellipse cx="1550.4" cy="838.7" rx="4.6" ry="6.2" fill="url(#gG)"/>
<ellipse cx="1560.8" cy="838.7" rx="4.6" ry="6.2" fill="url(#gG)"/>
<ellipse cx="1571.2" cy="838.7" rx="4.6" ry="6.2" fill="url(#gG)"/>
<ellipse cx="1581.6" cy="838.7" rx="4.6" ry="6.2" fill="url(#gG)"/>
<ellipse cx="1592.0" cy="838.7" rx="4.6" ry="6.2" fill="url(#gG)"/>
<ellipse cx="1602.4" cy="838.7" rx="4.6" ry="6.2" fill="url(#gG)"/>
<ellipse cx="1612.8" cy="838.7" rx="4.6" ry="6.2" fill="url(#gG)"/>
<ellipse cx="1495.0" cy="894.5" rx="4.6" ry="6.2" fill="url(#gG)"/>
<ellipse cx="1505.4" cy="894.5" rx="4.6" ry="6.2" fill="url(#gG)"/>
<ellipse cx="1515.8" cy="894.5" rx="4.6" ry="6.2" fill="url(#gG)"/>
<ellipse cx="1526.2" cy="894.5" rx="4.6" ry="6.2" fill="url(#gG)"/>
<ellipse cx="1536.6" cy="894.5" rx="4.6" ry="6.2" fill="url(#gG)"/>
<ellipse cx="1547.0" cy="894.5" rx="4.6" ry="6.2" fill="url(#gG)"/>
<ellipse cx="1557.4" cy="894.5" rx="4.6" ry="6.2" fill="url(#gG)"/>
<ellipse cx="1567.8" cy="894.5" rx="4.6" ry="6.2" fill="url(#gG)"/>
<ellipse cx="1578.2" cy="894.5" rx="4.6" ry="6.2" fill="url(#gG)"/>
<ellipse cx="1588.6" cy="894.5" rx="4.6" ry="6.2" fill="url(#gG)"/>
<ellipse cx="1599.0" cy="894.5" rx="4.6" ry="6.2" fill="url(#gG)"/>
<ellipse cx="1609.4" cy="894.5" rx="4.6" ry="6.2" fill="url(#gG)"/>
<ellipse cx="1619.8" cy="894.5" rx="4.6" ry="6.2" fill="url(#gG)"/>
<ellipse cx="1536.7" cy="899.9" rx="3.5" ry="7.8" fill="url(#gB)"/>
<ellipse cx="1582.9" cy="828.6" rx="4.7" ry="5.5" fill="url(#gB)"/>
<ellipse cx="1507.7" cy="857.9" rx="7.3" ry="5.1" fill="url(#gR)"/>
<ellipse cx="1606.9" cy="874.3" rx="5.4" ry="6.7" fill="url(#gR)"/>
<ellipse cx="1581.9" cy="879.5" rx="4.5" ry="7.5" fill="url(#gB)"/>
<ellipse cx="1534.9" cy="902.9" rx="5.8" ry="5.3" fill="url(#gB)"/>
<ellipse cx="1500.0" cy="844.0" rx="4.4" ry="4.7" fill="url(#gB)"/>
<ellipse cx="1529.2" cy="895.4" rx="6.4" ry="4.1" fill="url(#gB)"/>
<ellipse cx="1600.2" cy="906.4" rx="6.3" ry="4.6" fill="url(#gB)"/>
<ellipse cx="1599.0" cy="834.2" rx="6.3" ry="8.1" fill="url(#gR)"/>
<ellipse cx="1607.4" cy="826.3" rx="5.9" ry="6.1" fill="url(#gB)"/>
<ellipse cx="1577.2" cy="874.9" rx="4.4" ry="4.5" fill="url(#gR)"/>
<ellipse cx="1501.3" cy="825.8" rx="7.2" ry="4.5" fill="url(#gR)"/>
<ellipse cx="1579.7" cy="878.8" rx="7.1" ry="7.1" fill="url(#gR)"/>
<ellipse cx="1520.6" cy="897.6" rx="7.2" ry="4.5" fill="url(#gR)"/>
<ellipse cx="1508.4" cy="895.0" rx="7.0" ry="6.1" fill="url(#gB)"/>
<ellipse cx="1523.3" cy="834.9" rx="6.2" ry="8.2" fill="url(#gB)"/>
<ellipse cx="1555.4" cy="828.5" rx="6.0" ry="5.3" fill="url(#gB)"/>
<ellipse cx="1549.2" cy="830.9" rx="7.0" ry="7.9" fill="url(#gR)"/>
<ellipse cx="1546.1" cy="828.1" rx="6.8" ry="7.9" fill="url(#gB)"/>
<ellipse cx="1516.5" cy="894.8" rx="5.8" ry="8.4" fill="url(#gB)"/>
<ellipse cx="1600.9" cy="879.7" rx="4.5" ry="6.9" fill="url(#gB)"/>
<ellipse cx="1516.6" cy="896.2" rx="6.6" ry="8.5" fill="url(#gR)"/>
<ellipse cx="1503.2" cy="846.4" rx="6.7" ry="7.3" fill="url(#gR)"/>
</g>
<text x="1413.1" y="501.2" font-family="Liberation Serif, serif" font-size="23.7" font-weight="normal" text-anchor="start" >87.53 e</text>
<text x="1413.1" y="556.4" font-family="Liberation Serif, serif" font-size="23.7" font-weight="normal" text-anchor="start" >89.23 e</text>
<text x="1413.1" y="611.9" font-family="Liberation Serif, serif" font-size="23.7" font-weight="normal" text-anchor="start" >89.02 e</text>
<text x="1413.1" y="673.1" font-family="Liberation Serif, serif" font-size="23.7" font-weight="normal" text-anchor="start" >87.63 e</text>
<text x="1413.1" y="723.8" font-family="Liberation Serif, serif" font-size="23.7" font-weight="normal" text-anchor="start" >87.63 e</text>
<text x="1413.1" y="789.8" font-family="Liberation Serif, serif" font-size="23.7" font-weight="normal" text-anchor="start" >89.12 e</text>
<text x="1413.1" y="842.9" font-family="Liberation Serif, serif" font-size="23.7" font-weight="normal" text-anchor="start" >89.13 e</text>
<text x="1413.1" y="900.1" font-family="Liberation Serif, serif" font-size="23.7" font-weight="normal" text-anchor="start" >87.62 e</text>
<line x1="1625.3" y1="551.2" x2="1672.5" y2="551.2" stroke="#000" stroke-width="2"/>
<line x1="1625.3" y1="604.1" x2="1672.5" y2="604.1" stroke="#000" stroke-width="2"/>
<line x1="1625.3" y1="663.4" x2="1672.5" y2="663.4" stroke="#000" stroke-width="2"/>
<line x1="1625.3" y1="719.9" x2="1672.5" y2="719.9" stroke="#000" stroke-width="2"/>
<line x1="1625.3" y1="780.9" x2="1672.5" y2="780.9" stroke="#000" stroke-width="2"/>
<line x1="1625.3" y1="835" x2="1672.5" y2="835" stroke="#000" stroke-width="2"/>
<line x1="1625.3" y1="903.5" x2="1672.5" y2="903.5" stroke="#000" stroke-width="2"/>
<line x1="1625.3" y1="951.2" x2="1672.5" y2="951.2" stroke="#000" stroke-width="2"/>
<line x1="1635.4" y1="552.7" x2="1635.4" y2="602.6" stroke="#000" stroke-width="1.8" marker-start="url(#ah)" marker-end="url(#ah)"/>
<text x="1645.0" y="584.6" font-family="Liberation Serif, serif" font-size="23.4" font-weight="normal" text-anchor="start" >2.931Å</text>
<text x="1500.3" y="584" font-family="Liberation Serif, serif" font-size="23.4" font-weight="normal" text-anchor="start" >AC interface</text>
<line x1="1635.4" y1="664.9" x2="1635.4" y2="718.4" stroke="#000" stroke-width="1.8" marker-start="url(#ah)" marker-end="url(#ah)"/>
<text x="1647.6000000000001" y="697.8" font-family="Liberation Serif, serif" font-size="23.4" font-weight="bold" text-anchor="start" >2.949Å</text>
<text x="1500.3" y="703" font-family="Liberation Serif, serif" font-size="23.4" font-weight="normal" text-anchor="start" >AA interface</text>
<line x1="1636.2" y1="782.4" x2="1636.2" y2="833.5" stroke="#000" stroke-width="1.8" marker-start="url(#ah)" marker-end="url(#ah)"/>
<text x="1644.9" y="816.3" font-family="Liberation Serif, serif" font-size="23.4" font-weight="normal" text-anchor="start" >2.931Å</text>
<text x="1499.5" y="819.1" font-family="Liberation Serif, serif" font-size="23.4" font-weight="normal" text-anchor="start" >AC interface</text>
<line x1="1636.2" y1="905.0" x2="1636.2" y2="949.7" stroke="#000" stroke-width="1.8" marker-start="url(#ah)" marker-end="url(#ah)"/>
<text x="1645.7" y="933.6" font-family="Liberation Serif, serif" font-size="23.4" font-weight="bold" text-anchor="start" >2.951Å</text>
<text x="1499.5" y="929.4" font-family="Liberation Serif, serif" font-size="23.4" font-weight="normal" text-anchor="start" >AA interface</text>
<text x="1486" y="989.5" font-family="Liberation Serif, serif" font-size="26">T-TaSe<tspan font-size="17" dy="5">2</tspan><tspan dy="-5"> : Δc%=0.610</tspan></text>
<line x1="253" y1="273" x2="205.7" y2="209.8" stroke="#f4d820" stroke-width="3.2"/>
<line x1="205.7" y1="209.8" x2="161.5" y2="150.3" stroke="#605aa0" stroke-width="3.2"/>
<line x1="253" y1="273" x2="252.5" y2="201.7" stroke="#f4d820" stroke-width="3.2"/>
<line x1="252.5" y1="201.7" x2="251.5" y2="117.5" stroke="#605aa0" stroke-width="3.2"/>
<line x1="253" y1="273" x2="300.3" y2="210.7" stroke="#f4d820" stroke-width="3.2"/>
<line x1="300.3" y1="210.7" x2="344.5" y2="151.7" stroke="#605aa0" stroke-width="3.2"/>
<path d="M344.5,151.7 C340.7,138.7 325.5,134.1 325.5,111.6 A19.0,19.0 0 0 1 363.5,111.6 C363.5,134.1 348.3,138.7 344.5,151.7 Z" fill="url(#gCy)" stroke="#22b4c4" stroke-width="0.6"/>
<path d="M344.5,151.7 C348.1,165.1 362.8,171.0 362.7,194.2 A18.5,18.5 0 0 1 325.7,193.8 C325.8,170.7 340.7,165.0 344.5,151.7 Z" fill="url(#gOr)" stroke="#d04812" stroke-width="0.6"/>
<circle cx="161.5" cy="150.3" r="11" fill="url(#gX)"/>
<circle cx="251.5" cy="117.5" r="12.6" fill="url(#gX)"/>
<circle cx="344.5" cy="151.7" r="10.8" fill="url(#gX)"/>
<path d="M163.3,402.9 C159.7,390.0 144.5,385.3 144.8,363.1 A19.0,19.0 0 0 1 182.8,363.5 C182.5,385.8 167.3,390.1 163.3,402.9 Z" fill="url(#gOr)" stroke="#d04812" stroke-width="0.6"/>
<path d="M163.3,402.9 C167.2,415.7 182.1,420.4 182.5,442.7 A18.5,18.5 0 0 1 145.6,443.4 C145.1,421.1 159.8,415.9 163.3,402.9 Z" fill="url(#gCy)" stroke="#22b4c4" stroke-width="0.6"/>
<line x1="253" y1="273" x2="253.6" y2="337.9" stroke="#f4d820" stroke-width="3.2"/>
<line x1="253.6" y1="337.9" x2="254.4" y2="406.8" stroke="#605aa0" stroke-width="3.2"/>
<path d="M254.4,406.8 C249.7,392.6 232.4,388.6 231.6,363.8 A21.5,21.5 0 0 1 274.6,362.6 C275.3,387.3 258.3,392.4 254.4,406.8 Z" fill="url(#gOr)" stroke="#d04812" stroke-width="0.6"/>
<path d="M254.4,406.8 C258.5,421.8 275.6,427.6 275.3,453.3 A21.5,21.5 0 0 1 232.3,452.7 C232.6,427.0 249.9,421.6 254.4,406.8 Z" fill="url(#gCy)" stroke="#22b4c4" stroke-width="0.6"/>
<path d="M346.8,401.6 C342.6,389.1 328.0,384.7 326.9,362.9 A18.0,18.0 0 0 1 362.9,361.1 C363.9,383.0 349.8,388.8 346.8,401.6 Z" fill="url(#gOr)" stroke="#d04812" stroke-width="0.6"/>
<path d="M346.8,401.6 C349.8,414.6 363.9,420.7 362.8,442.9 A18.0,18.0 0 0 1 326.9,441.2 C327.9,419.0 342.6,414.3 346.8,401.6 Z" fill="url(#gCy)" stroke="#22b4c4" stroke-width="0.6"/>
<line x1="253" y1="273" x2="207.5" y2="341.5" stroke="#f4d820" stroke-width="3.2"/>
<line x1="207.5" y1="341.5" x2="163.3" y2="402.9" stroke="#605aa0" stroke-width="3.2"/>
<line x1="253" y1="273" x2="300.3" y2="341.5" stroke="#f4d820" stroke-width="3.2"/>
<line x1="300.3" y1="341.5" x2="346.8" y2="401.6" stroke="#605aa0" stroke-width="3.2"/>
<circle cx="163.3" cy="402.9" r="10.4" fill="url(#gX)"/>
<circle cx="254.4" cy="406.8" r="13" fill="url(#gX)"/>
<circle cx="346.8" cy="401.6" r="10.4" fill="url(#gX)"/>
<circle cx="253" cy="273" r="17" fill="url(#gM)"/>
<linearGradient id="ga1" gradientUnits="userSpaceOnUse" x1="230.8" y1="270.4" x2="185.2" y2="208.8"><stop offset="0" stop-color="#f8103c"/><stop offset="0.45" stop-color="#d01a78"/><stop offset="0.8" stop-color="#8a22b0"/><stop offset="1" stop-color="#5028c8"/></linearGradient>
<path d="M231.9,269.6 L197.9,219.9 L205.1,219.6 L185.2,208.8 L189.7,231.0 L192.1,224.2 L229.7,271.2 Z" fill="url(#ga1)"/>
<linearGradient id="ga2" gradientUnits="userSpaceOnUse" x1="231.6" y1="279.2" x2="186.8" y2="343.2"><stop offset="0" stop-color="#f8103c"/><stop offset="0.45" stop-color="#d01a78"/><stop offset="0.8" stop-color="#8a22b0"/><stop offset="1" stop-color="#5028c8"/></linearGradient>
<path d="M230.5,278.4 L193.3,327.6 L190.7,320.9 L186.8,343.2 L206.4,331.9 L199.2,331.7 L232.7,280.0 Z" fill="url(#ga2)"/>
<path d="M130.0,442.4 C127.5,441.5 119.0,434.2 116.0,437.5 C113.0,440.8 118.8,458.1 113.3,460.6 C107.8,463.1 88.0,448.5 85.2,451.5 C82.4,454.5 100.2,473.2 97.8,477.5 C95.4,481.8 72.8,471.9 71.9,475.4 C71.0,478.9 93.3,492.3 93.0,497.0 C92.7,501.7 70.0,497.5 70.5,501.3 C71.0,505.1 93.6,513.8 95.7,518.1 C97.8,522.4 79.7,522.3 82.4,525.1 C85.1,527.9 104.5,531.5 110.5,533.5 C116.5,535.5 115.0,535.8 116.0,536.3" fill="none" stroke="#363636" stroke-width="2.9" stroke-linejoin="round" stroke-linecap="round"/>
<path d="M130.0,442.4 C127.5,441.5 119.0,434.2 116.0,437.5 C113.0,440.8 118.8,458.1 113.3,460.6 C107.8,463.1 88.0,448.5 85.2,451.5 C82.4,454.5 100.2,473.2 97.8,477.5 C95.4,481.8 72.8,471.9 71.9,475.4 C71.0,478.9 93.3,492.3 93.0,497.0 C92.7,501.7 70.0,497.5 70.5,501.3 C71.0,505.1 93.6,513.8 95.7,518.1 C97.8,522.4 79.7,522.3 82.4,525.1 C85.1,527.9 104.5,531.5 110.5,533.5 C116.5,535.5 115.0,535.8 116.0,536.3" fill="none" stroke="#9a9a9a" stroke-width="1.01" stroke-linejoin="round" stroke-linecap="round" opacity="0.7"/>
<path d="M151.0,523.7 C148.2,520.4 132.2,508.8 135.7,505.5 C139.2,502.2 165.5,509.8 170.7,505.5 C175.9,501.2 159.8,485.0 164.4,481.7 C169.0,478.4 190.3,486.3 196.0,487.3" fill="none" stroke="#363636" stroke-width="2.9" stroke-linejoin="round" stroke-linecap="round"/>
<path d="M151.0,523.7 C148.2,520.4 132.2,508.8 135.7,505.5 C139.2,502.2 165.5,509.8 170.7,505.5 C175.9,501.2 159.8,485.0 164.4,481.7 C169.0,478.4 190.3,486.3 196.0,487.3" fill="none" stroke="#9a9a9a" stroke-width="1.01" stroke-linejoin="round" stroke-linecap="round" opacity="0.7"/>
<path d="M167.9,462.0 C169.4,464.5 173.3,474.2 176.3,476.0 C179.3,477.8 181.4,470.1 184.7,471.9 C188.0,473.7 192.7,483.4 194.5,485.9" fill="none" stroke="#363636" stroke-width="2.9" stroke-linejoin="round" stroke-linecap="round"/>
<path d="M167.9,462.0 C169.4,464.5 173.3,474.2 176.3,476.0 C179.3,477.8 181.4,470.1 184.7,471.9 C188.0,473.7 192.7,483.4 194.5,485.9" fill="none" stroke="#9a9a9a" stroke-width="1.01" stroke-linejoin="round" stroke-linecap="round" opacity="0.7"/>
<path d="M196.0,487.3 C196.8,482.0 197.9,463.2 200.2,457.8 C202.5,452.4 204.8,455.1 208.6,457.1 C212.4,459.1 216.9,469.4 221.2,469.0 C225.5,468.6 230.4,457.5 232.4,455.0" fill="none" stroke="#363636" stroke-width="2.9" stroke-linejoin="round" stroke-linecap="round"/>
<path d="M196.0,487.3 C196.8,482.0 197.9,463.2 200.2,457.8 C202.5,452.4 204.8,455.1 208.6,457.1 C212.4,459.1 216.9,469.4 221.2,469.0 C225.5,468.6 230.4,457.5 232.4,455.0" fill="none" stroke="#9a9a9a" stroke-width="1.01" stroke-linejoin="round" stroke-linecap="round" opacity="0.7"/>
<path d="M196.0,487.3 C198.5,487.6 206.0,485.7 210.0,488.7 C214.0,491.7 213.6,501.1 218.4,504.1 C223.2,507.1 233.3,505.2 236.6,505.5" fill="none" stroke="#363636" stroke-width="2.9" stroke-linejoin="round" stroke-linecap="round"/>
<path d="M196.0,487.3 C198.5,487.6 206.0,485.7 210.0,488.7 C214.0,491.7 213.6,501.1 218.4,504.1 C223.2,507.1 233.3,505.2 236.6,505.5" fill="none" stroke="#9a9a9a" stroke-width="1.01" stroke-linejoin="round" stroke-linecap="round" opacity="0.7"/>
<path d="M274.0,455.0 C275.2,454.2 276.9,446.9 280.6,450.8 C284.3,454.7 287.9,473.8 294.7,476.8 C301.5,479.8 313.8,464.8 318.5,467.7 C323.2,470.6 314.6,488.6 320.6,492.9 C326.6,497.2 347.4,488.0 352.1,491.5 C356.8,495.0 341.7,508.5 346.5,512.5 C351.3,516.5 375.8,510.6 378.8,513.9 C381.8,517.2 360.8,527.4 363.3,530.7 C365.8,534.0 391.8,530.6 392.8,532.1 C393.8,533.6 373.3,537.8 369.0,539.1" fill="none" stroke="#363636" stroke-width="2.9" stroke-linejoin="round" stroke-linecap="round"/>
<path d="M274.0,455.0 C275.2,454.2 276.9,446.9 280.6,450.8 C284.3,454.7 287.9,473.8 294.7,476.8 C301.5,479.8 313.8,464.8 318.5,467.7 C323.2,470.6 314.6,488.6 320.6,492.9 C326.6,497.2 347.4,488.0 352.1,491.5 C356.8,495.0 341.7,508.5 346.5,512.5 C351.3,516.5 375.8,510.6 378.8,513.9 C381.8,517.2 360.8,527.4 363.3,530.7 C365.8,534.0 391.8,530.6 392.8,532.1 C393.8,533.6 373.3,537.8 369.0,539.1" fill="none" stroke="#9a9a9a" stroke-width="1.01" stroke-linejoin="round" stroke-linecap="round" opacity="0.7"/>
<path d="M348.0,460.6 C345.1,462.3 337.3,466.7 332.0,470.0 C326.7,473.3 323.2,474.3 318.5,478.9 C313.8,483.5 312.0,492.2 305.9,495.7 C299.8,499.2 288.6,496.5 284.8,498.5 C281.0,500.5 286.6,505.1 284.8,506.9 C283.0,508.7 276.8,508.0 275.0,508.3" fill="none" stroke="#363636" stroke-width="2.9" stroke-linejoin="round" stroke-linecap="round"/>
<path d="M348.0,460.6 C345.1,462.3 337.3,466.7 332.0,470.0 C326.7,473.3 323.2,474.3 318.5,478.9 C313.8,483.5 312.0,492.2 305.9,495.7 C299.8,499.2 288.6,496.5 284.8,498.5 C281.0,500.5 286.6,505.1 284.8,506.9 C283.0,508.7 276.8,508.0 275.0,508.3" fill="none" stroke="#9a9a9a" stroke-width="1.01" stroke-linejoin="round" stroke-linecap="round" opacity="0.7"/>
<path d="M380.2,439.6 C381.5,441.9 381.9,451.9 387.2,452.2 C392.5,452.5 406.6,438.7 409.6,441.0 C412.6,443.3 400.7,461.0 404.0,464.8 C407.3,468.6 426.0,458.5 427.8,462.0 C429.6,465.5 412.8,480.2 413.8,484.5 C414.8,488.8 433.4,482.4 433.4,485.9 C433.4,489.4 414.6,499.8 413.8,504.1 C413.0,508.4 431.0,506.2 429.2,509.7 C427.4,513.2 408.0,520.2 404.0,523.7 C400.0,527.2 408.6,527.8 406.8,529.3 C405.0,530.8 396.5,531.6 394.2,532.1" fill="none" stroke="#363636" stroke-width="2.9" stroke-linejoin="round" stroke-linecap="round"/>
<path d="M380.2,439.6 C381.5,441.9 381.9,451.9 387.2,452.2 C392.5,452.5 406.6,438.7 409.6,441.0 C412.6,443.3 400.7,461.0 404.0,464.8 C407.3,468.6 426.0,458.5 427.8,462.0 C429.6,465.5 412.8,480.2 413.8,484.5 C414.8,488.8 433.4,482.4 433.4,485.9 C433.4,489.4 414.6,499.8 413.8,504.1 C413.0,508.4 431.0,506.2 429.2,509.7 C427.4,513.2 408.0,520.2 404.0,523.7 C400.0,527.2 408.6,527.8 406.8,529.3 C405.0,530.8 396.5,531.6 394.2,532.1" fill="none" stroke="#9a9a9a" stroke-width="1.01" stroke-linejoin="round" stroke-linecap="round" opacity="0.7"/>
<path d="M145.5,436.8 C145.8,437.6 146.7,440.2 147.0,441.0" fill="none" stroke="#363636" stroke-width="2.2" stroke-linejoin="round" stroke-linecap="round"/>
<path d="M145.5,436.8 C145.8,437.6 146.7,440.2 147.0,441.0" fill="none" stroke="#9a9a9a" stroke-width="0.77" stroke-linejoin="round" stroke-linecap="round" opacity="0.7"/>
<path d="M363.3,434.0 C362.7,435.8 360.6,442.2 360.0,444.0" fill="none" stroke="#363636" stroke-width="2.2" stroke-linejoin="round" stroke-linecap="round"/>
<path d="M363.3,434.0 C362.7,435.8 360.6,442.2 360.0,444.0" fill="none" stroke="#9a9a9a" stroke-width="0.77" stroke-linejoin="round" stroke-linecap="round" opacity="0.7"/>
<path d="M156.7,576.0 C152.5,562.6 137.2,557.6 136.5,534.3 A19.0,19.0 0 0 1 174.5,533.3 C175.2,556.5 160.1,562.4 156.7,576.0 Z" fill="url(#gCy)" stroke="#22b4c4" stroke-width="0.6"/>
<path d="M156.7,576.0 C160.3,589.7 176.2,595.0 175.5,618.6 A20.0,20.0 0 0 1 135.6,617.5 C136.2,593.9 152.3,589.5 156.7,576.0 Z" fill="url(#gOr)" stroke="#d04812" stroke-width="0.6"/>
<path d="M255.7,548.7 C252.0,536.9 237.2,533.9 237.2,513.5 A18.5,18.5 0 0 1 274.2,513.5 C274.2,533.9 259.4,536.9 255.7,548.7 Z" fill="url(#gCy)" stroke="#22b4c4" stroke-width="0.6"/>
<path d="M255.7,548.7 C259.3,560.8 273.3,565.4 273.4,586.4 A17.5,17.5 0 0 1 238.4,586.6 C238.3,565.6 252.3,560.9 255.7,548.7 Z" fill="url(#gOr)" stroke="#d04812" stroke-width="0.6"/>
<path d="M352.0,574.7 C348.0,561.6 332.7,556.9 332.3,534.1 A19.0,19.0 0 0 1 370.3,533.5 C370.7,556.2 355.6,561.5 352.0,574.7 Z" fill="url(#gCy)" stroke="#22b4c4" stroke-width="0.6"/>
<path d="M352.0,574.7 C355.9,588.6 371.5,594.4 371.5,618.5 A19.5,19.5 0 0 1 332.5,618.5 C332.5,594.4 348.1,588.6 352.0,574.7 Z" fill="url(#gOr)" stroke="#d04812" stroke-width="0.6"/>
<line x1="255.7" y1="690.2" x2="207.5" y2="636.8" stroke="#f4d820" stroke-width="3.2"/>
<line x1="207.5" y1="636.8" x2="156.7" y2="576" stroke="#605aa0" stroke-width="3.2"/>
<line x1="255.7" y1="690.2" x2="255.7" y2="618.6" stroke="#f4d820" stroke-width="3.2"/>
<line x1="255.7" y1="618.6" x2="255.7" y2="548.7" stroke="#605aa0" stroke-width="3.2"/>
<line x1="255.7" y1="690.2" x2="302.5" y2="635.5" stroke="#f4d820" stroke-width="3.2"/>
<line x1="302.5" y1="635.5" x2="352" y2="574.7" stroke="#605aa0" stroke-width="3.2"/>
<circle cx="156.7" cy="576" r="10.4" fill="url(#gX)"/>
<circle cx="255.7" cy="548.7" r="10" fill="url(#gX)"/>
<circle cx="352" cy="574.7" r="10.4" fill="url(#gX)"/>
<path d="M118.9,526.5 C124.7,526.0 151.0,521.2 151.0,523.7 C151.0,526.2 120.8,538.0 118.9,540.5 C117.0,543.0 136.7,538.2 140.6,537.7" fill="none" stroke="#363636" stroke-width="2.9" stroke-linejoin="round" stroke-linecap="round"/>
<path d="M118.9,526.5 C124.7,526.0 151.0,521.2 151.0,523.7 C151.0,526.2 120.8,538.0 118.9,540.5 C117.0,543.0 136.7,538.2 140.6,537.7" fill="none" stroke="#9a9a9a" stroke-width="1.01" stroke-linejoin="round" stroke-linecap="round" opacity="0.7"/>
<path d="M378.8,513.9 C376.0,516.9 360.8,527.4 363.3,530.7 C365.8,534.0 391.8,530.6 392.8,532.1 C393.8,533.6 373.3,537.8 369.0,539.1" fill="none" stroke="#363636" stroke-width="2.9" stroke-linejoin="round" stroke-linecap="round"/>
<path d="M378.8,513.9 C376.0,516.9 360.8,527.4 363.3,530.7 C365.8,534.0 391.8,530.6 392.8,532.1 C393.8,533.6 373.3,537.8 369.0,539.1" fill="none" stroke="#9a9a9a" stroke-width="1.01" stroke-linejoin="round" stroke-linecap="round" opacity="0.7"/>
<path d="M255.8,771.2 C253.1,765.4 239.8,770.1 240.7,760.5 A16.0,16.0 0 0 1 272.5,763.3 C271.7,772.9 259.5,765.9 255.8,771.2 Z" fill="url(#gCy)" stroke="#22b4c4" stroke-width="0.6"/>
<line x1="255.7" y1="690.2" x2="255.7" y2="739" stroke="#f4d820" stroke-width="3.2"/>
<line x1="255.7" y1="739" x2="255.8" y2="771.2" stroke="#605aa0" stroke-width="3.2"/>
<path d="M255.8,771.2 C245.2,776.7 244.0,790.8 224.6,794.5 A17.0,17.0 0 0 1 218.2,761.1 C237.6,757.4 243.9,770.0 255.8,771.2 Z" fill="url(#gOr)" stroke="#d04812" stroke-width="0.6"/>
<path d="M255.8,771.2 C267.9,768.7 272.8,754.6 293.2,756.5 A18.0,18.0 0 0 1 290.0,792.3 C269.6,790.5 267.3,775.8 255.8,771.2 Z" fill="url(#gCy)" stroke="#22b4c4" stroke-width="0.6"/>
<path d="M255.8,771.2 C259.7,779.8 274.0,777.2 274.4,792.3 A18.0,18.0 0 0 1 238.5,793.4 C238.0,778.3 252.5,780.0 255.8,771.2 Z" fill="url(#gOr)" stroke="#d04812" stroke-width="0.6"/>
<circle cx="255.8" cy="771.2" r="5" fill="url(#gX)"/>
<path d="M158.6,832.6 C156.2,825.0 141.2,827.7 143.2,815.7 A18.0,18.0 0 0 1 178.7,821.8 C176.7,833.8 163.3,826.3 158.6,832.6 Z" fill="url(#gOr)" stroke="#d04812" stroke-width="0.6"/>
<line x1="255.7" y1="690.2" x2="208.5" y2="764.8" stroke="#f4d820" stroke-width="3.2"/>
<line x1="208.5" y1="764.8" x2="158.6" y2="832.6" stroke="#605aa0" stroke-width="3.2"/>
<path d="M158.6,832.6 C145.9,839.2 144.1,855.9 120.8,860.6 A20.0,20.0 0 0 1 112.8,821.4 C136.2,816.7 144.3,831.4 158.6,832.6 Z" fill="url(#gCy)" stroke="#22b4c4" stroke-width="0.6"/>
<path d="M158.6,832.6 C172.8,829.6 178.4,813.2 202.2,815.3 A21.0,21.0 0 0 1 198.6,857.1 C174.7,855.1 172.0,838.0 158.6,832.6 Z" fill="url(#gOr)" stroke="#d04812" stroke-width="0.6"/>
<path d="M158.6,832.6 C161.8,843.7 178.6,843.8 176.9,862.3 A21.0,21.0 0 0 1 135.1,858.3 C136.8,839.8 153.4,842.9 158.6,832.6 Z" fill="url(#gCy)" stroke="#22b4c4" stroke-width="0.6"/>
<circle cx="158.6" cy="832.6" r="5" fill="url(#gX)"/>
<path d="M350.5,827.4 C346.6,820.9 332.5,827.4 331.9,815.9 A18.0,18.0 0 0 1 367.9,814.1 C368.4,825.6 353.8,820.5 350.5,827.4 Z" fill="url(#gCy)" stroke="#22b4c4" stroke-width="0.6"/>
<line x1="255.7" y1="690.2" x2="303.1" y2="762.2" stroke="#f4d820" stroke-width="3.2"/>
<line x1="303.1" y1="762.2" x2="350.5" y2="827.4" stroke="#605aa0" stroke-width="3.2"/>
<path d="M350.5,827.4 C338.1,833.4 337.8,850.5 315.4,853.7 A21.0,21.0 0 0 1 309.3,812.2 C331.7,808.9 336.9,825.1 350.5,827.4 Z" fill="url(#gOr)" stroke="#d04812" stroke-width="0.6"/>
<path d="M350.5,827.4 C364.3,824.4 370.1,808.8 393.5,810.6 A20.0,20.0 0 0 1 390.5,850.4 C367.1,848.7 363.7,832.4 350.5,827.4 Z" fill="url(#gCy)" stroke="#22b4c4" stroke-width="0.6"/>
<path d="M350.5,827.4 C355.4,837.5 371.6,834.8 372.9,852.8 A20.5,20.5 0 0 1 332.0,855.9 C330.7,837.9 347.2,838.1 350.5,827.4 Z" fill="url(#gOr)" stroke="#d04812" stroke-width="0.6"/>
<circle cx="350.5" cy="827.4" r="5" fill="url(#gX)"/>
<circle cx="255.7" cy="690.2" r="15.6" fill="url(#gM)"/>
<linearGradient id="ga3" gradientUnits="userSpaceOnUse" x1="232" y1="691.5" x2="185.4" y2="636.8"><stop offset="0" stop-color="#f8103c"/><stop offset="0.45" stop-color="#d01a78"/><stop offset="0.8" stop-color="#8a22b0"/><stop offset="1" stop-color="#5028c8"/></linearGradient>
<path d="M233.1,690.6 L198.8,647.0 L206.0,646.2 L185.4,636.8 L191.4,658.6 L193.4,651.7 L230.9,692.4 Z" fill="url(#ga3)"/>
<linearGradient id="ga4" gradientUnits="userSpaceOnUse" x1="232" y1="701.9" x2="186.7" y2="772.2"><stop offset="0" stop-color="#f8103c"/><stop offset="0.45" stop-color="#d01a78"/><stop offset="0.8" stop-color="#8a22b0"/><stop offset="1" stop-color="#5028c8"/></linearGradient>
<path d="M230.8,701.1 L192.6,756.4 L189.7,749.8 L186.7,772.2 L205.9,760.2 L198.7,760.3 L233.2,702.7 Z" fill="url(#ga4)"/>
<text x="20" y="247.4" font-family="Liberation Serif, serif" font-size="29.5">Ionic</text>
<text x="178.5" y="247.4" font-family="Liberation Serif, serif" font-size="29.5" text-anchor="end">charge</text>
<text x="20.5" y="282.7" font-family="Liberation Serif, serif" font-size="29.5">transfer<tspan font-family="Liberation Serif, Noto Sans CJK SC, serif">，</tspan>ΔQ<tspan font-size="19" dy="6">I</tspan></text>
<text x="2" y="384.2" font-family="Liberation Serif, serif" font-size="29.5">Intralayer</text>
<text x="2" y="418.7" font-family="Liberation Serif, serif" font-size="29.5">σ-hopping</text>
<text x="39.3" y="679.2" font-family="Liberation Serif, serif" font-size="29.5">Ionic</text>
<text x="199" y="679.2" font-family="Liberation Serif, serif" font-size="29.5" text-anchor="end">charge</text>
<text x="39.8" y="714.2" font-family="Liberation Serif, serif" font-size="29.5">transfer<tspan font-family="Liberation Serif, Noto Sans CJK SC, serif">，</tspan>ΔQ<tspan font-size="19" dy="6">I</tspan></text>
<text x="107" y="584.5" font-family="Liberation Serif, serif" font-size="26" font-weight="bold" font-style="italic">X</text>
<text x="275" y="696.5" font-family="Liberation Serif, serif" font-size="26" font-weight="bold" font-style="italic">M</text>
<line x1="76.7" y1="904.2" x2="76.7" y2="866" stroke="#4a20f0" stroke-width="1.8"/><path d="M76.7,856 L72.3,868 L81.1,868 Z" fill="#4a20f0"/>
<line x1="76.7" y1="904.2" x2="38" y2="906.2" stroke="#e83040" stroke-width="1.8"/><path d="M29,906.7 L41,902 L41,911 Z" fill="#e83040"/>
<line x1="76.7" y1="904.2" x2="98" y2="914.5" stroke="#20a040" stroke-width="1.8"/><path d="M106.5,918.5 L93.5,917.5 L98,909 Z" fill="#20a040"/>
<text x="73.5" y="847" font-family="Liberation Sans, sans-serif" font-style="italic" font-size="22" stroke="#000" stroke-width="0.5">c</text>
<text x="13.5" y="912.4" font-family="Liberation Sans, sans-serif" font-style="italic" font-size="22" stroke="#000" stroke-width="0.5">a</text>
<text x="109" y="928.6" font-family="Liberation Sans, sans-serif" font-style="italic" font-size="22" stroke="#000" stroke-width="0.5">b</text></svg></body></html>
